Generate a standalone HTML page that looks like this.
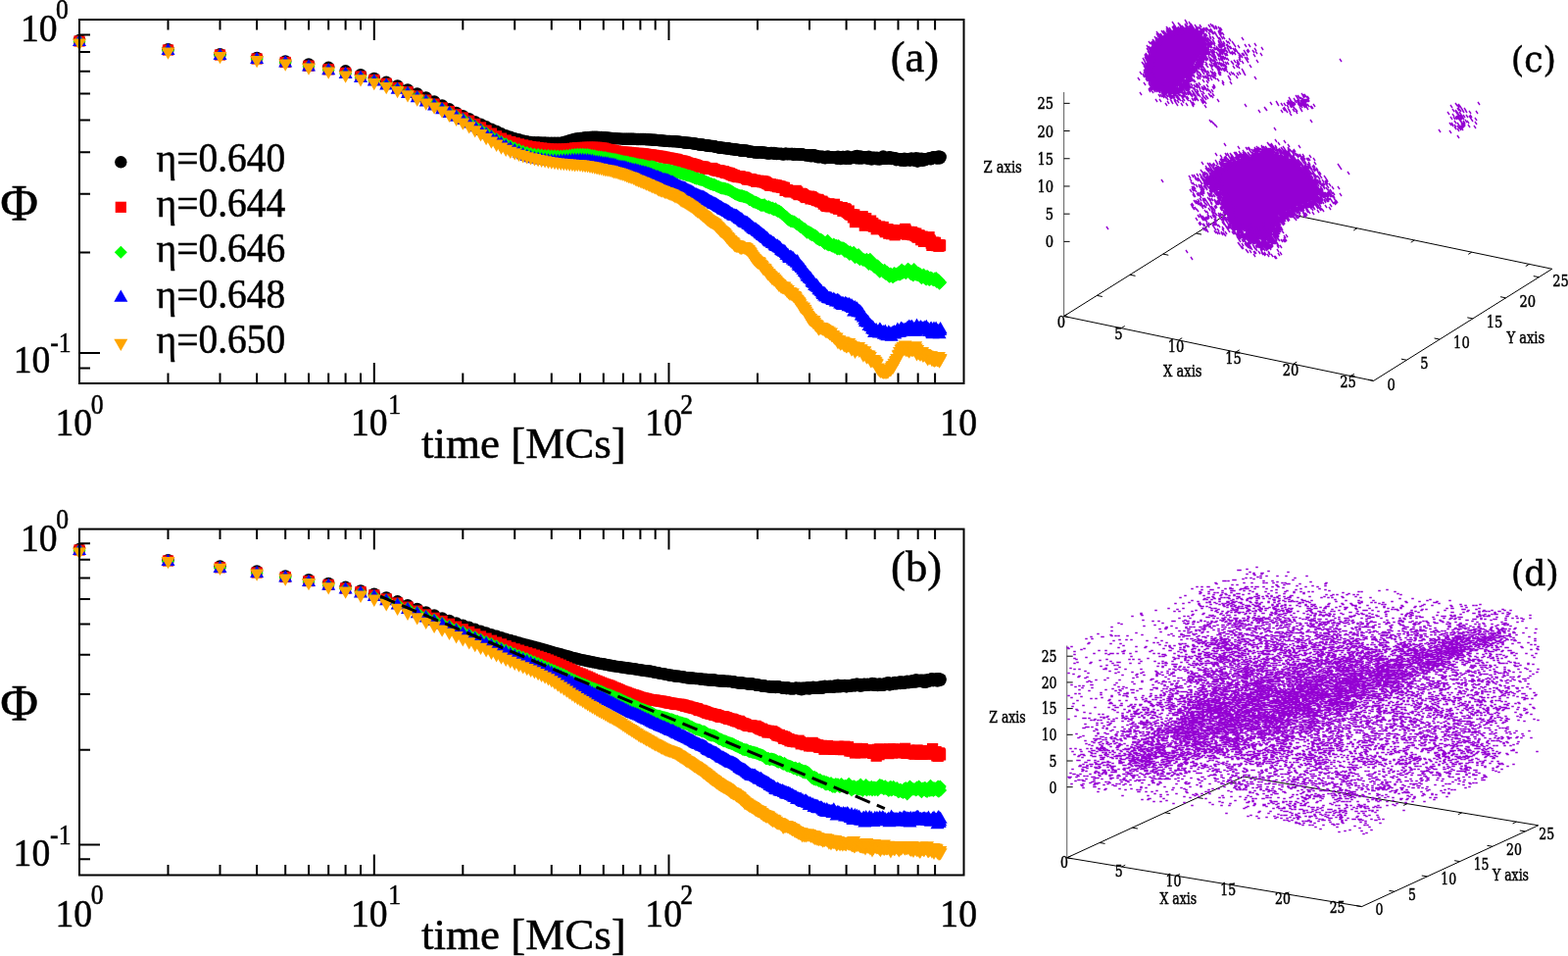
<!DOCTYPE html><html><head><meta charset="utf-8"><style>html,body{margin:0;padding:0;background:#fff;overflow:hidden}svg{display:block}text{stroke:#000;stroke-width:0.5px}</style></head><body>
<svg width="1600" height="975" viewBox="0 0 1600 975">
<rect width="1600" height="975" fill="#fff"/>
<defs><marker id="m0" markerUnits="userSpaceOnUse" markerWidth="16" markerHeight="16" refX="8" refY="8" overflow="visible"><circle cx="8" cy="8" r="6.2" fill="#000"/></marker><marker id="m1" markerUnits="userSpaceOnUse" markerWidth="16" markerHeight="16" refX="8" refY="8" overflow="visible"><rect x="2.4" y="2.4" width="11.2" height="11.2" fill="#ff0000"/></marker><marker id="m2" markerUnits="userSpaceOnUse" markerWidth="16" markerHeight="16" refX="8" refY="8" overflow="visible"><path d="M8 1.5l6.5 6.5l-6.5 6.5l-6.5-6.5z" fill="#00ff00"/></marker><marker id="m3" markerUnits="userSpaceOnUse" markerWidth="16" markerHeight="16" refX="8" refY="8" overflow="visible"><path d="M8 -0.2l7 12.3h-14z" fill="#0000ff"/></marker><marker id="m4" markerUnits="userSpaceOnUse" markerWidth="16" markerHeight="16" refX="8" refY="8" overflow="visible"><path d="M8 16.2l7-12.3h-14z" fill="#ffa500"/></marker></defs>
<polyline points="81,41 171.5,50.2 224.5,55.2 262.1,59 291.2,62.4 315,65.5 335.2,68.8 352.6,72.3 368,76.1 381.8,80 394.2,83.8 405.6,87.5 416,91.5 425.7,95.5 434.7,99.5 443.1,103.5 451.1,107.5 458.5,111.3 465.6,114.9 472.3,118.2 478.7,121.2 484.7,124.1 490.5,126.7 496.1,129.3 501.4,131.6 506.6,134 511.5,136.3 516.2,138.2 520.8,139.7 525.2,141.1 529.5,142.3 533.7,143.4 537.7,144.3 541.6,144.9 545.4,145.1 549.1,145.3 552.6,145.4 556.1,145.5 559.5,145.6 562.8,145.7 566,145.8 569.2,145.8 572.3,145.6 575.3,145 578.2,144.2 581.1,143.2 583.9,142.4 586.6,141.7 589.3,141.3 592,140.9 594.6,140.6 597.1,140.3 599.6,140.1 602,139.9 604.4,139.8 606.8,139.7 609.1,139.8 611.4,139.9 613.6,140 615.8,140.2 617.9,140.2 620.1,140.5 622.2,140.8 624.2,140.9 626.2,141.2 628.2,141.3 630.2,141.4 632.1,141.4 634,141.6 635.9,141.7 637.8,141.8 639.6,141.8 641.4,141.8 643.2,141.7 644.9,141.7 646.7,141.8 648.4,141.9 650,142 651.7,142 653.4,142 655,142 656.6,142 658.2,142 659.7,142.3 661.3,142.3 662.8,142.4 664.3,142.5 665.8,142.7 667.3,142.7 668.7,142.8 670.2,142.9 671.6,143.1 673,143.2 674.4,143.3 675.8,143.4 677.2,143.6 678.5,143.7 679.9,143.9 681.2,143.9 682.5,144 683.8,144 685.1,144.1 686.4,144.2 687.6,144.1 688.9,144.3 690.1,144.4 691.3,144.4 692.6,144.6 693.8,144.7 694.9,144.9 696.1,145.1 697.3,145.2 698.5,145.5 699.6,145.5 700.8,145.6 701.9,145.7 703,145.8 704.1,145.9 705.2,146 706.3,146.2 707.4,146.2 708.5,146.5 709.5,146.7 710.6,146.7 711.6,147 712.7,147.3 713.7,147.5 714.7,147.5 715.8,147.5 716.8,147.7 717.8,147.8 718.5,148 719.2,148.1 719.9,148.2 720.6,148.3 721.3,148.4 722,148.5 722.7,148.7 723.4,148.7 724.1,148.8 724.8,149 725.5,148.9 726.2,148.9 726.9,149.1 727.6,149 728.3,149.3 729,149.4 729.7,149.4 730.4,149.7 731.1,149.9 731.8,150.1 732.5,150.3 733.2,150.2 733.9,150.5 734.6,150.5 735.3,150.6 736,150.7 736.7,150.8 737.4,150.9 738.1,151 738.8,151 739.5,151 740.2,151.2 740.9,151.2 741.6,151.2 742.3,151.3 743,151.5 743.7,151.6 744.4,151.6 745.1,151.7 745.8,152.2 746.5,152.1 747.2,152 747.9,152.2 748.6,152.2 749.3,152.3 750,152.6 750.7,152.5 751.4,152.7 752.1,152.9 752.8,152.9 753.5,152.8 754.2,153.1 754.9,153.4 755.6,153.5 756.3,153.5 757,153.4 757.7,153.5 758.4,153.5 759.1,153.4 759.8,153.7 760.5,153.8 761.2,153.9 761.9,153.8 762.6,153.8 763.3,154.1 764,154.4 764.7,154.8 765.4,154.6 766.1,154.9 766.8,154.8 767.5,154.9 768.2,155 768.9,155.2 769.6,155.3 770.3,155.1 771,155.3 771.7,155.6 772.4,155.4 773.1,155.5 773.8,155.3 774.5,155.4 775.2,155.4 775.9,155.2 776.6,155.4 777.3,155.4 778,155.4 778.7,155.9 779.4,155.8 780.1,155.8 780.8,155.7 781.5,156.3 782.2,155.9 782.9,156.2 783.6,156.3 784.3,156.6 785,156.2 785.7,156.3 786.4,156 787.1,156.1 787.8,156 788.5,156.2 789.2,156.3 789.9,156 790.6,156.9 791.3,156.7 792,156.8 792.7,157 793.4,156.8 794.1,156.9 794.8,156.9 795.5,156.9 796.2,157.1 796.9,156.7 797.6,157 798.3,157.4 799,157.3 799.7,157.2 800.4,157.3 801.1,156.8 801.8,157 802.5,156.7 803.2,157.1 803.9,157.4 804.6,156.9 805.3,157.1 806,157 806.7,157.1 807.4,156.9 808.1,157 808.8,157 809.5,157.8 810.2,157.4 810.9,157 811.6,157.2 812.3,157.3 813,157.2 813.7,157.5 814.4,157.3 815.1,157.1 815.8,157.4 816.5,157.6 817.2,157.8 817.9,157.3 818.6,157.8 819.3,157.8 820,157.6 820.7,158 821.4,158.1 822.1,158.4 822.8,158.4 823.5,158.3 824.2,158.1 824.9,158.3 825.6,158.7 826.3,159 827,158.5 827.7,159.3 828.4,159 829.1,158.3 829.8,158.2 830.5,158.3 831.2,159.3 831.9,159.3 832.6,158.8 833.3,159.2 834,160.1 834.7,160.3 835.4,159.4 836.1,160.2 836.8,159.9 837.5,160 838.2,159.7 838.9,160.2 839.6,159.8 840.3,160.6 841,160.4 841.7,161.4 842.4,161 843.1,160.5 843.8,160.5 844.5,159.4 845.2,160.6 845.9,159.9 846.6,160.8 847.3,160.7 848,160.7 848.7,160.9 849.4,160.2 850.1,160.9 850.8,160.9 851.5,160.5 852.2,160.8 852.9,161.1 853.6,161 854.3,161.9 855,159.8 855.7,160.9 856.4,160.4 857.1,160.9 857.8,162.1 858.5,160.3 859.2,160.6 859.9,160 860.6,160 861.3,161.3 862,160.5 862.7,161.4 863.4,161.8 864.1,160.7 864.8,159.5 865.5,161.5 866.2,161.2 866.9,160.7 867.6,161.7 868.3,161.2 869,160.7 869.7,160.7 870.4,160.8 871.1,160.7 871.8,160.4 872.5,159.5 873.2,161.1 873.9,161.3 874.6,159 875.3,160.3 876,161 876.7,161.5 877.4,159.9 878.1,159.7 878.8,159.8 879.5,161.5 880.2,160.9 880.9,160.4 881.6,160.5 882.3,160.1 883,160.4 883.7,160.6 884.4,160.1 885.1,161.9 885.8,160.7 886.5,159.6 887.2,161.1 887.9,161.6 888.6,161.6 889.3,162.5 890,161.3 890.7,160.8 891.4,161.6 892.1,160.6 892.8,161.8 893.5,162.1 894.2,162.1 894.9,160.7 895.6,162.3 896.3,161.7 897,161.1 897.7,162.5 898.4,161.1 899.1,161.9 899.8,161.1 900.5,161.7 901.2,159.5 901.9,161.9 902.6,160.9 903.3,161.9 904,161.5 904.7,161.4 905.4,161.6 906.1,161.5 906.8,160.8 907.5,160.3 908.2,161.2 908.9,160.4 909.6,162 910.3,161.8 911,161.8 911.7,160.9 912.4,161.8 913.1,161.8 913.8,161.2 914.5,163.2 915.2,162.2 915.9,162.1 916.6,162.1 917.3,162.6 918,162.5 918.7,163.4 919.4,163.5 920.1,162.3 920.8,162.6 921.5,163 922.2,163.9 922.9,161.6 923.6,163.5 924.3,163.5 925,162.3 925.7,162.5 926.4,162.2 927.1,163.1 927.8,162.6 928.5,163.7 929.2,163 929.9,161.5 930.6,161.9 931.3,162.9 932,163.3 932.7,163.2 933.4,163.6 934.1,163.6 934.8,161.2 935.5,162.3 936.2,164.7 936.9,163.8 937.6,161.8 938.3,163.5 939,162.3 939.7,163.5 940.4,161.8 941.1,163.1 941.8,163.8 942.5,162.6 943.2,162.9 943.9,163 944.6,162.2 945.3,162.4 946,162 946.7,162 947.4,161.8 948.1,161.9 948.8,161.2 949.5,162.4 950.2,162 950.9,161 951.6,160.7 952.3,160.3 953,160.8 953.7,160.9 954.4,160.5 955.1,161.2 955.8,161.4 956.5,161.4 957.2,160.7 957.9,159.5 958.6,161.6 959.3,160.9 959.6,159.9" fill="none" stroke="none" marker-start="url(#m0)" marker-mid="url(#m0)" marker-end="url(#m0)"/>
<polyline points="81,42 171.5,51 224.5,56 262.1,60 291.2,63.5 315,67.2 335.2,70.8 352.6,74.4 368,78 381.8,81.5 394.2,85.3 405.6,89.5 416,93.7 425.7,98 434.7,102.1 443.1,106.1 451.1,109.9 458.5,113.5 465.6,116.8 472.3,120 478.7,123.2 484.7,126.5 490.5,129.9 496.1,133.1 501.4,136.1 506.6,138.8 511.5,141.1 516.2,143 520.8,144.5 525.2,145.8 529.5,146.9 533.7,147.9 537.7,148.8 541.6,149.5 545.4,150 549.1,150.5 552.6,151 556.1,151.4 559.5,151.8 562.8,152.1 566,152.1 569.2,152.2 572.3,152.3 575.3,152.1 578.2,151.9 581.1,151.7 583.9,151.4 586.6,151 589.3,150.7 592,150.6 594.6,150.4 597.1,150.4 599.6,150.3 602,150.3 604.4,150.3 606.8,150.3 609.1,150.3 611.4,150.7 613.6,150.9 615.8,151.1 617.9,151.8 620.1,152.4 622.2,152.8 624.2,153.1 626.2,153.5 628.2,154 630.2,154.4 632.1,154.8 634,154.9 635.9,155.1 637.8,155.3 639.6,155.3 641.4,155.4 643.2,155.7 644.9,156 646.7,156.1 648.4,156.5 650,156.4 651.7,156.4 653.4,156.5 655,156.7 656.6,156.9 658.2,157.2 659.7,157.4 661.3,157.9 662.8,157.9 664.3,158 665.8,158.3 667.3,158.4 668.7,158.9 670.2,159 671.6,159.2 673,159.3 674.4,159.5 675.8,159.8 677.2,160.2 678.5,160.3 679.9,160.8 681.2,161.1 682.5,161.2 683.8,161.3 685.1,161.7 686.4,162 687.6,162.3 688.9,162.3 690.1,162.5 691.3,163 692.6,163.5 693.8,164 694.9,164.1 696.1,164.1 697.3,164.5 698.5,164.9 699.6,165.1 700.8,165.9 701.9,166.1 703,166.6 704.1,166.6 705.2,167.1 706.3,167.2 707.4,167.7 708.5,168.2 709.5,168.1 710.6,168.7 711.6,169.1 712.7,169.5 713.7,169.8 714.7,170 715.8,170.2 716.8,170.2 717.8,170.1 718.5,170.5 719.2,171.2 719.9,171.3 720.6,171.8 721.3,172 722,172.1 722.7,172.2 723.4,172.3 724.1,171.9 724.8,171.8 725.5,171.9 726.2,171.5 726.9,172 727.6,172.3 728.3,172.6 729,172.9 729.7,173.2 730.4,173.6 731.1,173.7 731.8,173.6 732.5,173.9 733.2,174.1 733.9,174.1 734.6,174.3 735.3,174.3 736,175 736.7,174.8 737.4,174.7 738.1,174.7 738.8,175 739.5,175.6 740.2,176.2 740.9,175.9 741.6,176.6 742.3,176.4 743,176.3 743.7,176.8 744.4,176.7 745.1,177.2 745.8,177.9 746.5,177.9 747.2,178.1 747.9,178.8 748.6,179 749.3,178.8 750,179.4 750.7,179.7 751.4,179.7 752.1,179.8 752.8,180.3 753.5,180.6 754.2,179.9 754.9,179.9 755.6,180.2 756.3,180.6 757,180.6 757.7,180.5 758.4,180.6 759.1,180.8 759.8,181.4 760.5,181.2 761.2,181.8 761.9,182.4 762.6,183 763.3,182.6 764,182.7 764.7,182.7 765.4,182.5 766.1,182.9 766.8,183.4 767.5,183.2 768.2,183.6 768.9,183.8 769.6,183.7 770.3,184 771,184.3 771.7,185.2 772.4,185.4 773.1,184.8 773.8,184.3 774.5,184.6 775.2,184.8 775.9,184.7 776.6,184.5 777.3,184.9 778,185.8 778.7,184.9 779.4,185.6 780.1,185.2 780.8,186.3 781.5,186 782.2,186.9 782.9,187.1 783.6,187.6 784.3,187.8 785,188 785.7,189.2 786.4,187.8 787.1,188.7 787.8,188.6 788.5,188.2 789.2,188.7 789.9,189.1 790.6,188.7 791.3,189.8 792,189.1 792.7,189.1 793.4,190.5 794.1,190.6 794.8,189.8 795.5,190.5 796.2,190 796.9,190.7 797.6,191 798.3,191.3 799,191.4 799.7,191.4 800.4,191.4 801.1,194.4 801.8,193.9 802.5,193.8 803.2,193.6 803.9,194.3 804.6,195.1 805.3,194.8 806,195.8 806.7,195.5 807.4,195.3 808.1,195 808.8,195.2 809.5,195.3 810.2,195.5 810.9,195.2 811.6,195.7 812.3,194.4 813,197.1 813.7,195.8 814.4,197.7 815.1,198.6 815.8,197.7 816.5,198.4 817.2,197.3 817.9,197.6 818.6,197.9 819.3,198.6 820,199.3 820.7,199.4 821.4,200.7 822.1,200.1 822.8,201.5 823.5,201.2 824.2,200.6 824.9,201 825.6,200.2 826.3,200.5 827,202.9 827.7,200.6 828.4,201.3 829.1,202.3 829.8,202 830.5,203.4 831.2,203.4 831.9,203.2 832.6,203.6 833.3,204.3 834,204.6 834.7,203.4 835.4,204.1 836.1,205.1 836.8,205.5 837.5,205.9 838.2,205.4 838.9,205.3 839.6,206.3 840.3,208.1 841,207.1 841.7,207.7 842.4,209.7 843.1,208.6 843.8,210.5 844.5,208.9 845.2,209.2 845.9,207.8 846.6,210.6 847.3,208.5 848,210.7 848.7,209.3 849.4,210 850.1,209.8 850.8,209.5 851.5,208.3 852.2,211.2 852.9,212.1 853.6,211.3 854.3,210.8 855,212.1 855.7,213.3 856.4,211.7 857.1,212.2 857.8,212.5 858.5,213 859.2,211.6 859.9,215.3 860.6,213.8 861.3,213.6 862,212.8 862.7,213.1 863.4,213.7 864.1,216.2 864.8,216.2 865.5,217.3 866.2,215 866.9,218.6 867.6,218.6 868.3,219.1 869,218.8 869.7,219.1 870.4,221.9 871.1,219.7 871.8,218.9 872.5,226.6 873.2,221.5 873.9,223.8 874.6,224 875.3,222.8 876,223.5 876.7,224.8 877.4,223.6 878.1,223.8 878.8,223.3 879.5,222.3 880.2,220.7 880.9,225.8 881.6,225.8 882.3,230.2 883,228 883.7,222.6 884.4,226.9 885.1,227 885.8,227.7 886.5,229.3 887.2,229.4 887.9,229.4 888.6,225.1 889.3,228.9 890,230.1 890.7,227.5 891.4,231.2 892.1,229.2 892.8,230 893.5,229.7 894.2,233.8 894.9,233.3 895.6,232.8 896.3,233.1 897,233.4 897.7,231 898.4,233.4 899.1,232.7 899.8,232.9 900.5,232.3 901.2,231.5 901.9,234.2 902.6,235.2 903.3,236.7 904,235.7 904.7,236 905.4,233.8 906.1,233.9 906.8,238.2 907.5,236 908.2,235 908.9,235.4 909.6,238.7 910.3,234.5 911,235.4 911.7,236.9 912.4,236 913.1,239.8 913.8,236.8 914.5,238.6 915.2,236.1 915.9,236 916.6,237.1 917.3,235.7 918,237.8 918.7,237.3 919.4,236.8 920.1,234.7 920.8,235.6 921.5,237 922.2,238.3 922.9,235.8 923.6,233.4 924.3,235.1 925,238 925.7,239.2 926.4,237.5 927.1,236.4 927.8,238.2 928.5,238.1 929.2,237.4 929.9,239.2 930.6,236.5 931.3,239.7 932,238.5 932.7,237.9 933.4,239.6 934.1,240.6 934.8,238.1 935.5,241.2 936.2,242.1 936.9,241.8 937.6,239.9 938.3,240.2 939,241.8 939.7,244.7 940.4,242.3 941.1,241.1 941.8,243.9 942.5,246.4 943.2,242.5 943.9,243.6 944.6,243.5 945.3,243.6 946,242.7 946.7,244.4 947.4,243.8 948.1,241.7 948.8,244.6 949.5,245.8 950.2,248.2 950.9,250.4 951.6,248.7 952.3,247.2 953,248.4 953.7,247.4 954.4,247.4 955.1,250.3 955.8,250.6 956.5,249.7 957.2,250.2 957.9,251.3 958.6,249.7 959.3,250.6 959.6,250.1" fill="none" stroke="none" marker-start="url(#m1)" marker-mid="url(#m1)" marker-end="url(#m1)"/>
<polyline points="81,42.5 171.5,51.5 224.5,56.5 262.1,60.5 291.2,64 315,67.8 335.2,71.5 352.6,75.2 368,78.9 381.8,82.5 394.2,86.4 405.6,90.5 416,94.7 425.7,99 434.7,103.1 443.1,107.1 451.1,111 458.5,114.7 465.6,118.2 472.3,121.5 478.7,124.9 484.7,128.4 490.5,132 496.1,135.4 501.4,138.7 506.6,141.7 511.5,144.4 516.2,146.8 520.8,148.8 525.2,150.8 529.5,152.6 533.7,154.2 537.7,155.6 541.6,156.6 545.4,157.2 549.1,157.6 552.6,158 556.1,158.4 559.5,158.6 562.8,158.8 566,158.8 569.2,159.1 572.3,159.1 575.3,158.8 578.2,158.5 581.1,158.2 583.9,157.8 586.6,157.6 589.3,157.3 592,157.2 594.6,157.2 597.1,157.4 599.6,157.6 602,158 604.4,158.6 606.8,158.8 609.1,159.4 611.4,159.7 613.6,160 615.8,160.4 617.9,160.6 620.1,161.2 622.2,161.4 624.2,161.9 626.2,162.2 628.2,162.5 630.2,162.9 632.1,163.6 634,163.9 635.9,164.4 637.8,164.8 639.6,165.1 641.4,165.4 643.2,166.1 644.9,166.3 646.7,166.4 648.4,167.1 650,167.5 651.7,167.8 653.4,168 655,168.3 656.6,168.6 658.2,169.1 659.7,169.3 661.3,169.7 662.8,169.9 664.3,169.8 665.8,169.8 667.3,170.2 668.7,170.7 670.2,171.4 671.6,171.9 673,172.2 674.4,172.3 675.8,172.7 677.2,173.1 678.5,173.3 679.9,173.2 681.2,173.4 682.5,173.4 683.8,173.8 685.1,174.4 686.4,174.6 687.6,174.9 688.9,175.1 690.1,175.6 691.3,175.9 692.6,176.1 693.8,176.4 694.9,177 696.1,177.3 697.3,177.7 698.5,177.7 699.6,178.3 700.8,178.8 701.9,178.9 703,179.3 704.1,179.5 705.2,180.1 706.3,180.4 707.4,180.6 708.5,181.5 709.5,181.8 710.6,182.2 711.6,182.1 712.7,182.4 713.7,182.9 714.7,183.2 715.8,183.5 716.8,183.6 717.8,184 718.5,184.6 719.2,184.9 719.9,185.3 720.6,185.5 721.3,185.9 722,186.1 722.7,186.4 723.4,186.6 724.1,187.3 724.8,187.5 725.5,187.5 726.2,187.8 726.9,188 727.6,188.4 728.3,188.3 729,188.5 729.7,188.8 730.4,189.2 731.1,189.7 731.8,190 732.5,190.3 733.2,190.3 733.9,190.7 734.6,191.3 735.3,191.5 736,191.7 736.7,191.9 737.4,192 738.1,192 738.8,192.2 739.5,192.3 740.2,192.4 740.9,193 741.6,193.1 742.3,192.9 743,193.5 743.7,193.8 744.4,194.1 745.1,194.6 745.8,194.9 746.5,195 747.2,196.1 747.9,196.1 748.6,196.5 749.3,197.2 750,197.4 750.7,198 751.4,198 752.1,198.4 752.8,198.7 753.5,198.9 754.2,199.4 754.9,199.5 755.6,199.7 756.3,200.1 757,199.6 757.7,199.9 758.4,200.5 759.1,200.3 759.8,200.8 760.5,201 761.2,201 761.9,201.2 762.6,201.7 763.3,202.1 764,202.6 764.7,203.7 765.4,203.4 766.1,203.7 766.8,203.9 767.5,204.9 768.2,204.8 768.9,206 769.6,206 770.3,206 771,206.5 771.7,206.3 772.4,207.1 773.1,207.6 773.8,207.5 774.5,208 775.2,208.3 775.9,209.1 776.6,209.4 777.3,208.9 778,209.4 778.7,209.3 779.4,208.9 780.1,208.7 780.8,210.2 781.5,210.2 782.2,211.1 782.9,211.1 783.6,211.2 784.3,210.5 785,212.2 785.7,211.7 786.4,211.8 787.1,212.3 787.8,212.8 788.5,212.1 789.2,213.8 789.9,213.4 790.6,213.5 791.3,212.8 792,214.3 792.7,214.6 793.4,215.5 794.1,215 794.8,215 795.5,215.5 796.2,216.8 796.9,216.3 797.6,217.6 798.3,218.6 799,218.8 799.7,219.3 800.4,220.2 801.1,220.6 801.8,221.5 802.5,221.1 803.2,223.1 803.9,223.4 804.6,224.3 805.3,224.1 806,224.5 806.7,225.4 807.4,225.4 808.1,225.6 808.8,226.1 809.5,226 810.2,226 810.9,226.5 811.6,227.3 812.3,227.8 813,228.5 813.7,228.8 814.4,229.3 815.1,228.7 815.8,230.3 816.5,231.2 817.2,231.5 817.9,231.4 818.6,231.9 819.3,233.2 820,233.4 820.7,233.9 821.4,233.4 822.1,235.1 822.8,235.5 823.5,237.2 824.2,236.8 824.9,236.5 825.6,236.6 826.3,237.6 827,238.9 827.7,237.6 828.4,239.7 829.1,239.7 829.8,238.9 830.5,240.2 831.2,240.5 831.9,239.9 832.6,240.9 833.3,243.2 834,241.7 834.7,243.4 835.4,243.9 836.1,244.8 836.8,244.7 837.5,243.9 838.2,245 838.9,244.9 839.6,245.4 840.3,246.6 841,247.8 841.7,248.5 842.4,247.5 843.1,247.2 843.8,249 844.5,245.3 845.2,250.1 845.9,247.4 846.6,249.7 847.3,249.1 848,250.3 848.7,250.8 849.4,251.2 850.1,250.6 850.8,249.1 851.5,252.3 852.2,251.4 852.9,250.7 853.6,250.3 854.3,254 855,253.2 855.7,250.6 856.4,254.1 857.1,252.2 857.8,253.5 858.5,252.8 859.2,253.3 859.9,252.7 860.6,253.1 861.3,253.4 862,256.6 862.7,253.9 863.4,256.2 864.1,256.5 864.8,256.1 865.5,256.6 866.2,257.9 866.9,259.4 867.6,256.8 868.3,258.6 869,258.3 869.7,259.2 870.4,258.9 871.1,257.3 871.8,261.1 872.5,262.8 873.2,259.7 873.9,261 874.6,261.1 875.3,262.8 876,259.6 876.7,263.3 877.4,264.7 878.1,262.9 878.8,263.4 879.5,264.2 880.2,264.5 880.9,265.6 881.6,264.8 882.3,265.1 883,266.1 883.7,265.8 884.4,264.3 885.1,266.2 885.8,266.6 886.5,269.6 887.2,265.1 887.9,264.2 888.6,269.5 889.3,267.7 890,269 890.7,269.4 891.4,271.2 892.1,272.6 892.8,271 893.5,271.4 894.2,272.4 894.9,270.5 895.6,272 896.3,271.7 897,273.3 897.7,277.2 898.4,276.1 899.1,275.6 899.8,275.3 900.5,275.6 901.2,277.4 901.9,277.8 902.6,275.3 903.3,279.1 904,279.5 904.7,279 905.4,277.5 906.1,279.1 906.8,280.3 907.5,282.3 908.2,281.7 908.9,279.1 909.6,280.4 910.3,281.1 911,282.7 911.7,282.2 912.4,278.6 913.1,281.3 913.8,279.1 914.5,280.5 915.2,280.1 915.9,279.9 916.6,278 917.3,280.1 918,277.4 918.7,280.1 919.4,278.3 920.1,274.9 920.8,278.2 921.5,278.2 922.2,276.7 922.9,277.5 923.6,277.6 924.3,278.8 925,276.8 925.7,276.5 926.4,274.3 927.1,274.8 927.8,276.3 928.5,275.9 929.2,279.5 929.9,279.6 930.6,277.6 931.3,280.4 932,280.9 932.7,274.5 933.4,278.4 934.1,279 934.8,280.3 935.5,279.4 936.2,280.7 936.9,279.7 937.6,278.4 938.3,280.6 939,279.5 939.7,282.4 940.4,283.7 941.1,281.3 941.8,281.1 942.5,280.1 943.2,283.2 943.9,283.6 944.6,284.7 945.3,285.1 946,281.6 946.7,282.1 947.4,283.1 948.1,285.5 948.8,285.2 949.5,282.9 950.2,283.4 950.9,283.4 951.6,284.9 952.3,285.7 953,285.4 953.7,283.9 954.4,285.3 955.1,283.6 955.8,287.4 956.5,286.5 957.2,286.1 957.9,285.7 958.6,289.2 959.3,288.1 959.6,288" fill="none" stroke="none" marker-start="url(#m2)" marker-mid="url(#m2)" marker-end="url(#m2)"/>
<polyline points="81,43 171.5,52 224.5,57 262.1,61 291.2,64.5 315,68.4 335.2,72.2 352.6,76 368,79.8 381.8,83.5 394.2,87.4 405.6,91.6 416,95.8 425.7,100.1 434.7,104.3 443.1,108.3 451.1,112.2 458.5,116 465.6,119.6 472.3,123 478.7,126.5 484.7,130.1 490.5,133.8 496.1,137.4 501.4,140.8 506.6,144 511.5,146.9 516.2,149.6 520.8,151.9 525.2,154.1 529.5,156.3 533.7,158.2 537.7,159.9 541.6,161.2 545.4,162.1 549.1,162.7 552.6,163.4 556.1,163.9 559.5,164.4 562.8,164.7 566,164.8 569.2,164.9 572.3,164.7 575.3,164.5 578.2,164.5 581.1,164.2 583.9,164 586.6,164 589.3,163.9 592,163.8 594.6,163.9 597.1,164.2 599.6,164.3 602,164.7 604.4,165 606.8,165.6 609.1,165.9 611.4,166.3 613.6,166.8 615.8,167.1 617.9,167.3 620.1,167.5 622.2,168.2 624.2,168.4 626.2,168.7 628.2,169.2 630.2,170.1 632.1,170.7 634,170.9 635.9,171.2 637.8,171.5 639.6,172.2 641.4,172.6 643.2,173.1 644.9,173.7 646.7,174.1 648.4,174.3 650,174.8 651.7,175.1 653.4,175.7 655,176.2 656.6,176.5 658.2,176.9 659.7,177.2 661.3,177.9 662.8,178.3 664.3,178.9 665.8,179.5 667.3,180.1 668.7,180.6 670.2,181.2 671.6,181.4 673,182.1 674.4,182.7 675.8,183.5 677.2,183.9 678.5,184.3 679.9,184.3 681.2,184.8 682.5,185.5 683.8,186 685.1,186.4 686.4,186.8 687.6,187.6 688.9,188.1 690.1,189.3 691.3,189.6 692.6,190.4 693.8,191 694.9,191.5 696.1,191.9 697.3,192.4 698.5,192.7 699.6,193.3 700.8,194.1 701.9,194.7 703,195.2 704.1,195.7 705.2,196.2 706.3,197 707.4,197.5 708.5,198.5 709.5,199.3 710.6,199.3 711.6,200 712.7,200.3 713.7,200.8 714.7,201.1 715.8,201.4 716.8,201.6 717.8,202 718.5,202.4 719.2,203.2 719.9,203.4 720.6,203.7 721.3,204.2 722,204.8 722.7,205.2 723.4,205.6 724.1,206.3 724.8,206.6 725.5,206.8 726.2,207.2 726.9,207.5 727.6,208.3 728.3,208.4 729,208.4 729.7,208.9 730.4,209.1 731.1,209.7 731.8,209.9 732.5,210.6 733.2,210.9 733.9,211.7 734.6,211.9 735.3,212.1 736,212.6 736.7,212.9 737.4,213.9 738.1,214.3 738.8,214.4 739.5,214.9 740.2,215.1 740.9,215.3 741.6,215.8 742.3,216.3 743,216.8 743.7,216.8 744.4,218 745.1,218.1 745.8,218.8 746.5,219.1 747.2,219.2 747.9,220.1 748.6,220.4 749.3,220.5 750,221 750.7,220.9 751.4,221 752.1,221.4 752.8,222.2 753.5,222.4 754.2,223.1 754.9,223.8 755.6,224.1 756.3,224.4 757,224.7 757.7,225.6 758.4,226.5 759.1,227.2 759.8,227.4 760.5,227.5 761.2,228.2 761.9,227.9 762.6,228.3 763.3,229.5 764,229.7 764.7,229.9 765.4,230.6 766.1,231.5 766.8,232.1 767.5,232.5 768.2,233.3 768.9,233.9 769.6,234.4 770.3,234.8 771,234.4 771.7,235.1 772.4,235.9 773.1,236.6 773.8,236.7 774.5,237.3 775.2,238.1 775.9,239.1 776.6,239 777.3,240 778,241 778.7,240.4 779.4,241.4 780.1,241.8 780.8,242.9 781.5,243.1 782.2,243.7 782.9,244 783.6,245 784.3,245.9 785,246.6 785.7,247.2 786.4,247.1 787.1,247.4 787.8,248.7 788.5,248.7 789.2,249 789.9,249.3 790.6,250.7 791.3,251.3 792,251.4 792.7,252 793.4,251.4 794.1,252.6 794.8,253.2 795.5,253.2 796.2,254 796.9,255.3 797.6,255.9 798.3,256.7 799,256.4 799.7,257.5 800.4,257.3 801.1,257.8 801.8,259 802.5,260.6 803.2,260.6 803.9,260.8 804.6,262.5 805.3,263.8 806,263 806.7,262.7 807.4,263.2 808.1,263.6 808.8,265.3 809.5,264.3 810.2,266.4 810.9,266.9 811.6,266.8 812.3,267.7 813,268.7 813.7,267.3 814.4,270.4 815.1,271.9 815.8,271.9 816.5,272 817.2,273 817.9,273.8 818.6,274.2 819.3,275.7 820,275.8 820.7,277.7 821.4,278 822.1,278.9 822.8,280.4 823.5,282.5 824.2,281.8 824.9,282.8 825.6,284.2 826.3,284.3 827,284.7 827.7,285.7 828.4,287.6 829.1,288.8 829.8,288.3 830.5,289.6 831.2,292 831.9,291.2 832.6,292.6 833.3,291.8 834,293.3 834.7,293.7 835.4,295.7 836.1,296.5 836.8,296.2 837.5,297.4 838.2,297.9 838.9,299.5 839.6,301 840.3,299.7 841,302.5 841.7,300.3 842.4,303.3 843.1,302.7 843.8,302.8 844.5,304.4 845.2,304.9 845.9,305.2 846.6,304.9 847.3,305.1 848,305.1 848.7,305.7 849.4,306.9 850.1,307 850.8,305.6 851.5,306.8 852.2,307.1 852.9,308.4 853.6,307.6 854.3,306.9 855,306.9 855.7,308.5 856.4,308.1 857.1,310.3 857.8,309.3 858.5,311.1 859.2,310 859.9,311.9 860.6,310.2 861.3,311.8 862,311.1 862.7,309.9 863.4,310.6 864.1,311.4 864.8,311.2 865.5,313.1 866.2,311 866.9,311.7 867.6,312.8 868.3,313.9 869,312.3 869.7,315 870.4,313.7 871.1,318.4 871.8,314.6 872.5,314.2 873.2,316.9 873.9,315.8 874.6,315.5 875.3,319.1 876,318.3 876.7,318 877.4,318.4 878.1,319.3 878.8,322.4 879.5,320.5 880.2,322.6 880.9,324.3 881.6,323.9 882.3,326.8 883,328.8 883.7,327.1 884.4,328.2 885.1,329.3 885.8,329.3 886.5,332.9 887.2,332.9 887.9,332.1 888.6,333.6 889.3,333.8 890,336.1 890.7,334.5 891.4,336.8 892.1,339.9 892.8,337.2 893.5,338.1 894.2,337.3 894.9,339.4 895.6,339.4 896.3,339.6 897,340.4 897.7,336.6 898.4,337.1 899.1,339.1 899.8,339.7 900.5,340.2 901.2,339.2 901.9,341.7 902.6,340.3 903.3,338.6 904,342.5 904.7,342 905.4,343.1 906.1,341.1 906.8,339.5 907.5,340.7 908.2,342.6 908.9,340.9 909.6,343.6 910.3,340.4 911,340.4 911.7,340.3 912.4,339.1 913.1,341.3 913.8,340.1 914.5,339 915.2,339.3 915.9,336.7 916.6,339.9 917.3,339.9 918,338.4 918.7,339.3 919.4,335.6 920.1,337.7 920.8,336.3 921.5,338.4 922.2,338.3 922.9,337.3 923.6,336.9 924.3,337.7 925,336.5 925.7,335.5 926.4,335.2 927.1,334.6 927.8,333.6 928.5,336.5 929.2,334.2 929.9,336.8 930.6,333.9 931.3,337.3 932,335.9 932.7,338.3 933.4,336.4 934.1,336 934.8,338.7 935.5,332.8 936.2,335.3 936.9,335.2 937.6,335.7 938.3,335.2 939,337.5 939.7,334.2 940.4,335.9 941.1,335.8 941.8,336.3 942.5,337.3 943.2,334.7 943.9,336.6 944.6,335.4 945.3,333.9 946,336.2 946.7,337 947.4,336.5 948.1,338.8 948.8,338.4 949.5,336.1 950.2,335.7 950.9,340.2 951.6,341.2 952.3,336.6 953,335.8 953.7,340.6 954.4,337.8 955.1,335.6 955.8,337.5 956.5,338.6 957.2,339.1 957.9,338.2 958.6,341.2 959.3,337.7 959.6,336.1" fill="none" stroke="none" marker-start="url(#m3)" marker-mid="url(#m3)" marker-end="url(#m3)"/>
<polyline points="81,43.5 171.5,52.5 224.5,57 262.1,61 291.2,64.6 315,68.6 335.2,72.6 352.6,76.5 368,80.3 381.8,84 394.2,88 405.6,92.1 416,96.3 425.7,100.5 434.7,104.5 443.1,108.5 451.1,112.6 458.5,116.7 465.6,120.7 472.3,124.5 478.7,128.3 484.7,132.3 490.5,136.2 496.1,140 501.4,143.5 506.6,146.7 511.5,149.5 516.2,151.9 520.8,153.8 525.2,155.4 529.5,156.9 533.7,158.2 537.7,159.3 541.6,160.3 545.4,161.2 549.1,162 552.6,162.7 556.1,163.4 559.5,164.1 562.8,164.6 566,165 569.2,165.5 572.3,165.8 575.3,166.1 578.2,166.3 581.1,166.7 583.9,166.9 586.6,167.2 589.3,167.1 592,167.4 594.6,167.7 597.1,168 599.6,168.4 602,168.9 604.4,169.4 606.8,169.7 609.1,170.3 611.4,170.8 613.6,171.1 615.8,171.8 617.9,172.2 620.1,172.6 622.2,172.9 624.2,173.4 626.2,174.2 628.2,174.5 630.2,175.1 632.1,175.7 634,176.4 635.9,176.9 637.8,177.6 639.6,178.4 641.4,179.1 643.2,179.6 644.9,180.1 646.7,180.9 648.4,181.9 650,182.6 651.7,183.2 653.4,183.9 655,184.5 656.6,185 658.2,185.8 659.7,186.6 661.3,187.1 662.8,187.9 664.3,188.6 665.8,189.2 667.3,189.9 668.7,190.4 670.2,191.1 671.6,192 673,192.7 674.4,193.2 675.8,193.6 677.2,194 678.5,194.8 679.9,195.1 681.2,195.6 682.5,196 683.8,196.6 685.1,197.2 686.4,197.6 687.6,198.3 688.9,199.2 690.1,199.6 691.3,200 692.6,200.9 693.8,201.9 694.9,203 696.1,203.9 697.3,204.2 698.5,204.9 699.6,205.6 700.8,206.2 701.9,207.1 703,207.8 704.1,208.5 705.2,209.4 706.3,209.9 707.4,210.8 708.5,211.6 709.5,212.8 710.6,213.4 711.6,214.5 712.7,214.7 713.7,215.4 714.7,216.5 715.8,217.4 716.8,218.3 717.8,219.1 718.5,219.5 719.2,220 719.9,220.7 720.6,221.4 721.3,222.4 722,222.9 722.7,223.1 723.4,223.9 724.1,224.2 724.8,224.5 725.5,225.3 726.2,225.3 726.9,225.8 727.6,226.3 728.3,226.8 729,227 729.7,227.6 730.4,228.7 731.1,229.6 731.8,230.3 732.5,230.9 733.2,231.6 733.9,232.3 734.6,233.3 735.3,234.2 736,234.5 736.7,235 737.4,235.6 738.1,236.2 738.8,236.8 739.5,237.4 740.2,238.5 740.9,239.3 741.6,240.5 742.3,241.2 743,241.8 743.7,242.6 744.4,243.8 745.1,244.2 745.8,244.8 746.5,245.5 747.2,246.3 747.9,246.4 748.6,247.3 749.3,248.7 750,249.2 750.7,249.3 751.4,249.7 752.1,249.7 752.8,249.8 753.5,249.9 754.2,250.3 754.9,251.2 755.6,251.5 756.3,251.9 757,251.9 757.7,251.1 758.4,251 759.1,251.2 759.8,251.6 760.5,251.8 761.2,252.4 761.9,252.7 762.6,253.6 763.3,254.1 764,254.7 764.7,255.9 765.4,256.7 766.1,257.7 766.8,259.1 767.5,260.4 768.2,261.3 768.9,261.9 769.6,263 770.3,263.7 771,264.4 771.7,265 772.4,265.8 773.1,266.5 773.8,266.9 774.5,266.3 775.2,267.3 775.9,268.9 776.6,269.6 777.3,270.2 778,271.4 778.7,272.9 779.4,272.9 780.1,273.3 780.8,273.5 781.5,274.9 782.2,276.4 782.9,276.7 783.6,278.2 784.3,278.4 785,278.8 785.7,280.1 786.4,280.7 787.1,281.3 787.8,282.8 788.5,282.9 789.2,282.4 789.9,284.2 790.6,283.9 791.3,285.3 792,285.8 792.7,287 793.4,287.5 794.1,288.4 794.8,289.9 795.5,289 796.2,290.4 796.9,291.3 797.6,291.4 798.3,292.1 799,291.8 799.7,292.3 800.4,291.7 801.1,293.6 801.8,293.6 802.5,294.6 803.2,296 803.9,295 804.6,297.4 805.3,297.1 806,298.7 806.7,297.4 807.4,298.6 808.1,299.2 808.8,298.4 809.5,300.5 810.2,301.1 810.9,301.2 811.6,302 812.3,303.6 813,305.1 813.7,304.8 814.4,306.4 815.1,307.3 815.8,307.8 816.5,309.4 817.2,311.7 817.9,311.7 818.6,313.1 819.3,312.8 820,312.8 820.7,314.8 821.4,315.2 822.1,316.9 822.8,318.7 823.5,319.2 824.2,321 824.9,322.2 825.6,323 826.3,324.9 827,324.2 827.7,325.6 828.4,325.9 829.1,326.1 829.8,327.9 830.5,326.1 831.2,328.3 831.9,329.8 832.6,330.7 833.3,330.6 834,331.3 834.7,332.5 835.4,334.5 836.1,333.4 836.8,333.5 837.5,333.1 838.2,333.7 838.9,333.6 839.6,334.6 840.3,334.4 841,335 841.7,335.2 842.4,336.9 843.1,336.3 843.8,337.1 844.5,336.5 845.2,338 845.9,337.6 846.6,339.2 847.3,339.2 848,338.5 848.7,341 849.4,341 850.1,341.3 850.8,342.6 851.5,343.2 852.2,344.2 852.9,344.1 853.6,343.7 854.3,345.8 855,348.2 855.7,346.7 856.4,346.4 857.1,348.7 857.8,349.7 858.5,348.6 859.2,348.8 859.9,347.5 860.6,347.8 861.3,351.4 862,348.6 862.7,351.1 863.4,352.3 864.1,352.4 864.8,350.4 865.5,351.3 866.2,349.2 866.9,351.6 867.6,350.8 868.3,352.2 869,355.5 869.7,354.5 870.4,352.5 871.1,352.8 871.8,354.8 872.5,357.9 873.2,355 873.9,354.4 874.6,355.6 875.3,354.2 876,353 876.7,356.8 877.4,355.5 878.1,355.5 878.8,355.6 879.5,357.2 880.2,357.9 880.9,361.6 881.6,358.1 882.3,357.4 883,359.9 883.7,361 884.4,363.5 885.1,361.6 885.8,362.8 886.5,361.7 887.2,362.8 887.9,363 888.6,367.3 889.3,366 890,367.2 890.7,366.1 891.4,367.1 892.1,366.4 892.8,367.8 893.5,368.3 894.2,369.8 894.9,370.6 895.6,374.5 896.3,375.6 897,376 897.7,376.6 898.4,377.7 899.1,377.3 899.8,377.3 900.5,378.3 901.2,378.3 901.9,378.7 902.6,378.4 903.3,375.8 904,379 904.7,377.5 905.4,378.4 906.1,378.3 906.8,376.2 907.5,376.3 908.2,376.1 908.9,376.3 909.6,374.3 910.3,372.7 911,374 911.7,372.2 912.4,370 913.1,369.9 913.8,367.9 914.5,367 915.2,365.1 915.9,365.2 916.6,361.6 917.3,360.8 918,358 918.7,358.6 919.4,355.9 920.1,354.5 920.8,355.6 921.5,353.2 922.2,355 922.9,354.3 923.6,351.6 924.3,356.1 925,353.2 925.7,355.5 926.4,356.5 927.1,355.2 927.8,357.5 928.5,354.9 929.2,354.9 929.9,355.5 930.6,356.1 931.3,355.7 932,355.2 932.7,355.5 933.4,354.8 934.1,352.4 934.8,354.7 935.5,360.2 936.2,356 936.9,358.7 937.6,358.7 938.3,359.8 939,360.8 939.7,358.7 940.4,358.3 941.1,358.4 941.8,361.8 942.5,361.2 943.2,360 943.9,360.9 944.6,361.2 945.3,363.1 946,361.9 946.7,365.4 947.4,362.9 948.1,362.9 948.8,364.2 949.5,362.3 950.2,362.7 950.9,366.1 951.6,364.2 952.3,366.1 953,366.4 953.7,366.9 954.4,366.1 955.1,365.9 955.8,364.9 956.5,366.4 957.2,366.3 957.9,363 958.6,367.5 959.3,366.1 959.6,365.1" fill="none" stroke="none" marker-start="url(#m4)" marker-mid="url(#m4)" marker-end="url(#m4)"/>
<rect x="81.0" y="20.0" width="902.5" height="371.0" fill="none" stroke="#000" stroke-width="2"/>
<path d="M171.5 391.0v-10.5M171.5 20.0v10.5M224.5 391.0v-10.5M224.5 20.0v10.5M262.1 391.0v-10.5M262.1 20.0v10.5M291.2 391.0v-10.5M291.2 20.0v10.5M315.0 391.0v-10.5M315.0 20.0v10.5M335.2 391.0v-10.5M335.2 20.0v10.5M352.6 391.0v-10.5M352.6 20.0v10.5M368.0 391.0v-10.5M368.0 20.0v10.5M381.8 391.0v-21M381.8 20.0v21M472.3 391.0v-10.5M472.3 20.0v10.5M525.2 391.0v-10.5M525.2 20.0v10.5M562.8 391.0v-10.5M562.8 20.0v10.5M592.0 391.0v-10.5M592.0 20.0v10.5M615.8 391.0v-10.5M615.8 20.0v10.5M635.9 391.0v-10.5M635.9 20.0v10.5M653.4 391.0v-10.5M653.4 20.0v10.5M668.7 391.0v-10.5M668.7 20.0v10.5M682.5 391.0v-21M682.5 20.0v21M773.0 391.0v-10.5M773.0 20.0v10.5M826.0 391.0v-10.5M826.0 20.0v10.5M863.6 391.0v-10.5M863.6 20.0v10.5M892.7 391.0v-10.5M892.7 20.0v10.5M916.5 391.0v-10.5M916.5 20.0v10.5M936.7 391.0v-10.5M936.7 20.0v10.5M954.1 391.0v-10.5M954.1 20.0v10.5M81.0 35.6h11M81.0 52.9h11M81.0 72.7h11M81.0 95.4h11M81.0 122.4h11M81.0 155.3h11M81.0 197.8h11M81.0 257.6h11M81.0 360.0h21M81.0 375.6h11" stroke="#000" stroke-width="2" fill="none"/>
<text font-family="'Liberation Serif', serif" font-size="40.5" transform="translate(20.9 41.8) scale(0.93 1)">10</text>
<text font-family="'Liberation Serif', serif" font-size="28.5" transform="translate(57.0 18.9) scale(0.9 1)">0</text>
<text font-family="'Liberation Serif', serif" font-size="40.5" transform="translate(13.7 380.0) scale(0.93 1)">10</text>
<text font-family="'Liberation Serif', serif" font-size="28.5" transform="translate(51.3 358.7) scale(0.9 1)">-1</text>
<text font-family="'Liberation Serif', serif" font-size="40.5" transform="translate(56.5 444.2) scale(0.93 1)">10</text>
<text font-family="'Liberation Serif', serif" font-size="28.5" transform="translate(92.8 421.9) scale(0.9 1)">0</text>
<text font-family="'Liberation Serif', serif" font-size="40.5" transform="translate(357.9 444.2) scale(0.93 1)">10</text>
<text font-family="'Liberation Serif', serif" font-size="28.5" transform="translate(396.3 421.9) scale(0.9 1)">1</text>
<text font-family="'Liberation Serif', serif" font-size="40.5" transform="translate(658.3 444.2) scale(0.93 1)">10</text>
<text font-family="'Liberation Serif', serif" font-size="28.5" transform="translate(694.2 421.9) scale(0.9 1)">2</text>
<text font-family="'Liberation Serif', serif" font-size="40.5" transform="translate(959.3 444.2) scale(0.93 1)">10</text>
<text font-family="'Liberation Serif', serif" font-size="45" x="430" y="467.0">time [MCs]</text>
<text font-family="'Liberation Serif', serif" font-size="53" x="0.3" y="224.8">Φ</text>
<text font-family="'Liberation Serif', serif" font-size="44.5" x="908.8" y="73.2">(a)</text>
<polyline points="123.3,165.3 123.3,165.3" fill="none" stroke="none" marker-start="url(#m0)"/>
<text font-family="'Liberation Serif', serif" font-size="40.5" transform="translate(159.5 175.2) scale(0.975 1.05)">η=0.640</text>
<polyline points="123.3,211.3 123.3,211.3" fill="none" stroke="none" marker-start="url(#m1)"/>
<text font-family="'Liberation Serif', serif" font-size="40.5" transform="translate(159.5 221.3) scale(0.975 1.05)">η=0.644</text>
<polyline points="123.3,257.3 123.3,257.3" fill="none" stroke="none" marker-start="url(#m2)"/>
<text font-family="'Liberation Serif', serif" font-size="40.5" transform="translate(159.5 267.4) scale(0.975 1.05)">η=0.646</text>
<polyline points="123.3,303.6 123.3,303.6" fill="none" stroke="none" marker-start="url(#m3)"/>
<text font-family="'Liberation Serif', serif" font-size="40.5" transform="translate(159.5 313.5) scale(0.975 1.05)">η=0.648</text>
<polyline points="123.3,349.8 123.3,349.8" fill="none" stroke="none" marker-start="url(#m4)"/>
<text font-family="'Liberation Serif', serif" font-size="40.5" transform="translate(159.5 359.6) scale(0.975 1.05)">η=0.650</text>
<polyline points="81,560 171.5,571.2 224.5,577.5 262.1,582.4 291.2,587.4 315,591.2 335.2,595 352.6,598.8 368,602.5 381.8,605.7 394.2,609.4 405.6,613.3 416,617.2 425.7,620.9 434.7,624.4 443.1,627.5 451.1,630.4 458.5,632.9 465.6,635.4 472.3,637.6 478.7,639.8 484.7,641.8 490.5,643.7 496.1,645.4 501.4,647.1 506.6,648.7 511.5,650.2 516.2,651.7 520.8,653 525.2,654.3 529.5,655.5 533.7,656.7 537.7,657.7 541.6,658.8 545.4,659.8 549.1,660.8 552.6,661.7 556.1,662.7 559.5,663.6 562.8,664.6 566,665.6 569.2,666.4 572.3,667.3 575.3,668.2 578.2,669 581.1,669.8 583.9,670.6 586.6,671.2 589.3,671.9 592,672.6 594.6,673.1 597.1,673.7 599.6,674.3 602,674.7 604.4,675.2 606.8,675.6 609.1,676.1 611.4,676.6 613.6,677 615.8,677.3 617.9,677.8 620.1,678.2 622.2,678.5 624.2,679 626.2,679.3 628.2,679.6 630.2,679.9 632.1,680.1 634,680.5 635.9,680.7 637.8,681 639.6,681.3 641.4,681.5 643.2,681.8 644.9,682 646.7,682.2 648.4,682.4 650,682.8 651.7,683.1 653.4,683.3 655,683.6 656.6,683.8 658.2,684.1 659.7,684.2 661.3,684.4 662.8,684.5 664.3,684.8 665.8,685.2 667.3,685.5 668.7,685.7 670.2,686.1 671.6,686.3 673,686.6 674.4,686.9 675.8,687.1 677.2,687.4 678.5,687.5 679.9,687.9 681.2,688.1 682.5,688.5 683.8,688.7 685.1,688.8 686.4,689 687.6,689.4 688.9,689.5 690.1,689.6 691.3,689.7 692.6,689.8 693.8,690 694.9,690.1 696.1,690.4 697.3,690.5 698.5,690.7 699.6,691 700.8,691.2 701.9,691.3 703,691.4 704.1,691.6 705.2,691.6 706.3,691.5 707.4,691.7 708.5,691.9 709.5,692 710.6,692 711.6,692.1 712.7,692.1 713.7,692.2 714.7,692.5 715.8,692.7 716.8,692.8 717.8,692.9 718.5,693 719.2,693 719.9,693 720.6,693 721.3,693 722,693.3 722.7,693.4 723.4,693.4 724.1,693.4 724.8,693.3 725.5,693.4 726.2,693.5 726.9,693.4 727.6,693.5 728.3,693.5 729,693.8 729.7,693.8 730.4,694.1 731.1,694 731.8,694 732.5,694.1 733.2,694.3 733.9,694.4 734.6,694.3 735.3,694.3 736,694.4 736.7,694.4 737.4,694.4 738.1,694.6 738.8,694.6 739.5,694.8 740.2,694.9 740.9,694.9 741.6,694.9 742.3,694.8 743,695 743.7,694.9 744.4,694.9 745.1,695 745.8,695 746.5,695.1 747.2,695.2 747.9,695.3 748.6,695.5 749.3,695.8 750,695.7 750.7,696 751.4,695.9 752.1,696.2 752.8,696.4 753.5,696.4 754.2,696.3 754.9,696.3 755.6,696.5 756.3,696.4 757,696.7 757.7,696.7 758.4,696.7 759.1,696.9 759.8,696.9 760.5,697 761.2,697.1 761.9,697.1 762.6,697.4 763.3,697.4 764,697.2 764.7,697.5 765.4,697.5 766.1,697.3 766.8,697.6 767.5,697.8 768.2,697.8 768.9,697.8 769.6,698 770.3,698.2 771,698.3 771.7,698.5 772.4,698.7 773.1,698.6 773.8,698.6 774.5,698.7 775.2,699 775.9,698.9 776.6,699.2 777.3,699.5 778,699.5 778.7,699.6 779.4,699.3 780.1,699.8 780.8,699.8 781.5,700 782.2,699.9 782.9,700.1 783.6,700.2 784.3,700.3 785,700 785.7,700.3 786.4,700.6 787.1,700.3 787.8,700.5 788.5,700.5 789.2,700.6 789.9,700.8 790.6,700.5 791.3,701 792,700.7 792.7,700.6 793.4,700.1 794.1,700.4 794.8,700.7 795.5,700.7 796.2,701 796.9,701 797.6,701.1 798.3,701.5 799,701.6 799.7,701.8 800.4,701.9 801.1,701.7 801.8,701.8 802.5,702.2 803.2,701.4 803.9,701.4 804.6,702 805.3,701.7 806,702.2 806.7,702.3 807.4,702.4 808.1,701.9 808.8,702.3 809.5,702.3 810.2,702.1 810.9,702.2 811.6,701.7 812.3,701.8 813,701.8 813.7,702.2 814.4,702.2 815.1,702 815.8,701.8 816.5,702.3 817.2,702.1 817.9,703.3 818.6,701.8 819.3,702.4 820,702 820.7,701.7 821.4,702.4 822.1,702.1 822.8,701.6 823.5,702.1 824.2,701.1 824.9,701.4 825.6,702.5 826.3,701.5 827,702.1 827.7,701.9 828.4,701.8 829.1,701.4 829.8,700.8 830.5,701.3 831.2,701.4 831.9,701.8 832.6,701.3 833.3,701.5 834,701.4 834.7,701.8 835.4,701.7 836.1,701.3 836.8,700.4 837.5,701 838.2,701.1 838.9,701.8 839.6,700.4 840.3,701.3 841,700.6 841.7,699.7 842.4,700.1 843.1,700.3 843.8,700.3 844.5,700.2 845.2,700 845.9,700.5 846.6,700.3 847.3,699.8 848,700.4 848.7,700.1 849.4,700.5 850.1,700.1 850.8,700.3 851.5,700.7 852.2,699.2 852.9,699.8 853.6,699.8 854.3,700.4 855,698.8 855.7,700.3 856.4,699.9 857.1,699.3 857.8,700.4 858.5,699.4 859.2,699.7 859.9,699.9 860.6,699.8 861.3,699.9 862,699 862.7,699.1 863.4,700.3 864.1,700.2 864.8,699.2 865.5,699.3 866.2,699.4 866.9,699.7 867.6,699.1 868.3,699.6 869,699.2 869.7,699.2 870.4,698.2 871.1,699.1 871.8,699.4 872.5,699.1 873.2,699.2 873.9,697.8 874.6,697.6 875.3,698.9 876,698 876.7,698.5 877.4,699.6 878.1,698 878.8,699.5 879.5,698.5 880.2,698.9 880.9,699 881.6,697.8 882.3,697.9 883,698.8 883.7,698.4 884.4,698.4 885.1,697.7 885.8,698.5 886.5,698.4 887.2,698.2 887.9,697.9 888.6,697.9 889.3,698.6 890,697 890.7,698.3 891.4,697.8 892.1,697.3 892.8,698.8 893.5,698.9 894.2,698.9 894.9,698.8 895.6,699.1 896.3,697.7 897,698.9 897.7,697.6 898.4,697.6 899.1,698.7 899.8,698.4 900.5,698.7 901.2,698.5 901.9,698.6 902.6,698.3 903.3,697 904,697.8 904.7,697.6 905.4,696.9 906.1,696.1 906.8,696.5 907.5,698.3 908.2,698.3 908.9,697.9 909.6,697.7 910.3,697.3 911,696.7 911.7,697 912.4,697.3 913.1,696 913.8,697.3 914.5,696.9 915.2,697.3 915.9,696.3 916.6,696.4 917.3,695.9 918,695.5 918.7,697 919.4,696.9 920.1,695.5 920.8,696.4 921.5,696 922.2,696 922.9,696.8 923.6,696 924.3,696.1 925,695.7 925.7,694.8 926.4,695.3 927.1,696.3 927.8,695.1 928.5,695.9 929.2,694.7 929.9,695.5 930.6,695.4 931.3,694.2 932,694.6 932.7,695.5 933.4,694.4 934.1,695.4 934.8,693.1 935.5,695.3 936.2,694.6 936.9,694.6 937.6,694.2 938.3,694.3 939,693.8 939.7,694.5 940.4,695 941.1,693.7 941.8,695.2 942.5,695.5 943.2,695.4 943.9,693.8 944.6,695.9 945.3,695 946,693.5 946.7,695.1 947.4,693.5 948.1,693.6 948.8,692.9 949.5,694.4 950.2,692.8 950.9,692.1 951.6,693 952.3,694.2 953,693.1 953.7,693.6 954.4,692.5 955.1,693 955.8,692.8 956.5,694.5 957.2,692.3 957.9,693.5 958.6,692.5 959.3,693.9 959.6,692.6" fill="none" stroke="none" marker-start="url(#m0)" marker-mid="url(#m0)" marker-end="url(#m0)"/>
<polyline points="81,561 171.5,572 224.5,578.8 262.1,584 291.2,588.5 315,592.6 335.2,596.4 352.6,600 368,603.5 381.8,607 394.2,610.9 405.6,615 416,619.1 425.7,623.1 434.7,626.9 443.1,630.3 451.1,633.4 458.5,636.3 465.6,639.1 472.3,641.7 478.7,644.3 484.7,646.7 490.5,649 496.1,651.1 501.4,653.2 506.6,655.1 511.5,656.9 516.2,658.7 520.8,660.3 525.2,661.8 529.5,663.1 533.7,664.4 537.7,665.7 541.6,666.9 545.4,668.1 549.1,669.3 552.6,670.5 556.1,671.7 559.5,673 562.8,674.3 566,675.7 569.2,677 572.3,678.2 575.3,679.6 578.2,680.9 581.1,682.2 583.9,683.5 586.6,684.7 589.3,686 592,687 594.6,688 597.1,689.2 599.6,690.1 602,691.2 604.4,692.4 606.8,693.5 609.1,694.4 611.4,695.3 613.6,696.2 615.8,697.1 617.9,697.9 620.1,698.5 622.2,699.2 624.2,700.1 626.2,701.1 628.2,701.8 630.2,702.7 632.1,703.4 634,704.4 635.9,705.1 637.8,705.9 639.6,706.3 641.4,707.2 643.2,707.8 644.9,708.4 646.7,708.8 648.4,709.4 650,709.9 651.7,710.6 653.4,711.2 655,711.7 656.6,712 658.2,712.3 659.7,712.6 661.3,713.2 662.8,713.5 664.3,713.6 665.8,714 667.3,714.1 668.7,714.2 670.2,714.5 671.6,714.7 673,715 674.4,715.2 675.8,715.3 677.2,715.7 678.5,715.8 679.9,716.1 681.2,716.6 682.5,716.8 683.8,717.1 685.1,717.2 686.4,717.4 687.6,717.7 688.9,718.1 690.1,718.1 691.3,718.5 692.6,718.3 693.8,718.4 694.9,718.5 696.1,719 697.3,719.1 698.5,719.6 699.6,720.2 700.8,720.2 701.9,720.3 703,721 704.1,721.2 705.2,721.5 706.3,721.7 707.4,722 708.5,722.4 709.5,722.5 710.6,722.8 711.6,722.9 712.7,723.9 713.7,724.5 714.7,724.5 715.8,724.4 716.8,724.9 717.8,725.4 718.5,725.5 719.2,725.8 719.9,726.1 720.6,726.4 721.3,726.9 722,727.3 722.7,727.2 723.4,727.4 724.1,727.8 724.8,727.7 725.5,728 726.2,728.2 726.9,728.4 727.6,728.4 728.3,729 729,728.9 729.7,729 730.4,729.1 731.1,729.1 731.8,729.6 732.5,729.8 733.2,730.1 733.9,730.3 734.6,730.9 735.3,730.7 736,731.3 736.7,731 737.4,731.3 738.1,731 738.8,731 739.5,731.4 740.2,731.8 740.9,731.7 741.6,732.1 742.3,732.4 743,732.8 743.7,733.2 744.4,733.4 745.1,733.4 745.8,733.6 746.5,733.3 747.2,733.5 747.9,734.2 748.6,734.1 749.3,734.6 750,734.6 750.7,735.2 751.4,735.4 752.1,735.6 752.8,735.9 753.5,735.5 754.2,735.4 754.9,736.2 755.6,736.7 756.3,737.4 757,737.5 757.7,738.1 758.4,738.1 759.1,738.1 759.8,738.5 760.5,738.5 761.2,739.1 761.9,739.5 762.6,739.6 763.3,740.4 764,740.4 764.7,740.5 765.4,740 766.1,740.2 766.8,740 767.5,740.4 768.2,740.9 768.9,741 769.6,740.8 770.3,740.7 771,740.3 771.7,741.4 772.4,741.3 773.1,741.6 773.8,742.4 774.5,742.3 775.2,743.3 775.9,743.6 776.6,743.7 777.3,743.2 778,743.9 778.7,744.5 779.4,745 780.1,744.7 780.8,745.1 781.5,745.5 782.2,745.4 782.9,746.8 783.6,746.8 784.3,745.3 785,746.1 785.7,746.7 786.4,745.9 787.1,746.6 787.8,745.6 788.5,747 789.2,747.1 789.9,747.2 790.6,747.4 791.3,748.4 792,748.3 792.7,749.8 793.4,749.4 794.1,750.1 794.8,749.9 795.5,749.4 796.2,750.7 796.9,750.6 797.6,750.5 798.3,750.8 799,751.8 799.7,753.3 800.4,751.3 801.1,752 801.8,752.4 802.5,752.8 803.2,753.9 803.9,754 804.6,753.6 805.3,754.1 806,755.7 806.7,754.5 807.4,755.5 808.1,754.7 808.8,756.2 809.5,755.4 810.2,756.2 810.9,756.2 811.6,755.6 812.3,756.8 813,756.4 813.7,756.2 814.4,756.1 815.1,755.2 815.8,756.5 816.5,756.7 817.2,758.8 817.9,758 818.6,757.9 819.3,757.5 820,757.6 820.7,758.7 821.4,758.5 822.1,759.7 822.8,758.9 823.5,758.7 824.2,757.6 824.9,758.5 825.6,760.9 826.3,757.7 827,758.8 827.7,758.8 828.4,760.9 829.1,757.4 829.8,758.3 830.5,759.8 831.2,759 831.9,759.3 832.6,759.7 833.3,760.3 834,760.6 834.7,759.8 835.4,761.9 836.1,762.2 836.8,761.7 837.5,761.5 838.2,760.4 838.9,762 839.6,762.4 840.3,762.5 841,764.3 841.7,762.5 842.4,761.7 843.1,762.7 843.8,762 844.5,760.5 845.2,762 845.9,763.5 846.6,761.5 847.3,762.8 848,761.7 848.7,763.6 849.4,762.3 850.1,761.9 850.8,764.4 851.5,762.4 852.2,764.3 852.9,763.5 853.6,763.2 854.3,761.4 855,763.1 855.7,761.3 856.4,763 857.1,762.3 857.8,764.5 858.5,764.1 859.2,764.1 859.9,762.8 860.6,764.6 861.3,763.5 862,761.2 862.7,763.4 863.4,762.5 864.1,764 864.8,763.8 865.5,761.7 866.2,763.7 866.9,766 867.6,763.7 868.3,765 869,766 869.7,765.8 870.4,763.6 871.1,764.2 871.8,765.3 872.5,768 873.2,765.9 873.9,766.5 874.6,763.4 875.3,766.8 876,765.8 876.7,763.6 877.4,764.7 878.1,767.7 878.8,766.2 879.5,764.1 880.2,763.6 880.9,767.4 881.6,766 882.3,766.6 883,766.2 883.7,767.7 884.4,766.1 885.1,766.1 885.8,766.5 886.5,765.1 887.2,764.8 887.9,767.4 888.6,765.5 889.3,766.2 890,766.4 890.7,768.4 891.4,768 892.1,766.6 892.8,767.9 893.5,766.3 894.2,771.2 894.9,767.7 895.6,764.3 896.3,769.2 897,769.7 897.7,763.9 898.4,765 899.1,764.5 899.8,764.8 900.5,766 901.2,765.8 901.9,764.8 902.6,764.9 903.3,767.3 904,767.7 904.7,766.8 905.4,765.5 906.1,766.6 906.8,768.6 907.5,764.1 908.2,763.9 908.9,764.7 909.6,766.1 910.3,768.1 911,766.2 911.7,764 912.4,766.8 913.1,764.9 913.8,764.8 914.5,765.6 915.2,766.1 915.9,764 916.6,765.7 917.3,766.8 918,765.1 918.7,766.1 919.4,765.8 920.1,767.9 920.8,767.3 921.5,765.8 922.2,767.4 922.9,766.7 923.6,763.3 924.3,767.7 925,768.4 925.7,767.2 926.4,767.5 927.1,767.2 927.8,765.2 928.5,767 929.2,767.7 929.9,766.5 930.6,766.5 931.3,766.9 932,768.9 932.7,766.9 933.4,769.2 934.1,765.8 934.8,766.6 935.5,765.3 936.2,765.1 936.9,767.2 937.6,767.8 938.3,768.6 939,769.3 939.7,768.2 940.4,766.6 941.1,769.3 941.8,767.9 942.5,765.5 943.2,765.8 943.9,767.1 944.6,769.1 945.3,767 946,766.3 946.7,766.9 947.4,769.1 948.1,767.9 948.8,766 949.5,766.3 950.2,767.3 950.9,767.5 951.6,763.6 952.3,766.7 953,768.8 953.7,767.3 954.4,766.6 955.1,766.6 955.8,770.9 956.5,768.2 957.2,771.3 957.9,769.8 958.6,767.9 959.3,768.8 959.6,769.9" fill="none" stroke="none" marker-start="url(#m1)" marker-mid="url(#m1)" marker-end="url(#m1)"/>
<polyline points="81,561.5 171.5,572.5 224.5,579.3 262.1,584.5 291.2,589 315,593.2 335.2,597 352.6,600.7 368,604.4 381.8,608 394.2,612 405.6,616.2 416,620.5 425.7,624.6 434.7,628.5 443.1,632.1 451.1,635.4 458.5,638.5 465.6,641.4 472.3,644.3 478.7,646.9 484.7,649.5 490.5,652 496.1,654.4 501.4,656.6 506.6,658.8 511.5,660.9 516.2,662.9 520.8,664.8 525.2,666.7 529.5,668.5 533.7,670.2 537.7,671.8 541.6,673.5 545.4,675.1 549.1,676.6 552.6,678.1 556.1,679.7 559.5,681.2 562.8,682.7 566,683.9 569.2,685.4 572.3,686.7 575.3,688.1 578.2,689.6 581.1,691.3 583.9,692.5 586.6,693.8 589.3,695 592,696.2 594.6,697.2 597.1,698.3 599.6,699.3 602,700.4 604.4,701.5 606.8,702.2 609.1,703.3 611.4,704.1 613.6,705.1 615.8,706.1 617.9,707 620.1,707.9 622.2,708.6 624.2,709.3 626.2,710 628.2,710.9 630.2,711.8 632.1,712.6 634,713.4 635.9,714.4 637.8,715.3 639.6,716.2 641.4,717 643.2,717.6 644.9,718.4 646.7,719.2 648.4,720 650,720.7 651.7,721.6 653.4,722.4 655,722.9 656.6,723.6 658.2,724.3 659.7,724.7 661.3,725.4 662.8,725.8 664.3,726.5 665.8,727.2 667.3,728.2 668.7,729 670.2,729.7 671.6,730 673,730.1 674.4,730.7 675.8,731.1 677.2,731.4 678.5,731.8 679.9,732.1 681.2,732.6 682.5,733 683.8,733.5 685.1,733.6 686.4,734.1 687.6,734.5 688.9,735 690.1,735.4 691.3,735.6 692.6,736.2 693.8,736.8 694.9,736.7 696.1,737.3 697.3,737.8 698.5,738.1 699.6,738.3 700.8,738.6 701.9,739.1 703,740 704.1,740.7 705.2,741 706.3,741.6 707.4,742.3 708.5,742.8 709.5,743.4 710.6,743.8 711.6,744.1 712.7,744.3 713.7,744.5 714.7,744.7 715.8,745.7 716.8,745.9 717.8,746 718.5,746.1 719.2,746.6 719.9,747 720.6,747.3 721.3,748 722,748.4 722.7,749 723.4,749.2 724.1,749 724.8,749.5 725.5,749.9 726.2,749.9 726.9,750 727.6,750.1 728.3,750.3 729,750.4 729.7,750.7 730.4,751.4 731.1,751.6 731.8,752 732.5,752.5 733.2,753.3 733.9,753.7 734.6,753.8 735.3,753.9 736,753.9 736.7,754.4 737.4,755.2 738.1,755.4 738.8,755.7 739.5,755.8 740.2,756.1 740.9,756 741.6,756.8 742.3,757.1 743,757.2 743.7,757.4 744.4,757.8 745.1,758 745.8,758.1 746.5,758.5 747.2,758.6 747.9,759.1 748.6,759.1 749.3,759.9 750,760 750.7,760.4 751.4,760.8 752.1,761.3 752.8,761.2 753.5,761.4 754.2,762.2 754.9,762.6 755.6,762.8 756.3,763 757,763.1 757.7,764.2 758.4,764.3 759.1,764.2 759.8,764.7 760.5,764.7 761.2,764.7 761.9,764.8 762.6,765 763.3,765.8 764,766.2 764.7,766.5 765.4,766.2 766.1,766.6 766.8,766.7 767.5,767.3 768.2,767 768.9,767.4 769.6,767.5 770.3,767.8 771,767.8 771.7,768.2 772.4,768.1 773.1,768.8 773.8,769.1 774.5,769.3 775.2,769.5 775.9,769.9 776.6,769.8 777.3,770.2 778,770.6 778.7,770.7 779.4,770.9 780.1,772.2 780.8,771.9 781.5,773.7 782.2,773.6 782.9,773.5 783.6,773.6 784.3,773.5 785,774.4 785.7,774.7 786.4,774.1 787.1,773.9 787.8,774.2 788.5,774.3 789.2,774.5 789.9,774.9 790.6,774.7 791.3,775.7 792,775.5 792.7,776.3 793.4,776.9 794.1,776.9 794.8,777.2 795.5,776.7 796.2,777 796.9,777.2 797.6,778 798.3,778.7 799,779.2 799.7,779.2 800.4,778.2 801.1,779.2 801.8,779.5 802.5,780.7 803.2,781.3 803.9,780.8 804.6,780.9 805.3,781.3 806,781.9 806.7,781.4 807.4,781.9 808.1,782.6 808.8,782.4 809.5,783.7 810.2,783.4 810.9,783.5 811.6,783 812.3,783.4 813,784.9 813.7,785.3 814.4,784.6 815.1,784 815.8,783.8 816.5,786 817.2,785.8 817.9,785.9 818.6,785.6 819.3,787.7 820,786.7 820.7,786.3 821.4,788.2 822.1,786.2 822.8,787.5 823.5,788.3 824.2,787.4 824.9,788.7 825.6,788.4 826.3,790.2 827,791.2 827.7,791.2 828.4,793.4 829.1,792.7 829.8,793 830.5,794.8 831.2,792.2 831.9,794.7 832.6,795.3 833.3,793.4 834,795.1 834.7,795.6 835.4,796.5 836.1,795.9 836.8,795.1 837.5,796.2 838.2,797.8 838.9,796.9 839.6,797 840.3,796.9 841,796.7 841.7,799.1 842.4,800.1 843.1,797.6 843.8,800 844.5,798.2 845.2,798.7 845.9,799.1 846.6,800.8 847.3,800 848,798.6 848.7,800.7 849.4,802.2 850.1,802.2 850.8,800.3 851.5,802.2 852.2,802.5 852.9,799.5 853.6,800.7 854.3,801 855,799.8 855.7,801.1 856.4,802.3 857.1,802.5 857.8,800.4 858.5,799.6 859.2,800.7 859.9,801.7 860.6,801.7 861.3,801.8 862,802.5 862.7,801.2 863.4,803.4 864.1,802.1 864.8,803.4 865.5,801.3 866.2,799.3 866.9,802.5 867.6,802.5 868.3,802.3 869,805.9 869.7,802.2 870.4,802.1 871.1,804.4 871.8,801.8 872.5,803.7 873.2,803.3 873.9,803.4 874.6,802.6 875.3,805.4 876,802.2 876.7,803.9 877.4,805.3 878.1,799.9 878.8,802.5 879.5,804.1 880.2,806.5 880.9,803.8 881.6,804.7 882.3,803.3 883,802.5 883.7,800.4 884.4,806.1 885.1,804.9 885.8,804.5 886.5,803.1 887.2,805.5 887.9,802.9 888.6,804 889.3,802.2 890,805.9 890.7,804.9 891.4,803.1 892.1,803.1 892.8,805.7 893.5,803.4 894.2,803.6 894.9,804.5 895.6,805.9 896.3,802.7 897,804.1 897.7,800.4 898.4,801 899.1,803.5 899.8,801.1 900.5,802 901.2,804.1 901.9,804.8 902.6,802.5 903.3,801.8 904,804.5 904.7,803.4 905.4,804.1 906.1,805.3 906.8,806.4 907.5,802.9 908.2,805.1 908.9,802.3 909.6,806.1 910.3,805.6 911,804.4 911.7,802.2 912.4,805.3 913.1,804.5 913.8,805.8 914.5,804.6 915.2,803.4 915.9,805.1 916.6,807.8 917.3,807.6 918,807 918.7,805.2 919.4,805.4 920.1,807.7 920.8,807.3 921.5,808.4 922.2,807.5 922.9,804.3 923.6,806.4 924.3,803.5 925,807.9 925.7,810 926.4,806 927.1,807.2 927.8,803.1 928.5,801.9 929.2,805.7 929.9,803.8 930.6,804.2 931.3,805.1 932,804.7 932.7,804.9 933.4,805.1 934.1,805.3 934.8,806.1 935.5,803 936.2,804.4 936.9,804.9 937.6,801.9 938.3,803.2 939,805.9 939.7,805.7 940.4,807.8 941.1,804.3 941.8,804.1 942.5,803.9 943.2,804.1 943.9,803.3 944.6,806.7 945.3,805.3 946,807.4 946.7,804.2 947.4,805.2 948.1,803.3 948.8,806.6 949.5,801.3 950.2,806 950.9,803.6 951.6,804.6 952.3,806.4 953,803.6 953.7,805.7 954.4,803.9 955.1,804.9 955.8,804.1 956.5,806.3 957.2,802.1 957.9,807.2 958.6,803.6 959.3,802 959.6,806" fill="none" stroke="none" marker-start="url(#m2)" marker-mid="url(#m2)" marker-end="url(#m2)"/>
<polyline points="81,562 171.5,573 224.5,579.8 262.1,584.9 291.2,589.5 315,593.8 335.2,597.7 352.6,601.5 368,605.3 381.8,609 394.2,613.1 405.6,617.5 416,621.9 425.7,626.2 434.7,630.3 443.1,634 451.1,637.4 458.5,640.6 465.6,643.6 472.3,646.5 478.7,649.3 484.7,652 490.5,654.5 496.1,656.9 501.4,659.3 506.6,661.6 511.5,663.7 516.2,665.8 520.8,667.9 525.2,669.8 529.5,671.7 533.7,673.5 537.7,675.3 541.6,677 545.4,678.7 549.1,680.4 552.6,682 556.1,683.6 559.5,685.2 562.8,686.8 566,688.3 569.2,689.6 572.3,691.3 575.3,692.7 578.2,693.9 581.1,695.3 583.9,696.8 586.6,698.3 589.3,699.6 592,701.1 594.6,702.2 597.1,703.6 599.6,704.8 602,706.2 604.4,707.5 606.8,708.7 609.1,710 611.4,710.8 613.6,711.6 615.8,712.8 617.9,714 620.1,715 622.2,716.4 624.2,717.3 626.2,718.3 628.2,719.4 630.2,720.5 632.1,721.5 634,722.5 635.9,723.3 637.8,724.4 639.6,725.3 641.4,726.2 643.2,727.1 644.9,728 646.7,728.5 648.4,729.1 650,729.7 651.7,730.5 653.4,731.1 655,732.2 656.6,733 658.2,733.7 659.7,734.4 661.3,734.9 662.8,735.7 664.3,736.6 665.8,737.3 667.3,738.2 668.7,739 670.2,739.5 671.6,740 673,740.8 674.4,741.4 675.8,742 677.2,742.4 678.5,743 679.9,743.6 681.2,744.2 682.5,744.8 683.8,745.6 685.1,746 686.4,746.3 687.6,746.7 688.9,747.7 690.1,748.3 691.3,749.1 692.6,749.2 693.8,749.8 694.9,750.8 696.1,751.2 697.3,751.8 698.5,752.3 699.6,752.6 700.8,753.4 701.9,754 703,754.5 704.1,755.1 705.2,755.7 706.3,756.1 707.4,756.9 708.5,757.6 709.5,758.3 710.6,758.9 711.6,759.3 712.7,759.7 713.7,759.9 714.7,760.6 715.8,761.3 716.8,761.3 717.8,761.7 718.5,762.2 719.2,762.7 719.9,762.8 720.6,763.3 721.3,764.4 722,764.8 722.7,765.6 723.4,765.6 724.1,766.1 724.8,766.1 725.5,766.5 726.2,767.2 726.9,767.5 727.6,768.1 728.3,768.3 729,768.6 729.7,768.6 730.4,769 731.1,769.3 731.8,769.9 732.5,770.4 733.2,770.8 733.9,771.2 734.6,771.7 735.3,772.4 736,773.1 736.7,773.4 737.4,773.5 738.1,773.8 738.8,774.2 739.5,774.7 740.2,775.2 740.9,775.3 741.6,775.7 742.3,776.4 743,776.5 743.7,777.2 744.4,777.6 745.1,778.2 745.8,778.4 746.5,778.5 747.2,778.7 747.9,779 748.6,779.2 749.3,779.8 750,780 750.7,780.3 751.4,780.6 752.1,781.3 752.8,781.7 753.5,782.2 754.2,783.2 754.9,783.8 755.6,784.1 756.3,784.7 757,785.1 757.7,785.5 758.4,785.8 759.1,786.2 759.8,786.3 760.5,786.7 761.2,787.4 761.9,788.2 762.6,788.4 763.3,789.1 764,789.9 764.7,790.2 765.4,790.6 766.1,791.5 766.8,791.7 767.5,791.5 768.2,791.8 768.9,792.1 769.6,792 770.3,791.8 771,792.8 771.7,793 772.4,793.9 773.1,794 773.8,794.3 774.5,795.2 775.2,795.4 775.9,795.2 776.6,794.9 777.3,795.9 778,796.6 778.7,797.3 779.4,797.4 780.1,797.9 780.8,798.3 781.5,798.6 782.2,798.9 782.9,799.2 783.6,800 784.3,800 785,800.6 785.7,802 786.4,801.8 787.1,802.1 787.8,802.4 788.5,803.2 789.2,803.1 789.9,803.4 790.6,804.5 791.3,806 792,805.5 792.7,806.2 793.4,805.3 794.1,805.9 794.8,806.1 795.5,807.3 796.2,806.9 796.9,807.4 797.6,808 798.3,807.3 799,807.6 799.7,808.7 800.4,808.5 801.1,808.7 801.8,810.1 802.5,809.1 803.2,810.6 803.9,809.7 804.6,809.8 805.3,811 806,810.2 806.7,811.4 807.4,812 808.1,811.4 808.8,812.4 809.5,812.4 810.2,813.7 810.9,813.2 811.6,814 812.3,813.6 813,815.6 813.7,815.2 814.4,815.3 815.1,815.9 815.8,815.7 816.5,816.1 817.2,815.7 817.9,817 818.6,817.8 819.3,817.2 820,818.5 820.7,819 821.4,817.6 822.1,817.8 822.8,817.6 823.5,819.3 824.2,819.5 824.9,819.6 825.6,821.9 826.3,820.2 827,820.1 827.7,821.8 828.4,821.5 829.1,821.5 829.8,821.5 830.5,824 831.2,822.9 831.9,822.4 832.6,822.9 833.3,822.9 834,824.8 834.7,823.3 835.4,825.1 836.1,825 836.8,824.9 837.5,824.4 838.2,824.6 838.9,825.3 839.6,826.5 840.3,826.4 841,828 841.7,826.2 842.4,828.1 843.1,828.7 843.8,826.2 844.5,828.7 845.2,828.5 845.9,827.8 846.6,828.3 847.3,828.4 848,828.8 848.7,828.2 849.4,829.8 850.1,827.4 850.8,826.5 851.5,828.9 852.2,829.4 852.9,829.7 853.6,832.5 854.3,829.4 855,829 855.7,830.6 856.4,829.7 857.1,830.6 857.8,832 858.5,830.8 859.2,831.8 859.9,831.5 860.6,830.2 861.3,831.2 862,833.5 862.7,830.7 863.4,833.2 864.1,830.7 864.8,830.2 865.5,831.2 866.2,833.5 866.9,832.4 867.6,834.8 868.3,833.8 869,831.3 869.7,835.5 870.4,836.9 871.1,833.8 871.8,833.5 872.5,832.1 873.2,834.4 873.9,834.3 874.6,833 875.3,835.8 876,836.9 876.7,833.8 877.4,837.1 878.1,837.4 878.8,836.1 879.5,837.5 880.2,836.1 880.9,835.2 881.6,834.9 882.3,839.4 883,835.6 883.7,834.3 884.4,837.6 885.1,836.3 885.8,838.6 886.5,838.7 887.2,834.2 887.9,835.2 888.6,836.7 889.3,835.1 890,837.2 890.7,838 891.4,838.9 892.1,836.7 892.8,835 893.5,837.2 894.2,836.4 894.9,834.9 895.6,836.8 896.3,836.2 897,837.5 897.7,834.4 898.4,835.8 899.1,836.2 899.8,836.8 900.5,834.4 901.2,835 901.9,836 902.6,836.6 903.3,836.2 904,837.2 904.7,838.2 905.4,837.2 906.1,836.4 906.8,835.7 907.5,839.2 908.2,836.4 908.9,836.4 909.6,833.7 910.3,835.5 911,836.5 911.7,836 912.4,836.6 913.1,836.2 913.8,837.1 914.5,836.5 915.2,836.3 915.9,838.7 916.6,836.8 917.3,837.9 918,835.2 918.7,835.7 919.4,835.9 920.1,836.4 920.8,836.8 921.5,836.8 922.2,834.3 922.9,836.1 923.6,834.7 924.3,837.2 925,835.2 925.7,838.6 926.4,835.7 927.1,836.2 927.8,835.9 928.5,839.3 929.2,835 929.9,836.9 930.6,837.1 931.3,835.4 932,835.7 932.7,835.7 933.4,835.9 934.1,835 934.8,837.5 935.5,834.3 936.2,834.1 936.9,834.2 937.6,837.2 938.3,836.3 939,836.4 939.7,835.9 940.4,837.3 941.1,836.3 941.8,836.1 942.5,835.8 943.2,835.5 943.9,836.5 944.6,836.3 945.3,836.3 946,837.8 946.7,836.3 947.4,834.8 948.1,838 948.8,836.8 949.5,838.3 950.2,838.3 950.9,837.1 951.6,835.8 952.3,837.6 953,834.8 953.7,837.2 954.4,836.4 955.1,837.2 955.8,836.9 956.5,841.2 957.2,834.7 957.9,834.3 958.6,839.8 959.3,838.2 959.6,835.7" fill="none" stroke="none" marker-start="url(#m3)" marker-mid="url(#m3)" marker-end="url(#m3)"/>
<polyline points="81,562.5 171.5,572 224.5,578.9 262.1,584.5 291.2,589.5 315,594.1 335.2,598.4 352.6,602.6 368,606.7 381.8,610.7 394.2,615.2 405.6,619.9 416,624.7 425.7,629.4 434.7,633.8 443.1,637.8 451.1,641.5 458.5,644.9 465.6,648.2 472.3,651.3 478.7,654.3 484.7,657.1 490.5,659.8 496.1,662.4 501.4,664.9 506.6,667.3 511.5,669.6 516.2,671.8 520.8,673.9 525.2,675.8 529.5,677.6 533.7,679.4 537.7,681.1 541.6,682.7 545.4,684.4 549.1,686.1 552.6,687.8 556.1,689.6 559.5,691.4 562.8,693.4 566,695.4 569.2,697.6 572.3,699.7 575.3,701.5 578.2,703.6 581.1,705.6 583.9,707.5 586.6,709.2 589.3,711 592,712.6 594.6,714.1 597.1,715.7 599.6,717.3 602,718.9 604.4,720.2 606.8,721.5 609.1,723 611.4,724.2 613.6,725.5 615.8,726.6 617.9,727.9 620.1,729 622.2,730.2 624.2,731.1 626.2,732.4 628.2,733.4 630.2,734.6 632.1,735.8 634,737 635.9,738.5 637.8,739.6 639.6,740.8 641.4,742 643.2,743.1 644.9,744.2 646.7,745.3 648.4,746.5 650,747.4 651.7,748.7 653.4,749.7 655,750.3 656.6,751.3 658.2,752.2 659.7,753.3 661.3,753.8 662.8,754.9 664.3,755.7 665.8,756.6 667.3,757.5 668.7,758.2 670.2,758.9 671.6,759.6 673,760.3 674.4,761.3 675.8,761.9 677.2,762.5 678.5,763.1 679.9,763.8 681.2,764.4 682.5,764.6 683.8,765.1 685.1,765.5 686.4,766.1 687.6,766.4 688.9,767 690.1,767.9 691.3,768.8 692.6,769.4 693.8,770.2 694.9,771 696.1,771.8 697.3,772.5 698.5,773.2 699.6,774.3 700.8,775.1 701.9,775.5 703,776 704.1,777 705.2,777.9 706.3,778.6 707.4,779.4 708.5,780.3 709.5,780.6 710.6,781.2 711.6,782.1 712.7,782.8 713.7,783.4 714.7,784 715.8,784.9 716.8,785.8 717.8,786.7 718.5,787.1 719.2,787.5 719.9,788.1 720.6,788.7 721.3,789.5 722,789.9 722.7,790.3 723.4,790.8 724.1,791.5 724.8,792.2 725.5,792.6 726.2,793.3 726.9,793.9 727.6,794.1 728.3,794.5 729,795 729.7,795.5 730.4,796 731.1,797 731.8,797.4 732.5,797.6 733.2,798.3 733.9,798.7 734.6,799 735.3,799.6 736,800.3 736.7,800.4 737.4,800.9 738.1,801.4 738.8,801.7 739.5,801.9 740.2,802.3 740.9,802.9 741.6,803.4 742.3,803.7 743,804.1 743.7,804.9 744.4,805.4 745.1,806.1 745.8,806.9 746.5,807.1 747.2,807.4 747.9,807.7 748.6,808.3 749.3,808.3 750,808.5 750.7,809.2 751.4,810.4 752.1,810.3 752.8,810.8 753.5,811.6 754.2,811.6 754.9,812.2 755.6,813.4 756.3,814 757,814.6 757.7,815.1 758.4,815.8 759.1,816.3 759.8,817.7 760.5,817.7 761.2,818.4 761.9,818.5 762.6,818.9 763.3,819.8 764,819.9 764.7,820.7 765.4,820.9 766.1,821.3 766.8,821.6 767.5,822.2 768.2,822 768.9,823.1 769.6,823.2 770.3,824.3 771,824.7 771.7,825 772.4,825.6 773.1,825.6 773.8,826.3 774.5,826.4 775.2,826.6 775.9,826.5 776.6,828.4 777.3,828.3 778,828.8 778.7,829.7 779.4,830.1 780.1,830.2 780.8,830.5 781.5,831.5 782.2,830.9 782.9,831.8 783.6,831.4 784.3,831.8 785,833.2 785.7,832.8 786.4,834.6 787.1,833.9 787.8,835.1 788.5,836 789.2,834.9 789.9,835.7 790.6,835.5 791.3,837.1 792,836.8 792.7,838.1 793.4,838.3 794.1,838.6 794.8,838.4 795.5,838.6 796.2,839 796.9,839.7 797.6,839.8 798.3,840.4 799,842.6 799.7,842.6 800.4,841.6 801.1,841.3 801.8,841.8 802.5,841.4 803.2,841.6 803.9,842.2 804.6,842 805.3,842.1 806,843.6 806.7,843.3 807.4,843.9 808.1,844.7 808.8,845 809.5,844.3 810.2,845.4 810.9,846.5 811.6,846.3 812.3,847.1 813,847.1 813.7,847 814.4,848.5 815.1,848.4 815.8,848.6 816.5,849.1 817.2,849.3 817.9,848.4 818.6,851.2 819.3,850.3 820,849.7 820.7,851.2 821.4,849.9 822.1,851 822.8,851.2 823.5,849.9 824.2,849.7 824.9,850.7 825.6,850.1 826.3,850.4 827,851.4 827.7,851.9 828.4,851.3 829.1,851.7 829.8,852.6 830.5,851.4 831.2,854 831.9,851.9 832.6,853.7 833.3,853.5 834,854.7 834.7,853.4 835.4,855 836.1,854 836.8,854.6 837.5,854.7 838.2,855.2 838.9,854.7 839.6,856.6 840.3,855.2 841,856.1 841.7,855.8 842.4,854.3 843.1,855.5 843.8,855.8 844.5,854.9 845.2,856.6 845.9,858.6 846.6,855.8 847.3,858.2 848,859.2 848.7,855.9 849.4,857.1 850.1,858 850.8,857.7 851.5,857.7 852.2,856 852.9,857.5 853.6,860.4 854.3,859.8 855,857.1 855.7,858.7 856.4,858.4 857.1,860.2 857.8,858.4 858.5,859.2 859.2,857.9 859.9,860.5 860.6,858.7 861.3,859.4 862,859.6 862.7,859.9 863.4,860.4 864.1,858.2 864.8,858.1 865.5,859.1 866.2,859.8 866.9,858.5 867.6,859 868.3,860.5 869,858.7 869.7,861.2 870.4,861.1 871.1,857.2 871.8,862.2 872.5,861.9 873.2,859.7 873.9,860.8 874.6,860.8 875.3,859.5 876,860.8 876.7,860.6 877.4,862 878.1,862 878.8,862.1 879.5,862.3 880.2,862.8 880.9,862.3 881.6,862.7 882.3,862.4 883,864.3 883.7,861.4 884.4,859.1 885.1,862.7 885.8,861.5 886.5,862.7 887.2,860 887.9,864.2 888.6,862.7 889.3,862 890,866.2 890.7,862.5 891.4,864 892.1,860.1 892.8,861 893.5,862.2 894.2,863.3 894.9,863.1 895.6,863 896.3,863.6 897,863.8 897.7,864.8 898.4,866 899.1,862 899.8,862 900.5,863.3 901.2,864.6 901.9,860.6 902.6,864.9 903.3,863.3 904,864.1 904.7,864.3 905.4,864.3 906.1,861.9 906.8,863.6 907.5,864.3 908.2,863.1 908.9,867.2 909.6,862.1 910.3,862.7 911,864.2 911.7,863.5 912.4,865.1 913.1,864.9 913.8,862.7 914.5,862.7 915.2,863.8 915.9,863.1 916.6,864.9 917.3,866.3 918,865.2 918.7,863 919.4,864.6 920.1,864 920.8,862.7 921.5,862.2 922.2,863.2 922.9,863.9 923.6,864.5 924.3,863.2 925,864.1 925.7,864 926.4,863.1 927.1,863.6 927.8,862.6 928.5,865.4 929.2,863.5 929.9,866.1 930.6,862.2 931.3,863.9 932,866.9 932.7,863.7 933.4,864.2 934.1,864.7 934.8,863.9 935.5,866.1 936.2,865.9 936.9,864.8 937.6,864.9 938.3,867.5 939,867.6 939.7,864.7 940.4,862.5 941.1,865 941.8,864.9 942.5,866 943.2,865.8 943.9,864.4 944.6,864.1 945.3,863.3 946,862.3 946.7,866.9 947.4,867 948.1,866.3 948.8,864.8 949.5,865.3 950.2,864.5 950.9,867.5 951.6,865.6 952.3,864.2 953,868.9 953.7,864.7 954.4,866.4 955.1,864.9 955.8,865.6 956.5,868.6 957.2,867.2 957.9,869.5 958.6,869.6 959.3,867.2 959.6,869.3" fill="none" stroke="none" marker-start="url(#m4)" marker-mid="url(#m4)" marker-end="url(#m4)"/>
<path d="M388 608.2L902.8 824.6" stroke="#000" stroke-width="3" stroke-dasharray="16.3 7.6" fill="none"/>
<rect x="81.0" y="539.6" width="902.5" height="352.9" fill="none" stroke="#000" stroke-width="2"/>
<path d="M171.5 892.5v-10.5M171.5 539.6v10.5M224.5 892.5v-10.5M224.5 539.6v10.5M262.1 892.5v-10.5M262.1 539.6v10.5M291.2 892.5v-10.5M291.2 539.6v10.5M315.0 892.5v-10.5M315.0 539.6v10.5M335.2 892.5v-10.5M335.2 539.6v10.5M352.6 892.5v-10.5M352.6 539.6v10.5M368.0 892.5v-10.5M368.0 539.6v10.5M381.8 892.5v-21M381.8 539.6v21M472.3 892.5v-10.5M472.3 539.6v10.5M525.2 892.5v-10.5M525.2 539.6v10.5M562.8 892.5v-10.5M562.8 539.6v10.5M592.0 892.5v-10.5M592.0 539.6v10.5M615.8 892.5v-10.5M615.8 539.6v10.5M635.9 892.5v-10.5M635.9 539.6v10.5M653.4 892.5v-10.5M653.4 539.6v10.5M668.7 892.5v-10.5M668.7 539.6v10.5M682.5 892.5v-21M682.5 539.6v21M773.0 892.5v-10.5M773.0 539.6v10.5M826.0 892.5v-10.5M826.0 539.6v10.5M863.6 892.5v-10.5M863.6 539.6v10.5M892.7 892.5v-10.5M892.7 539.6v10.5M916.5 892.5v-10.5M916.5 539.6v10.5M936.7 892.5v-10.5M936.7 539.6v10.5M954.1 892.5v-10.5M954.1 539.6v10.5M81.0 554.3h11M81.0 570.8h11M81.0 589.5h11M81.0 611.0h11M81.0 636.5h11M81.0 667.7h11M81.0 708.0h11M81.0 764.7h11M81.0 861.6h21M81.0 876.3h11" stroke="#000" stroke-width="2" fill="none"/>
<text font-family="'Liberation Serif', serif" font-size="40.5" transform="translate(20.9 561.6) scale(0.93 1)">10</text>
<text font-family="'Liberation Serif', serif" font-size="28.5" transform="translate(57.2 539.1) scale(0.9 1)">0</text>
<text font-family="'Liberation Serif', serif" font-size="40.5" transform="translate(13.6 883.0) scale(0.93 1)">10</text>
<text font-family="'Liberation Serif', serif" font-size="28.5" transform="translate(51.1 860.7) scale(0.9 1)">-1</text>
<text font-family="'Liberation Serif', serif" font-size="40.5" transform="translate(56.5 944.7) scale(0.93 1)">10</text>
<text font-family="'Liberation Serif', serif" font-size="28.5" transform="translate(92.8 922.4) scale(0.9 1)">0</text>
<text font-family="'Liberation Serif', serif" font-size="40.5" transform="translate(357.9 944.7) scale(0.93 1)">10</text>
<text font-family="'Liberation Serif', serif" font-size="28.5" transform="translate(396.3 922.4) scale(0.9 1)">1</text>
<text font-family="'Liberation Serif', serif" font-size="40.5" transform="translate(658.3 944.7) scale(0.93 1)">10</text>
<text font-family="'Liberation Serif', serif" font-size="28.5" transform="translate(694.2 922.4) scale(0.9 1)">2</text>
<text font-family="'Liberation Serif', serif" font-size="40.5" transform="translate(959.3 944.7) scale(0.93 1)">10</text>
<text font-family="'Liberation Serif', serif" font-size="45" x="430" y="967.5">time [MCs]</text>
<text font-family="'Liberation Serif', serif" font-size="53" x="0.3" y="735.3">Φ</text>
<text font-family="'Liberation Serif', serif" font-size="44.5" x="909.1" y="593.1">(b)</text>
<path d="M1085.60 322.50L1085.60 94.08" stroke="#6a6a6a" stroke-width="1.1" fill="none"/>
<path d="M1085.60 322.50L1401.60 388.40L1583.75 274.25L1267.75 208.35ZM1085.60 322.50l3.56 -2.23M1267.75 208.35l-3.56 2.23M1401.60 388.40l-5.48 -1.14M1085.60 322.50l5.48 1.14M1085.60 246.36h6M1144.12 334.70l3.56 -2.23M1326.27 220.55l-3.56 2.23M1435.33 367.26l-5.48 -1.14M1119.33 301.36l5.48 1.14M1085.60 218.16h6M1202.64 346.91l3.56 -2.23M1384.79 232.76l-3.56 2.23M1469.06 346.12l-5.48 -1.14M1153.06 280.22l5.48 1.14M1085.60 189.96h6M1261.16 359.11l3.56 -2.23M1443.31 244.96l-3.56 2.23M1502.79 324.98l-5.48 -1.14M1186.79 259.08l5.48 1.14M1085.60 161.76h6M1319.67 371.31l3.56 -2.23M1501.82 257.16l-3.56 2.23M1536.53 303.84l-5.48 -1.14M1220.53 237.94l5.48 1.14M1085.60 133.56h6M1378.19 383.52l3.56 -2.23M1560.34 269.37l-3.56 2.23M1570.26 282.71l-5.48 -1.14M1254.26 216.81l5.48 1.14M1085.60 105.36h6" stroke="#000" stroke-width="1" fill="none" stroke-linejoin="miter"/>
<text font-family="'DejaVu Serif', serif" font-size="17.0" text-anchor="middle" transform="translate(1083.00 334.12) scale(0.77 1)">0</text>
<text font-family="'DejaVu Serif', serif" font-size="17.0" text-anchor="start" transform="translate(1415.60 397.52) scale(0.77 1)">0</text>
<text font-family="'DejaVu Serif', serif" font-size="17.0" text-anchor="end" transform="translate(1075.10 252.48) scale(0.77 1)">0</text>
<text font-family="'DejaVu Serif', serif" font-size="17.0" text-anchor="middle" transform="translate(1141.52 346.32) scale(0.77 1)">5</text>
<text font-family="'DejaVu Serif', serif" font-size="17.0" text-anchor="start" transform="translate(1449.33 376.38) scale(0.77 1)">5</text>
<text font-family="'DejaVu Serif', serif" font-size="17.0" text-anchor="end" transform="translate(1075.10 224.28) scale(0.77 1)">5</text>
<text font-family="'DejaVu Serif', serif" font-size="17.0" text-anchor="middle" transform="translate(1200.04 358.53) scale(0.77 1)">10</text>
<text font-family="'DejaVu Serif', serif" font-size="17.0" text-anchor="start" transform="translate(1483.06 355.24) scale(0.77 1)">10</text>
<text font-family="'DejaVu Serif', serif" font-size="17.0" text-anchor="end" transform="translate(1075.10 196.08) scale(0.77 1)">10</text>
<text font-family="'DejaVu Serif', serif" font-size="17.0" text-anchor="middle" transform="translate(1258.56 370.73) scale(0.77 1)">15</text>
<text font-family="'DejaVu Serif', serif" font-size="17.0" text-anchor="start" transform="translate(1516.79 334.10) scale(0.77 1)">15</text>
<text font-family="'DejaVu Serif', serif" font-size="17.0" text-anchor="end" transform="translate(1075.10 167.88) scale(0.77 1)">15</text>
<text font-family="'DejaVu Serif', serif" font-size="17.0" text-anchor="middle" transform="translate(1317.07 382.93) scale(0.77 1)">20</text>
<text font-family="'DejaVu Serif', serif" font-size="17.0" text-anchor="start" transform="translate(1550.53 312.96) scale(0.77 1)">20</text>
<text font-family="'DejaVu Serif', serif" font-size="17.0" text-anchor="end" transform="translate(1075.10 139.68) scale(0.77 1)">20</text>
<text font-family="'DejaVu Serif', serif" font-size="17.0" text-anchor="middle" transform="translate(1375.59 395.14) scale(0.77 1)">25</text>
<text font-family="'DejaVu Serif', serif" font-size="17.0" text-anchor="start" transform="translate(1584.26 291.83) scale(0.77 1)">25</text>
<text font-family="'DejaVu Serif', serif" font-size="17.0" text-anchor="end" transform="translate(1075.10 111.48) scale(0.77 1)">25</text>
<text font-family="'DejaVu Serif', serif" font-size="17.0" transform="translate(1003.50 175.80) scale(0.77 1)">Z axis</text>
<text font-family="'DejaVu Serif', serif" font-size="17.0" transform="translate(1187.00 384.40) scale(0.77 1)">X axis</text>
<text font-family="'DejaVu Serif', serif" font-size="17.0" transform="translate(1537.40 349.90) scale(0.77 1)">Y axis</text>
<text font-family="'DejaVu Serif', serif" font-size="34.5" x="1541.7" y="73.4">(c)</text>
<path d="M1088.70 874.80L1088.70 658.53" stroke="#6a6a6a" stroke-width="1.1" fill="none"/>
<path d="M1088.70 874.80L1389.60 924.60L1569.70 841.80L1268.80 792.00ZM1088.70 874.80l3.82 -1.75M1268.80 792.00l-3.82 1.75M1389.60 924.60l-5.52 -0.91M1088.70 874.80l5.52 0.91M1088.70 802.71h6M1144.42 884.02l3.82 -1.75M1324.52 801.22l-3.82 1.75M1422.95 909.27l-5.52 -0.91M1122.05 859.47l5.52 0.91M1088.70 776.01h6M1200.14 893.24l3.82 -1.75M1380.24 810.44l-3.82 1.75M1456.30 893.93l-5.52 -0.91M1155.40 844.13l5.52 0.91M1088.70 749.31h6M1255.87 902.47l3.82 -1.75M1435.97 819.67l-3.82 1.75M1489.66 878.60l-5.52 -0.91M1188.76 828.80l5.52 0.91M1088.70 722.61h6M1311.59 911.69l3.82 -1.75M1491.69 828.89l-3.82 1.75M1523.01 863.27l-5.52 -0.91M1222.11 813.47l5.52 0.91M1088.70 695.91h6M1367.31 920.91l3.82 -1.75M1547.41 838.11l-3.82 1.75M1556.36 847.93l-5.52 -0.91M1255.46 798.13l5.52 0.91M1088.70 669.21h6" stroke="#000" stroke-width="1" fill="none" stroke-linejoin="miter"/>
<text font-family="'DejaVu Serif', serif" font-size="16.2" text-anchor="middle" transform="translate(1086.00 885.13) scale(0.77 1)">0</text>
<text font-family="'DejaVu Serif', serif" font-size="16.2" text-anchor="start" transform="translate(1403.60 933.13) scale(0.77 1)">0</text>
<text font-family="'DejaVu Serif', serif" font-size="16.2" text-anchor="end" transform="translate(1078.50 808.54) scale(0.77 1)">0</text>
<text font-family="'DejaVu Serif', serif" font-size="16.2" text-anchor="middle" transform="translate(1141.72 894.35) scale(0.77 1)">5</text>
<text font-family="'DejaVu Serif', serif" font-size="16.2" text-anchor="start" transform="translate(1436.95 917.80) scale(0.77 1)">5</text>
<text font-family="'DejaVu Serif', serif" font-size="16.2" text-anchor="end" transform="translate(1078.50 781.84) scale(0.77 1)">5</text>
<text font-family="'DejaVu Serif', serif" font-size="16.2" text-anchor="middle" transform="translate(1197.44 903.58) scale(0.77 1)">10</text>
<text font-family="'DejaVu Serif', serif" font-size="16.2" text-anchor="start" transform="translate(1470.30 902.47) scale(0.77 1)">10</text>
<text font-family="'DejaVu Serif', serif" font-size="16.2" text-anchor="end" transform="translate(1078.50 755.14) scale(0.77 1)">10</text>
<text font-family="'DejaVu Serif', serif" font-size="16.2" text-anchor="middle" transform="translate(1253.17 912.80) scale(0.77 1)">15</text>
<text font-family="'DejaVu Serif', serif" font-size="16.2" text-anchor="start" transform="translate(1503.66 887.13) scale(0.77 1)">15</text>
<text font-family="'DejaVu Serif', serif" font-size="16.2" text-anchor="end" transform="translate(1078.50 728.44) scale(0.77 1)">15</text>
<text font-family="'DejaVu Serif', serif" font-size="16.2" text-anchor="middle" transform="translate(1308.89 922.02) scale(0.77 1)">20</text>
<text font-family="'DejaVu Serif', serif" font-size="16.2" text-anchor="start" transform="translate(1537.01 871.80) scale(0.77 1)">20</text>
<text font-family="'DejaVu Serif', serif" font-size="16.2" text-anchor="end" transform="translate(1078.50 701.74) scale(0.77 1)">20</text>
<text font-family="'DejaVu Serif', serif" font-size="16.2" text-anchor="middle" transform="translate(1364.61 931.24) scale(0.77 1)">25</text>
<text font-family="'DejaVu Serif', serif" font-size="16.2" text-anchor="start" transform="translate(1570.36 856.47) scale(0.77 1)">25</text>
<text font-family="'DejaVu Serif', serif" font-size="16.2" text-anchor="end" transform="translate(1078.50 675.04) scale(0.77 1)">25</text>
<text font-family="'DejaVu Serif', serif" font-size="16.2" transform="translate(1009.30 736.50) scale(0.77 1)">Z axis</text>
<text font-family="'DejaVu Serif', serif" font-size="16.2" transform="translate(1183.50 922.10) scale(0.77 1)">X axis</text>
<text font-family="'DejaVu Serif', serif" font-size="16.2" transform="translate(1523.00 898.40) scale(0.77 1)">Y axis</text>
<text font-family="'DejaVu Serif', serif" font-size="34.5" x="1541.8" y="597.1">(d)</text>
<path d="M1233.3 180.0L1253.3 166.7L1273.3 160.0L1293.3 154.7L1313.3 160.0L1326.7 169.3L1340.0 184.0L1349.3 196.0L1340.0 204.0L1320.0 212.0L1304.0 220.0L1301.3 233.3L1293.3 245.3L1280.0 244.0L1266.7 233.3L1257.3 222.7L1253.3 206.7L1246.7 196.0L1237.3 190.7Z" fill="#9400d3"/>
<path d="M1178.6 45.8L1187.8 36.5L1198.1 31.4L1209.4 29.4L1218.6 32.4L1224.7 41.7L1228.8 50.9L1221.7 61.2L1212.4 72.4L1208.3 81.7L1201.2 88.8L1188.8 89.9L1178.6 84.7L1171.4 74.5L1173.5 61.2Z" fill="#9400d3"/>
<path d="M1209 20l2 3m-15-1l2 3m12-3l2 3m1-3l2 3m-13-2l2 3m-1-2l2 3m4-3l2 3m3-3l2 3m-1-3l2 3m18-3l2 3m-39-2l2 3m4-3l2 3m3-3l2 3m-2-3l2 3m-2-3l2 3m-1-3l2 3m7-3l2 3m3-3l2 3m7-3l2 3m2-3l2 3m-42-2l2 3m5-3l2 3m0-3l2 3m2-3l2 3m-1-3l2 3m0-3l2 3m-1-3l2 3m-2-3l2 3m-1-3l2 3m20-3l2 3m1-3l2 3m-52-2l2 3m4-3l2 3m-2-3l2 3m1-3l2 3m1-3l2 3m0-3l2 3m-2-3l2 3m-1-3l2 3m-2-3l2 3m-2-3l2 3m-1-3l2 3m-2-3l2 3m-1-3l2 3m1-3l2 3m-1-3l2 3m1-3l2 3m-2-3l2 3m1-3l2 3m1-3l2 3m-1-3l2 3m0-3l2 3m13-3l2 3m0-3l2 3m1-3l2 3m-54-2l2 3m0-3l2 3m2-3l2 3m-1-3l2 3m1-3l2 3m-2-3l2 3m-1-3l2 3m-2-3l2 3m0-3l2 3m-1-3l2 3m-2-3l2 3m-1-3l2 3m-1-3l2 3m-1-3l2 3m-2-3l2 3m-1-3l2 3m-2-3l2 3m0-3l2 3m-2-3l2 3m-2-3l2 3m0-3l2 3m-1-3l2 3m-2-3l2 3m-1-3l2 3m-1-3l2 3m-1-3l2 3m-2-3l2 3m1-3l2 3m-2-3l2 3m2-3l2 3m2-3l2 3m0-3l2 3m-1-3l2 3m-2-3l2 3m12-3l2 3m-57-2l2 3m-1-3l2 3m4-3l2 3m-1-3l2 3m-1-3l2 3m-1-3l2 3m-1-3l2 3m-2-3l2 3m-1-3l2 3m-1-3l2 3m0-3l2 3m1-3l2 3m-2-3l2 3m-1-3l2 3m-2-3l2 3m-1-3l2 3m-1-3l2 3m-2-3l2 3m-2-3l2 3m0-3l2 3m0-3l2 3m-2-3l2 3m0-3l2 3m-1-3l2 3m-2-3l2 3m0-3l2 3m-1-3l2 3m3-3l2 3m-2-3l2 3m-1-3l2 3m6-3l2 3m7-3l2 3m-55-2l2 3m-1-3l2 3m-2-3l2 3m-1-3l2 3m2-3l2 3m1-3l2 3m-2-3l2 3m1-3l2 3m-1-3l2 3m-1-3l2 3m-2-3l2 3m3-3l2 3m-1-3l2 3m-1-3l2 3m0-3l2 3m0-3l2 3m-2-3l2 3m-2-3l2 3m-2-3l2 3m0-3l2 3m-1-3l2 3m-1-3l2 3m-2-3l2 3m-1-3l2 3m-2-3l2 3m-2-3l2 3m-1-3l2 3m3-3l2 3m1-3l2 3m1-3l2 3m-1-3l2 3m8-3l2 3m-61-2l2 3m0-3l2 3m1-3l2 3m-1-3l2 3m1-3l2 3m-1-3l2 3m-2-3l2 3m-1-3l2 3m0-3l2 3m-1-3l2 3m-2-3l2 3m-1-3l2 3m-1-3l2 3m3-3l2 3m0-3l2 3m0-3l2 3m0-3l2 3m-1-3l2 3m-2-3l2 3m0-3l2 3m-2-3l2 3m2-3l2 3m-1-3l2 3m-1-3l2 3m1-3l2 3m-2-3l2 3m-1-3l2 3m-1-3l2 3m15-3l2 3m-65-2l2 3m4-3l2 3m-1-3l2 3m3-3l2 3m-1-3l2 3m-1-3l2 3m-2-3l2 3m-2-3l2 3m-1-3l2 3m-2-3l2 3m-1-3l2 3m-2-3l2 3m-2-3l2 3m-2-3l2 3m0-3l2 3m-1-3l2 3m-2-3l2 3m-1-3l2 3m-1-3l2 3m-1-3l2 3m-2-3l2 3m0-3l2 3m-1-3l2 3m8-3l2 3m-1-3l2 3m-2-3l2 3m-1-3l2 3m-1-3l2 3m1-3l2 3m0-3l2 3m0-3l2 3m9-3l2 3m-1-3l2 3m0-3l2 3m2-3l2 3m0-3l2 3m-60-2l2 3m-2-3l2 3m-2-3l2 3m-1-3l2 3m-2-3l2 3m-1-3l2 3m0-3l2 3m-2-3l2 3m-1-3l2 3m-2-3l2 3m-2-3l2 3m-2-3l2 3m-2-3l2 3m-1-3l2 3m-2-3l2 3m0-3l2 3m-1-3l2 3m-2-3l2 3m-1-3l2 3m-2-3l2 3m-1-3l2 3m-1-3l2 3m16-3l2 3m-1-3l2 3m-1-3l2 3m2-3l2 3m-2-3l2 3m-1-3l2 3m-2-3l2 3m-1-3l2 3m1-3l2 3m3-3l2 3m9-3l2 3m1-3l2 3m-69-2l2 3m0-3l2 3m0-3l2 3m4-3l2 3m-2-3l2 3m-1-3l2 3m0-3l2 3m0-3l2 3m-1-3l2 3m5-3l2 3m2-3l2 3m5-3l2 3m1-3l2 3m0-3l2 3m-1-3l2 3m-2-3l2 3m-1-3l2 3m-1-3l2 3m-2-3l2 3m-1-3l2 3m3-3l2 3m-1-3l2 3m-1-3l2 3m8-3l2 3m2-3l2 3m-64-2l2 3m-1-3l2 3m-2-3l2 3m-1-3l2 3m3-3l2 3m1-3l2 3m24-3l2 3m0-3l2 3m-2-3l2 3m-1-3l2 3m-2-3l2 3m-1-3l2 3m5-3l2 3m-50-2l2 3m0-3l2 3m-2-3l2 3m-2-3l2 3m-1-3l2 3m-1-3l2 3m0-3l2 3m-1-3l2 3m-1-3l2 3m-1-3l2 3m-2-3l2 3m-1-3l2 3m-1-3l2 3m-2-3l2 3m-1-3l2 3m25-3l2 3m0-3l2 3m-2-3l2 3m-2-3l2 3m1-3l2 3m-2-3l2 3m-1-3l2 3m0-3l2 3m-1-3l2 3m3-3l2 3m-58-2l2 3m4-3l2 3m-1-3l2 3m-2-3l2 3m-1-3l2 3m-1-3l2 3m-2-3l2 3m-1-3l2 3m-1-3l2 3m-2-3l2 3m-1-3l2 3m29-3l2 3m1-3l2 3m-2-3l2 3m-2-3l2 3m3-3l2 3m3-3l2 3m1-3l2 3m3-3l2 3m2-3l2 3m0-3l2 3m-70-2l2 3m-2-3l2 3m1-3l2 3m0-3l2 3m0-3l2 3m-1-3l2 3m-2-3l2 3m4-3l2 3m27-3l2 3m-2-3l2 3m-1-3l2 3m0-3l2 3m-2-3l2 3m0-3l2 3m2-3l2 3m10-3l2 3m21-3l2 3m-90-2l2 3m-1-3l2 3m0-3l2 3m1-3l2 3m-2-3l2 3m-1-3l2 3m-1-3l2 3m-2-3l2 3m34-3l2 3m-2-3l2 3m-1-3l2 3m-2-3l2 3m-2-3l2 3m-1-3l2 3m-2-3l2 3m-1-3l2 3m-2-3l2 3m-1-3l2 3m-1-3l2 3m-2-3l2 3m-1-3l2 3m-2-3l2 3m-2-3l2 3m0-3l2 3m0-3l2 3m9-3l2 3m8-3l2 3m-80-2l2 3m1-3l2 3m-2-3l2 3m-1-3l2 3m-1-3l2 3m-2-3l2 3m-1-3l2 3m-1-3l2 3m-2-3l2 3m-2-3l2 3m-2-3l2 3m-1-3l2 3m-2-3l2 3m0-3l2 3m34-3l2 3m-1-3l2 3m-1-3l2 3m-2-3l2 3m-2-3l2 3m-1-3l2 3m-2-3l2 3m-1-3l2 3m0-3l2 3m0-3l2 3m-1-3l2 3m1-3l2 3m-2-3l2 3m1-3l2 3m-63-2l2 3m-1-3l2 3m0-3l2 3m-1-3l2 3m-1-3l2 3m-2-3l2 3m-1-3l2 3m-2-3l2 3m-1-3l2 3m-2-3l2 3m3-3l2 3m34-3l2 3m0-3l2 3m-2-3l2 3m0-3l2 3m2-3l2 3m9-3l2 3m0-3l2 3m4-3l2 3m-81-2l2 3m1-3l2 3m0-3l2 3m1-3l2 3m-1-3l2 3m-2-3l2 3m-2-3l2 3m-1-3l2 3m-1-3l2 3m-2-3l2 3m-1-3l2 3m-2-3l2 3m37-3l2 3m1-3l2 3m0-3l2 3m-1-3l2 3m-2-3l2 3m1-3l2 3m-1-3l2 3m-2-3l2 3m1-3l2 3m0-3l2 3m3-3l2 3m3-3l2 3m3-3l2 3m2-3l2 3m-85-2l2 3m0-3l2 3m-2-3l2 3m-1-3l2 3m-1-3l2 3m-2-3l2 3m-2-3l2 3m-1-3l2 3m-2-3l2 3m-1-3l2 3m-2-3l2 3m-2-3l2 3m-2-3l2 3m-2-3l2 3m-2-3l2 3m-1-3l2 3m-1-3l2 3m-2-3l2 3m-1-3l2 3m40-3l2 3m-2-3l2 3m-2-3l2 3m0-3l2 3m-1-3l2 3m-1-3l2 3m-2-3l2 3m-2-3l2 3m-1-3l2 3m0-3l2 3m-2-3l2 3m1-3l2 3m-62-2l2 3m-2-3l2 3m0-3l2 3m-1-3l2 3m-1-3l2 3m0-3l2 3m-1-3l2 3m40-3l2 3m-1-3l2 3m0-3l2 3m-2-3l2 3m-2-3l2 3m2-3l2 3m0-3l2 3m-2-3l2 3m-1-3l2 3m2-3l2 3m4-3l2 3m-1-3l2 3m-2-3l2 3m-2-3l2 3m0-3l2 3m-1-3l2 3m30-3l2 3m-107-2l2 3m-1-3l2 3m-2-3l2 3m0-3l2 3m-2-3l2 3m-2-3l2 3m-2-3l2 3m-1-3l2 3m-2-3l2 3m-2-3l2 3m-1-3l2 3m-2-3l2 3m-1-3l2 3m-1-3l2 3m39-3l2 3m1-3l2 3m-1-3l2 3m-2-3l2 3m-1-3l2 3m-1-3l2 3m0-3l2 3m0-3l2 3m8-3l2 3m0-3l2 3m-1-3l2 3m3-3l2 3m-1-3l2 3m5-3l2 3m9-3l2 3m2-3l2 3m-106-2l2 3m4-3l2 3m-2-3l2 3m-1-3l2 3m-2-3l2 3m-2-3l2 3m-1-3l2 3m-1-3l2 3m43-3l2 3m1-3l2 3m-2-3l2 3m-1-3l2 3m-2-3l2 3m2-3l2 3m0-3l2 3m-1-3l2 3m6-3l2 3m-1-3l2 3m-1-3l2 3m16-3l2 3m-93-2l2 3m1-3l2 3m1-3l2 3m-1-3l2 3m-2-3l2 3m45-3l2 3m-2-3l2 3m-1-3l2 3m-1-3l2 3m0-3l2 3m-2-3l2 3m-2-3l2 3m9-3l2 3m6-3l2 3m-2-3l2 3m3-3l2 3m-1-3l2 3m-84-2l2 3m-1-3l2 3m-2-3l2 3m0-3l2 3m-2-3l2 3m-1-3l2 3m-1-3l2 3m48-3l2 3m-1-3l2 3m-2-3l2 3m-1-3l2 3m-2-3l2 3m-2-3l2 3m-1-3l2 3m-1-3l2 3m4-3l2 3m-2-3l2 3m-1-3l2 3m0-3l2 3m9-3l2 3m-2-3l2 3m33-3l2 3m-119-2l2 3m0-3l2 3m0-3l2 3m0-3l2 3m-2-3l2 3m-1-3l2 3m-2-3l2 3m-2-3l2 3m-2-3l2 3m-1-3l2 3m48-3l2 3m-2-3l2 3m-1-3l2 3m0-3l2 3m-2-3l2 3m8-3l2 3m-1-3l2 3m-1-3l2 3m1-3l2 3m1-3l2 3m7-3l2 3m0-3l2 3m18-3l2 3m-106-2l2 3m-1-3l2 3m-1-3l2 3m-2-3l2 3m47-3l2 3m-1-3l2 3m-2-3l2 3m-2-3l2 3m2-3l2 3m1-3l2 3m-2-3l2 3m0-3l2 3m6-3l2 3m-1-3l2 3m-1-3l2 3m-1-3l2 3m0-3l2 3m1-3l2 3m-2-3l2 3m4-3l2 3m12-3l2 3m-101-2l2 3m-2-3l2 3m-1-3l2 3m-2-3l2 3m-1-3l2 3m-2-3l2 3m-1-3l2 3m-1-3l2 3m48-3l2 3m-2-3l2 3m0-3l2 3m-2-3l2 3m-2-3l2 3m-1-3l2 3m-1-3l2 3m-1-3l2 3m-2-3l2 3m0-3l2 3m-2-3l2 3m0-3l2 3m-1-3l2 3m3-3l2 3m2-3l2 3m2-3l2 3m16-3l2 3m1-3l2 3m4-3l2 3m-109-2l2 3m-1-3l2 3m-1-3l2 3m-1-3l2 3m-2-3l2 3m-1-3l2 3m-1-3l2 3m-2-3l2 3m0-3l2 3m-2-3l2 3m45-3l2 3m0-3l2 3m-1-3l2 3m-2-3l2 3m0-3l2 3m-1-3l2 3m4-3l2 3m6-3l2 3m-1-3l2 3m6-3l2 3m1-3l2 3m3-3l2 3m-2-3l2 3m17-3l2 3m-111-2l2 3m-2-3l2 3m-1-3l2 3m-1-3l2 3m-1-3l2 3m-2-3l2 3m-2-3l2 3m-1-3l2 3m1-3l2 3m46-3l2 3m-1-3l2 3m-1-3l2 3m-1-3l2 3m1-3l2 3m1-3l2 3m-2-3l2 3m-1-3l2 3m2-3l2 3m1-3l2 3m0-3l2 3m-2-3l2 3m-2-3l2 3m8-3l2 3m1-3l2 3m-2-3l2 3m9-3l2 3m-2-3l2 3m-103-2l2 3m2-3l2 3m-1-3l2 3m-2-3l2 3m-2-3l2 3m-2-3l2 3m-1-3l2 3m-1-3l2 3m-2-3l2 3m-1-3l2 3m-1-3l2 3m45-3l2 3m-1-3l2 3m-1-3l2 3m-2-3l2 3m-2-3l2 3m-1-3l2 3m2-3l2 3m4-3l2 3m4-3l2 3m-2-3l2 3m3-3l2 3m-2-3l2 3m-1-3l2 3m-1-3l2 3m11-3l2 3m1-3l2 3m-1-3l2 3m1-3l2 3m13-3l2 3m-120-2l2 3m2-3l2 3m-1-3l2 3m-2-3l2 3m-2-3l2 3m-2-3l2 3m-1-3l2 3m-2-3l2 3m-1-3l2 3m-2-3l2 3m1-3l2 3m38-3l2 3m5-3l2 3m1-3l2 3m-2-3l2 3m-1-3l2 3m4-3l2 3m0-3l2 3m3-3l2 3m-1-3l2 3m34-3l2 3m-113-2l2 3m-2-3l2 3m2-3l2 3m-2-3l2 3m0-3l2 3m-1-3l2 3m-2-3l2 3m46-3l2 3m0-3l2 3m-1-3l2 3m-1-3l2 3m0-3l2 3m8-3l2 3m-2-3l2 3m-2-3l2 3m3-3l2 3m-1-3l2 3m17-3l2 3m0-3l2 3m-97-2l2 3m-1-3l2 3m-2-3l2 3m-1-3l2 3m-2-3l2 3m-2-3l2 3m-2-3l2 3m-2-3l2 3m0-3l2 3m-2-3l2 3m0-3l2 3m43-3l2 3m0-3l2 3m-1-3l2 3m-2-3l2 3m0-3l2 3m-1-3l2 3m-2-3l2 3m-2-3l2 3m-1-3l2 3m-1-3l2 3m-2-3l2 3m1-3l2 3m2-3l2 3m-1-3l2 3m5-3l2 3m0-3l2 3m-2-3l2 3m-1-3l2 3m-82-2l2 3m0-3l2 3m0-3l2 3m-1-3l2 3m-2-3l2 3m-1-3l2 3m-2-3l2 3m-1-3l2 3m46-3l2 3m0-3l2 3m-2-3l2 3m-1-3l2 3m0-3l2 3m1-3l2 3m-2-3l2 3m6-3l2 3m5-3l2 3m0-3l2 3m0-3l2 3m12-3l2 3m4-3l2 3m0-3l2 3m-2-3l2 3m-108-2l2 3m2-3l2 3m-1-3l2 3m-2-3l2 3m-1-3l2 3m-2-3l2 3m0-3l2 3m-1-3l2 3m0-3l2 3m42-3l2 3m0-3l2 3m-2-3l2 3m-2-3l2 3m-1-3l2 3m-1-3l2 3m-1-3l2 3m-1-3l2 3m-2-3l2 3m0-3l2 3m-1-3l2 3m2-3l2 3m-1-3l2 3m-2-3l2 3m3-3l2 3m1-3l2 3m0-3l2 3m-1-3l2 3m4-3l2 3m-85-2l2 3m-2-3l2 3m-1-3l2 3m0-3l2 3m-1-3l2 3m-2-3l2 3m-1-3l2 3m0-3l2 3m44-3l2 3m-1-3l2 3m-1-3l2 3m-2-3l2 3m-1-3l2 3m-2-3l2 3m-1-3l2 3m8-3l2 3m0-3l2 3m24-3l2 3m101-3l2 3m-202-2l2 3m1-3l2 3m-2-3l2 3m-1-3l2 3m-1-3l2 3m-1-3l2 3m-2-3l2 3m-2-3l2 3m0-3l2 3m44-3l2 3m-2-3l2 3m-1-3l2 3m-1-3l2 3m-1-3l2 3m0-3l2 3m-1-3l2 3m5-3l2 3m2-3l2 3m-1-3l2 3m6-3l2 3m10-3l2 3m1-3l2 3m8-3l2 3m8-3l2 3m-114-2l2 3m-1-3l2 3m-2-3l2 3m-2-3l2 3m-1-3l2 3m0-3l2 3m-2-3l2 3m45-3l2 3m-1-3l2 3m-2-3l2 3m-2-3l2 3m-1-3l2 3m0-3l2 3m-2-3l2 3m8-3l2 3m19-3l2 3m9-3l2 3m-104-2l2 3m1-3l2 3m2-3l2 3m-2-3l2 3m-2-3l2 3m-2-3l2 3m-2-3l2 3m-1-3l2 3m45-3l2 3m-2-3l2 3m-1-3l2 3m0-3l2 3m1-3l2 3m2-3l2 3m8-3l2 3m0-3l2 3m-2-3l2 3m0-3l2 3m4-3l2 3m0-3l2 3m3-3l2 3m3-3l2 3m-1-3l2 3m-99-2l2 3m0-3l2 3m0-3l2 3m-1-3l2 3m-2-3l2 3m-1-3l2 3m-1-3l2 3m1-3l2 3m40-3l2 3m0-3l2 3m-2-3l2 3m-1-3l2 3m-2-3l2 3m-2-3l2 3m-2-3l2 3m-2-3l2 3m1-3l2 3m-1-3l2 3m11-3l2 3m-1-3l2 3m-1-3l2 3m2-3l2 3m-1-3l2 3m-1-3l2 3m0-3l2 3m-2-3l2 3m12-3l2 3m-2-3l2 3m-93-2l2 3m46-3l2 3m-1-3l2 3m-2-3l2 3m-2-3l2 3m-2-3l2 3m-2-3l2 3m-1-3l2 3m0-3l2 3m-1-3l2 3m4-3l2 3m2-3l2 3m0-3l2 3m0-3l2 3m-1-3l2 3m4-3l2 3m0-3l2 3m-80-2l2 3m-1-3l2 3m1-3l2 3m-1-3l2 3m-1-3l2 3m-2-3l2 3m40-3l2 3m0-3l2 3m-2-3l2 3m-1-3l2 3m-2-3l2 3m-1-3l2 3m-1-3l2 3m-2-3l2 3m-2-3l2 3m-1-3l2 3m-1-3l2 3m-1-3l2 3m4-3l2 3m-2-3l2 3m2-3l2 3m2-3l2 3m8-3l2 3m-1-3l2 3m9-3l2 3m12-3l2 3m-110-2l2 3m-1-3l2 3m1-3l2 3m-2-3l2 3m-1-3l2 3m-2-3l2 3m-1-3l2 3m39-3l2 3m0-3l2 3m-2-3l2 3m-2-3l2 3m-1-3l2 3m-1-3l2 3m-2-3l2 3m-1-3l2 3m-2-3l2 3m-2-3l2 3m-1-3l2 3m-2-3l2 3m-2-3l2 3m-2-3l2 3m-2-3l2 3m-1-3l2 3m-1-3l2 3m3-3l2 3m12-3l2 3m-1-3l2 3m-1-3l2 3m13-3l2 3m3-3l2 3m-95-2l2 3m-1-3l2 3m0-3l2 3m-2-3l2 3m-2-3l2 3m-1-3l2 3m-2-3l2 3m37-3l2 3m-1-3l2 3m0-3l2 3m-2-3l2 3m-1-3l2 3m-2-3l2 3m-2-3l2 3m-2-3l2 3m-1-3l2 3m-2-3l2 3m-2-3l2 3m-1-3l2 3m-2-3l2 3m-1-3l2 3m-2-3l2 3m0-3l2 3m17-3l2 3m1-3l2 3m4-3l2 3m-83-2l2 3m-1-3l2 3m-2-3l2 3m-1-3l2 3m-1-3l2 3m-1-3l2 3m-2-3l2 3m40-3l2 3m0-3l2 3m-2-3l2 3m-2-3l2 3m-2-3l2 3m-1-3l2 3m-2-3l2 3m-2-3l2 3m0-3l2 3m-2-3l2 3m4-3l2 3m0-3l2 3m-2-3l2 3m6-3l2 3m5-3l2 3m0-3l2 3m0-3l2 3m-2-3l2 3m0-3l2 3m-83-2l2 3m-2-3l2 3m-2-3l2 3m-1-3l2 3m-1-3l2 3m-2-3l2 3m-2-3l2 3m-1-3l2 3m-2-3l2 3m-1-3l2 3m0-3l2 3m37-3l2 3m-2-3l2 3m-2-3l2 3m0-3l2 3m-2-3l2 3m-2-3l2 3m-1-3l2 3m-2-3l2 3m-2-3l2 3m-1-3l2 3m-1-3l2 3m5-3l2 3m2-3l2 3m11-3l2 3m4-3l2 3m17-3l2 3m-102-2l2 3m0-3l2 3m-1-3l2 3m-2-3l2 3m-1-3l2 3m-2-3l2 3m-1-3l2 3m-1-3l2 3m-2-3l2 3m37-3l2 3m-2-3l2 3m0-3l2 3m-2-3l2 3m-1-3l2 3m-2-3l2 3m-1-3l2 3m-1-3l2 3m-1-3l2 3m-2-3l2 3m-2-3l2 3m0-3l2 3m-1-3l2 3m5-3l2 3m21-3l2 3m-85-2l2 3m0-3l2 3m-1-3l2 3m-2-3l2 3m-1-3l2 3m-2-3l2 3m33-3l2 3m2-3l2 3m-1-3l2 3m-2-3l2 3m-1-3l2 3m-2-3l2 3m-2-3l2 3m-1-3l2 3m-2-3l2 3m-2-3l2 3m-1-3l2 3m-2-3l2 3m-2-3l2 3m-2-3l2 3m-1-3l2 3m-2-3l2 3m-1-3l2 3m-2-3l2 3m11-3l2 3m0-3l2 3m1-3l2 3m-2-3l2 3m6-3l2 3m-1-3l2 3m22-3l2 3m-107-2l2 3m2-3l2 3m-1-3l2 3m-2-3l2 3m0-3l2 3m-1-3l2 3m-1-3l2 3m-1-3l2 3m-2-3l2 3m37-3l2 3m-2-3l2 3m-1-3l2 3m-2-3l2 3m-2-3l2 3m-2-3l2 3m-1-3l2 3m-2-3l2 3m-2-3l2 3m-2-3l2 3m-1-3l2 3m-2-3l2 3m6-3l2 3m2-3l2 3m7-3l2 3m-1-3l2 3m0-3l2 3m-2-3l2 3m2-3l2 3m11-3l2 3m6-3l2 3m-97-2l2 3m-1-3l2 3m-2-3l2 3m-1-3l2 3m-2-3l2 3m37-3l2 3m-2-3l2 3m-1-3l2 3m-1-3l2 3m-1-3l2 3m0-3l2 3m-2-3l2 3m-1-3l2 3m3-3l2 3m1-3l2 3m17-3l2 3m-1-3l2 3m8-3l2 3m2-3l2 3m2-3l2 3m5-3l2 3m-105-2l2 3m0-3l2 3m1-3l2 3m-2-3l2 3m-1-3l2 3m-2-3l2 3m0-3l2 3m0-3l2 3m31-3l2 3m-2-3l2 3m-1-3l2 3m-2-3l2 3m1-3l2 3m-2-3l2 3m-1-3l2 3m-1-3l2 3m-2-3l2 3m-2-3l2 3m0-3l2 3m12-3l2 3m-1-3l2 3m4-3l2 3m-1-3l2 3m-75-2l2 3m-2-3l2 3m0-3l2 3m0-3l2 3m-1-3l2 3m-1-3l2 3m-1-3l2 3m-1-3l2 3m-2-3l2 3m-2-3l2 3m33-3l2 3m0-3l2 3m-2-3l2 3m-2-3l2 3m-2-3l2 3m-2-3l2 3m-1-3l2 3m-2-3l2 3m-1-3l2 3m-2-3l2 3m-1-3l2 3m1-3l2 3m3-3l2 3m0-3l2 3m8-3l2 3m0-3l2 3m-70-2l2 3m0-3l2 3m-2-3l2 3m0-3l2 3m-1-3l2 3m-2-3l2 3m1-3l2 3m33-3l2 3m-1-3l2 3m-2-3l2 3m-1-3l2 3m-2-3l2 3m12-3l2 3m0-3l2 3m-1-3l2 3m-2-3l2 3m5-3l2 3m-1-3l2 3m13-3l2 3m6-3l2 3m-93-2l2 3m-2-3l2 3m-2-3l2 3m-1-3l2 3m0-3l2 3m-2-3l2 3m-2-3l2 3m0-3l2 3m32-3l2 3m0-3l2 3m0-3l2 3m-2-3l2 3m-2-3l2 3m0-3l2 3m4-3l2 3m0-3l2 3m6-3l2 3m-1-3l2 3m5-3l2 3m-2-3l2 3m39-3l2 3m-121-2l2 3m7-3l2 3m-2-3l2 3m-1-3l2 3m-2-3l2 3m0-3l2 3m-2-3l2 3m-1-3l2 3m2-3l2 3m30-3l2 3m-2-3l2 3m-2-3l2 3m-1-3l2 3m-2-3l2 3m-2-3l2 3m-1-3l2 3m-2-3l2 3m0-3l2 3m19-3l2 3m17-3l2 3m-87-2l2 3m1-3l2 3m-1-3l2 3m-2-3l2 3m-1-3l2 3m-1-3l2 3m-2-3l2 3m1-3l2 3m30-3l2 3m-2-3l2 3m-1-3l2 3m0-3l2 3m-2-3l2 3m-1-3l2 3m-1-3l2 3m15-3l2 3m8-3l2 3m-73-2l2 3m-1-3l2 3m-1-3l2 3m-1-3l2 3m-1-3l2 3m-2-3l2 3m-2-3l2 3m-1-3l2 3m-1-3l2 3m-2-3l2 3m19-3l2 3m6-3l2 3m0-3l2 3m-1-3l2 3m-1-3l2 3m-2-3l2 3m-2-3l2 3m-1-3l2 3m-2-3l2 3m-1-3l2 3m-1-3l2 3m2-3l2 3m-1-3l2 3m7-3l2 3m-56-2l2 3m-2-3l2 3m0-3l2 3m-2-3l2 3m2-3l2 3m-2-3l2 3m19-3l2 3m2-3l2 3m0-3l2 3m-1-3l2 3m0-3l2 3m-1-3l2 3m19-3l2 3m14-3l2 3m-76-2l2 3m-1-3l2 3m-2-3l2 3m-1-3l2 3m-1-3l2 3m-2-3l2 3m-2-3l2 3m-1-3l2 3m-1-3l2 3m-2-3l2 3m1-3l2 3m11-3l2 3m0-3l2 3m9-3l2 3m-2-3l2 3m-2-3l2 3m-1-3l2 3m-1-3l2 3m-2-3l2 3m-1-3l2 3m-2-3l2 3m-2-3l2 3m-1-3l2 3m-2-3l2 3m-1-3l2 3m41-3l2 3m-90-2l2 3m3-3l2 3m2-3l2 3m-1-3l2 3m-1-3l2 3m-2-3l2 3m-2-3l2 3m0-3l2 3m4-3l2 3m3-3l2 3m10-3l2 3m0-3l2 3m0-3l2 3m-1-3l2 3m-2-3l2 3m0-3l2 3m-1-3l2 3m-1-3l2 3m9-3l2 3m22-3l2 3m-77-2l2 3m-1-3l2 3m-2-3l2 3m-1-3l2 3m-1-3l2 3m-1-3l2 3m-1-3l2 3m-2-3l2 3m-1-3l2 3m-1-3l2 3m-2-3l2 3m-2-3l2 3m-1-3l2 3m0-3l2 3m-1-3l2 3m17-3l2 3m0-3l2 3m-2-3l2 3m-1-3l2 3m-1-3l2 3m-2-3l2 3m-2-3l2 3m-2-3l2 3m-1-3l2 3m-2-3l2 3m-2-3l2 3m-2-3l2 3m-2-3l2 3m-1-3l2 3m-1-3l2 3m-1-3l2 3m0-3l2 3m1-3l2 3m3-3l2 3m-1-3l2 3m-50-2l2 3m-1-3l2 3m-1-3l2 3m-2-3l2 3m-1-3l2 3m0-3l2 3m-1-3l2 3m-2-3l2 3m-2-3l2 3m-1-3l2 3m-1-3l2 3m-1-3l2 3m-2-3l2 3m-1-3l2 3m-1-3l2 3m-2-3l2 3m11-3l2 3m3-3l2 3m-2-3l2 3m0-3l2 3m-2-3l2 3m-1-3l2 3m-2-3l2 3m3-3l2 3m1-3l2 3m3-3l2 3m2-3l2 3m7-3l2 3m5-3l2 3m-65-2l2 3m-1-3l2 3m-2-3l2 3m-2-3l2 3m-1-3l2 3m-1-3l2 3m-2-3l2 3m-1-3l2 3m0-3l2 3m-2-3l2 3m-1-3l2 3m-2-3l2 3m0-3l2 3m-2-3l2 3m-2-3l2 3m-2-3l2 3m-1-3l2 3m-2-3l2 3m-1-3l2 3m-1-3l2 3m14-3l2 3m-2-3l2 3m-2-3l2 3m-1-3l2 3m1-3l2 3m-1-3l2 3m-1-3l2 3m-2-3l2 3m-2-3l2 3m-1-3l2 3m-2-3l2 3m1-3l2 3m-1-3l2 3m4-3l2 3m0-3l2 3m4-3l2 3m8-3l2 3m-65-2l2 3m0-3l2 3m-2-3l2 3m-2-3l2 3m-1-3l2 3m0-3l2 3m-2-3l2 3m-2-3l2 3m-1-3l2 3m-2-3l2 3m-2-3l2 3m1-3l2 3m-2-3l2 3m-1-3l2 3m-1-3l2 3m-2-3l2 3m-1-3l2 3m0-3l2 3m-1-3l2 3m-1-3l2 3m-2-3l2 3m1-3l2 3m-2-3l2 3m-1-3l2 3m-2-3l2 3m-1-3l2 3m-1-3l2 3m-2-3l2 3m0-3l2 3m0-3l2 3m0-3l2 3m-2-3l2 3m-2-3l2 3m-1-3l2 3m-1-3l2 3m-1-3l2 3m-2-3l2 3m-2-3l2 3m0-3l2 3m0-3l2 3m0-3l2 3m2-3l2 3m5-3l2 3m1-3l2 3m0-3l2 3m-1-3l2 3m6-3l2 3m-66-2l2 3m-1-3l2 3m1-3l2 3m0-3l2 3m-2-3l2 3m-1-3l2 3m0-3l2 3m-1-3l2 3m-2-3l2 3m-1-3l2 3m-2-3l2 3m-1-3l2 3m0-3l2 3m-2-3l2 3m-1-3l2 3m-1-3l2 3m-2-3l2 3m-1-3l2 3m-2-3l2 3m-1-3l2 3m0-3l2 3m-1-3l2 3m-2-3l2 3m-2-3l2 3m-1-3l2 3m-2-3l2 3m-2-3l2 3m-1-3l2 3m-1-3l2 3m-1-3l2 3m0-3l2 3m-1-3l2 3m-2-3l2 3m-2-3l2 3m0-3l2 3m0-3l2 3m-1-3l2 3m-2-3l2 3m2-3l2 3m0-3l2 3m4-3l2 3m6-3l2 3m-1-3l2 3m-57-2l2 3m6-3l2 3m1-3l2 3m-1-3l2 3m-1-3l2 3m-1-3l2 3m-2-3l2 3m0-3l2 3m-1-3l2 3m-2-3l2 3m-2-3l2 3m-1-3l2 3m-2-3l2 3m-1-3l2 3m0-3l2 3m1-3l2 3m-2-3l2 3m-2-3l2 3m-2-3l2 3m0-3l2 3m-1-3l2 3m0-3l2 3m-2-3l2 3m0-3l2 3m-2-3l2 3m-2-3l2 3m-1-3l2 3m-1-3l2 3m-2-3l2 3m0-3l2 3m0-3l2 3m-1-3l2 3m-1-3l2 3m5-3l2 3m10-3l2 3m0-3l2 3m-62-2l2 3m3-3l2 3m0-3l2 3m0-3l2 3m-1-3l2 3m1-3l2 3m-1-3l2 3m0-3l2 3m-1-3l2 3m-2-3l2 3m-2-3l2 3m-1-3l2 3m-2-3l2 3m-2-3l2 3m-1-3l2 3m-2-3l2 3m-2-3l2 3m-1-3l2 3m-1-3l2 3m0-3l2 3m0-3l2 3m-2-3l2 3m-2-3l2 3m-1-3l2 3m3-3l2 3m0-3l2 3m14-3l2 3m1-3l2 3m10-3l2 3m-63-2l2 3m5-3l2 3m1-3l2 3m-1-3l2 3m-1-3l2 3m0-3l2 3m-1-3l2 3m-1-3l2 3m-1-3l2 3m-2-3l2 3m0-3l2 3m-2-3l2 3m-2-3l2 3m-2-3l2 3m0-3l2 3m-1-3l2 3m-2-3l2 3m-2-3l2 3m0-3l2 3m0-3l2 3m-1-3l2 3m-1-3l2 3m-1-3l2 3m-1-3l2 3m1-3l2 3m2-3l2 3m-1-3l2 3m1-3l2 3m1-3l2 3m13-3l2 3m-51-2l2 3m0-3l2 3m0-3l2 3m0-3l2 3m-2-3l2 3m-1-3l2 3m-2-3l2 3m0-3l2 3m1-3l2 3m-1-3l2 3m-1-3l2 3m-1-3l2 3m-2-3l2 3m6-3l2 3m2-3l2 3m-1-3l2 3m2-3l2 3m2-3l2 3m4-3l2 3m-66-2l2 3m20-3l2 3m1-3l2 3m3-3l2 3m-2-3l2 3m-2-3l2 3m-2-3l2 3m1-3l2 3m-1-3l2 3m2-3l2 3m-1-3l2 3m-2-3l2 3m2-3l2 3m-2-3l2 3m-1-3l2 3m-2-3l2 3m0-3l2 3m0-3l2 3m0-3l2 3m-28-2l2 3m0-3l2 3m6-3l2 3m-1-3l2 3m-1-3l2 3m1-3l2 3m-2-3l2 3m-1-3l2 3m9-3l2 3m-1-3l2 3m0-3l2 3m2-3l2 3m-2-3l2 3m3-3l2 3m5-3l2 3m-2-3l2 3m2-3l2 3m89-3l2 3m-148-2l2 3m0-3l2 3m0-3l2 3m2-3l2 3m0-3l2 3m-1-3l2 3m-1-3l2 3m11-3l2 3m-1-3l2 3m5-3l2 3m2-3l2 3m2-3l2 3m9-3l2 3m94-3l2 3m-1-3l2 3m-147-2l2 3m0-3l2 3m5-3l2 3m-1-3l2 3m-1-3l2 3m-2-3l2 3m1-3l2 3m-1-3l2 3m2-3l2 3m-2-3l2 3m-1-3l2 3m-2-3l2 3m11-3l2 3m6-3l2 3m1-3l2 3m4-3l2 3m84-3l2 3m0-3l2 3m3-3l2 3m-138-2l2 3m-1-3l2 3m4-3l2 3m9-3l2 3m18-3l2 3m92-3l2 3m6-3l2 3m-1-3l2 3m-146-2l2 3m5-3l2 3m2-3l2 3m-1-3l2 3m-2-3l2 3m2-3l2 3m-2-3l2 3m2-3l2 3m7-3l2 3m-1-3l2 3m4-3l2 3m1-3l2 3m84-3l2 3m10-3l2 3m-131-2l2 3m3-3l2 3m-2-3l2 3m2-3l2 3m2-3l2 3m3-3l2 3m0-3l2 3m1-3l2 3m97-3l2 3m-2-3l2 3m2-3l2 3m-2-3l2 3m2-3l2 3m-1-3l2 3m3-3l2 3m-157-2l2 3m2-3l2 3m9-3l2 3m2-3l2 3m25-3l2 3m0-3l2 3m13-3l2 3m72-3l2 3m6-3l2 3m3-3l2 3m0-3l2 3m-1-3l2 3m-1-3l2 3m-1-3l2 3m-138-2l2 3m1-3l2 3m3-3l2 3m6-3l2 3m11-3l2 3m85-3l2 3m0-3l2 3m3-3l2 3m0-3l2 3m-1-3l2 3m1-3l2 3m-1-3l2 3m0-3l2 3m-2-3l2 3m-1-3l2 3m-142-2l2 3m2-3l2 3m29-3l2 3m1-3l2 3m71-3l2 3m10-3l2 3m1-3l2 3m-1-3l2 3m4-3l2 3m-1-3l2 3m0-3l2 3m-1-3l2 3m0-3l2 3m-2-3l2 3m-1-3l2 3m-2-3l2 3m-117-2l2 3m-1-3l2 3m77-3l2 3m15-3l2 3m1-3l2 3m2-3l2 3m2-3l2 3m3-3l2 3m-1-3l2 3m176-3l2 3m-321-2l2 3m9-3l2 3m3-3l2 3m3-3l2 3m-2-3l2 3m4-3l2 3m85-3l2 3m2-3l2 3m1-3l2 3m6-3l2 3m-1-3l2 3m3-3l2 3m0-3l2 3m-2-3l2 3m-2-3l2 3m-1-3l2 3m-2-3l2 3m-1-3l2 3m-1-3l2 3m-1-3l2 3m-2-3l2 3m0-3l2 3m151-3l2 3m-271-2l2 3m52-3l2 3m44-3l2 3m-1-3l2 3m6-3l2 3m2-3l2 3m0-3l2 3m1-3l2 3m4-3l2 3m146-3l2 3m-261-2l2 3m82-3l2 3m-2-3l2 3m1-3l2 3m9-3l2 3m1-3l2 3m-2-3l2 3m0-3l2 3m146-3l2 3m5-3l2 3m0-3l2 3m-172-2l2 3m16-3l2 3m-1-3l2 3m-50-2l2 3m18-3l2 3m8-3l2 3m4-3l2 3m5-3l2 3m-44-2l2 3m16-3l2 3m-1-3l2 3m2-3l2 3m171-3l2 3m-1-3l2 3m1-3l2 3m1-3l2 3m-177-2l2 3m1-3l2 3m3-3l2 3m153-3l2 3m5-3l2 3m-207-2l2 3m21-3l2 3m3-3l2 3m1-3l2 3m168-3l2 3m5-3l2 3m1-3l2 3m-175-2l2 3m161-3l2 3m-1-3l2 3m11-3l2 3m5-3l2 3m-31-2l2 3m10-3l2 3m-2-3l2 3m-175-2l2 3m164-2l2 3m3-3l2 3m-1-3l2 3m0-2l2 3m-1-3l2 3m0-3l2 3m1-3l2 3m2-3l2 3m-16-2l2 3m-1-3l2 3m0-3l2 3m0-3l2 3m6-3l2 3m-21-2l2 3m1-3l2 3m0-3l2 3m0-3l2 3m1-3l2 3m0-3l2 3m-6-2l2 3m-2-3l2 3m-1-3l2 3m14-3l2 3m-18-2l2 3m10-3l2 3m-269-2l2 3m101-3l2 3m156-3l2 3m-261-2l2 3m246-3l2 3m4-3l2 3m1-3l2 3m2-3l2 3m-8-2l2 3m0-3l2 3m10-3l2 3m-269-2l2 3m239-3l2 3m0-3l2 3m4-3l2 3m3-3l2 3m-1-3l2 3m-14-2l2 3m8-3l2 3m0-3l2 3m-255-2l2 3m242-3l2 3m6-3l2 3m4-3l2 3m-13-2l2 3m0-3l2 3m-2-3l2 3m-1-3l2 3m-1-3l2 3m11-3l2 3m-22-2l2 3m3-3l2 3m-191-2l2 3m187-3l2 3m0-3l2 3m-6-2l2 3m-21-2l2 3m9-2l2 3m6 2l2 3m-188 1l2 3m7-2l2 3m-19-1l2 3m9-3l2 3m-57-2l2 3m43-3l2 3m1-3l2 3m-4-2l2 3m-1-3l2 3m16-3l2 3m-29-2l2 3m7-3l2 3m3-3l2 3m-2-3l2 3m22-3l2 3m-64-2l2 3m17-3l2 3m3-3l2 3m0-3l2 3m0-3l2 3m5-3l2 3m-1-3l2 3m0-3l2 3m6-3l2 3m-40-2l2 3m0-3l2 3m-1-3l2 3m4-3l2 3m1-3l2 3m-1-3l2 3m6-3l2 3m4-3l2 3m-2-3l2 3m7-3l2 3m5-3l2 3m-42-2l2 3m4-3l2 3m0-3l2 3m2-3l2 3m-2-3l2 3m0-3l2 3m0-3l2 3m-1-3l2 3m-2-3l2 3m-1-3l2 3m-2-3l2 3m0-3l2 3m-2-3l2 3m-1-3l2 3m-1-3l2 3m0-3l2 3m0-3l2 3m0-3l2 3m1-3l2 3m1-3l2 3m4-3l2 3m-39-2l2 3m0-3l2 3m2-3l2 3m-1-3l2 3m1-3l2 3m-2-3l2 3m-2-3l2 3m-2-3l2 3m-1-3l2 3m-1-3l2 3m0-3l2 3m-2-3l2 3m1-3l2 3m-1-3l2 3m0-3l2 3m3-3l2 3m-2-3l2 3m0-3l2 3m-2-3l2 3m0-3l2 3m3-3l2 3m1-3l2 3m0-3l2 3m2-3l2 3m-54-2l2 3m5-3l2 3m2-3l2 3m1-3l2 3m1-3l2 3m0-3l2 3m-2-3l2 3m-2-3l2 3m0-3l2 3m-2-3l2 3m5-3l2 3m0-3l2 3m-2-3l2 3m2-3l2 3m-2-3l2 3m3-3l2 3m0-3l2 3m-1-3l2 3m2-3l2 3m3-3l2 3m-57-2l2 3m14-3l2 3m-1-3l2 3m-1-3l2 3m-2-3l2 3m-2-3l2 3m1-3l2 3m-1-3l2 3m0-3l2 3m-1-3l2 3m-1-3l2 3m-1-3l2 3m-2-3l2 3m-1-3l2 3m0-3l2 3m0-3l2 3m-1-3l2 3m-1-3l2 3m0-3l2 3m1-3l2 3m0-3l2 3m0-3l2 3m0-3l2 3m-1-3l2 3m1-3l2 3m3-3l2 3m-61-2l2 3m-1-3l2 3m-1-3l2 3m5-3l2 3m-1-3l2 3m-2-3l2 3m-1-3l2 3m1-3l2 3m2-3l2 3m-1-3l2 3m1-3l2 3m-1-3l2 3m-2-3l2 3m-2-3l2 3m2-3l2 3m-2-3l2 3m-2-3l2 3m0-3l2 3m-1-3l2 3m2-3l2 3m-1-3l2 3m0-3l2 3m-2-3l2 3m-1-3l2 3m-2-3l2 3m-1-3l2 3m1-3l2 3m-1-3l2 3m-2-3l2 3m2-3l2 3m5-3l2 3m0-3l2 3m-77-2l2 3m8-3l2 3m0-3l2 3m-2-3l2 3m1-3l2 3m3-3l2 3m-1-3l2 3m3-3l2 3m-2-3l2 3m1-3l2 3m-1-3l2 3m-2-3l2 3m-2-3l2 3m-1-3l2 3m1-3l2 3m2-3l2 3m-1-3l2 3m-2-3l2 3m-1-3l2 3m-1-3l2 3m1-3l2 3m-2-3l2 3m-2-3l2 3m-1-3l2 3m-1-3l2 3m-2-3l2 3m1-3l2 3m0-3l2 3m-1-3l2 3m-2-3l2 3m-1-3l2 3m2-3l2 3m0-3l2 3m0-3l2 3m0-3l2 3m1-3l2 3m1-3l2 3m-2-3l2 3m-2-3l2 3m1-3l2 3m-2-3l2 3m-1-3l2 3m-1-3l2 3m3-3l2 3m0-3l2 3m-1-3l2 3m-2-3l2 3m-68-2l2 3m6-3l2 3m-2-3l2 3m-1-3l2 3m0-3l2 3m-1-3l2 3m-1-3l2 3m-2-3l2 3m-1-3l2 3m0-3l2 3m3-3l2 3m-2-3l2 3m-1-3l2 3m0-3l2 3m-2-3l2 3m-1-3l2 3m-2-3l2 3m-1-3l2 3m0-3l2 3m-1-3l2 3m-1-3l2 3m0-3l2 3m0-3l2 3m-1-3l2 3m3-3l2 3m0-3l2 3m-2-3l2 3m-1-3l2 3m-2-3l2 3m1-3l2 3m-1-3l2 3m-2-3l2 3m1-3l2 3m2-3l2 3m-1-3l2 3m-2-3l2 3m-1-3l2 3m1-3l2 3m-1-3l2 3m-2-3l2 3m5-3l2 3m-1-3l2 3m0-3l2 3m1-3l2 3m-86-2l2 3m6-3l2 3m1-3l2 3m-1-3l2 3m2-3l2 3m-1-3l2 3m-1-3l2 3m2-3l2 3m0-3l2 3m-2-3l2 3m0-3l2 3m-1-3l2 3m-2-3l2 3m-1-3l2 3m1-3l2 3m0-3l2 3m-1-3l2 3m0-3l2 3m-1-3l2 3m1-3l2 3m-2-3l2 3m0-3l2 3m0-3l2 3m4-3l2 3m2-3l2 3m-1-3l2 3m1-3l2 3m0-3l2 3m0-3l2 3m-1-3l2 3m0-3l2 3m-1-3l2 3m-1-3l2 3m-1-3l2 3m0-3l2 3m-1-3l2 3m-2-3l2 3m-1-3l2 3m0-3l2 3m2-3l2 3m1-3l2 3m8-3l2 3m-88-2l2 3m4-3l2 3m3-3l2 3m2-3l2 3m-2-3l2 3m1-3l2 3m-1-3l2 3m-2-3l2 3m-1-3l2 3m0-3l2 3m-2-3l2 3m0-3l2 3m1-3l2 3m-1-3l2 3m-1-3l2 3m0-3l2 3m2-3l2 3m0-3l2 3m7-3l2 3m4-3l2 3m2-3l2 3m0-3l2 3m-2-3l2 3m-1-3l2 3m-2-3l2 3m1-3l2 3m4-3l2 3m9-3l2 3m-82-2l2 3m0-3l2 3m3-3l2 3m-1-3l2 3m-2-3l2 3m-1-3l2 3m0-3l2 3m-1-3l2 3m-1-3l2 3m-1-3l2 3m1-3l2 3m-1-3l2 3m-2-3l2 3m1-3l2 3m-1-3l2 3m-2-3l2 3m-2-3l2 3m0-3l2 3m-2-3l2 3m-1-3l2 3m-1-3l2 3m1-3l2 3m2-3l2 3m21-3l2 3m-1-3l2 3m3-3l2 3m4-3l2 3m-1-3l2 3m-2-3l2 3m-2-3l2 3m-1-3l2 3m-2-3l2 3m-2-3l2 3m7-3l2 3m0-3l2 3m-86-2l2 3m1-3l2 3m4-3l2 3m-2-3l2 3m-1-3l2 3m-2-3l2 3m5-3l2 3m-1-3l2 3m0-3l2 3m-1-3l2 3m-2-3l2 3m-2-3l2 3m-1-3l2 3m-1-3l2 3m-1-3l2 3m-1-3l2 3m2-3l2 3m-2-3l2 3m-2-3l2 3m-2-3l2 3m1-3l2 3m29-3l2 3m1-3l2 3m-1-3l2 3m-1-3l2 3m1-3l2 3m0-3l2 3m-1-3l2 3m-2-3l2 3m-1-3l2 3m-2-3l2 3m-2-3l2 3m4-3l2 3m-1-3l2 3m-1-3l2 3m2-3l2 3m-1-3l2 3m-1-3l2 3m3-3l2 3m-97-2l2 3m0-3l2 3m-1-3l2 3m-1-3l2 3m-1-3l2 3m1-3l2 3m4-3l2 3m1-3l2 3m-1-3l2 3m0-3l2 3m-1-3l2 3m-1-3l2 3m-1-3l2 3m1-3l2 3m-1-3l2 3m40-3l2 3m0-3l2 3m-1-3l2 3m0-3l2 3m-2-3l2 3m0-3l2 3m1-3l2 3m-86-2l2 3m4-3l2 3m3-3l2 3m0-3l2 3m0-3l2 3m2-3l2 3m-2-3l2 3m-1-3l2 3m3-3l2 3m0-3l2 3m0-3l2 3m-2-3l2 3m1-3l2 3m0-3l2 3m37-3l2 3m0-3l2 3m-1-3l2 3m-2-3l2 3m0-3l2 3m0-3l2 3m0-3l2 3m-1-3l2 3m-2-3l2 3m0-3l2 3m-83-2l2 3m5-3l2 3m-1-3l2 3m-1-3l2 3m-1-3l2 3m0-3l2 3m-2-3l2 3m0-3l2 3m-1-3l2 3m-1-3l2 3m-1-3l2 3m4-3l2 3m0-3l2 3m42-3l2 3m0-3l2 3m2-3l2 3m-1-3l2 3m-1-3l2 3m-1-3l2 3m-2-3l2 3m-1-3l2 3m-1-3l2 3m3-3l2 3m0-3l2 3m-107-2l2 3m13-3l2 3m-2-3l2 3m1-3l2 3m-2-3l2 3m0-3l2 3m0-3l2 3m3-3l2 3m-1-3l2 3m-2-3l2 3m-2-3l2 3m-2-3l2 3m-1-3l2 3m-2-3l2 3m-1-3l2 3m-1-3l2 3m-1-3l2 3m-1-3l2 3m-1-3l2 3m-1-3l2 3m1-3l2 3m0-3l2 3m-1-3l2 3m-2-3l2 3m49-3l2 3m0-3l2 3m0-3l2 3m0-3l2 3m-1-3l2 3m0-3l2 3m2-3l2 3m2-3l2 3m4-3l2 3m-111-2l2 3m0-3l2 3m2-3l2 3m4-3l2 3m-2-3l2 3m2-3l2 3m0-3l2 3m-2-3l2 3m-2-3l2 3m-1-3l2 3m-2-3l2 3m-2-3l2 3m-1-3l2 3m-2-3l2 3m1-3l2 3m-2-3l2 3m1-3l2 3m-1-3l2 3m61-3l2 3m-1-3l2 3m-1-3l2 3m-2-3l2 3m-2-3l2 3m-1-3l2 3m0-3l2 3m2-3l2 3m2-3l2 3m-102-2l2 3m0-3l2 3m6-3l2 3m-1-3l2 3m-1-3l2 3m0-3l2 3m-1-3l2 3m2-3l2 3m-2-3l2 3m-2-3l2 3m2-3l2 3m58-3l2 3m1-3l2 3m-1-3l2 3m0-3l2 3m1-3l2 3m5-3l2 3m-1-3l2 3m28-3l2 3m-126-2l2 3m5-3l2 3m2-3l2 3m-2-3l2 3m70-3l2 3m-1-3l2 3m2-3l2 3m0-3l2 3m7-3l2 3m-112-2l2 3m2-3l2 3m7-3l2 3m1-3l2 3m2-3l2 3m1-3l2 3m67-3l2 3m1-3l2 3m-1-3l2 3m0-3l2 3m1-3l2 3m0-3l2 3m-1-3l2 3m-1-3l2 3m-2-3l2 3m2-3l2 3m-104-2l2 3m-2-3l2 3m-1-3l2 3m0-3l2 3m-2-3l2 3m-1-3l2 3m0-3l2 3m0-3l2 3m2-3l2 3m0-3l2 3m71-3l2 3m0-3l2 3m-2-3l2 3m1-3l2 3m-1-3l2 3m-1-3l2 3m-1-3l2 3m-2-3l2 3m2-3l2 3m-1-3l2 3m28-3l2 3m-139-2l2 3m1-3l2 3m-2-3l2 3m3-3l2 3m-1-3l2 3m1-3l2 3m-1-3l2 3m-1-3l2 3m-1-3l2 3m-2-3l2 3m-1-3l2 3m2-3l2 3m73-3l2 3m-1-3l2 3m-1-3l2 3m0-3l2 3m-1-3l2 3m0-3l2 3m-1-3l2 3m-1-3l2 3m1-3l2 3m2-3l2 3m0-3l2 3m-114-2l2 3m-1-3l2 3m0-3l2 3m-1-3l2 3m-2-3l2 3m-1-3l2 3m-2-3l2 3m2-3l2 3m-1-3l2 3m-1-3l2 3m-1-3l2 3m-2-3l2 3m-1-3l2 3m-1-3l2 3m-1-3l2 3m1-3l2 3m-2-3l2 3m-1-3l2 3m-2-3l2 3m75-3l2 3m-2-3l2 3m1-3l2 3m0-3l2 3m6-3l2 3m1-3l2 3m-120-2l2 3m5-3l2 3m1-3l2 3m-1-3l2 3m2-3l2 3m-1-3l2 3m-2-3l2 3m-1-3l2 3m3-3l2 3m-2-3l2 3m80-3l2 3m0-3l2 3m-1-3l2 3m-1-3l2 3m-1-3l2 3m-1-3l2 3m-102-2l2 3m-2-3l2 3m1-3l2 3m-1-3l2 3m0-3l2 3m-1-3l2 3m-2-3l2 3m0-3l2 3m-1-3l2 3m-1-3l2 3m-1-3l2 3m81-3l2 3m4-3l2 3m1-3l2 3m3-3l2 3m-119-2l2 3m0-3l2 3m-2-3l2 3m6-3l2 3m-2-3l2 3m-2-3l2 3m0-3l2 3m3-3l2 3m83-3l2 3m2-3l2 3m0-3l2 3m-2-3l2 3m-1-3l2 3m-1-3l2 3m0-3l2 3m-2-3l2 3m5-3l2 3m27-3l2 3m-149-2l2 3m1-3l2 3m1-3l2 3m-1-3l2 3m-2-3l2 3m-2-3l2 3m0-3l2 3m-1-3l2 3m-2-3l2 3m-1-3l2 3m91-3l2 3m-1-3l2 3m-1-3l2 3m3-3l2 3m-1-3l2 3m-2-3l2 3m3-3l2 3m-126-2l2 3m1-3l2 3m1-3l2 3m2-3l2 3m1-3l2 3m2-3l2 3m0-3l2 3m-2-3l2 3m-2-3l2 3m-1-3l2 3m91-3l2 3m-1-3l2 3m-2-3l2 3m-2-3l2 3m-121-2l2 3m0-3l2 3m7-3l2 3m10-3l2 3m-2-3l2 3m-1-3l2 3m94-3l2 3m-1-3l2 3m1-3l2 3m0-3l2 3m-131-2l2 3m16-3l2 3m-1-3l2 3m0-3l2 3m-2-3l2 3m-1-3l2 3m1-3l2 3m2-3l2 3m90-3l2 3m0-3l2 3m-1-3l2 3m-2-3l2 3m-1-3l2 3m-2-3l2 3m-2-3l2 3m1-3l2 3m1-3l2 3m-2-3l2 3m1-3l2 3m2-3l2 3m-128-2l2 3m-1-3l2 3m1-3l2 3m-1-3l2 3m4-3l2 3m-2-3l2 3m4-3l2 3m-1-3l2 3m90-3l2 3m-2-3l2 3m-1-3l2 3m3-3l2 3m2-3l2 3m-128-2l2 3m-1-3l2 3m0-3l2 3m6-3l2 3m0-3l2 3m-2-3l2 3m-1-3l2 3m0-3l2 3m96-3l2 3m1-3l2 3m0-3l2 3m-126-2l2 3m-2-3l2 3m5-3l2 3m0-3l2 3m3-3l2 3m0-3l2 3m-2-3l2 3m0-3l2 3m-1-3l2 3m-2-3l2 3m-1-3l2 3m-1-3l2 3m-2-3l2 3m7-3l2 3m92-3l2 3m-1-3l2 3m-2-3l2 3m0-3l2 3m10-3l2 3m-170-2l2 3m40-3l2 3m-1-3l2 3m-2-3l2 3m-2-3l2 3m-1-3l2 3m0-3l2 3m0-3l2 3m1-3l2 3m2-3l2 3m95-3l2 3m1-3l2 3m-2-3l2 3m-1-3l2 3m0-3l2 3m-1-3l2 3m-2-3l2 3m0-3l2 3m1-3l2 3m2-3l2 3m-127-2l2 3m1-3l2 3m-1-3l2 3m-1-3l2 3m-2-3l2 3m-1-3l2 3m1-3l2 3m-2-3l2 3m3-3l2 3m1-3l2 3m92-3l2 3m-1-3l2 3m0-3l2 3m-1-3l2 3m-2-3l2 3m-2-3l2 3m1-3l2 3m4-3l2 3m-139-2l2 3m8-3l2 3m2-3l2 3m0-3l2 3m-2-3l2 3m-1-3l2 3m-2-3l2 3m-2-3l2 3m0-3l2 3m-1-3l2 3m-1-3l2 3m-1-3l2 3m-2-3l2 3m-1-3l2 3m99-3l2 3m-2-3l2 3m-2-3l2 3m-2-3l2 3m1-3l2 3m-2-3l2 3m-1-3l2 3m0-3l2 3m5-3l2 3m-1-3l2 3m-138-2l2 3m9-3l2 3m1-3l2 3m0-3l2 3m-1-3l2 3m1-3l2 3m7-3l2 3m-1-3l2 3m89-3l2 3m-1-3l2 3m6-3l2 3m1-3l2 3m0-3l2 3m-120-2l2 3m-2-3l2 3m1-3l2 3m-2-3l2 3m-1-3l2 3m1-3l2 3m93-3l2 3m0-3l2 3m0-3l2 3m-1-3l2 3m-2-3l2 3m-1-3l2 3m-2-3l2 3m-2-3l2 3m0-3l2 3m1-3l2 3m0-3l2 3m5-3l2 3m-138-2l2 3m-2-3l2 3m1-3l2 3m0-3l2 3m2-3l2 3m0-3l2 3m1-3l2 3m-2-3l2 3m0-3l2 3m-1-3l2 3m-2-3l2 3m-2-3l2 3m-2-3l2 3m4-3l2 3m1-3l2 3m94-3l2 3m5-3l2 3m-2-3l2 3m-128-2l2 3m0-3l2 3m1-3l2 3m-1-3l2 3m1-3l2 3m1-3l2 3m-1-3l2 3m0-3l2 3m-2-3l2 3m-2-3l2 3m6-3l2 3m95-3l2 3m5-3l2 3m2-3l2 3m-140-2l2 3m-1-3l2 3m-1-3l2 3m10-3l2 3m1-3l2 3m-1-3l2 3m-1-3l2 3m-2-3l2 3m-1-3l2 3m-2-3l2 3m-1-3l2 3m-2-3l2 3m-1-3l2 3m100-3l2 3m-1-3l2 3m-1-3l2 3m0-3l2 3m-2-3l2 3m1-3l2 3m1-3l2 3m-2-3l2 3m-2-3l2 3m7-3l2 3m-2-3l2 3m4-3l2 3m-150-2l2 3m6-3l2 3m0-3l2 3m1-3l2 3m3-3l2 3m1-3l2 3m-1-3l2 3m0-3l2 3m102-3l2 3m-2-3l2 3m1-3l2 3m3-3l2 3m-139-2l2 3m-1-3l2 3m7-3l2 3m6-3l2 3m-2-3l2 3m0-3l2 3m-1-3l2 3m-1-3l2 3m-2-3l2 3m0-3l2 3m99-3l2 3m4-3l2 3m-1-3l2 3m-136-2l2 3m3-3l2 3m4-3l2 3m-1-3l2 3m-1-3l2 3m7-3l2 3m-1-3l2 3m2-3l2 3m1-3l2 3m99-3l2 3m-2-3l2 3m0-3l2 3m-1-3l2 3m5-3l2 3m0-3l2 3m-132-2l2 3m5-3l2 3m-1-3l2 3m1-3l2 3m-2-3l2 3m-2-3l2 3m0-3l2 3m-1-3l2 3m9-3l2 3m89-3l2 3m1-3l2 3m-2-3l2 3m-123-2l2 3m-1-3l2 3m-1-3l2 3m6-3l2 3m5-3l2 3m-1-3l2 3m-2-3l2 3m-1-3l2 3m1-3l2 3m92-3l2 3m-1-3l2 3m2-3l2 3m1-3l2 3m4-3l2 3m-1-3l2 3m0-3l2 3m-143-2l2 3m3-3l2 3m0-3l2 3m6-3l2 3m5-3l2 3m-2-3l2 3m-2-3l2 3m-2-3l2 3m0-3l2 3m0-3l2 3m-1-3l2 3m-1-3l2 3m-2-3l2 3m-1-3l2 3m-1-3l2 3m-1-3l2 3m-1-3l2 3m2-3l2 3m87-3l2 3m-2-3l2 3m-2-3l2 3m3-3l2 3m-1-3l2 3m-1-3l2 3m-1-3l2 3m-1-3l2 3m-1-3l2 3m0-3l2 3m4-3l2 3m-141-2l2 3m3-3l2 3m-2-3l2 3m5-3l2 3m-1-3l2 3m-1-3l2 3m3-3l2 3m-2-3l2 3m2-3l2 3m0-3l2 3m0-3l2 3m-2-3l2 3m-2-3l2 3m0-3l2 3m-2-3l2 3m-1-3l2 3m93-3l2 3m-2-3l2 3m-1-3l2 3m-1-3l2 3m-1-3l2 3m-2-3l2 3m-2-3l2 3m2-3l2 3m12-3l2 3m-152-2l2 3m-1-3l2 3m13-3l2 3m0-3l2 3m-1-3l2 3m-2-3l2 3m0-3l2 3m3-3l2 3m2-3l2 3m-1-3l2 3m-2-3l2 3m-1-3l2 3m91-3l2 3m-1-3l2 3m1-3l2 3m-1-3l2 3m-1-3l2 3m1-3l2 3m-1-3l2 3m0-3l2 3m0-3l2 3m-2-3l2 3m-1-3l2 3m-2-3l2 3m-1-3l2 3m-136-2l2 3m16-3l2 3m0-3l2 3m4-3l2 3m92-3l2 3m-2-3l2 3m1-3l2 3m0-3l2 3m-1-3l2 3m1-3l2 3m-2-3l2 3m5-3l2 3m-119-2l2 3m1-3l2 3m-2-3l2 3m0-3l2 3m-1-3l2 3m0-3l2 3m-1-3l2 3m-1-3l2 3m86-3l2 3m0-3l2 3m0-3l2 3m0-3l2 3m-2-3l2 3m-2-3l2 3m2-3l2 3m7-3l2 3m-130-2l2 3m8-3l2 3m0-3l2 3m0-3l2 3m-2-3l2 3m-2-3l2 3m-1-3l2 3m0-3l2 3m-2-3l2 3m-1-3l2 3m1-3l2 3m86-3l2 3m-1-3l2 3m0-3l2 3m-1-3l2 3m-1-3l2 3m0-3l2 3m5-3l2 3m-133-2l2 3m1-3l2 3m-1-3l2 3m-1-3l2 3m2-3l2 3m-1-3l2 3m0-3l2 3m5-3l2 3m-1-3l2 3m-2-3l2 3m2-3l2 3m1-3l2 3m88-3l2 3m2-3l2 3m-1-3l2 3m0-3l2 3m-2-3l2 3m-2-3l2 3m-2-3l2 3m4-3l2 3m1-3l2 3m2-3l2 3m-141-2l2 3m-2-3l2 3m3-3l2 3m10-3l2 3m2-3l2 3m0-3l2 3m-2-3l2 3m0-3l2 3m-1-3l2 3m-1-3l2 3m-2-3l2 3m-1-3l2 3m-1-3l2 3m-2-3l2 3m85-3l2 3m-1-3l2 3m-1-3l2 3m-2-3l2 3m-1-3l2 3m-1-3l2 3m0-3l2 3m-2-3l2 3m1-3l2 3m2-3l2 3m0-3l2 3m-2-3l2 3m-1-3l2 3m-138-2l2 3m0-3l2 3m17-3l2 3m1-3l2 3m-1-3l2 3m-2-3l2 3m1-3l2 3m-1-3l2 3m-1-3l2 3m-2-3l2 3m-1-3l2 3m-1-3l2 3m-2-3l2 3m-1-3l2 3m-2-3l2 3m-1-3l2 3m-2-3l2 3m-1-3l2 3m77-3l2 3m1-3l2 3m2-3l2 3m0-3l2 3m0-3l2 3m-1-3l2 3m5-3l2 3m10-3l2 3m-146-2l2 3m1-3l2 3m4-3l2 3m1-3l2 3m2-3l2 3m-2-3l2 3m4-3l2 3m0-3l2 3m3-3l2 3m-2-3l2 3m-1-3l2 3m-1-3l2 3m-1-3l2 3m-2-3l2 3m-1-3l2 3m-2-3l2 3m-2-3l2 3m0-3l2 3m-1-3l2 3m72-3l2 3m5-3l2 3m-2-3l2 3m-1-3l2 3m-1-3l2 3m0-3l2 3m-1-3l2 3m-2-3l2 3m3-3l2 3m-1-3l2 3m0-3l2 3m8-3l2 3m1-3l2 3m-143-2l2 3m2-3l2 3m8-3l2 3m-2-3l2 3m3-3l2 3m-1-3l2 3m-1-3l2 3m0-3l2 3m0-3l2 3m1-3l2 3m-1-3l2 3m-1-3l2 3m0-3l2 3m-2-3l2 3m-1-3l2 3m69-3l2 3m4-3l2 3m-1-3l2 3m-1-3l2 3m-2-3l2 3m0-3l2 3m-2-3l2 3m0-3l2 3m1-3l2 3m-2-3l2 3m-2-3l2 3m3-3l2 3m14-3l2 3m-147-2l2 3m5-3l2 3m-1-3l2 3m4-3l2 3m14-3l2 3m-1-3l2 3m-1-3l2 3m-1-3l2 3m1-3l2 3m-2-3l2 3m-2-3l2 3m-1-3l2 3m-2-3l2 3m72-3l2 3m0-3l2 3m-1-3l2 3m-1-3l2 3m1-3l2 3m-1-3l2 3m-1-3l2 3m1-3l2 3m0-3l2 3m0-3l2 3m-130-2l2 3m9-3l2 3m5-3l2 3m11-3l2 3m1-3l2 3m-2-3l2 3m-1-3l2 3m-1-3l2 3m-2-3l2 3m-1-3l2 3m-2-3l2 3m-2-3l2 3m-1-3l2 3m-1-3l2 3m-2-3l2 3m-2-3l2 3m-2-3l2 3m-2-3l2 3m0-3l2 3m68-3l2 3m-1-3l2 3m1-3l2 3m-2-3l2 3m-2-3l2 3m-2-3l2 3m-1-3l2 3m-1-3l2 3m-2-3l2 3m-1-3l2 3m0-3l2 3m-2-3l2 3m5-3l2 3m-1-3l2 3m-1-3l2 3m0-3l2 3m9-3l2 3m-143-2l2 3m-2-3l2 3m10-3l2 3m-1-3l2 3m9-3l2 3m6-3l2 3m-1-3l2 3m-1-3l2 3m-1-3l2 3m-2-3l2 3m-1-3l2 3m-2-3l2 3m0-3l2 3m-1-3l2 3m-2-3l2 3m-2-3l2 3m67-3l2 3m-2-3l2 3m-1-3l2 3m-1-3l2 3m-1-3l2 3m-2-3l2 3m-1-3l2 3m-2-3l2 3m-2-3l2 3m-1-3l2 3m-2-3l2 3m2-3l2 3m-2-3l2 3m-1-3l2 3m0-3l2 3m-2-3l2 3m-1-3l2 3m-1-3l2 3m-1-3l2 3m-2-3l2 3m3-3l2 3m-2-3l2 3m6-3l2 3m-138-2l2 3m8-3l2 3m8-3l2 3m1-3l2 3m5-3l2 3m0-3l2 3m-1-3l2 3m-1-3l2 3m-1-3l2 3m-1-3l2 3m0-3l2 3m-1-3l2 3m-1-3l2 3m-2-3l2 3m2-3l2 3m56-3l2 3m-1-3l2 3m-2-3l2 3m3-3l2 3m2-3l2 3m-1-3l2 3m0-3l2 3m-1-3l2 3m2-3l2 3m-2-3l2 3m1-3l2 3m2-3l2 3m0-3l2 3m-130-2l2 3m0-3l2 3m14-3l2 3m8-3l2 3m1-3l2 3m0-3l2 3m0-3l2 3m-2-3l2 3m-1-3l2 3m0-3l2 3m-1-3l2 3m61-3l2 3m-1-3l2 3m-1-3l2 3m-2-3l2 3m-1-3l2 3m-1-3l2 3m-1-3l2 3m-2-3l2 3m-2-3l2 3m-1-3l2 3m-2-3l2 3m-2-3l2 3m-2-3l2 3m-1-3l2 3m-1-3l2 3m11-3l2 3m5-3l2 3m7-3l2 3m-125-2l2 3m3-3l2 3m5-3l2 3m2-3l2 3m1-3l2 3m-2-3l2 3m-1-3l2 3m-2-3l2 3m-1-3l2 3m-2-3l2 3m-1-3l2 3m-1-3l2 3m-1-3l2 3m-2-3l2 3m-1-3l2 3m53-3l2 3m0-3l2 3m-2-3l2 3m0-3l2 3m-2-3l2 3m-1-3l2 3m-1-3l2 3m-1-3l2 3m-1-3l2 3m-2-3l2 3m-2-3l2 3m-1-3l2 3m-1-3l2 3m-1-3l2 3m1-3l2 3m-1-3l2 3m-1-3l2 3m1-3l2 3m-2-3l2 3m-1-3l2 3m-2-3l2 3m3-3l2 3m-2-3l2 3m6-3l2 3m-127-2l2 3m13-3l2 3m0-3l2 3m-2-3l2 3m7-3l2 3m0-3l2 3m0-3l2 3m-2-3l2 3m0-3l2 3m0-3l2 3m-2-3l2 3m-1-3l2 3m54-3l2 3m1-3l2 3m0-3l2 3m-2-3l2 3m0-3l2 3m-1-3l2 3m0-3l2 3m-1-3l2 3m-1-3l2 3m0-3l2 3m0-3l2 3m19-3l2 3m-122-2l2 3m21-3l2 3m-1-3l2 3m-2-3l2 3m-1-3l2 3m-1-3l2 3m-1-3l2 3m-2-3l2 3m-2-3l2 3m-1-3l2 3m50-3l2 3m5-3l2 3m-1-3l2 3m-1-3l2 3m-1-3l2 3m1-3l2 3m0-3l2 3m7-3l2 3m9-3l2 3m-115-2l2 3m3-3l2 3m-1-3l2 3m10-3l2 3m-1-3l2 3m-2-3l2 3m-2-3l2 3m-1-3l2 3m-1-3l2 3m-1-3l2 3m-2-3l2 3m-1-3l2 3m-2-3l2 3m0-3l2 3m50-3l2 3m1-3l2 3m-2-3l2 3m0-3l2 3m0-3l2 3m-1-3l2 3m0-3l2 3m-2-3l2 3m-2-3l2 3m2-3l2 3m0-3l2 3m-2-3l2 3m-1-3l2 3m-2-3l2 3m2-3l2 3m4-3l2 3m-98-2l2 3m7-3l2 3m-1-3l2 3m2-3l2 3m0-3l2 3m-2-3l2 3m-1-3l2 3m-1-3l2 3m-2-3l2 3m48-3l2 3m-1-3l2 3m-2-3l2 3m0-3l2 3m-1-3l2 3m-1-3l2 3m-1-3l2 3m-1-3l2 3m-2-3l2 3m-2-3l2 3m-1-3l2 3m-2-3l2 3m-1-3l2 3m-2-3l2 3m-2-3l2 3m0-3l2 3m-2-3l2 3m-2-3l2 3m-2-3l2 3m-1-3l2 3m-2-3l2 3m8-3l2 3m-1-3l2 3m7-3l2 3m-104-2l2 3m1-3l2 3m1-3l2 3m0-3l2 3m4-3l2 3m-1-3l2 3m-2-3l2 3m-1-3l2 3m-2-3l2 3m-2-3l2 3m-2-3l2 3m0-3l2 3m-1-3l2 3m-2-3l2 3m-2-3l2 3m-1-3l2 3m-1-3l2 3m46-3l2 3m-2-3l2 3m-1-3l2 3m-1-3l2 3m-2-3l2 3m-2-3l2 3m-1-3l2 3m-2-3l2 3m-2-3l2 3m-2-3l2 3m-2-3l2 3m-2-3l2 3m0-3l2 3m-1-3l2 3m-1-3l2 3m-2-3l2 3m-1-3l2 3m-2-3l2 3m-1-3l2 3m-2-3l2 3m-2-3l2 3m-2-3l2 3m0-3l2 3m-2-3l2 3m0-3l2 3m-2-3l2 3m-2-3l2 3m-2-3l2 3m-1-3l2 3m-1-3l2 3m-2-3l2 3m2-3l2 3m3-3l2 3m0-3l2 3m-110-2l2 3m6-3l2 3m4-3l2 3m4-3l2 3m1-3l2 3m-2-3l2 3m4-3l2 3m-2-3l2 3m-2-3l2 3m-1-3l2 3m-1-3l2 3m-2-3l2 3m-1-3l2 3m-1-3l2 3m47-3l2 3m-2-3l2 3m-2-3l2 3m-1-3l2 3m-1-3l2 3m-2-3l2 3m-2-3l2 3m-1-3l2 3m-2-3l2 3m-1-3l2 3m-2-3l2 3m-2-3l2 3m0-3l2 3m-2-3l2 3m-2-3l2 3m-2-3l2 3m-1-3l2 3m-1-3l2 3m-2-3l2 3m-1-3l2 3m-1-3l2 3m-2-3l2 3m-1-3l2 3m-2-3l2 3m2-3l2 3m8-3l2 3m-111-2l2 3m0-3l2 3m6-3l2 3m3-3l2 3m-1-3l2 3m-1-3l2 3m2-3l2 3m3-3l2 3m3-3l2 3m-1-3l2 3m-1-3l2 3m0-3l2 3m-1-3l2 3m-2-3l2 3m43-3l2 3m0-3l2 3m-1-3l2 3m-2-3l2 3m-2-3l2 3m-2-3l2 3m-2-3l2 3m-1-3l2 3m-2-3l2 3m-1-3l2 3m-2-3l2 3m-2-3l2 3m-1-3l2 3m-2-3l2 3m-2-3l2 3m-1-3l2 3m-2-3l2 3m-2-3l2 3m-1-3l2 3m-2-3l2 3m-1-3l2 3m-2-3l2 3m-2-3l2 3m-2-3l2 3m-1-3l2 3m0-3l2 3m-1-3l2 3m-1-3l2 3m0-3l2 3m2-3l2 3m-1-3l2 3m4-3l2 3m-106-2l2 3m-1-3l2 3m3-3l2 3m1-3l2 3m-2-3l2 3m-2-3l2 3m2-3l2 3m12-3l2 3m-2-3l2 3m2-3l2 3m43-3l2 3m-1-3l2 3m1-3l2 3m-2-3l2 3m-2-3l2 3m-2-3l2 3m-2-3l2 3m-2-3l2 3m-1-3l2 3m-2-3l2 3m-2-3l2 3m-1-3l2 3m-2-3l2 3m-1-3l2 3m-2-3l2 3m-1-3l2 3m-2-3l2 3m-1-3l2 3m-2-3l2 3m-1-3l2 3m-1-3l2 3m4-3l2 3m1-3l2 3m-1-3l2 3m-95-2l2 3m-1-3l2 3m15-3l2 3m0-3l2 3m0-3l2 3m-1-3l2 3m-1-3l2 3m-2-3l2 3m1-3l2 3m-1-3l2 3m1-3l2 3m40-3l2 3m-2-3l2 3m-1-3l2 3m-1-3l2 3m-2-3l2 3m-1-3l2 3m-2-3l2 3m-2-3l2 3m-1-3l2 3m-1-3l2 3m-1-3l2 3m-2-3l2 3m-2-3l2 3m-1-3l2 3m-2-3l2 3m0-3l2 3m-94-2l2 3m4-3l2 3m-1-3l2 3m-1-3l2 3m-1-3l2 3m14-3l2 3m0-3l2 3m-2-3l2 3m0-3l2 3m-2-3l2 3m2-3l2 3m1-3l2 3m-2-3l2 3m-2-3l2 3m-2-3l2 3m-1-3l2 3m-2-3l2 3m0-3l2 3m41-3l2 3m-1-3l2 3m-1-3l2 3m-2-3l2 3m-2-3l2 3m-2-3l2 3m-1-3l2 3m-1-3l2 3m-2-3l2 3m-1-3l2 3m-1-3l2 3m4-3l2 3m5-3l2 3m-84-2l2 3m-1-3l2 3m5-3l2 3m1-3l2 3m0-3l2 3m0-3l2 3m0-3l2 3m-2-3l2 3m2-3l2 3m39-3l2 3m-1-3l2 3m-1-3l2 3m-1-3l2 3m-1-3l2 3m-2-3l2 3m-2-3l2 3m0-3l2 3m-1-3l2 3m-1-3l2 3m-2-3l2 3m-1-3l2 3m1-3l2 3m-85-2l2 3m7-3l2 3m6-3l2 3m4-3l2 3m-1-3l2 3m-1-3l2 3m-2-3l2 3m-1-3l2 3m-2-3l2 3m-1-3l2 3m-2-3l2 3m-2-3l2 3m-1-3l2 3m-1-3l2 3m41-3l2 3m-1-3l2 3m-1-3l2 3m-1-3l2 3m-2-3l2 3m-2-3l2 3m-2-3l2 3m-1-3l2 3m-2-3l2 3m0-3l2 3m-71-2l2 3m10-3l2 3m-2-3l2 3m2-3l2 3m1-3l2 3m-2-3l2 3m-2-3l2 3m2-3l2 3m-1-3l2 3m37-3l2 3m-1-3l2 3m-1-3l2 3m-2-3l2 3m0-3l2 3m-2-3l2 3m1-3l2 3m-87-2l2 3m21-3l2 3m-1-3l2 3m4-3l2 3m-2-3l2 3m-1-3l2 3m-1-3l2 3m-1-3l2 3m-1-3l2 3m-2-3l2 3m-2-3l2 3m-1-3l2 3m-2-3l2 3m-1-3l2 3m-2-3l2 3m-1-3l2 3m0-3l2 3m-2-3l2 3m-2-3l2 3m37-3l2 3m0-3l2 3m-2-3l2 3m-2-3l2 3m1-3l2 3m-1-3l2 3m-1-3l2 3m-88-2l2 3m6-3l2 3m0-3l2 3m2-3l2 3m-2-3l2 3m-1-3l2 3m-1-3l2 3m15-3l2 3m-1-3l2 3m0-3l2 3m-2-3l2 3m-1-3l2 3m1-3l2 3m24-3l2 3m5-3l2 3m3-3l2 3m-2-3l2 3m1-3l2 3m-1-3l2 3m1-3l2 3m-83-2l2 3m-1-3l2 3m1-3l2 3m8-3l2 3m6-3l2 3m2-3l2 3m-2-3l2 3m-2-3l2 3m-1-3l2 3m-2-3l2 3m0-3l2 3m0-3l2 3m-1-3l2 3m-1-3l2 3m-1-3l2 3m-2-3l2 3m-1-3l2 3m-2-3l2 3m-1-3l2 3m-2-3l2 3m-2-3l2 3m-2-3l2 3m-1-3l2 3m-2-3l2 3m1-3l2 3m6-3l2 3m22-3l2 3m0-3l2 3m0-3l2 3m-2-3l2 3m-2-3l2 3m-2-3l2 3m-73-2l2 3m3-3l2 3m4-3l2 3m5-3l2 3m1-3l2 3m3-3l2 3m-2-3l2 3m-1-3l2 3m0-3l2 3m-2-3l2 3m-2-3l2 3m-1-3l2 3m-2-3l2 3m-1-3l2 3m-1-3l2 3m-2-3l2 3m-2-3l2 3m-2-3l2 3m23-3l2 3m6-3l2 3m2-3l2 3m-2-3l2 3m-1-3l2 3m-1-3l2 3m-1-3l2 3m-1-3l2 3m-2-3l2 3m-54-2l2 3m-1-3l2 3m0-3l2 3m-1-3l2 3m0-3l2 3m-2-3l2 3m-1-3l2 3m0-3l2 3m-2-3l2 3m-1-3l2 3m-2-3l2 3m-1-3l2 3m-1-3l2 3m-2-3l2 3m-1-3l2 3m5-3l2 3m27-3l2 3m-2-3l2 3m-1-3l2 3m1-3l2 3m-179-2l2 3m116-3l2 3m2-3l2 3m-1-3l2 3m4-3l2 3m-2-3l2 3m-1-3l2 3m-1-3l2 3m1-3l2 3m1-3l2 3m-1-3l2 3m12-3l2 3m1-3l2 3m12-3l2 3m0-3l2 3m0-3l2 3m-1-3l2 3m-2-3l2 3m-2-3l2 3m1-3l2 3m-81-2l2 3m1-3l2 3m7-3l2 3m15-3l2 3m1-3l2 3m0-3l2 3m0-3l2 3m-2-3l2 3m-1-3l2 3m-1-3l2 3m-2-3l2 3m-2-3l2 3m1-3l2 3m6-3l2 3m11-3l2 3m6-3l2 3m2-3l2 3m0-3l2 3m0-3l2 3m-1-3l2 3m-1-3l2 3m-2-3l2 3m-80-2l2 3m11-3l2 3m3-3l2 3m8-3l2 3m-1-3l2 3m-2-3l2 3m2-3l2 3m-2-3l2 3m-2-3l2 3m0-3l2 3m0-3l2 3m-2-3l2 3m0-3l2 3m12-3l2 3m8-3l2 3m-1-3l2 3m6-3l2 3m-2-3l2 3m-1-3l2 3m-1-3l2 3m-2-3l2 3m-1-3l2 3m-75-2l2 3m20-3l2 3m7-3l2 3m0-3l2 3m0-3l2 3m3-3l2 3m-1-3l2 3m0-3l2 3m-2-3l2 3m14-3l2 3m7-3l2 3m-1-3l2 3m0-3l2 3m-2-3l2 3m-2-3l2 3m-2-3l2 3m-1-3l2 3m-1-3l2 3m-1-3l2 3m-68-2l2 3m-2-3l2 3m18-3l2 3m2-3l2 3m-2-3l2 3m-1-3l2 3m-1-3l2 3m-2-3l2 3m-1-3l2 3m-1-3l2 3m2-3l2 3m-2-3l2 3m-1-3l2 3m-2-3l2 3m-1-3l2 3m3-3l2 3m5-3l2 3m13-3l2 3m-2-3l2 3m0-3l2 3m-1-3l2 3m3-3l2 3m-69-2l2 3m0-3l2 3m1-3l2 3m2-3l2 3m5-3l2 3m-1-3l2 3m2-3l2 3m9-3l2 3m-1-3l2 3m-2-3l2 3m3-3l2 3m-1-3l2 3m17-3l2 3m-2-3l2 3m-1-3l2 3m-2-3l2 3m1-3l2 3m-2-3l2 3m-1-3l2 3m-60-2l2 3m-2-3l2 3m0-3l2 3m10-3l2 3m5-3l2 3m-1-3l2 3m-2-3l2 3m1-3l2 3m0-3l2 3m-2-3l2 3m13-3l2 3m0-3l2 3m0-3l2 3m2-3l2 3m1-3l2 3m-2-3l2 3m-2-3l2 3m-1-3l2 3m-1-3l2 3m-2-3l2 3m-1-3l2 3m-2-3l2 3m-55-2l2 3m10-3l2 3m-1-3l2 3m0-3l2 3m0-3l2 3m-2-3l2 3m-1-3l2 3m1-3l2 3m-2-3l2 3m-1-3l2 3m-2-3l2 3m-1-3l2 3m1-3l2 3m-2-3l2 3m0-3l2 3m4-3l2 3m10-3l2 3m1-3l2 3m-2-3l2 3m-1-3l2 3m-2-3l2 3m-1-3l2 3m-2-3l2 3m-1-3l2 3m-1-3l2 3m-1-3l2 3m-2-3l2 3m-42-2l2 3m0-3l2 3m2-3l2 3m0-3l2 3m-2-3l2 3m-1-3l2 3m-1-3l2 3m-2-3l2 3m-2-3l2 3m-1-3l2 3m-2-3l2 3m-2-3l2 3m-1-3l2 3m18-3l2 3m4-3l2 3m-2-3l2 3m0-3l2 3m7-3l2 3m-52-2l2 3m-2-3l2 3m0-3l2 3m-1-3l2 3m1-3l2 3m-2-3l2 3m-1-3l2 3m0-3l2 3m-1-3l2 3m-1-3l2 3m-1-3l2 3m-1-3l2 3m-2-3l2 3m-2-3l2 3m-1-3l2 3m0-3l2 3m0-3l2 3m0-3l2 3m2-3l2 3m7-3l2 3m0-3l2 3m-2-3l2 3m0-3l2 3m-1-3l2 3m0-3l2 3m6-3l2 3m-50-2l2 3m0-3l2 3m1-3l2 3m1-3l2 3m-2-3l2 3m-1-3l2 3m-1-3l2 3m-2-3l2 3m-2-3l2 3m-2-3l2 3m-1-3l2 3m0-3l2 3m-2-3l2 3m-2-3l2 3m-1-3l2 3m-1-3l2 3m-1-3l2 3m-2-3l2 3m-2-3l2 3m-1-3l2 3m2-3l2 3m10-3l2 3m-2-3l2 3m0-3l2 3m-36-2l2 3m4-3l2 3m0-3l2 3m-1-3l2 3m-2-3l2 3m-1-3l2 3m-1-3l2 3m-2-3l2 3m-2-3l2 3m-1-3l2 3m-1-3l2 3m-2-3l2 3m-1-3l2 3m-2-3l2 3m1-3l2 3m4-3l2 3m-1-3l2 3m0-3l2 3m2-3l2 3m0-3l2 3m0-3l2 3m-1-3l2 3m1-3l2 3m0-3l2 3m5-3l2 3m-44-2l2 3m2-3l2 3m2-3l2 3m-2-3l2 3m-2-3l2 3m-2-3l2 3m-1-3l2 3m-2-3l2 3m3-3l2 3m8-3l2 3m-1-3l2 3m-1-3l2 3m-2-3l2 3m-1-3l2 3m0-3l2 3m0-3l2 3m0-3l2 3m1-3l2 3m5-3l2 3m-49-2l2 3m1-3l2 3m4-3l2 3m0-3l2 3m-1-3l2 3m1-3l2 3m-1-3l2 3m-1-3l2 3m1-3l2 3m2-3l2 3m0-3l2 3m2-3l2 3m-2-3l2 3m0-3l2 3m-1-3l2 3m-1-3l2 3m-1-3l2 3m6-3l2 3m0-3l2 3m-1-3l2 3m-42-2l2 3m3-3l2 3m0-3l2 3m-1-3l2 3m-1-3l2 3m0-3l2 3m-1-3l2 3m-1-3l2 3m-2-3l2 3m-1-3l2 3m-2-3l2 3m-2-3l2 3m-2-3l2 3m1-3l2 3m-1-3l2 3m-1-3l2 3m0-3l2 3m0-3l2 3m-1-3l2 3m0-3l2 3m0-3l2 3m0-3l2 3m-1-3l2 3m-33-2l2 3m2-3l2 3m-1-3l2 3m0-3l2 3m-1-3l2 3m-1-3l2 3m-2-3l2 3m-2-3l2 3m0-3l2 3m-2-3l2 3m2-3l2 3m0-3l2 3m-2-3l2 3m-1-3l2 3m0-3l2 3m-1-3l2 3m3-3l2 3m-2-3l2 3m-1-3l2 3m-2-3l2 3m-1-3l2 3m-2-3l2 3m-1-3l2 3m-1-3l2 3m0-3l2 3m-41-2l2 3m6-3l2 3m0-3l2 3m7-3l2 3m-2-3l2 3m0-3l2 3m0-3l2 3m-2-3l2 3m-1-3l2 3m0-3l2 3m-2-3l2 3m-1-3l2 3m1-3l2 3m-31-2l2 3m1-3l2 3m1-3l2 3m0-3l2 3m-1-3l2 3m7-3l2 3m-1-3l2 3m0-3l2 3m1-3l2 3m-1-3l2 3m0-3l2 3m-2-3l2 3m0-3l2 3m-1-3l2 3m-2-3l2 3m-1-3l2 3m-2-3l2 3m0-3l2 3m4-3l2 3m-31-2l2 3m2-3l2 3m2-3l2 3m-1-3l2 3m3-3l2 3m0-3l2 3m-2-3l2 3m-1-3l2 3m-2-3l2 3m-1-3l2 3m-2-3l2 3m-1-3l2 3m-2-3l2 3m-1-3l2 3m-1-3l2 3m-1-3l2 3m-1-3l2 3m4-3l2 3m-33-2l2 3m-1-3l2 3m0-3l2 3m4-3l2 3m-2-3l2 3m-2-3l2 3m0-3l2 3m1-3l2 3m-1-3l2 3m0-3l2 3m-2-3l2 3m3-3l2 3m0-3l2 3m5-3l2 3m1-3l2 3m-42-2l2 3m-1-3l2 3m5-3l2 3m3-3l2 3m4-3l2 3m4-3l2 3m0-3l2 3m0-3l2 3m-21-2l2 3m2-3l2 3m5-3l2 3m3-3l2 3m1-3l2 3m-2-3l2 3m-16-2l2 3m3-3l2 3m-2-3l2 3m1-3l2 3m0-3l2 3m-2-3l2 3m-22-2l2 3m13-3l2 3m15-3l2 3m-95-2l2 3m60-3l2 3m1-3l2 3m2-2l2 3m-1-3l2 3m2-3l2 3m1-3l2 3m5-3l2 3m-9-2l2 3m1-3l2 3m2-3l2 3m10-3l2 3m-19-2l2 3m13-3l2 3m-27-2l2 3m12-3l2 3m2-3l2 3m1-1l2 3m-1-3l2 3m-88-2l2 3" stroke="#9400d3" stroke-width="1.4" fill="none"/>
<path d="M1282 578.5h1m-11 2h1m-10 1h1m1 0h1m28 1h1m-20 1h1m38 0h1m-36 1h1m7 0h1m0 0h1m-17 1h1m6 0h1m-1 0h1m7 0h1m-8 1h1m5 1h1m-1 0h1m5 0h1m-1 0h1m10 0h1m8 0h1m20 0h1m-51 1h1m-13 1h1m4 0h1m9 0h1m34 0h1m-54 1h1m10 0h1m-22 1h1m1 0h1m58 0h1m-1 0h1m-72 1h1m1 0h1m2 0h1m35 0h1m8 0h1m4 1h1m33 0h1m-98 1h1m28 0h1m7 0h1m11 0h1m2 0h1m6 0h1m8 0h1m2 0h1m41 0h1m-113 1h1m71 0h1m1 0h1m10 0h1m25 0h1m-96 1h1m4 0h1m39 0h1m7 0h1m-8 1h1m19 0h1m15 0h1m12 0h1m-132 1h1m4 0h1m5 0h1m0 0h1m37 0h1m0 0h1m4 0h1m3 0h1m1 0h1m5 0h1m8 0h1m5 0h1m27 0h1m11 0h1m-102 1h1m11 0h1m14 0h1m38 0h1m-94 1h1m33 0h1m4 0h1m1 0h1m8 0h1m1 0h1m2 0h1m1 0h1m6 0h1m11 0h1m34 0h1m18 0h1m-121 1h1m8 0h1m1 0h1m27 0h1m36 0h1m19 0h1m29 0h1m-1 0h1m62 0h1m-169 1h1m8 0h1m0 0h1m1 0h1m9 0h1m5 0h1m21 0h1m15 0h1m42 0h1m50 0h1m-184 1h1m8 0h1m44 0h1m12 0h1m-1 0h1m19 0h1m8 0h1m6 0h1m7 0h1m3 0h1m46 0h1m2 0h1m33 0h1m-199 1h1m13 0h1m2 0h1m-1 0h1m4 0h1m8 0h1m45 0h1m17 0h1m9 0h1m39 0h1m-147 1h1m8 0h1m16 0h1m11 0h1m1 0h1m9 0h1m7 0h1m11 0h1m15 0h1m19 0h1m45 0h1m49 0h1m-189 1h1m7 0h1m4 0h1m7 0h1m8 0h1m13 0h1m70 0h1m6 0h1m3 0h1m9 0h1m6 0h1m3 0h1m43 0h1m-221 1h1m18 0h1m16 0h1m8 0h1m4 0h1m-1 0h1m24 0h1m7 0h1m4 0h1m7 0h1m11 0h1m0 0h1m39 0h1m-122 1h1m24 0h1m0 0h1m0 0h1m15 0h1m1 0h1m5 0h1m4 0h1m3 0h1m5 0h1m6 0h1m5 0h1m19 0h1m14 0h1m17 0h1m13 0h1m-180 1h1m27 0h1m0 0h1m4 0h1m7 0h1m2 0h1m2 0h1m0 0h1m10 0h1m10 0h1m1 0h1m6 0h1m15 0h1m2 0h1m10 0h1m1 0h1m7 0h1m23 0h1m6 0h1m3 0h1m10 0h1m17 0h1m9 0h1m-170 1h1m9 0h1m4 0h1m9 0h1m7 0h1m3 0h1m6 0h1m2 0h1m5 0h1m1 0h1m-1 0h1m-1 0h1m4 0h1m5 0h1m9 0h1m5 0h1m0 0h1m115 0h1m12 0h1m-214 1h1m2 0h1m4 0h1m7 0h1m13 0h1m8 0h1m4 0h1m26 0h1m0 0h1m14 0h1m12 0h1m33 0h1m96 0h1m-244 1h1m39 0h1m15 0h1m9 0h1m17 0h1m4 0h1m3 0h1m8 0h1m10 0h1m1 0h1m6 0h1m34 0h1m12 0h1m14 0h1m54 0h1m22 0h1m-258 1h1m11 0h1m9 0h1m7 0h1m0 0h1m4 0h1m2 0h1m13 0h1m18 0h1m9 0h1m6 0h1m3 0h1m1 0h1m2 0h1m2 0h1m9 0h1m0 0h1m28 0h1m25 0h1m30 0h1m13 0h1m13 0h1m17 0h1m-254 1h1m17 0h1m2 0h1m4 0h1m-1 0h1m12 0h1m0 0h1m-1 0h1m3 0h1m1 0h1m-1 0h1m4 0h1m1 0h1m9 0h1m4 0h1m0 0h1m4 0h1m6 0h1m5 0h1m25 0h1m2 0h1m6 0h1m49 0h1m2 0h1m9 0h1m-1 0h1m3 0h1m7 0h1m23 0h1m27 0h1m1 0h1m-267 1h1m7 0h1m15 0h1m17 0h1m5 0h1m2 0h1m4 0h1m0 0h1m9 0h1m-1 0h1m15 0h1m2 0h1m19 0h1m19 0h1m0 0h1m29 0h1m12 0h1m8 0h1m8 0h1m19 0h1m60 0h1m-246 1h1m11 0h1m8 0h1m3 0h1m4 0h1m4 0h1m9 0h1m9 0h1m6 0h1m12 0h1m4 0h1m7 0h1m20 0h1m-1 0h1m5 0h1m2 0h1m-1 0h1m13 0h1m14 0h1m8 0h1m30 0h1m2 0h1m39 0h1m36 0h1m19 0h1m-287 1h1m23 0h1m3 0h1m3 0h1m-1 0h1m3 0h1m10 0h1m0 0h1m1 0h1m5 0h1m2 0h1m14 0h1m4 0h1m4 0h1m2 0h1m4 0h1m6 0h1m8 0h1m7 0h1m39 0h1m0 0h1m1 0h1m11 0h1m34 0h1m20 0h1m9 0h1m18 0h1m-1 0h1m14 0h1m7 0h1m-1 0h1m2 0h1m-282 1h1m1 0h1m3 0h1m17 0h1m6 0h1m-1 0h1m2 0h1m4 0h1m2 0h1m5 0h1m0 0h1m0 0h1m5 0h1m-1 0h1m1 0h1m0 0h1m4 0h1m11 0h1m-1 0h1m1 0h1m3 0h1m18 0h1m7 0h1m3 0h1m3 0h1m10 0h1m1 0h1m11 0h1m15 0h1m28 0h1m18 0h1m12 0h1m4 0h1m31 0h1m9 0h1m-258 1h1m17 0h1m8 0h1m1 0h1m-1 0h1m7 0h1m13 0h1m9 0h1m3 0h1m11 0h1m35 0h1m4 0h1m10 0h1m8 0h1m0 0h1m0 0h1m12 0h1m16 0h1m7 0h1m8 0h1m7 0h1m13 0h1m52 0h1m-305 1h1m14 0h1m18 0h1m9 0h1m2 0h1m0 0h1m16 0h1m5 0h1m-1 0h1m2 0h1m1 0h1m3 0h1m6 0h1m6 0h1m0 0h1m-1 0h1m3 0h1m1 0h1m5 0h1m1 0h1m6 0h1m6 0h1m2 0h1m15 0h1m0 0h1m0 0h1m4 0h1m1 0h1m7 0h1m0 0h1m20 0h1m9 0h1m13 0h1m18 0h1m12 0h1m46 0h1m4 0h1m0 0h1m-1 0h1m26 0h1m-309 1h1m41 0h1m14 0h1m2 0h1m0 0h1m11 0h1m9 0h1m2 0h1m12 0h1m0 0h1m2 0h1m7 0h1m0 0h1m3 0h1m20 0h1m20 0h1m12 0h1m11 0h1m35 0h1m2 0h1m1 0h1m25 0h1m3 0h1m36 0h1m1 0h1m11 0h1m26 0h1m-355 1h1m40 0h1m15 0h1m4 0h1m14 0h1m2 0h1m2 0h1m10 0h1m1 0h1m5 0h1m3 0h1m5 0h1m10 0h1m4 0h1m1 0h1m3 0h1m0 0h1m20 0h1m1 0h1m12 0h1m15 0h1m24 0h1m0 0h1m-1 0h1m1 0h1m5 0h1m25 0h1m13 0h1m9 0h1m23 0h1m23 0h1m-1 0h1m15 0h1m7 0h1m12 0h1m5 0h1m-344 1h1m4 0h1m12 0h1m23 0h1m-1 0h1m6 0h1m5 0h1m7 0h1m10 0h1m0 0h1m4 0h1m2 0h1m4 0h1m15 0h1m2 0h1m3 0h1m3 0h1m0 0h1m1 0h1m0 0h1m6 0h1m8 0h1m3 0h1m7 0h1m0 0h1m11 0h1m-1 0h1m2 0h1m23 0h1m20 0h1m7 0h1m1 0h1m27 0h1m52 0h1m11 0h1m3 0h1m2 0h1m2 0h1m9 0h1m0 0h1m-289 1h1m9 0h1m3 0h1m3 0h1m2 0h1m1 0h1m2 0h1m28 0h1m-1 0h1m3 0h1m12 0h1m1 0h1m21 0h1m8 0h1m0 0h1m2 0h1m25 0h1m0 0h1m34 0h1m25 0h1m0 0h1m6 0h1m19 0h1m13 0h1m0 0h1m10 0h1m15 0h1m15 0h1m12 0h1m-375 1h1m63 0h1m17 0h1m4 0h1m-1 0h1m12 0h1m6 0h1m3 0h1m4 0h1m7 0h1m0 0h1m8 0h1m2 0h1m-1 0h1m0 0h1m7 0h1m1 0h1m7 0h1m9 0h1m8 0h1m2 0h1m-1 0h1m13 0h1m-1 0h1m11 0h1m15 0h1m4 0h1m7 0h1m38 0h1m0 0h1m3 0h1m61 0h1m0 0h1m20 0h1m7 0h1m-1 0h1m6 0h1m-377 1h1m52 0h1m9 0h1m17 0h1m24 0h1m25 0h1m4 0h1m-1 0h1m3 0h1m-1 0h1m0 0h1m0 0h1m0 0h1m-1 0h1m25 0h1m7 0h1m4 0h1m5 0h1m3 0h1m3 0h1m-1 0h1m8 0h1m15 0h1m3 0h1m0 0h1m8 0h1m13 0h1m15 0h1m4 0h1m3 0h1m-1 0h1m50 0h1m18 0h1m5 0h1m6 0h1m2 0h1m-1 0h1m1 0h1m10 0h1m0 0h1m-1 0h1m-375 1h1m50 0h1m17 0h1m2 0h1m10 0h1m3 0h1m1 0h1m5 0h1m19 0h1m15 0h1m0 0h1m6 0h1m6 0h1m5 0h1m-1 0h1m-1 0h1m19 0h1m3 0h1m4 0h1m2 0h1m1 0h1m2 0h1m1 0h1m25 0h1m11 0h1m9 0h1m29 0h1m5 0h1m0 0h1m24 0h1m13 0h1m3 0h1m25 0h1m2 0h1m5 0h1m41 0h1m-407 1h1m52 0h1m3 0h1m23 0h1m2 0h1m33 0h1m10 0h1m21 0h1m-1 0h1m34 0h1m8 0h1m5 0h1m3 0h1m16 0h1m1 0h1m1 0h1m12 0h1m2 0h1m7 0h1m0 0h1m7 0h1m19 0h1m3 0h1m-1 0h1m0 0h1m5 0h1m2 0h1m-1 0h1m22 0h1m0 0h1m1 0h1m6 0h1m0 0h1m1 0h1m22 0h1m2 0h1m3 0h1m2 0h1m1 0h1m17 0h1m0 0h1m8 0h1m-317 1h1m1 0h1m16 0h1m4 0h1m-1 0h1m-1 0h1m18 0h1m4 0h1m-1 0h1m9 0h1m5 0h1m7 0h1m5 0h1m9 0h1m2 0h1m10 0h1m1 0h1m30 0h1m11 0h1m20 0h1m0 0h1m0 0h1m47 0h1m1 0h1m10 0h1m25 0h1m1 0h1m0 0h1m15 0h1m19 0h1m-325 1h1m10 0h1m23 0h1m-1 0h1m3 0h1m4 0h1m0 0h1m10 0h1m1 0h1m0 0h1m5 0h1m0 0h1m3 0h1m4 0h1m2 0h1m1 0h1m2 0h1m1 0h1m2 0h1m1 0h1m6 0h1m3 0h1m6 0h1m2 0h1m11 0h1m7 0h1m6 0h1m20 0h1m9 0h1m1 0h1m0 0h1m13 0h1m6 0h1m0 0h1m11 0h1m11 0h1m6 0h1m3 0h1m6 0h1m5 0h1m27 0h1m6 0h1m0 0h1m3 0h1m25 0h1m24 0h1m6 0h1m4 0h1m3 0h1m8 0h1m-314 1h1m0 0h1m3 0h1m6 0h1m0 0h1m11 0h1m7 0h1m2 0h1m1 0h1m0 0h1m3 0h1m2 0h1m0 0h1m6 0h1m-1 0h1m3 0h1m8 0h1m4 0h1m8 0h1m2 0h1m5 0h1m0 0h1m5 0h1m1 0h1m-1 0h1m5 0h1m12 0h1m27 0h1m38 0h1m29 0h1m15 0h1m4 0h1m4 0h1m13 0h1m1 0h1m5 0h1m3 0h1m8 0h1m1 0h1m27 0h1m-389 1h1m42 0h1m15 0h1m19 0h1m2 0h1m5 0h1m2 0h1m3 0h1m3 0h1m3 0h1m0 0h1m0 0h1m7 0h1m2 0h1m2 0h1m2 0h1m9 0h1m6 0h1m5 0h1m0 0h1m3 0h1m3 0h1m14 0h1m1 0h1m2 0h1m0 0h1m16 0h1m1 0h1m12 0h1m2 0h1m3 0h1m34 0h1m12 0h1m0 0h1m39 0h1m-1 0h1m26 0h1m0 0h1m23 0h1m14 0h1m-361 1h1m5 0h1m13 0h1m1 0h1m8 0h1m3 0h1m0 0h1m5 0h1m6 0h1m3 0h1m6 0h1m4 0h1m5 0h1m3 0h1m3 0h1m0 0h1m-1 0h1m4 0h1m-1 0h1m-1 0h1m2 0h1m1 0h1m2 0h1m-1 0h1m3 0h1m8 0h1m2 0h1m-1 0h1m1 0h1m8 0h1m5 0h1m4 0h1m2 0h1m4 0h1m0 0h1m4 0h1m15 0h1m0 0h1m2 0h1m4 0h1m8 0h1m1 0h1m9 0h1m4 0h1m6 0h1m14 0h1m4 0h1m27 0h1m0 0h1m1 0h1m0 0h1m9 0h1m-1 0h1m10 0h1m2 0h1m14 0h1m0 0h1m30 0h1m50 0h1m-337 1h1m0 0h1m3 0h1m9 0h1m3 0h1m2 0h1m0 0h1m9 0h1m10 0h1m2 0h1m12 0h1m6 0h1m4 0h1m1 0h1m-1 0h1m-1 0h1m1 0h1m4 0h1m1 0h1m-1 0h1m6 0h1m0 0h1m2 0h1m0 0h1m5 0h1m24 0h1m5 0h1m0 0h1m1 0h1m0 0h1m1 0h1m5 0h1m6 0h1m-1 0h1m0 0h1m5 0h1m5 0h1m6 0h1m9 0h1m2 0h1m1 0h1m8 0h1m3 0h1m5 0h1m8 0h1m6 0h1m0 0h1m5 0h1m3 0h1m6 0h1m6 0h1m8 0h1m4 0h1m7 0h1m21 0h1m24 0h1m15 0h1m-408 1h1m44 0h1m21 0h1m3 0h1m22 0h1m17 0h1m1 0h1m3 0h1m4 0h1m0 0h1m1 0h1m9 0h1m5 0h1m0 0h1m3 0h1m10 0h1m3 0h1m4 0h1m0 0h1m-1 0h1m13 0h1m2 0h1m5 0h1m0 0h1m3 0h1m5 0h1m3 0h1m3 0h1m3 0h1m3 0h1m1 0h1m2 0h1m1 0h1m4 0h1m1 0h1m6 0h1m4 0h1m4 0h1m4 0h1m0 0h1m18 0h1m1 0h1m9 0h1m15 0h1m4 0h1m8 0h1m6 0h1m1 0h1m12 0h1m10 0h1m22 0h1m21 0h1m0 0h1m-393 1h1m65 0h1m0 0h1m-1 0h1m5 0h1m14 0h1m1 0h1m19 0h1m5 0h1m1 0h1m4 0h1m0 0h1m1 0h1m-1 0h1m-1 0h1m3 0h1m17 0h1m2 0h1m17 0h1m0 0h1m-1 0h1m1 0h1m10 0h1m9 0h1m2 0h1m5 0h1m0 0h1m2 0h1m2 0h1m12 0h1m-1 0h1m9 0h1m-1 0h1m8 0h1m2 0h1m-1 0h1m1 0h1m4 0h1m11 0h1m6 0h1m13 0h1m13 0h1m1 0h1m2 0h1m28 0h1m2 0h1m9 0h1m0 0h1m5 0h1m8 0h1m3 0h1m4 0h1m7 0h1m10 0h1m1 0h1m2 0h1m-361 1h1m50 0h1m2 0h1m9 0h1m4 0h1m0 0h1m3 0h1m4 0h1m1 0h1m5 0h1m-1 0h1m6 0h1m0 0h1m2 0h1m11 0h1m0 0h1m13 0h1m3 0h1m3 0h1m0 0h1m13 0h1m7 0h1m3 0h1m0 0h1m6 0h1m1 0h1m3 0h1m-1 0h1m7 0h1m-1 0h1m3 0h1m30 0h1m7 0h1m16 0h1m8 0h1m1 0h1m11 0h1m13 0h1m29 0h1m0 0h1m4 0h1m34 0h1m6 0h1m2 0h1m-372 1h1m27 0h1m32 0h1m2 0h1m2 0h1m3 0h1m0 0h1m21 0h1m0 0h1m2 0h1m0 0h1m0 0h1m2 0h1m10 0h1m0 0h1m-1 0h1m0 0h1m2 0h1m8 0h1m6 0h1m3 0h1m8 0h1m-1 0h1m7 0h1m5 0h1m5 0h1m2 0h1m1 0h1m4 0h1m-1 0h1m18 0h1m7 0h1m14 0h1m5 0h1m7 0h1m16 0h1m13 0h1m20 0h1m5 0h1m18 0h1m0 0h1m9 0h1m-1 0h1m1 0h1m2 0h1m5 0h1m8 0h1m5 0h1m10 0h1m14 0h1m-408 1h1m55 0h1m19 0h1m-1 0h1m3 0h1m0 0h1m2 0h1m5 0h1m0 0h1m3 0h1m4 0h1m12 0h1m2 0h1m6 0h1m2 0h1m3 0h1m16 0h1m28 0h1m1 0h1m7 0h1m-1 0h1m16 0h1m-1 0h1m2 0h1m1 0h1m-1 0h1m7 0h1m6 0h1m1 0h1m23 0h1m0 0h1m5 0h1m0 0h1m0 0h1m1 0h1m1 0h1m2 0h1m1 0h1m5 0h1m11 0h1m14 0h1m0 0h1m0 0h1m5 0h1m6 0h1m3 0h1m24 0h1m0 0h1m9 0h1m0 0h1m0 0h1m11 0h1m4 0h1m13 0h1m-334 1h1m0 0h1m9 0h1m9 0h1m17 0h1m-1 0h1m7 0h1m-1 0h1m17 0h1m7 0h1m-1 0h1m5 0h1m-1 0h1m0 0h1m4 0h1m0 0h1m-1 0h1m2 0h1m2 0h1m2 0h1m3 0h1m4 0h1m1 0h1m3 0h1m5 0h1m0 0h1m0 0h1m0 0h1m5 0h1m4 0h1m8 0h1m15 0h1m1 0h1m-1 0h1m16 0h1m15 0h1m3 0h1m3 0h1m13 0h1m17 0h1m12 0h1m22 0h1m8 0h1m20 0h1m7 0h1m1 0h1m2 0h1m10 0h1m0 0h1m10 0h1m-1 0h1m5 0h1m5 0h1m12 0h1m10 0h1m-375 1h1m5 0h1m22 0h1m0 0h1m12 0h1m-1 0h1m2 0h1m13 0h1m5 0h1m12 0h1m1 0h1m7 0h1m1 0h1m5 0h1m0 0h1m3 0h1m4 0h1m0 0h1m11 0h1m16 0h1m2 0h1m4 0h1m13 0h1m2 0h1m1 0h1m3 0h1m1 0h1m1 0h1m0 0h1m0 0h1m3 0h1m2 0h1m2 0h1m12 0h1m6 0h1m43 0h1m2 0h1m5 0h1m1 0h1m6 0h1m9 0h1m17 0h1m-1 0h1m6 0h1m2 0h1m0 0h1m1 0h1m4 0h1m8 0h1m1 0h1m4 0h1m1 0h1m7 0h1m6 0h1m3 0h1m0 0h1m-1 0h1m1 0h1m0 0h1m-1 0h1m3 0h1m4 0h1m21 0h1m-348 1h1m2 0h1m4 0h1m9 0h1m8 0h1m11 0h1m5 0h1m6 0h1m2 0h1m5 0h1m8 0h1m3 0h1m19 0h1m4 0h1m-1 0h1m5 0h1m-1 0h1m-1 0h1m0 0h1m8 0h1m6 0h1m6 0h1m4 0h1m11 0h1m17 0h1m2 0h1m8 0h1m0 0h1m18 0h1m0 0h1m0 0h1m20 0h1m5 0h1m3 0h1m2 0h1m12 0h1m16 0h1m5 0h1m-1 0h1m9 0h1m2 0h1m1 0h1m0 0h1m4 0h1m5 0h1m4 0h1m0 0h1m-1 0h1m-1 0h1m7 0h1m0 0h1m1 0h1m-399 1h1m68 0h1m4 0h1m3 0h1m7 0h1m3 0h1m18 0h1m9 0h1m-1 0h1m1 0h1m1 0h1m20 0h1m14 0h1m1 0h1m20 0h1m2 0h1m14 0h1m20 0h1m3 0h1m2 0h1m7 0h1m1 0h1m0 0h1m28 0h1m0 0h1m16 0h1m6 0h1m3 0h1m-1 0h1m12 0h1m1 0h1m2 0h1m1 0h1m2 0h1m8 0h1m2 0h1m4 0h1m2 0h1m25 0h1m4 0h1m2 0h1m1 0h1m6 0h1m4 0h1m0 0h1m5 0h1m3 0h1m1 0h1m3 0h1m-356 1h1m30 0h1m11 0h1m4 0h1m16 0h1m5 0h1m1 0h1m3 0h1m-1 0h1m18 0h1m10 0h1m4 0h1m0 0h1m4 0h1m0 0h1m0 0h1m0 0h1m2 0h1m-1 0h1m4 0h1m3 0h1m9 0h1m5 0h1m0 0h1m2 0h1m2 0h1m2 0h1m12 0h1m0 0h1m2 0h1m2 0h1m3 0h1m10 0h1m6 0h1m3 0h1m4 0h1m3 0h1m2 0h1m3 0h1m5 0h1m1 0h1m3 0h1m15 0h1m2 0h1m3 0h1m1 0h1m1 0h1m15 0h1m0 0h1m0 0h1m4 0h1m0 0h1m13 0h1m0 0h1m3 0h1m5 0h1m2 0h1m0 0h1m6 0h1m0 0h1m4 0h1m3 0h1m0 0h1m-1 0h1m2 0h1m9 0h1m0 0h1m0 0h1m3 0h1m-1 0h1m9 0h1m-386 1h1m52 0h1m0 0h1m12 0h1m17 0h1m1 0h1m1 0h1m9 0h1m5 0h1m1 0h1m10 0h1m4 0h1m4 0h1m13 0h1m2 0h1m4 0h1m2 0h1m-1 0h1m2 0h1m2 0h1m0 0h1m2 0h1m1 0h1m1 0h1m1 0h1m0 0h1m11 0h1m5 0h1m3 0h1m0 0h1m1 0h1m0 0h1m21 0h1m0 0h1m2 0h1m7 0h1m1 0h1m5 0h1m12 0h1m0 0h1m1 0h1m1 0h1m1 0h1m18 0h1m9 0h1m17 0h1m10 0h1m0 0h1m3 0h1m3 0h1m4 0h1m1 0h1m1 0h1m4 0h1m-1 0h1m2 0h1m1 0h1m-1 0h1m0 0h1m4 0h1m11 0h1m2 0h1m0 0h1m2 0h1m1 0h1m4 0h1m-1 0h1m8 0h1m-1 0h1m0 0h1m8 0h1m11 0h1m-447 1h1m74 0h1m9 0h1m11 0h1m2 0h1m-1 0h1m23 0h1m6 0h1m1 0h1m5 0h1m5 0h1m-1 0h1m4 0h1m-1 0h1m1 0h1m13 0h1m19 0h1m0 0h1m-1 0h1m3 0h1m17 0h1m13 0h1m7 0h1m0 0h1m2 0h1m-1 0h1m5 0h1m3 0h1m7 0h1m7 0h1m0 0h1m-1 0h1m2 0h1m21 0h1m18 0h1m1 0h1m3 0h1m3 0h1m-1 0h1m6 0h1m2 0h1m6 0h1m0 0h1m16 0h1m1 0h1m9 0h1m4 0h1m2 0h1m15 0h1m-1 0h1m0 0h1m3 0h1m2 0h1m3 0h1m2 0h1m0 0h1m0 0h1m0 0h1m3 0h1m0 0h1m9 0h1m-408 1h1m31 0h1m26 0h1m12 0h1m1 0h1m10 0h1m23 0h1m-1 0h1m2 0h1m-1 0h1m-1 0h1m10 0h1m3 0h1m-1 0h1m0 0h1m2 0h1m2 0h1m4 0h1m0 0h1m1 0h1m2 0h1m13 0h1m-1 0h1m4 0h1m-1 0h1m15 0h1m2 0h1m0 0h1m25 0h1m1 0h1m2 0h1m-1 0h1m7 0h1m4 0h1m1 0h1m3 0h1m4 0h1m2 0h1m4 0h1m0 0h1m2 0h1m4 0h1m10 0h1m9 0h1m1 0h1m2 0h1m3 0h1m1 0h1m15 0h1m2 0h1m4 0h1m3 0h1m0 0h1m9 0h1m3 0h1m4 0h1m-1 0h1m0 0h1m5 0h1m3 0h1m-1 0h1m1 0h1m10 0h1m2 0h1m2 0h1m-1 0h1m0 0h1m2 0h1m1 0h1m3 0h1m0 0h1m-1 0h1m2 0h1m8 0h1m0 0h1m3 0h1m12 0h1m6 0h1m-414 1h1m3 0h1m2 0h1m8 0h1m46 0h1m11 0h1m1 0h1m1 0h1m9 0h1m8 0h1m16 0h1m10 0h1m-1 0h1m7 0h1m8 0h1m1 0h1m-1 0h1m0 0h1m2 0h1m7 0h1m2 0h1m4 0h1m0 0h1m0 0h1m1 0h1m2 0h1m-1 0h1m0 0h1m1 0h1m-1 0h1m6 0h1m10 0h1m5 0h1m0 0h1m7 0h1m4 0h1m1 0h1m0 0h1m2 0h1m-1 0h1m5 0h1m4 0h1m2 0h1m17 0h1m3 0h1m1 0h1m17 0h1m1 0h1m2 0h1m4 0h1m3 0h1m3 0h1m8 0h1m7 0h1m1 0h1m3 0h1m-1 0h1m3 0h1m18 0h1m3 0h1m7 0h1m1 0h1m1 0h1m3 0h1m0 0h1m0 0h1m-1 0h1m6 0h1m12 0h1m4 0h1m2 0h1m2 0h1m2 0h1m1 0h1m2 0h1m-1 0h1m2 0h1m1 0h1m0 0h1m-428 1h1m10 0h1m0 0h1m77 0h1m3 0h1m13 0h1m5 0h1m1 0h1m6 0h1m8 0h1m7 0h1m9 0h1m3 0h1m14 0h1m1 0h1m2 0h1m0 0h1m0 0h1m7 0h1m9 0h1m1 0h1m0 0h1m1 0h1m2 0h1m4 0h1m8 0h1m6 0h1m7 0h1m1 0h1m5 0h1m0 0h1m1 0h1m2 0h1m-1 0h1m-1 0h1m0 0h1m4 0h1m12 0h1m16 0h1m4 0h1m2 0h1m-1 0h1m15 0h1m5 0h1m24 0h1m0 0h1m5 0h1m10 0h1m7 0h1m1 0h1m7 0h1m-1 0h1m1 0h1m1 0h1m-1 0h1m0 0h1m1 0h1m6 0h1m0 0h1m1 0h1m3 0h1m0 0h1m3 0h1m0 0h1m1 0h1m0 0h1m2 0h1m2 0h1m-1 0h1m2 0h1m5 0h1m1 0h1m0 0h1m7 0h1m18 0h1m-382 1h1m50 0h1m9 0h1m5 0h1m10 0h1m5 0h1m0 0h1m16 0h1m5 0h1m2 0h1m9 0h1m5 0h1m2 0h1m35 0h1m4 0h1m9 0h1m3 0h1m3 0h1m11 0h1m10 0h1m1 0h1m8 0h1m6 0h1m5 0h1m1 0h1m1 0h1m8 0h1m5 0h1m4 0h1m3 0h1m0 0h1m4 0h1m18 0h1m6 0h1m1 0h1m4 0h1m1 0h1m0 0h1m1 0h1m0 0h1m0 0h1m0 0h1m-1 0h1m-1 0h1m2 0h1m0 0h1m-1 0h1m2 0h1m-1 0h1m1 0h1m3 0h1m0 0h1m-1 0h1m-1 0h1m-1 0h1m3 0h1m-1 0h1m4 0h1m1 0h1m-1 0h1m0 0h1m0 0h1m0 0h1m-1 0h1m0 0h1m1 0h1m-1 0h1m1 0h1m2 0h1m-1 0h1m1 0h1m0 0h1m5 0h1m-1 0h1m8 0h1m-437 1h1m5 0h1m96 0h1m3 0h1m0 0h1m5 0h1m13 0h1m1 0h1m0 0h1m5 0h1m0 0h1m-1 0h1m2 0h1m0 0h1m1 0h1m14 0h1m1 0h1m-1 0h1m2 0h1m0 0h1m-1 0h1m8 0h1m0 0h1m0 0h1m0 0h1m5 0h1m-1 0h1m5 0h1m4 0h1m12 0h1m5 0h1m-1 0h1m1 0h1m1 0h1m3 0h1m5 0h1m6 0h1m0 0h1m4 0h1m5 0h1m1 0h1m0 0h1m3 0h1m0 0h1m-1 0h1m8 0h1m-1 0h1m0 0h1m5 0h1m-1 0h1m1 0h1m3 0h1m-1 0h1m1 0h1m6 0h1m0 0h1m5 0h1m2 0h1m7 0h1m8 0h1m2 0h1m20 0h1m7 0h1m6 0h1m2 0h1m0 0h1m4 0h1m6 0h1m2 0h1m-1 0h1m4 0h1m2 0h1m-1 0h1m0 0h1m1 0h1m0 0h1m2 0h1m-1 0h1m2 0h1m0 0h1m1 0h1m3 0h1m-1 0h1m1 0h1m1 0h1m-1 0h1m0 0h1m0 0h1m1 0h1m2 0h1m0 0h1m0 0h1m2 0h1m0 0h1m0 0h1m2 0h1m7 0h1m4 0h1m28 0h1m-425 1h1m6 0h1m4 0h1m50 0h1m13 0h1m3 0h1m1 0h1m12 0h1m3 0h1m3 0h1m1 0h1m0 0h1m0 0h1m3 0h1m5 0h1m3 0h1m2 0h1m1 0h1m5 0h1m3 0h1m5 0h1m0 0h1m11 0h1m4 0h1m2 0h1m-1 0h1m3 0h1m4 0h1m8 0h1m1 0h1m0 0h1m5 0h1m5 0h1m10 0h1m0 0h1m1 0h1m0 0h1m4 0h1m5 0h1m1 0h1m7 0h1m7 0h1m4 0h1m2 0h1m8 0h1m1 0h1m0 0h1m0 0h1m3 0h1m3 0h1m-1 0h1m10 0h1m5 0h1m6 0h1m0 0h1m1 0h1m-1 0h1m0 0h1m3 0h1m6 0h1m1 0h1m-1 0h1m6 0h1m3 0h1m1 0h1m0 0h1m-1 0h1m0 0h1m2 0h1m1 0h1m3 0h1m0 0h1m0 0h1m2 0h1m0 0h1m2 0h1m0 0h1m2 0h1m0 0h1m-1 0h1m0 0h1m3 0h1m-1 0h1m1 0h1m9 0h1m1 0h1m0 0h1m-1 0h1m0 0h1m1 0h1m-1 0h1m0 0h1m-1 0h1m2 0h1m1 0h1m2 0h1m0 0h1m0 0h1m5 0h1m5 0h1m0 0h1m3 0h1m2 0h1m-410 1h1m33 0h1m14 0h1m31 0h1m4 0h1m0 0h1m1 0h1m4 0h1m5 0h1m2 0h1m1 0h1m3 0h1m3 0h1m-1 0h1m4 0h1m8 0h1m0 0h1m5 0h1m-1 0h1m5 0h1m0 0h1m0 0h1m-1 0h1m6 0h1m4 0h1m0 0h1m1 0h1m1 0h1m9 0h1m6 0h1m1 0h1m2 0h1m0 0h1m0 0h1m4 0h1m0 0h1m2 0h1m2 0h1m4 0h1m21 0h1m1 0h1m11 0h1m0 0h1m2 0h1m4 0h1m1 0h1m1 0h1m18 0h1m7 0h1m0 0h1m-1 0h1m29 0h1m4 0h1m0 0h1m0 0h1m8 0h1m-1 0h1m2 0h1m2 0h1m6 0h1m0 0h1m0 0h1m6 0h1m1 0h1m1 0h1m0 0h1m4 0h1m-1 0h1m3 0h1m1 0h1m-1 0h1m1 0h1m-1 0h1m1 0h1m1 0h1m3 0h1m0 0h1m2 0h1m0 0h1m0 0h1m-1 0h1m1 0h1m2 0h1m2 0h1m4 0h1m2 0h1m0 0h1m4 0h1m9 0h1m0 0h1m19 0h1m-347 1h1m6 0h1m1 0h1m11 0h1m5 0h1m1 0h1m1 0h1m1 0h1m6 0h1m5 0h1m-1 0h1m0 0h1m2 0h1m0 0h1m1 0h1m13 0h1m4 0h1m4 0h1m1 0h1m1 0h1m6 0h1m13 0h1m2 0h1m10 0h1m10 0h1m0 0h1m0 0h1m3 0h1m-1 0h1m4 0h1m-1 0h1m1 0h1m1 0h1m1 0h1m6 0h1m0 0h1m4 0h1m2 0h1m3 0h1m21 0h1m8 0h1m8 0h1m8 0h1m4 0h1m-1 0h1m0 0h1m24 0h1m3 0h1m3 0h1m-1 0h1m2 0h1m-1 0h1m0 0h1m1 0h1m-1 0h1m0 0h1m-1 0h1m0 0h1m1 0h1m2 0h1m0 0h1m3 0h1m0 0h1m0 0h1m0 0h1m-1 0h1m0 0h1m0 0h1m-1 0h1m4 0h1m-1 0h1m5 0h1m3 0h1m2 0h1m0 0h1m1 0h1m10 0h1m1 0h1m0 0h1m-1 0h1m2 0h1m-423 1h1m65 0h1m3 0h1m8 0h1m31 0h1m1 0h1m0 0h1m2 0h1m3 0h1m2 0h1m1 0h1m2 0h1m3 0h1m2 0h1m0 0h1m1 0h1m0 0h1m4 0h1m6 0h1m0 0h1m0 0h1m7 0h1m5 0h1m6 0h1m5 0h1m6 0h1m-1 0h1m3 0h1m20 0h1m3 0h1m0 0h1m0 0h1m5 0h1m1 0h1m4 0h1m2 0h1m2 0h1m3 0h1m-1 0h1m-1 0h1m3 0h1m3 0h1m4 0h1m0 0h1m2 0h1m1 0h1m5 0h1m7 0h1m3 0h1m9 0h1m7 0h1m0 0h1m-1 0h1m1 0h1m2 0h1m1 0h1m12 0h1m1 0h1m0 0h1m23 0h1m3 0h1m0 0h1m2 0h1m3 0h1m0 0h1m1 0h1m0 0h1m-1 0h1m0 0h1m2 0h1m2 0h1m1 0h1m3 0h1m0 0h1m1 0h1m3 0h1m0 0h1m-1 0h1m-1 0h1m4 0h1m-1 0h1m1 0h1m0 0h1m1 0h1m0 0h1m-1 0h1m-1 0h1m1 0h1m6 0h1m-1 0h1m0 0h1m1 0h1m-1 0h1m1 0h1m4 0h1m0 0h1m0 0h1m5 0h1m1 0h1m-1 0h1m15 0h1m0 0h1m8 0h1m-450 1h1m22 0h1m9 0h1m59 0h1m2 0h1m2 0h1m13 0h1m3 0h1m2 0h1m5 0h1m2 0h1m-1 0h1m3 0h1m-1 0h1m2 0h1m1 0h1m2 0h1m0 0h1m4 0h1m7 0h1m5 0h1m3 0h1m8 0h1m2 0h1m3 0h1m2 0h1m-1 0h1m8 0h1m2 0h1m1 0h1m1 0h1m8 0h1m12 0h1m-1 0h1m3 0h1m0 0h1m3 0h1m8 0h1m0 0h1m0 0h1m10 0h1m7 0h1m3 0h1m0 0h1m1 0h1m-1 0h1m-1 0h1m1 0h1m2 0h1m0 0h1m1 0h1m2 0h1m18 0h1m17 0h1m2 0h1m3 0h1m3 0h1m0 0h1m3 0h1m-1 0h1m6 0h1m0 0h1m3 0h1m3 0h1m2 0h1m0 0h1m0 0h1m8 0h1m0 0h1m1 0h1m2 0h1m-1 0h1m-1 0h1m0 0h1m0 0h1m1 0h1m0 0h1m2 0h1m1 0h1m-1 0h1m0 0h1m5 0h1m0 0h1m0 0h1m-1 0h1m0 0h1m0 0h1m4 0h1m3 0h1m-1 0h1m0 0h1m0 0h1m0 0h1m3 0h1m-1 0h1m-1 0h1m4 0h1m1 0h1m-1 0h1m0 0h1m4 0h1m4 0h1m9 0h1m-361 1h1m20 0h1m12 0h1m12 0h1m3 0h1m1 0h1m-1 0h1m1 0h1m0 0h1m1 0h1m0 0h1m0 0h1m6 0h1m0 0h1m0 0h1m0 0h1m3 0h1m1 0h1m-1 0h1m2 0h1m6 0h1m0 0h1m3 0h1m0 0h1m1 0h1m1 0h1m1 0h1m0 0h1m9 0h1m4 0h1m0 0h1m-1 0h1m1 0h1m0 0h1m2 0h1m0 0h1m4 0h1m1 0h1m3 0h1m11 0h1m10 0h1m2 0h1m3 0h1m5 0h1m0 0h1m-1 0h1m2 0h1m2 0h1m0 0h1m13 0h1m3 0h1m11 0h1m4 0h1m3 0h1m2 0h1m-1 0h1m4 0h1m2 0h1m2 0h1m13 0h1m1 0h1m2 0h1m-1 0h1m0 0h1m1 0h1m3 0h1m2 0h1m0 0h1m1 0h1m-1 0h1m2 0h1m8 0h1m9 0h1m0 0h1m3 0h1m-1 0h1m0 0h1m-1 0h1m5 0h1m1 0h1m0 0h1m-1 0h1m1 0h1m0 0h1m-1 0h1m0 0h1m0 0h1m2 0h1m1 0h1m1 0h1m1 0h1m-1 0h1m6 0h1m0 0h1m-1 0h1m0 0h1m0 0h1m-1 0h1m2 0h1m1 0h1m0 0h1m0 0h1m1 0h1m1 0h1m3 0h1m11 0h1m28 0h1m3 0h1m-421 1h1m42 0h1m3 0h1m4 0h1m11 0h1m0 0h1m5 0h1m0 0h1m11 0h1m1 0h1m9 0h1m4 0h1m0 0h1m1 0h1m4 0h1m0 0h1m3 0h1m2 0h1m0 0h1m12 0h1m14 0h1m0 0h1m6 0h1m-1 0h1m6 0h1m0 0h1m11 0h1m3 0h1m4 0h1m1 0h1m0 0h1m0 0h1m7 0h1m2 0h1m0 0h1m-1 0h1m1 0h1m19 0h1m2 0h1m9 0h1m1 0h1m0 0h1m3 0h1m1 0h1m18 0h1m1 0h1m3 0h1m9 0h1m6 0h1m0 0h1m0 0h1m1 0h1m3 0h1m-1 0h1m7 0h1m3 0h1m8 0h1m3 0h1m0 0h1m4 0h1m1 0h1m-1 0h1m0 0h1m1 0h1m2 0h1m2 0h1m4 0h1m-1 0h1m2 0h1m-1 0h1m-1 0h1m-1 0h1m0 0h1m1 0h1m7 0h1m5 0h1m1 0h1m5 0h1m3 0h1m-1 0h1m0 0h1m0 0h1m1 0h1m3 0h1m-434 1h1m65 0h1m9 0h1m23 0h1m14 0h1m3 0h1m5 0h1m2 0h1m4 0h1m5 0h1m1 0h1m8 0h1m1 0h1m2 0h1m-1 0h1m0 0h1m-1 0h1m10 0h1m1 0h1m7 0h1m8 0h1m2 0h1m3 0h1m4 0h1m1 0h1m2 0h1m4 0h1m1 0h1m4 0h1m5 0h1m8 0h1m0 0h1m-1 0h1m1 0h1m0 0h1m1 0h1m1 0h1m6 0h1m1 0h1m0 0h1m8 0h1m-1 0h1m6 0h1m1 0h1m0 0h1m4 0h1m3 0h1m5 0h1m3 0h1m-1 0h1m2 0h1m1 0h1m2 0h1m3 0h1m0 0h1m10 0h1m0 0h1m7 0h1m1 0h1m1 0h1m5 0h1m2 0h1m0 0h1m4 0h1m0 0h1m1 0h1m2 0h1m-1 0h1m6 0h1m0 0h1m-1 0h1m3 0h1m8 0h1m4 0h1m2 0h1m0 0h1m2 0h1m-1 0h1m2 0h1m0 0h1m0 0h1m0 0h1m0 0h1m-1 0h1m-1 0h1m3 0h1m-1 0h1m-1 0h1m1 0h1m0 0h1m0 0h1m0 0h1m-1 0h1m-1 0h1m3 0h1m2 0h1m1 0h1m0 0h1m-1 0h1m-1 0h1m-1 0h1m-1 0h1m1 0h1m1 0h1m0 0h1m3 0h1m3 0h1m3 0h1m3 0h1m0 0h1m8 0h1m3 0h1m20 0h1m16 0h1m-481 1h1m51 0h1m26 0h1m25 0h1m9 0h1m3 0h1m30 0h1m2 0h1m3 0h1m2 0h1m0 0h1m0 0h1m2 0h1m0 0h1m3 0h1m3 0h1m3 0h1m10 0h1m4 0h1m8 0h1m6 0h1m2 0h1m4 0h1m3 0h1m0 0h1m5 0h1m9 0h1m1 0h1m1 0h1m-1 0h1m6 0h1m1 0h1m2 0h1m5 0h1m1 0h1m2 0h1m0 0h1m2 0h1m0 0h1m2 0h1m2 0h1m-1 0h1m1 0h1m4 0h1m4 0h1m2 0h1m-1 0h1m4 0h1m2 0h1m3 0h1m-1 0h1m0 0h1m1 0h1m7 0h1m6 0h1m13 0h1m1 0h1m4 0h1m2 0h1m0 0h1m5 0h1m-1 0h1m5 0h1m3 0h1m6 0h1m1 0h1m2 0h1m0 0h1m5 0h1m-1 0h1m3 0h1m0 0h1m0 0h1m0 0h1m-1 0h1m0 0h1m1 0h1m1 0h1m0 0h1m-1 0h1m0 0h1m0 0h1m-1 0h1m1 0h1m1 0h1m-1 0h1m-1 0h1m0 0h1m2 0h1m3 0h1m9 0h1m7 0h1m5 0h1m4 0h1m0 0h1m7 0h1m1 0h1m14 0h1m-464 1h1m15 0h1m80 0h1m8 0h1m20 0h1m0 0h1m0 0h1m11 0h1m0 0h1m5 0h1m2 0h1m1 0h1m1 0h1m4 0h1m1 0h1m-1 0h1m1 0h1m-1 0h1m0 0h1m1 0h1m2 0h1m1 0h1m2 0h1m0 0h1m5 0h1m10 0h1m7 0h1m0 0h1m1 0h1m6 0h1m4 0h1m0 0h1m11 0h1m3 0h1m1 0h1m0 0h1m2 0h1m6 0h1m13 0h1m1 0h1m5 0h1m-1 0h1m6 0h1m-1 0h1m5 0h1m1 0h1m0 0h1m2 0h1m-1 0h1m6 0h1m6 0h1m-1 0h1m2 0h1m0 0h1m3 0h1m-1 0h1m-1 0h1m15 0h1m2 0h1m-1 0h1m9 0h1m1 0h1m-1 0h1m7 0h1m0 0h1m-1 0h1m2 0h1m0 0h1m6 0h1m2 0h1m5 0h1m6 0h1m1 0h1m2 0h1m-1 0h1m2 0h1m-1 0h1m-1 0h1m0 0h1m0 0h1m0 0h1m0 0h1m0 0h1m1 0h1m1 0h1m-1 0h1m0 0h1m-1 0h1m-1 0h1m0 0h1m0 0h1m-1 0h1m3 0h1m3 0h1m-1 0h1m0 0h1m2 0h1m1 0h1m2 0h1m6 0h1m0 0h1m0 0h1m55 0h1m-466 1h1m100 0h1m2 0h1m8 0h1m6 0h1m-1 0h1m5 0h1m21 0h1m1 0h1m1 0h1m0 0h1m6 0h1m0 0h1m5 0h1m1 0h1m26 0h1m0 0h1m-1 0h1m1 0h1m0 0h1m0 0h1m-1 0h1m1 0h1m0 0h1m3 0h1m3 0h1m4 0h1m13 0h1m5 0h1m1 0h1m2 0h1m0 0h1m0 0h1m0 0h1m0 0h1m-1 0h1m0 0h1m0 0h1m7 0h1m0 0h1m15 0h1m7 0h1m8 0h1m0 0h1m1 0h1m1 0h1m1 0h1m1 0h1m-1 0h1m1 0h1m2 0h1m3 0h1m2 0h1m2 0h1m5 0h1m1 0h1m1 0h1m-1 0h1m0 0h1m2 0h1m5 0h1m1 0h1m1 0h1m1 0h1m-1 0h1m1 0h1m3 0h1m1 0h1m0 0h1m0 0h1m0 0h1m2 0h1m6 0h1m0 0h1m1 0h1m-1 0h1m-1 0h1m0 0h1m1 0h1m-1 0h1m5 0h1m0 0h1m1 0h1m2 0h1m-1 0h1m1 0h1m2 0h1m2 0h1m1 0h1m1 0h1m1 0h1m0 0h1m-1 0h1m-1 0h1m2 0h1m1 0h1m2 0h1m1 0h1m-1 0h1m7 0h1m0 0h1m7 0h1m2 0h1m0 0h1m0 0h1m32 0h1m6 0h1m-449 1h1m6 0h1m18 0h1m27 0h1m17 0h1m0 0h1m13 0h1m0 0h1m13 0h1m13 0h1m-1 0h1m0 0h1m3 0h1m3 0h1m-1 0h1m0 0h1m0 0h1m3 0h1m0 0h1m-1 0h1m10 0h1m0 0h1m-1 0h1m-1 0h1m2 0h1m0 0h1m4 0h1m0 0h1m3 0h1m9 0h1m1 0h1m0 0h1m-1 0h1m0 0h1m2 0h1m-1 0h1m0 0h1m0 0h1m2 0h1m5 0h1m-1 0h1m1 0h1m3 0h1m1 0h1m0 0h1m3 0h1m5 0h1m2 0h1m0 0h1m0 0h1m0 0h1m14 0h1m8 0h1m1 0h1m4 0h1m1 0h1m1 0h1m0 0h1m1 0h1m4 0h1m0 0h1m8 0h1m4 0h1m13 0h1m2 0h1m5 0h1m7 0h1m2 0h1m4 0h1m-1 0h1m1 0h1m4 0h1m0 0h1m1 0h1m0 0h1m0 0h1m0 0h1m-1 0h1m1 0h1m-1 0h1m-1 0h1m-1 0h1m1 0h1m-1 0h1m2 0h1m-1 0h1m2 0h1m0 0h1m3 0h1m1 0h1m0 0h1m1 0h1m0 0h1m0 0h1m2 0h1m0 0h1m-1 0h1m1 0h1m2 0h1m0 0h1m2 0h1m-1 0h1m0 0h1m-1 0h1m2 0h1m1 0h1m1 0h1m-1 0h1m1 0h1m0 0h1m0 0h1m-1 0h1m0 0h1m1 0h1m0 0h1m6 0h1m-1 0h1m-1 0h1m1 0h1m2 0h1m0 0h1m8 0h1m2 0h1m7 0h1m6 0h1m5 0h1m1 0h1m-446 1h1m48 0h1m0 0h1m12 0h1m13 0h1m28 0h1m6 0h1m6 0h1m1 0h1m8 0h1m11 0h1m-1 0h1m1 0h1m15 0h1m1 0h1m1 0h1m8 0h1m3 0h1m0 0h1m0 0h1m6 0h1m2 0h1m1 0h1m4 0h1m-1 0h1m1 0h1m4 0h1m10 0h1m0 0h1m3 0h1m3 0h1m4 0h1m15 0h1m2 0h1m3 0h1m-1 0h1m0 0h1m11 0h1m0 0h1m0 0h1m15 0h1m2 0h1m6 0h1m0 0h1m5 0h1m3 0h1m1 0h1m1 0h1m2 0h1m1 0h1m4 0h1m5 0h1m6 0h1m2 0h1m0 0h1m-1 0h1m0 0h1m0 0h1m-1 0h1m2 0h1m6 0h1m-1 0h1m0 0h1m0 0h1m-1 0h1m0 0h1m4 0h1m4 0h1m2 0h1m-1 0h1m0 0h1m4 0h1m-1 0h1m3 0h1m-1 0h1m1 0h1m2 0h1m-1 0h1m1 0h1m0 0h1m-1 0h1m0 0h1m-1 0h1m1 0h1m0 0h1m-1 0h1m0 0h1m0 0h1m1 0h1m-1 0h1m0 0h1m2 0h1m-1 0h1m0 0h1m0 0h1m-1 0h1m-1 0h1m0 0h1m-1 0h1m1 0h1m-1 0h1m5 0h1m14 0h1m3 0h1m1 0h1m1 0h1m8 0h1m-328 1h1m11 0h1m0 0h1m10 0h1m0 0h1m0 0h1m1 0h1m15 0h1m0 0h1m0 0h1m2 0h1m1 0h1m3 0h1m-1 0h1m-1 0h1m2 0h1m3 0h1m11 0h1m0 0h1m7 0h1m17 0h1m0 0h1m0 0h1m-1 0h1m2 0h1m3 0h1m3 0h1m1 0h1m0 0h1m0 0h1m7 0h1m5 0h1m-1 0h1m6 0h1m0 0h1m3 0h1m3 0h1m0 0h1m1 0h1m1 0h1m10 0h1m5 0h1m1 0h1m2 0h1m0 0h1m3 0h1m-1 0h1m1 0h1m0 0h1m1 0h1m3 0h1m1 0h1m-1 0h1m1 0h1m2 0h1m0 0h1m10 0h1m9 0h1m9 0h1m6 0h1m2 0h1m-1 0h1m1 0h1m3 0h1m1 0h1m0 0h1m1 0h1m0 0h1m6 0h1m-1 0h1m0 0h1m1 0h1m0 0h1m0 0h1m0 0h1m1 0h1m-1 0h1m2 0h1m0 0h1m0 0h1m0 0h1m-1 0h1m1 0h1m2 0h1m-1 0h1m1 0h1m-1 0h1m0 0h1m0 0h1m0 0h1m-1 0h1m-1 0h1m0 0h1m3 0h1m5 0h1m0 0h1m43 0h1m1 0h1m-429 1h1m11 0h1m4 0h1m-1 0h1m1 0h1m4 0h1m5 0h1m6 0h1m23 0h1m4 0h1m15 0h1m24 0h1m0 0h1m0 0h1m5 0h1m4 0h1m-1 0h1m2 0h1m0 0h1m-1 0h1m-1 0h1m0 0h1m5 0h1m1 0h1m8 0h1m5 0h1m0 0h1m2 0h1m1 0h1m2 0h1m4 0h1m5 0h1m2 0h1m0 0h1m0 0h1m1 0h1m2 0h1m9 0h1m5 0h1m0 0h1m4 0h1m-1 0h1m5 0h1m8 0h1m1 0h1m2 0h1m6 0h1m4 0h1m1 0h1m-1 0h1m-1 0h1m5 0h1m-1 0h1m3 0h1m15 0h1m3 0h1m3 0h1m0 0h1m-1 0h1m2 0h1m3 0h1m2 0h1m-1 0h1m-1 0h1m0 0h1m-1 0h1m2 0h1m6 0h1m2 0h1m0 0h1m10 0h1m0 0h1m6 0h1m-1 0h1m2 0h1m1 0h1m-1 0h1m1 0h1m0 0h1m-1 0h1m0 0h1m0 0h1m-1 0h1m3 0h1m-1 0h1m1 0h1m0 0h1m-1 0h1m0 0h1m0 0h1m-1 0h1m2 0h1m-1 0h1m3 0h1m-1 0h1m1 0h1m2 0h1m5 0h1m0 0h1m1 0h1m0 0h1m0 0h1m-1 0h1m0 0h1m-1 0h1m2 0h1m-1 0h1m-1 0h1m1 0h1m0 0h1m1 0h1m0 0h1m0 0h1m-1 0h1m-1 0h1m1 0h1m2 0h1m0 0h1m-1 0h1m1 0h1m0 0h1m6 0h1m1 0h1m6 0h1m8 0h1m3 0h1m21 0h1m4 0h1m9 0h1m9 0h1m-472 1h1m34 0h1m54 0h1m1 0h1m21 0h1m12 0h1m0 0h1m4 0h1m3 0h1m1 0h1m8 0h1m4 0h1m-1 0h1m5 0h1m1 0h1m9 0h1m-1 0h1m5 0h1m15 0h1m1 0h1m1 0h1m1 0h1m2 0h1m7 0h1m10 0h1m-1 0h1m8 0h1m-1 0h1m0 0h1m4 0h1m7 0h1m0 0h1m3 0h1m0 0h1m-1 0h1m2 0h1m0 0h1m0 0h1m3 0h1m5 0h1m0 0h1m4 0h1m4 0h1m-1 0h1m4 0h1m1 0h1m-1 0h1m4 0h1m8 0h1m-1 0h1m2 0h1m7 0h1m1 0h1m12 0h1m-1 0h1m10 0h1m4 0h1m0 0h1m7 0h1m0 0h1m2 0h1m-1 0h1m2 0h1m2 0h1m1 0h1m0 0h1m0 0h1m-1 0h1m-1 0h1m-1 0h1m0 0h1m-1 0h1m0 0h1m-1 0h1m-1 0h1m0 0h1m0 0h1m0 0h1m0 0h1m2 0h1m2 0h1m2 0h1m1 0h1m-1 0h1m3 0h1m0 0h1m-1 0h1m0 0h1m1 0h1m0 0h1m0 0h1m2 0h1m0 0h1m2 0h1m4 0h1m15 0h1m7 0h1m-1 0h1m5 0h1m2 0h1m0 0h1m-343 1h1m12 0h1m16 0h1m9 0h1m1 0h1m1 0h1m4 0h1m6 0h1m2 0h1m4 0h1m5 0h1m2 0h1m-1 0h1m0 0h1m-1 0h1m0 0h1m2 0h1m0 0h1m1 0h1m14 0h1m17 0h1m6 0h1m0 0h1m-1 0h1m1 0h1m-1 0h1m2 0h1m0 0h1m2 0h1m0 0h1m0 0h1m1 0h1m-1 0h1m-1 0h1m4 0h1m1 0h1m13 0h1m1 0h1m1 0h1m5 0h1m0 0h1m2 0h1m0 0h1m-1 0h1m-1 0h1m1 0h1m14 0h1m-1 0h1m2 0h1m3 0h1m2 0h1m4 0h1m-1 0h1m5 0h1m0 0h1m2 0h1m2 0h1m4 0h1m10 0h1m2 0h1m-1 0h1m0 0h1m2 0h1m4 0h1m1 0h1m1 0h1m0 0h1m-1 0h1m0 0h1m-1 0h1m1 0h1m-1 0h1m0 0h1m0 0h1m2 0h1m0 0h1m0 0h1m2 0h1m-1 0h1m-1 0h1m0 0h1m1 0h1m1 0h1m1 0h1m-1 0h1m0 0h1m1 0h1m4 0h1m3 0h1m4 0h1m0 0h1m1 0h1m-1 0h1m-1 0h1m2 0h1m-1 0h1m-1 0h1m0 0h1m-1 0h1m3 0h1m0 0h1m0 0h1m1 0h1m0 0h1m0 0h1m0 0h1m5 0h1m20 0h1m-1 0h1m13 0h1m10 0h1m17 0h1m-410 1h1m28 0h1m2 0h1m0 0h1m15 0h1m2 0h1m2 0h1m3 0h1m2 0h1m4 0h1m1 0h1m-1 0h1m0 0h1m8 0h1m4 0h1m1 0h1m3 0h1m1 0h1m2 0h1m0 0h1m1 0h1m2 0h1m5 0h1m1 0h1m1 0h1m-1 0h1m9 0h1m4 0h1m3 0h1m-1 0h1m8 0h1m7 0h1m2 0h1m7 0h1m0 0h1m1 0h1m4 0h1m16 0h1m7 0h1m-1 0h1m1 0h1m6 0h1m0 0h1m-1 0h1m3 0h1m2 0h1m6 0h1m0 0h1m-1 0h1m0 0h1m5 0h1m0 0h1m-1 0h1m2 0h1m5 0h1m2 0h1m1 0h1m0 0h1m1 0h1m0 0h1m3 0h1m-1 0h1m1 0h1m0 0h1m0 0h1m3 0h1m-1 0h1m0 0h1m0 0h1m2 0h1m3 0h1m8 0h1m0 0h1m1 0h1m0 0h1m11 0h1m-1 0h1m-1 0h1m0 0h1m-1 0h1m0 0h1m3 0h1m2 0h1m-1 0h1m3 0h1m0 0h1m1 0h1m0 0h1m1 0h1m0 0h1m-1 0h1m0 0h1m0 0h1m0 0h1m0 0h1m0 0h1m1 0h1m-1 0h1m0 0h1m-1 0h1m0 0h1m0 0h1m6 0h1m0 0h1m2 0h1m-1 0h1m-1 0h1m-1 0h1m3 0h1m6 0h1m5 0h1m4 0h1m-1 0h1m8 0h1m5 0h1m6 0h1m9 0h1m-430 1h1m88 0h1m12 0h1m-1 0h1m2 0h1m9 0h1m6 0h1m0 0h1m1 0h1m0 0h1m0 0h1m6 0h1m1 0h1m0 0h1m1 0h1m0 0h1m2 0h1m3 0h1m0 0h1m7 0h1m2 0h1m3 0h1m12 0h1m7 0h1m6 0h1m5 0h1m3 0h1m5 0h1m-1 0h1m0 0h1m0 0h1m3 0h1m0 0h1m1 0h1m10 0h1m-1 0h1m4 0h1m0 0h1m6 0h1m4 0h1m4 0h1m-1 0h1m0 0h1m-1 0h1m1 0h1m4 0h1m4 0h1m0 0h1m2 0h1m0 0h1m4 0h1m7 0h1m0 0h1m3 0h1m0 0h1m3 0h1m7 0h1m0 0h1m17 0h1m-1 0h1m1 0h1m1 0h1m8 0h1m1 0h1m-1 0h1m1 0h1m0 0h1m1 0h1m-1 0h1m0 0h1m0 0h1m0 0h1m0 0h1m0 0h1m0 0h1m0 0h1m1 0h1m0 0h1m3 0h1m1 0h1m0 0h1m3 0h1m3 0h1m1 0h1m1 0h1m2 0h1m1 0h1m0 0h1m5 0h1m0 0h1m1 0h1m1 0h1m-1 0h1m14 0h1m4 0h1m5 0h1m4 0h1m12 0h1m28 0h1m-470 1h1m74 0h1m27 0h1m2 0h1m6 0h1m5 0h1m5 0h1m3 0h1m1 0h1m9 0h1m3 0h1m3 0h1m-1 0h1m2 0h1m0 0h1m-1 0h1m0 0h1m7 0h1m16 0h1m0 0h1m3 0h1m-1 0h1m1 0h1m6 0h1m3 0h1m2 0h1m1 0h1m1 0h1m5 0h1m11 0h1m14 0h1m9 0h1m0 0h1m9 0h1m7 0h1m1 0h1m4 0h1m0 0h1m2 0h1m-1 0h1m-1 0h1m1 0h1m2 0h1m1 0h1m5 0h1m-1 0h1m2 0h1m0 0h1m0 0h1m0 0h1m1 0h1m-1 0h1m2 0h1m1 0h1m4 0h1m1 0h1m0 0h1m-1 0h1m-1 0h1m0 0h1m0 0h1m1 0h1m2 0h1m0 0h1m9 0h1m4 0h1m1 0h1m3 0h1m4 0h1m3 0h1m0 0h1m0 0h1m0 0h1m3 0h1m-1 0h1m-1 0h1m0 0h1m-1 0h1m9 0h1m0 0h1m0 0h1m0 0h1m0 0h1m1 0h1m0 0h1m6 0h1m-1 0h1m0 0h1m0 0h1m-1 0h1m0 0h1m4 0h1m1 0h1m-1 0h1m10 0h1m22 0h1m-1 0h1m1 0h1m-1 0h1m4 0h1m3 0h1m14 0h1m-450 1h1m30 0h1m22 0h1m3 0h1m5 0h1m35 0h1m10 0h1m11 0h1m3 0h1m13 0h1m2 0h1m2 0h1m0 0h1m1 0h1m2 0h1m-1 0h1m1 0h1m4 0h1m0 0h1m2 0h1m-1 0h1m4 0h1m3 0h1m0 0h1m6 0h1m7 0h1m1 0h1m1 0h1m2 0h1m3 0h1m0 0h1m2 0h1m11 0h1m3 0h1m0 0h1m4 0h1m1 0h1m3 0h1m3 0h1m1 0h1m0 0h1m-1 0h1m6 0h1m-1 0h1m3 0h1m4 0h1m-1 0h1m1 0h1m5 0h1m-1 0h1m0 0h1m-1 0h1m2 0h1m1 0h1m1 0h1m4 0h1m0 0h1m1 0h1m1 0h1m2 0h1m5 0h1m0 0h1m5 0h1m3 0h1m1 0h1m0 0h1m0 0h1m0 0h1m2 0h1m1 0h1m1 0h1m1 0h1m1 0h1m3 0h1m-1 0h1m-1 0h1m1 0h1m0 0h1m0 0h1m2 0h1m-1 0h1m0 0h1m-1 0h1m0 0h1m-1 0h1m-1 0h1m0 0h1m-1 0h1m2 0h1m0 0h1m-1 0h1m3 0h1m2 0h1m-1 0h1m0 0h1m2 0h1m2 0h1m0 0h1m1 0h1m4 0h1m0 0h1m0 0h1m1 0h1m1 0h1m0 0h1m0 0h1m-1 0h1m2 0h1m1 0h1m0 0h1m0 0h1m-1 0h1m2 0h1m-1 0h1m-1 0h1m0 0h1m-1 0h1m2 0h1m0 0h1m6 0h1m-1 0h1m0 0h1m0 0h1m4 0h1m6 0h1m3 0h1m1 0h1m2 0h1m-387 1h1m86 0h1m2 0h1m-1 0h1m10 0h1m8 0h1m9 0h1m2 0h1m3 0h1m2 0h1m1 0h1m3 0h1m1 0h1m1 0h1m1 0h1m4 0h1m5 0h1m8 0h1m7 0h1m0 0h1m-1 0h1m6 0h1m2 0h1m1 0h1m1 0h1m4 0h1m3 0h1m12 0h1m0 0h1m0 0h1m0 0h1m2 0h1m1 0h1m2 0h1m0 0h1m0 0h1m1 0h1m0 0h1m0 0h1m2 0h1m-1 0h1m0 0h1m1 0h1m0 0h1m5 0h1m7 0h1m3 0h1m0 0h1m1 0h1m-1 0h1m2 0h1m5 0h1m0 0h1m0 0h1m2 0h1m7 0h1m2 0h1m4 0h1m-1 0h1m-1 0h1m0 0h1m0 0h1m0 0h1m0 0h1m1 0h1m-1 0h1m-1 0h1m0 0h1m5 0h1m0 0h1m0 0h1m0 0h1m0 0h1m2 0h1m1 0h1m-1 0h1m0 0h1m2 0h1m5 0h1m1 0h1m-1 0h1m3 0h1m1 0h1m2 0h1m1 0h1m1 0h1m5 0h1m8 0h1m0 0h1m0 0h1m0 0h1m1 0h1m18 0h1m2 0h1m5 0h1m1 0h1m1 0h1m-1 0h1m4 0h1m1 0h1m0 0h1m12 0h1m3 0h1m-396 1h1m30 0h1m13 0h1m7 0h1m9 0h1m21 0h1m5 0h1m0 0h1m4 0h1m2 0h1m-1 0h1m10 0h1m0 0h1m1 0h1m6 0h1m2 0h1m-1 0h1m1 0h1m3 0h1m5 0h1m2 0h1m0 0h1m2 0h1m4 0h1m-1 0h1m0 0h1m-1 0h1m3 0h1m-1 0h1m3 0h1m9 0h1m11 0h1m7 0h1m2 0h1m0 0h1m8 0h1m0 0h1m-1 0h1m1 0h1m0 0h1m4 0h1m0 0h1m0 0h1m-1 0h1m-1 0h1m0 0h1m2 0h1m3 0h1m2 0h1m0 0h1m1 0h1m-1 0h1m-1 0h1m3 0h1m2 0h1m1 0h1m-1 0h1m1 0h1m0 0h1m2 0h1m1 0h1m1 0h1m1 0h1m1 0h1m1 0h1m-1 0h1m0 0h1m2 0h1m2 0h1m7 0h1m3 0h1m-1 0h1m2 0h1m-1 0h1m0 0h1m8 0h1m0 0h1m2 0h1m-1 0h1m-1 0h1m2 0h1m1 0h1m0 0h1m4 0h1m0 0h1m0 0h1m-1 0h1m-1 0h1m0 0h1m0 0h1m1 0h1m0 0h1m3 0h1m3 0h1m0 0h1m3 0h1m4 0h1m0 0h1m0 0h1m-1 0h1m-1 0h1m0 0h1m1 0h1m-1 0h1m0 0h1m0 0h1m0 0h1m0 0h1m1 0h1m-1 0h1m0 0h1m3 0h1m1 0h1m-1 0h1m0 0h1m-1 0h1m2 0h1m0 0h1m4 0h1m11 0h1m-1 0h1m1 0h1m5 0h1m5 0h1m29 0h1m-441 1h1m13 0h1m26 0h1m1 0h1m46 0h1m15 0h1m5 0h1m24 0h1m2 0h1m1 0h1m3 0h1m0 0h1m-1 0h1m3 0h1m0 0h1m0 0h1m4 0h1m9 0h1m2 0h1m0 0h1m4 0h1m2 0h1m2 0h1m7 0h1m1 0h1m1 0h1m10 0h1m8 0h1m4 0h1m17 0h1m1 0h1m-1 0h1m2 0h1m-1 0h1m-1 0h1m0 0h1m4 0h1m4 0h1m0 0h1m2 0h1m3 0h1m1 0h1m-1 0h1m-1 0h1m1 0h1m1 0h1m-1 0h1m-1 0h1m4 0h1m0 0h1m4 0h1m0 0h1m1 0h1m2 0h1m0 0h1m0 0h1m0 0h1m-1 0h1m0 0h1m0 0h1m4 0h1m1 0h1m2 0h1m6 0h1m-1 0h1m4 0h1m0 0h1m2 0h1m1 0h1m7 0h1m0 0h1m1 0h1m-1 0h1m0 0h1m0 0h1m6 0h1m-1 0h1m-1 0h1m0 0h1m3 0h1m0 0h1m1 0h1m-1 0h1m2 0h1m0 0h1m2 0h1m2 0h1m1 0h1m1 0h1m0 0h1m-1 0h1m1 0h1m1 0h1m6 0h1m3 0h1m0 0h1m2 0h1m6 0h1m5 0h1m5 0h1m0 0h1m12 0h1m4 0h1m11 0h1m11 0h1m3 0h1m-450 1h1m15 0h1m22 0h1m17 0h1m8 0h1m19 0h1m3 0h1m-1 0h1m2 0h1m0 0h1m26 0h1m0 0h1m-1 0h1m2 0h1m3 0h1m1 0h1m2 0h1m1 0h1m1 0h1m0 0h1m0 0h1m2 0h1m0 0h1m1 0h1m5 0h1m6 0h1m3 0h1m4 0h1m8 0h1m5 0h1m1 0h1m-1 0h1m5 0h1m1 0h1m-1 0h1m2 0h1m4 0h1m1 0h1m0 0h1m1 0h1m6 0h1m3 0h1m0 0h1m6 0h1m4 0h1m2 0h1m0 0h1m0 0h1m3 0h1m1 0h1m2 0h1m4 0h1m2 0h1m1 0h1m1 0h1m-1 0h1m2 0h1m0 0h1m2 0h1m1 0h1m1 0h1m0 0h1m1 0h1m-1 0h1m3 0h1m-1 0h1m4 0h1m0 0h1m7 0h1m-1 0h1m5 0h1m6 0h1m6 0h1m1 0h1m-1 0h1m-1 0h1m1 0h1m-1 0h1m4 0h1m-1 0h1m1 0h1m7 0h1m-1 0h1m-1 0h1m0 0h1m-1 0h1m3 0h1m0 0h1m9 0h1m1 0h1m-1 0h1m-1 0h1m1 0h1m-1 0h1m1 0h1m-1 0h1m0 0h1m0 0h1m-1 0h1m0 0h1m2 0h1m0 0h1m0 0h1m0 0h1m0 0h1m-1 0h1m-1 0h1m0 0h1m-1 0h1m0 0h1m-1 0h1m0 0h1m-1 0h1m1 0h1m-1 0h1m2 0h1m1 0h1m-1 0h1m-1 0h1m0 0h1m1 0h1m-1 0h1m1 0h1m0 0h1m0 0h1m0 0h1m-1 0h1m-1 0h1m4 0h1m17 0h1m9 0h1m0 0h1m0 0h1m4 0h1m16 0h1m1 0h1m1 0h1m2 0h1m8 0h1m2 0h1m9 0h1m-364 1h1m1 0h1m1 0h1m12 0h1m6 0h1m1 0h1m3 0h1m10 0h1m-1 0h1m1 0h1m0 0h1m1 0h1m-1 0h1m6 0h1m5 0h1m4 0h1m-1 0h1m2 0h1m-1 0h1m3 0h1m1 0h1m1 0h1m2 0h1m10 0h1m3 0h1m0 0h1m-1 0h1m18 0h1m0 0h1m3 0h1m0 0h1m0 0h1m0 0h1m2 0h1m0 0h1m3 0h1m0 0h1m1 0h1m1 0h1m1 0h1m0 0h1m1 0h1m8 0h1m0 0h1m2 0h1m2 0h1m-1 0h1m0 0h1m3 0h1m2 0h1m-1 0h1m3 0h1m0 0h1m3 0h1m0 0h1m-1 0h1m-1 0h1m-1 0h1m2 0h1m5 0h1m0 0h1m3 0h1m2 0h1m2 0h1m4 0h1m-1 0h1m0 0h1m5 0h1m0 0h1m2 0h1m0 0h1m4 0h1m2 0h1m0 0h1m-1 0h1m-1 0h1m0 0h1m1 0h1m2 0h1m1 0h1m1 0h1m0 0h1m1 0h1m-1 0h1m0 0h1m1 0h1m0 0h1m-1 0h1m0 0h1m0 0h1m-1 0h1m-1 0h1m1 0h1m1 0h1m0 0h1m0 0h1m6 0h1m0 0h1m2 0h1m2 0h1m0 0h1m0 0h1m0 0h1m-1 0h1m1 0h1m-1 0h1m2 0h1m0 0h1m-1 0h1m-1 0h1m0 0h1m-1 0h1m-1 0h1m2 0h1m2 0h1m-1 0h1m2 0h1m1 0h1m4 0h1m1 0h1m1 0h1m7 0h1m1 0h1m64 0h1m4 0h1m-436 1h1m7 0h1m2 0h1m48 0h1m-1 0h1m25 0h1m1 0h1m2 0h1m3 0h1m-1 0h1m5 0h1m7 0h1m3 0h1m12 0h1m1 0h1m5 0h1m9 0h1m3 0h1m2 0h1m1 0h1m2 0h1m4 0h1m2 0h1m1 0h1m3 0h1m2 0h1m2 0h1m0 0h1m-1 0h1m9 0h1m0 0h1m0 0h1m0 0h1m1 0h1m2 0h1m2 0h1m-1 0h1m3 0h1m1 0h1m4 0h1m-1 0h1m-1 0h1m5 0h1m2 0h1m-1 0h1m16 0h1m2 0h1m4 0h1m3 0h1m0 0h1m1 0h1m0 0h1m-1 0h1m1 0h1m-1 0h1m1 0h1m-1 0h1m-1 0h1m3 0h1m3 0h1m4 0h1m6 0h1m0 0h1m3 0h1m0 0h1m0 0h1m-1 0h1m-1 0h1m1 0h1m-1 0h1m1 0h1m-1 0h1m2 0h1m2 0h1m-1 0h1m-1 0h1m0 0h1m-1 0h1m1 0h1m0 0h1m1 0h1m-1 0h1m1 0h1m-1 0h1m1 0h1m2 0h1m0 0h1m3 0h1m7 0h1m1 0h1m-1 0h1m3 0h1m2 0h1m0 0h1m-1 0h1m1 0h1m1 0h1m1 0h1m1 0h1m0 0h1m0 0h1m0 0h1m0 0h1m-1 0h1m0 0h1m-1 0h1m1 0h1m-1 0h1m5 0h1m1 0h1m1 0h1m11 0h1m6 0h1m2 0h1m5 0h1m2 0h1m0 0h1m0 0h1m0 0h1m-1 0h1m3 0h1m-1 0h1m4 0h1m19 0h1m5 0h1m-429 1h1m57 0h1m4 0h1m-1 0h1m11 0h1m0 0h1m4 0h1m33 0h1m4 0h1m5 0h1m1 0h1m-1 0h1m9 0h1m3 0h1m-1 0h1m5 0h1m0 0h1m7 0h1m1 0h1m1 0h1m-1 0h1m1 0h1m1 0h1m0 0h1m-1 0h1m0 0h1m3 0h1m0 0h1m-1 0h1m-1 0h1m0 0h1m15 0h1m11 0h1m-1 0h1m3 0h1m-1 0h1m0 0h1m0 0h1m2 0h1m5 0h1m1 0h1m0 0h1m2 0h1m0 0h1m6 0h1m-1 0h1m1 0h1m2 0h1m0 0h1m0 0h1m-1 0h1m4 0h1m1 0h1m0 0h1m-1 0h1m0 0h1m0 0h1m0 0h1m5 0h1m1 0h1m2 0h1m5 0h1m1 0h1m3 0h1m0 0h1m7 0h1m-1 0h1m2 0h1m-1 0h1m0 0h1m1 0h1m0 0h1m0 0h1m-1 0h1m0 0h1m1 0h1m0 0h1m1 0h1m-1 0h1m-1 0h1m2 0h1m2 0h1m2 0h1m0 0h1m0 0h1m0 0h1m-1 0h1m2 0h1m4 0h1m0 0h1m0 0h1m0 0h1m0 0h1m0 0h1m6 0h1m0 0h1m-1 0h1m0 0h1m0 0h1m0 0h1m3 0h1m-1 0h1m4 0h1m1 0h1m-1 0h1m0 0h1m0 0h1m0 0h1m4 0h1m0 0h1m8 0h1m18 0h1m0 0h1m2 0h1m15 0h1m24 0h1m1 0h1m-407 1h1m43 0h1m12 0h1m3 0h1m4 0h1m3 0h1m5 0h1m8 0h1m18 0h1m6 0h1m2 0h1m0 0h1m5 0h1m-1 0h1m6 0h1m2 0h1m2 0h1m5 0h1m5 0h1m-1 0h1m10 0h1m1 0h1m8 0h1m5 0h1m2 0h1m0 0h1m0 0h1m-1 0h1m-1 0h1m0 0h1m4 0h1m3 0h1m1 0h1m2 0h1m9 0h1m1 0h1m8 0h1m0 0h1m2 0h1m1 0h1m2 0h1m0 0h1m3 0h1m-1 0h1m-1 0h1m1 0h1m0 0h1m0 0h1m2 0h1m0 0h1m-1 0h1m2 0h1m1 0h1m0 0h1m-1 0h1m3 0h1m1 0h1m0 0h1m-1 0h1m2 0h1m0 0h1m2 0h1m4 0h1m1 0h1m0 0h1m1 0h1m1 0h1m4 0h1m-1 0h1m0 0h1m0 0h1m-1 0h1m0 0h1m0 0h1m0 0h1m-1 0h1m-1 0h1m-1 0h1m0 0h1m-1 0h1m3 0h1m-1 0h1m0 0h1m0 0h1m-1 0h1m0 0h1m-1 0h1m-1 0h1m1 0h1m3 0h1m2 0h1m5 0h1m1 0h1m2 0h1m-1 0h1m0 0h1m1 0h1m-1 0h1m0 0h1m1 0h1m0 0h1m-1 0h1m0 0h1m3 0h1m0 0h1m-1 0h1m3 0h1m6 0h1m0 0h1m-1 0h1m1 0h1m0 0h1m6 0h1m1 0h1m13 0h1m-1 0h1m2 0h1m7 0h1m0 0h1m2 0h1m4 0h1m6 0h1m7 0h1m-444 1h1m35 0h1m93 0h1m7 0h1m4 0h1m8 0h1m4 0h1m9 0h1m6 0h1m1 0h1m1 0h1m0 0h1m1 0h1m2 0h1m-1 0h1m0 0h1m8 0h1m-1 0h1m2 0h1m2 0h1m7 0h1m12 0h1m-1 0h1m1 0h1m3 0h1m-1 0h1m2 0h1m1 0h1m0 0h1m0 0h1m0 0h1m1 0h1m5 0h1m0 0h1m0 0h1m1 0h1m-1 0h1m3 0h1m0 0h1m6 0h1m2 0h1m1 0h1m-1 0h1m0 0h1m3 0h1m-1 0h1m-1 0h1m2 0h1m0 0h1m-1 0h1m0 0h1m-1 0h1m2 0h1m1 0h1m1 0h1m-1 0h1m1 0h1m0 0h1m0 0h1m1 0h1m8 0h1m-1 0h1m0 0h1m0 0h1m1 0h1m0 0h1m1 0h1m3 0h1m0 0h1m-1 0h1m4 0h1m1 0h1m0 0h1m-1 0h1m1 0h1m-1 0h1m0 0h1m3 0h1m0 0h1m2 0h1m-1 0h1m1 0h1m-1 0h1m0 0h1m0 0h1m0 0h1m2 0h1m0 0h1m0 0h1m0 0h1m0 0h1m4 0h1m4 0h1m-1 0h1m3 0h1m3 0h1m5 0h1m0 0h1m1 0h1m0 0h1m0 0h1m1 0h1m-1 0h1m15 0h1m1 0h1m21 0h1m14 0h1m38 0h1m-461 1h1m4 0h1m24 0h1m1 0h1m9 0h1m0 0h1m8 0h1m15 0h1m28 0h1m3 0h1m4 0h1m4 0h1m1 0h1m14 0h1m4 0h1m2 0h1m-1 0h1m8 0h1m4 0h1m0 0h1m1 0h1m-1 0h1m6 0h1m5 0h1m1 0h1m4 0h1m1 0h1m-1 0h1m2 0h1m-1 0h1m4 0h1m3 0h1m0 0h1m0 0h1m-1 0h1m2 0h1m10 0h1m-1 0h1m3 0h1m4 0h1m2 0h1m2 0h1m4 0h1m2 0h1m-1 0h1m0 0h1m10 0h1m0 0h1m3 0h1m0 0h1m2 0h1m5 0h1m5 0h1m-1 0h1m7 0h1m-1 0h1m0 0h1m1 0h1m3 0h1m3 0h1m0 0h1m4 0h1m-1 0h1m0 0h1m3 0h1m0 0h1m3 0h1m-1 0h1m5 0h1m-1 0h1m5 0h1m0 0h1m1 0h1m0 0h1m3 0h1m-1 0h1m-1 0h1m0 0h1m0 0h1m0 0h1m0 0h1m-1 0h1m1 0h1m10 0h1m6 0h1m4 0h1m0 0h1m1 0h1m3 0h1m2 0h1m0 0h1m0 0h1m-1 0h1m6 0h1m-1 0h1m2 0h1m4 0h1m0 0h1m1 0h1m1 0h1m-1 0h1m0 0h1m3 0h1m0 0h1m4 0h1m29 0h1m11 0h1m10 0h1m13 0h1m8 0h1m10 0h1m-371 1h1m4 0h1m6 0h1m11 0h1m1 0h1m0 0h1m0 0h1m1 0h1m6 0h1m4 0h1m3 0h1m0 0h1m12 0h1m0 0h1m6 0h1m0 0h1m2 0h1m0 0h1m0 0h1m2 0h1m0 0h1m0 0h1m0 0h1m2 0h1m-1 0h1m0 0h1m3 0h1m3 0h1m0 0h1m0 0h1m0 0h1m1 0h1m-1 0h1m2 0h1m0 0h1m8 0h1m4 0h1m-1 0h1m1 0h1m4 0h1m5 0h1m4 0h1m2 0h1m2 0h1m0 0h1m1 0h1m5 0h1m3 0h1m3 0h1m-1 0h1m1 0h1m0 0h1m5 0h1m0 0h1m0 0h1m-1 0h1m-1 0h1m1 0h1m0 0h1m0 0h1m0 0h1m0 0h1m-1 0h1m1 0h1m0 0h1m0 0h1m-1 0h1m0 0h1m2 0h1m0 0h1m-1 0h1m6 0h1m2 0h1m0 0h1m0 0h1m0 0h1m2 0h1m3 0h1m3 0h1m0 0h1m2 0h1m0 0h1m-1 0h1m0 0h1m1 0h1m0 0h1m0 0h1m0 0h1m-1 0h1m1 0h1m0 0h1m0 0h1m-1 0h1m0 0h1m0 0h1m1 0h1m0 0h1m1 0h1m1 0h1m-1 0h1m0 0h1m3 0h1m7 0h1m0 0h1m5 0h1m2 0h1m0 0h1m0 0h1m-1 0h1m0 0h1m2 0h1m1 0h1m2 0h1m4 0h1m0 0h1m-1 0h1m0 0h1m10 0h1m2 0h1m2 0h1m10 0h1m9 0h1m11 0h1m18 0h1m-433 1h1m24 0h1m46 0h1m11 0h1m17 0h1m5 0h1m13 0h1m1 0h1m1 0h1m3 0h1m2 0h1m-1 0h1m-1 0h1m-1 0h1m1 0h1m1 0h1m-1 0h1m1 0h1m8 0h1m4 0h1m2 0h1m-1 0h1m1 0h1m0 0h1m3 0h1m1 0h1m3 0h1m0 0h1m0 0h1m0 0h1m-1 0h1m3 0h1m1 0h1m1 0h1m-1 0h1m0 0h1m1 0h1m1 0h1m11 0h1m2 0h1m-1 0h1m0 0h1m9 0h1m1 0h1m0 0h1m2 0h1m0 0h1m0 0h1m2 0h1m0 0h1m1 0h1m3 0h1m4 0h1m4 0h1m0 0h1m1 0h1m3 0h1m2 0h1m-1 0h1m0 0h1m1 0h1m3 0h1m-1 0h1m2 0h1m-1 0h1m1 0h1m1 0h1m2 0h1m-1 0h1m1 0h1m0 0h1m2 0h1m1 0h1m0 0h1m1 0h1m-1 0h1m0 0h1m0 0h1m1 0h1m1 0h1m-1 0h1m0 0h1m-1 0h1m2 0h1m1 0h1m-1 0h1m1 0h1m-1 0h1m2 0h1m0 0h1m0 0h1m1 0h1m0 0h1m-1 0h1m-1 0h1m-1 0h1m0 0h1m-1 0h1m0 0h1m1 0h1m-1 0h1m-1 0h1m1 0h1m-1 0h1m0 0h1m0 0h1m-1 0h1m0 0h1m0 0h1m2 0h1m0 0h1m1 0h1m3 0h1m0 0h1m0 0h1m2 0h1m0 0h1m1 0h1m0 0h1m5 0h1m-1 0h1m2 0h1m0 0h1m5 0h1m1 0h1m2 0h1m0 0h1m5 0h1m5 0h1m-1 0h1m0 0h1m4 0h1m20 0h1m1 0h1m1 0h1m4 0h1m8 0h1m10 0h1m9 0h1m4 0h1m20 0h1m-421 1h1m13 0h1m10 0h1m13 0h1m4 0h1m11 0h1m14 0h1m3 0h1m11 0h1m0 0h1m6 0h1m-1 0h1m0 0h1m1 0h1m4 0h1m0 0h1m1 0h1m2 0h1m12 0h1m-1 0h1m0 0h1m1 0h1m0 0h1m-1 0h1m-1 0h1m1 0h1m0 0h1m0 0h1m1 0h1m-1 0h1m1 0h1m1 0h1m10 0h1m4 0h1m2 0h1m-1 0h1m1 0h1m3 0h1m-1 0h1m2 0h1m2 0h1m2 0h1m-1 0h1m2 0h1m0 0h1m4 0h1m1 0h1m0 0h1m1 0h1m0 0h1m2 0h1m5 0h1m0 0h1m0 0h1m0 0h1m4 0h1m0 0h1m1 0h1m4 0h1m-1 0h1m0 0h1m1 0h1m1 0h1m0 0h1m0 0h1m-1 0h1m9 0h1m2 0h1m0 0h1m2 0h1m-1 0h1m6 0h1m6 0h1m4 0h1m2 0h1m-1 0h1m2 0h1m1 0h1m-1 0h1m3 0h1m0 0h1m0 0h1m0 0h1m1 0h1m0 0h1m0 0h1m0 0h1m0 0h1m0 0h1m-1 0h1m0 0h1m0 0h1m-1 0h1m0 0h1m-1 0h1m-1 0h1m2 0h1m0 0h1m-1 0h1m1 0h1m4 0h1m2 0h1m0 0h1m3 0h1m2 0h1m-1 0h1m0 0h1m1 0h1m1 0h1m-1 0h1m5 0h1m3 0h1m1 0h1m-1 0h1m6 0h1m0 0h1m-1 0h1m6 0h1m8 0h1m0 0h1m-1 0h1m1 0h1m12 0h1m3 0h1m0 0h1m5 0h1m15 0h1m1 0h1m7 0h1m0 0h1m7 0h1m6 0h1m16 0h1m-479 1h1m19 0h1m27 0h1m25 0h1m16 0h1m9 0h1m-1 0h1m3 0h1m1 0h1m14 0h1m-1 0h1m3 0h1m-1 0h1m2 0h1m0 0h1m0 0h1m8 0h1m2 0h1m4 0h1m8 0h1m-1 0h1m2 0h1m0 0h1m3 0h1m4 0h1m1 0h1m8 0h1m-1 0h1m1 0h1m-1 0h1m3 0h1m0 0h1m2 0h1m2 0h1m-1 0h1m7 0h1m4 0h1m3 0h1m0 0h1m0 0h1m0 0h1m2 0h1m4 0h1m2 0h1m3 0h1m0 0h1m3 0h1m5 0h1m0 0h1m1 0h1m-1 0h1m2 0h1m-1 0h1m1 0h1m-1 0h1m10 0h1m2 0h1m-1 0h1m1 0h1m3 0h1m6 0h1m4 0h1m6 0h1m0 0h1m0 0h1m1 0h1m-1 0h1m1 0h1m0 0h1m2 0h1m1 0h1m1 0h1m0 0h1m-1 0h1m2 0h1m2 0h1m1 0h1m-1 0h1m-1 0h1m1 0h1m-1 0h1m2 0h1m1 0h1m1 0h1m5 0h1m-1 0h1m-1 0h1m0 0h1m-1 0h1m-1 0h1m4 0h1m0 0h1m-1 0h1m2 0h1m2 0h1m1 0h1m0 0h1m0 0h1m3 0h1m1 0h1m0 0h1m6 0h1m1 0h1m1 0h1m1 0h1m2 0h1m-1 0h1m18 0h1m11 0h1m3 0h1m4 0h1m9 0h1m3 0h1m19 0h1m0 0h1m0 0h1m2 0h1m3 0h1m-444 1h1m64 0h1m19 0h1m2 0h1m11 0h1m19 0h1m1 0h1m0 0h1m10 0h1m2 0h1m1 0h1m3 0h1m1 0h1m-1 0h1m4 0h1m-1 0h1m1 0h1m0 0h1m1 0h1m-1 0h1m-1 0h1m2 0h1m5 0h1m1 0h1m1 0h1m-1 0h1m4 0h1m1 0h1m1 0h1m2 0h1m0 0h1m-1 0h1m0 0h1m0 0h1m4 0h1m2 0h1m-1 0h1m5 0h1m2 0h1m1 0h1m0 0h1m3 0h1m3 0h1m0 0h1m0 0h1m0 0h1m0 0h1m2 0h1m-1 0h1m0 0h1m2 0h1m0 0h1m1 0h1m2 0h1m0 0h1m0 0h1m0 0h1m0 0h1m-1 0h1m0 0h1m-1 0h1m0 0h1m-1 0h1m0 0h1m1 0h1m3 0h1m2 0h1m2 0h1m3 0h1m-1 0h1m7 0h1m2 0h1m0 0h1m-1 0h1m0 0h1m1 0h1m0 0h1m0 0h1m1 0h1m1 0h1m-1 0h1m2 0h1m0 0h1m1 0h1m1 0h1m0 0h1m1 0h1m-1 0h1m0 0h1m-1 0h1m0 0h1m1 0h1m0 0h1m2 0h1m-1 0h1m0 0h1m0 0h1m0 0h1m4 0h1m1 0h1m-1 0h1m0 0h1m-1 0h1m0 0h1m4 0h1m-1 0h1m1 0h1m1 0h1m-1 0h1m0 0h1m-1 0h1m-1 0h1m0 0h1m0 0h1m2 0h1m-1 0h1m0 0h1m-1 0h1m0 0h1m0 0h1m0 0h1m-1 0h1m-1 0h1m0 0h1m1 0h1m0 0h1m0 0h1m0 0h1m0 0h1m1 0h1m2 0h1m0 0h1m0 0h1m1 0h1m0 0h1m0 0h1m0 0h1m-1 0h1m1 0h1m1 0h1m-1 0h1m-1 0h1m3 0h1m8 0h1m0 0h1m0 0h1m9 0h1m21 0h1m5 0h1m17 0h1m2 0h1m1 0h1m0 0h1m7 0h1m38 0h1m-420 1h1m13 0h1m7 0h1m12 0h1m5 0h1m6 0h1m24 0h1m4 0h1m4 0h1m0 0h1m0 0h1m1 0h1m3 0h1m0 0h1m4 0h1m3 0h1m-1 0h1m5 0h1m-1 0h1m4 0h1m6 0h1m4 0h1m0 0h1m0 0h1m-1 0h1m0 0h1m0 0h1m2 0h1m0 0h1m5 0h1m3 0h1m-1 0h1m4 0h1m0 0h1m1 0h1m1 0h1m3 0h1m1 0h1m0 0h1m5 0h1m-1 0h1m-1 0h1m0 0h1m3 0h1m8 0h1m0 0h1m0 0h1m-1 0h1m0 0h1m0 0h1m1 0h1m3 0h1m9 0h1m0 0h1m3 0h1m0 0h1m-1 0h1m0 0h1m-1 0h1m3 0h1m0 0h1m2 0h1m-1 0h1m-1 0h1m0 0h1m-1 0h1m2 0h1m4 0h1m0 0h1m1 0h1m1 0h1m-1 0h1m4 0h1m0 0h1m-1 0h1m-1 0h1m2 0h1m2 0h1m-1 0h1m0 0h1m0 0h1m1 0h1m3 0h1m3 0h1m0 0h1m0 0h1m0 0h1m-1 0h1m0 0h1m1 0h1m0 0h1m0 0h1m0 0h1m-1 0h1m0 0h1m0 0h1m-1 0h1m0 0h1m3 0h1m1 0h1m0 0h1m1 0h1m0 0h1m0 0h1m0 0h1m-1 0h1m1 0h1m3 0h1m1 0h1m0 0h1m2 0h1m1 0h1m0 0h1m-1 0h1m2 0h1m1 0h1m1 0h1m3 0h1m-1 0h1m0 0h1m19 0h1m1 0h1m0 0h1m10 0h1m1 0h1m1 0h1m4 0h1m-1 0h1m7 0h1m-1 0h1m2 0h1m7 0h1m9 0h1m0 0h1m12 0h1m3 0h1m-438 1h1m78 0h1m16 0h1m0 0h1m14 0h1m0 0h1m0 0h1m4 0h1m2 0h1m1 0h1m6 0h1m1 0h1m-1 0h1m0 0h1m8 0h1m3 0h1m-1 0h1m1 0h1m-1 0h1m1 0h1m5 0h1m0 0h1m1 0h1m1 0h1m1 0h1m1 0h1m0 0h1m2 0h1m0 0h1m0 0h1m0 0h1m-1 0h1m0 0h1m3 0h1m0 0h1m0 0h1m-1 0h1m9 0h1m8 0h1m0 0h1m8 0h1m2 0h1m-1 0h1m1 0h1m1 0h1m1 0h1m0 0h1m-1 0h1m4 0h1m-1 0h1m0 0h1m-1 0h1m2 0h1m0 0h1m8 0h1m1 0h1m1 0h1m2 0h1m-1 0h1m-1 0h1m0 0h1m2 0h1m2 0h1m-1 0h1m1 0h1m-1 0h1m5 0h1m-1 0h1m3 0h1m-1 0h1m0 0h1m-1 0h1m0 0h1m4 0h1m0 0h1m0 0h1m0 0h1m2 0h1m0 0h1m0 0h1m0 0h1m0 0h1m-1 0h1m0 0h1m-1 0h1m2 0h1m-1 0h1m0 0h1m1 0h1m0 0h1m-1 0h1m6 0h1m1 0h1m0 0h1m0 0h1m-1 0h1m-1 0h1m0 0h1m0 0h1m0 0h1m0 0h1m-1 0h1m0 0h1m0 0h1m0 0h1m0 0h1m-1 0h1m0 0h1m0 0h1m0 0h1m1 0h1m0 0h1m-1 0h1m1 0h1m-1 0h1m-1 0h1m0 0h1m-1 0h1m0 0h1m-1 0h1m0 0h1m2 0h1m0 0h1m1 0h1m4 0h1m1 0h1m0 0h1m-1 0h1m0 0h1m2 0h1m2 0h1m3 0h1m0 0h1m5 0h1m19 0h1m2 0h1m3 0h1m5 0h1m15 0h1m1 0h1m31 0h1m14 0h1m10 0h1m-462 1h1m8 0h1m50 0h1m28 0h1m23 0h1m2 0h1m1 0h1m2 0h1m1 0h1m2 0h1m0 0h1m4 0h1m0 0h1m2 0h1m-1 0h1m0 0h1m-1 0h1m2 0h1m0 0h1m3 0h1m-1 0h1m7 0h1m-1 0h1m0 0h1m3 0h1m-1 0h1m8 0h1m1 0h1m0 0h1m1 0h1m2 0h1m-1 0h1m6 0h1m-1 0h1m3 0h1m-1 0h1m2 0h1m0 0h1m2 0h1m1 0h1m0 0h1m2 0h1m0 0h1m0 0h1m0 0h1m2 0h1m1 0h1m1 0h1m9 0h1m0 0h1m-1 0h1m0 0h1m0 0h1m0 0h1m1 0h1m1 0h1m0 0h1m0 0h1m3 0h1m0 0h1m1 0h1m-1 0h1m2 0h1m-1 0h1m2 0h1m-1 0h1m0 0h1m0 0h1m1 0h1m1 0h1m0 0h1m-1 0h1m2 0h1m4 0h1m1 0h1m2 0h1m-1 0h1m0 0h1m0 0h1m10 0h1m0 0h1m0 0h1m-1 0h1m0 0h1m2 0h1m1 0h1m4 0h1m-1 0h1m-1 0h1m-1 0h1m1 0h1m1 0h1m5 0h1m0 0h1m4 0h1m-1 0h1m0 0h1m0 0h1m3 0h1m1 0h1m-1 0h1m0 0h1m2 0h1m1 0h1m5 0h1m2 0h1m1 0h1m-1 0h1m0 0h1m0 0h1m1 0h1m5 0h1m0 0h1m-1 0h1m11 0h1m2 0h1m2 0h1m12 0h1m1 0h1m0 0h1m14 0h1m17 0h1m14 0h1m3 0h1m0 0h1m5 0h1m7 0h1m2 0h1m4 0h1m-443 1h1m22 0h1m25 0h1m45 0h1m2 0h1m6 0h1m4 0h1m11 0h1m6 0h1m8 0h1m-1 0h1m0 0h1m0 0h1m1 0h1m-1 0h1m2 0h1m-1 0h1m0 0h1m8 0h1m0 0h1m0 0h1m0 0h1m2 0h1m1 0h1m1 0h1m6 0h1m3 0h1m3 0h1m1 0h1m1 0h1m-1 0h1m-1 0h1m1 0h1m-1 0h1m7 0h1m1 0h1m0 0h1m0 0h1m2 0h1m3 0h1m1 0h1m-1 0h1m0 0h1m0 0h1m1 0h1m-1 0h1m0 0h1m0 0h1m-1 0h1m1 0h1m-1 0h1m-1 0h1m4 0h1m-1 0h1m3 0h1m-1 0h1m2 0h1m0 0h1m-1 0h1m2 0h1m-1 0h1m1 0h1m0 0h1m-1 0h1m0 0h1m3 0h1m2 0h1m0 0h1m0 0h1m0 0h1m0 0h1m-1 0h1m-1 0h1m0 0h1m0 0h1m3 0h1m3 0h1m-1 0h1m2 0h1m-1 0h1m0 0h1m0 0h1m1 0h1m0 0h1m0 0h1m-1 0h1m0 0h1m-1 0h1m2 0h1m1 0h1m2 0h1m0 0h1m-1 0h1m0 0h1m-1 0h1m0 0h1m-1 0h1m3 0h1m-1 0h1m1 0h1m2 0h1m0 0h1m0 0h1m1 0h1m-1 0h1m0 0h1m3 0h1m-1 0h1m0 0h1m0 0h1m0 0h1m0 0h1m0 0h1m-1 0h1m0 0h1m0 0h1m1 0h1m0 0h1m2 0h1m1 0h1m0 0h1m0 0h1m0 0h1m-1 0h1m0 0h1m1 0h1m2 0h1m2 0h1m0 0h1m5 0h1m0 0h1m5 0h1m8 0h1m2 0h1m6 0h1m8 0h1m2 0h1m19 0h1m23 0h1m8 0h1m31 0h1m-385 1h1m0 0h1m15 0h1m21 0h1m2 0h1m5 0h1m0 0h1m0 0h1m12 0h1m2 0h1m-1 0h1m1 0h1m1 0h1m1 0h1m0 0h1m1 0h1m3 0h1m-1 0h1m-1 0h1m0 0h1m14 0h1m1 0h1m-1 0h1m3 0h1m8 0h1m1 0h1m7 0h1m0 0h1m-1 0h1m0 0h1m2 0h1m-1 0h1m2 0h1m1 0h1m7 0h1m1 0h1m5 0h1m0 0h1m0 0h1m1 0h1m0 0h1m-1 0h1m4 0h1m0 0h1m-1 0h1m-1 0h1m7 0h1m3 0h1m2 0h1m0 0h1m0 0h1m2 0h1m4 0h1m0 0h1m4 0h1m2 0h1m-1 0h1m-1 0h1m3 0h1m0 0h1m0 0h1m-1 0h1m0 0h1m0 0h1m-1 0h1m0 0h1m2 0h1m0 0h1m-1 0h1m-1 0h1m1 0h1m-1 0h1m0 0h1m1 0h1m0 0h1m0 0h1m0 0h1m1 0h1m0 0h1m1 0h1m1 0h1m-1 0h1m-1 0h1m5 0h1m-1 0h1m0 0h1m-1 0h1m2 0h1m4 0h1m0 0h1m3 0h1m-1 0h1m-1 0h1m0 0h1m1 0h1m1 0h1m-1 0h1m0 0h1m0 0h1m0 0h1m-1 0h1m2 0h1m-1 0h1m1 0h1m-1 0h1m1 0h1m1 0h1m0 0h1m0 0h1m2 0h1m1 0h1m3 0h1m6 0h1m4 0h1m2 0h1m14 0h1m7 0h1m2 0h1m2 0h1m0 0h1m14 0h1m-1 0h1m6 0h1m6 0h1m3 0h1m3 0h1m18 0h1m10 0h1m1 0h1m-439 1h1m8 0h1m14 0h1m31 0h1m32 0h1m0 0h1m3 0h1m0 0h1m2 0h1m3 0h1m2 0h1m2 0h1m0 0h1m2 0h1m8 0h1m1 0h1m0 0h1m-1 0h1m3 0h1m0 0h1m-1 0h1m9 0h1m-1 0h1m2 0h1m1 0h1m4 0h1m9 0h1m0 0h1m0 0h1m-1 0h1m3 0h1m3 0h1m0 0h1m0 0h1m2 0h1m1 0h1m1 0h1m1 0h1m5 0h1m0 0h1m7 0h1m2 0h1m0 0h1m5 0h1m-1 0h1m2 0h1m-1 0h1m0 0h1m0 0h1m-1 0h1m0 0h1m2 0h1m-1 0h1m0 0h1m-1 0h1m0 0h1m0 0h1m0 0h1m-1 0h1m-1 0h1m0 0h1m2 0h1m-1 0h1m1 0h1m0 0h1m0 0h1m-1 0h1m-1 0h1m0 0h1m0 0h1m0 0h1m1 0h1m0 0h1m0 0h1m0 0h1m4 0h1m0 0h1m0 0h1m-1 0h1m0 0h1m0 0h1m-1 0h1m1 0h1m2 0h1m3 0h1m0 0h1m-1 0h1m-1 0h1m0 0h1m0 0h1m0 0h1m-1 0h1m0 0h1m-1 0h1m0 0h1m0 0h1m-1 0h1m2 0h1m-1 0h1m0 0h1m-1 0h1m-1 0h1m1 0h1m0 0h1m-1 0h1m2 0h1m0 0h1m-1 0h1m-1 0h1m6 0h1m0 0h1m1 0h1m-1 0h1m2 0h1m-1 0h1m2 0h1m0 0h1m-1 0h1m1 0h1m0 0h1m-1 0h1m0 0h1m0 0h1m3 0h1m0 0h1m8 0h1m6 0h1m2 0h1m8 0h1m12 0h1m0 0h1m17 0h1m6 0h1m0 0h1m2 0h1m4 0h1m-1 0h1m3 0h1m6 0h1m0 0h1m4 0h1m4 0h1m17 0h1m6 0h1m6 0h1m-435 1h1m53 0h1m14 0h1m6 0h1m10 0h1m3 0h1m10 0h1m1 0h1m0 0h1m3 0h1m3 0h1m0 0h1m3 0h1m8 0h1m-1 0h1m2 0h1m0 0h1m4 0h1m0 0h1m9 0h1m0 0h1m7 0h1m1 0h1m1 0h1m-1 0h1m4 0h1m4 0h1m1 0h1m0 0h1m-1 0h1m-1 0h1m-1 0h1m0 0h1m0 0h1m-1 0h1m2 0h1m0 0h1m2 0h1m-1 0h1m1 0h1m1 0h1m-1 0h1m1 0h1m2 0h1m-1 0h1m0 0h1m-1 0h1m1 0h1m0 0h1m1 0h1m-1 0h1m0 0h1m5 0h1m3 0h1m1 0h1m1 0h1m3 0h1m5 0h1m0 0h1m-1 0h1m-1 0h1m-1 0h1m0 0h1m2 0h1m3 0h1m2 0h1m0 0h1m-1 0h1m-1 0h1m0 0h1m1 0h1m-1 0h1m4 0h1m1 0h1m2 0h1m0 0h1m2 0h1m3 0h1m0 0h1m0 0h1m1 0h1m1 0h1m0 0h1m-1 0h1m-1 0h1m0 0h1m1 0h1m-1 0h1m-1 0h1m0 0h1m0 0h1m0 0h1m0 0h1m1 0h1m-1 0h1m0 0h1m1 0h1m-1 0h1m0 0h1m2 0h1m2 0h1m0 0h1m2 0h1m-1 0h1m3 0h1m-1 0h1m0 0h1m-1 0h1m2 0h1m0 0h1m-1 0h1m2 0h1m0 0h1m-1 0h1m1 0h1m0 0h1m2 0h1m0 0h1m0 0h1m-1 0h1m0 0h1m2 0h1m-1 0h1m2 0h1m0 0h1m4 0h1m0 0h1m8 0h1m2 0h1m2 0h1m0 0h1m10 0h1m0 0h1m1 0h1m-1 0h1m4 0h1m1 0h1m29 0h1m1 0h1m0 0h1m1 0h1m3 0h1m1 0h1m1 0h1m5 0h1m3 0h1m9 0h1m3 0h1m4 0h1m8 0h1m5 0h1m-448 1h1m3 0h1m41 0h1m9 0h1m13 0h1m6 0h1m2 0h1m3 0h1m17 0h1m-1 0h1m2 0h1m3 0h1m0 0h1m0 0h1m1 0h1m9 0h1m4 0h1m-1 0h1m0 0h1m1 0h1m0 0h1m-1 0h1m0 0h1m5 0h1m3 0h1m4 0h1m5 0h1m0 0h1m3 0h1m1 0h1m1 0h1m7 0h1m0 0h1m1 0h1m2 0h1m0 0h1m1 0h1m0 0h1m2 0h1m0 0h1m1 0h1m1 0h1m2 0h1m0 0h1m1 0h1m3 0h1m-1 0h1m4 0h1m1 0h1m0 0h1m2 0h1m3 0h1m0 0h1m0 0h1m1 0h1m-1 0h1m1 0h1m-1 0h1m0 0h1m0 0h1m-1 0h1m-1 0h1m0 0h1m3 0h1m0 0h1m-1 0h1m1 0h1m0 0h1m0 0h1m1 0h1m0 0h1m0 0h1m0 0h1m1 0h1m3 0h1m1 0h1m1 0h1m-1 0h1m-1 0h1m4 0h1m0 0h1m-1 0h1m-1 0h1m-1 0h1m0 0h1m0 0h1m-1 0h1m0 0h1m0 0h1m1 0h1m1 0h1m2 0h1m-1 0h1m0 0h1m1 0h1m1 0h1m0 0h1m-1 0h1m0 0h1m-1 0h1m0 0h1m0 0h1m0 0h1m0 0h1m0 0h1m0 0h1m-1 0h1m0 0h1m-1 0h1m1 0h1m-1 0h1m0 0h1m-1 0h1m-1 0h1m1 0h1m-1 0h1m7 0h1m0 0h1m0 0h1m-1 0h1m0 0h1m2 0h1m0 0h1m0 0h1m3 0h1m-1 0h1m0 0h1m1 0h1m0 0h1m2 0h1m0 0h1m-1 0h1m0 0h1m0 0h1m1 0h1m2 0h1m0 0h1m2 0h1m0 0h1m2 0h1m3 0h1m1 0h1m20 0h1m4 0h1m27 0h1m6 0h1m9 0h1m4 0h1m1 0h1m3 0h1m3 0h1m23 0h1m-413 1h1m42 0h1m18 0h1m13 0h1m6 0h1m4 0h1m0 0h1m3 0h1m12 0h1m-1 0h1m1 0h1m5 0h1m0 0h1m-1 0h1m1 0h1m4 0h1m0 0h1m6 0h1m2 0h1m2 0h1m0 0h1m-1 0h1m-1 0h1m0 0h1m1 0h1m1 0h1m0 0h1m0 0h1m1 0h1m0 0h1m1 0h1m4 0h1m-1 0h1m-1 0h1m1 0h1m-1 0h1m13 0h1m6 0h1m5 0h1m0 0h1m3 0h1m3 0h1m0 0h1m-1 0h1m-1 0h1m1 0h1m0 0h1m1 0h1m-1 0h1m5 0h1m5 0h1m0 0h1m0 0h1m-1 0h1m0 0h1m0 0h1m0 0h1m0 0h1m0 0h1m-1 0h1m1 0h1m-1 0h1m5 0h1m-1 0h1m0 0h1m-1 0h1m1 0h1m-1 0h1m-1 0h1m0 0h1m-1 0h1m-1 0h1m1 0h1m-1 0h1m1 0h1m1 0h1m-1 0h1m1 0h1m0 0h1m0 0h1m-1 0h1m0 0h1m-1 0h1m0 0h1m1 0h1m-1 0h1m2 0h1m-1 0h1m-1 0h1m5 0h1m-1 0h1m1 0h1m0 0h1m-1 0h1m-1 0h1m-1 0h1m-1 0h1m0 0h1m2 0h1m0 0h1m0 0h1m0 0h1m3 0h1m1 0h1m0 0h1m-1 0h1m3 0h1m0 0h1m1 0h1m1 0h1m0 0h1m0 0h1m0 0h1m0 0h1m0 0h1m0 0h1m0 0h1m0 0h1m0 0h1m7 0h1m0 0h1m0 0h1m0 0h1m1 0h1m0 0h1m15 0h1m1 0h1m5 0h1m0 0h1m0 0h1m-1 0h1m0 0h1m3 0h1m1 0h1m2 0h1m9 0h1m1 0h1m3 0h1m1 0h1m24 0h1m4 0h1m12 0h1m-1 0h1m0 0h1m-382 1h1m27 0h1m9 0h1m0 0h1m3 0h1m8 0h1m11 0h1m9 0h1m2 0h1m1 0h1m-1 0h1m1 0h1m2 0h1m-1 0h1m-1 0h1m4 0h1m2 0h1m-1 0h1m2 0h1m1 0h1m-1 0h1m1 0h1m4 0h1m0 0h1m0 0h1m7 0h1m2 0h1m0 0h1m0 0h1m0 0h1m-1 0h1m0 0h1m1 0h1m-1 0h1m0 0h1m0 0h1m1 0h1m1 0h1m9 0h1m0 0h1m0 0h1m0 0h1m-1 0h1m0 0h1m0 0h1m2 0h1m0 0h1m5 0h1m0 0h1m2 0h1m2 0h1m2 0h1m-1 0h1m-1 0h1m3 0h1m0 0h1m-1 0h1m4 0h1m-1 0h1m-1 0h1m0 0h1m1 0h1m1 0h1m0 0h1m2 0h1m1 0h1m1 0h1m2 0h1m-1 0h1m0 0h1m-1 0h1m0 0h1m7 0h1m1 0h1m-1 0h1m-1 0h1m3 0h1m1 0h1m2 0h1m-1 0h1m-1 0h1m0 0h1m0 0h1m1 0h1m0 0h1m1 0h1m-1 0h1m1 0h1m1 0h1m0 0h1m-1 0h1m2 0h1m0 0h1m-1 0h1m1 0h1m-1 0h1m-1 0h1m0 0h1m-1 0h1m1 0h1m0 0h1m0 0h1m-1 0h1m4 0h1m0 0h1m6 0h1m1 0h1m-1 0h1m0 0h1m0 0h1m3 0h1m0 0h1m0 0h1m0 0h1m6 0h1m0 0h1m-1 0h1m3 0h1m0 0h1m0 0h1m7 0h1m1 0h1m1 0h1m-1 0h1m-1 0h1m2 0h1m6 0h1m-1 0h1m7 0h1m1 0h1m0 0h1m5 0h1m0 0h1m3 0h1m1 0h1m7 0h1m4 0h1m2 0h1m4 0h1m7 0h1m4 0h1m7 0h1m8 0h1m32 0h1m-467 1h1m19 0h1m0 0h1m22 0h1m38 0h1m11 0h1m6 0h1m29 0h1m1 0h1m11 0h1m-1 0h1m4 0h1m9 0h1m0 0h1m1 0h1m1 0h1m-1 0h1m2 0h1m1 0h1m3 0h1m2 0h1m1 0h1m3 0h1m-1 0h1m0 0h1m2 0h1m-1 0h1m0 0h1m-1 0h1m2 0h1m-1 0h1m2 0h1m2 0h1m-1 0h1m1 0h1m4 0h1m-1 0h1m-1 0h1m6 0h1m0 0h1m0 0h1m1 0h1m-1 0h1m4 0h1m0 0h1m2 0h1m2 0h1m0 0h1m-1 0h1m2 0h1m0 0h1m1 0h1m-1 0h1m0 0h1m0 0h1m-1 0h1m-1 0h1m-1 0h1m0 0h1m0 0h1m0 0h1m1 0h1m0 0h1m-1 0h1m0 0h1m-1 0h1m1 0h1m-1 0h1m2 0h1m0 0h1m0 0h1m-1 0h1m1 0h1m-1 0h1m-1 0h1m-1 0h1m-1 0h1m0 0h1m-1 0h1m0 0h1m-1 0h1m0 0h1m-1 0h1m1 0h1m0 0h1m-1 0h1m0 0h1m0 0h1m6 0h1m1 0h1m0 0h1m2 0h1m-1 0h1m6 0h1m2 0h1m-1 0h1m0 0h1m1 0h1m-1 0h1m-1 0h1m0 0h1m1 0h1m-1 0h1m-1 0h1m0 0h1m-1 0h1m1 0h1m-1 0h1m-1 0h1m3 0h1m0 0h1m0 0h1m2 0h1m-1 0h1m0 0h1m1 0h1m-1 0h1m1 0h1m0 0h1m2 0h1m1 0h1m1 0h1m2 0h1m1 0h1m1 0h1m1 0h1m-1 0h1m1 0h1m-1 0h1m1 0h1m4 0h1m3 0h1m-1 0h1m0 0h1m4 0h1m0 0h1m12 0h1m2 0h1m4 0h1m2 0h1m4 0h1m-1 0h1m6 0h1m3 0h1m13 0h1m3 0h1m6 0h1m3 0h1m1 0h1m8 0h1m0 0h1m11 0h1m-430 1h1m3 0h1m82 0h1m10 0h1m0 0h1m3 0h1m0 0h1m8 0h1m12 0h1m1 0h1m-1 0h1m-1 0h1m3 0h1m-1 0h1m0 0h1m0 0h1m6 0h1m1 0h1m3 0h1m3 0h1m0 0h1m1 0h1m5 0h1m8 0h1m1 0h1m0 0h1m1 0h1m3 0h1m0 0h1m0 0h1m-1 0h1m-1 0h1m0 0h1m0 0h1m2 0h1m0 0h1m0 0h1m0 0h1m-1 0h1m-1 0h1m0 0h1m-1 0h1m3 0h1m0 0h1m1 0h1m0 0h1m-1 0h1m0 0h1m-1 0h1m0 0h1m3 0h1m5 0h1m-1 0h1m3 0h1m0 0h1m2 0h1m0 0h1m4 0h1m1 0h1m-1 0h1m0 0h1m0 0h1m0 0h1m0 0h1m2 0h1m3 0h1m-1 0h1m2 0h1m1 0h1m0 0h1m-1 0h1m0 0h1m0 0h1m-1 0h1m0 0h1m0 0h1m3 0h1m-1 0h1m0 0h1m-1 0h1m0 0h1m-1 0h1m2 0h1m0 0h1m-1 0h1m0 0h1m-1 0h1m0 0h1m2 0h1m1 0h1m-1 0h1m-1 0h1m2 0h1m1 0h1m2 0h1m0 0h1m0 0h1m2 0h1m-1 0h1m0 0h1m2 0h1m0 0h1m1 0h1m-1 0h1m-1 0h1m0 0h1m0 0h1m-1 0h1m-1 0h1m0 0h1m0 0h1m0 0h1m-1 0h1m-1 0h1m-1 0h1m1 0h1m1 0h1m1 0h1m1 0h1m1 0h1m4 0h1m2 0h1m1 0h1m-1 0h1m2 0h1m1 0h1m4 0h1m-1 0h1m0 0h1m4 0h1m0 0h1m0 0h1m3 0h1m5 0h1m0 0h1m-1 0h1m0 0h1m6 0h1m12 0h1m-1 0h1m4 0h1m-1 0h1m3 0h1m-1 0h1m4 0h1m21 0h1m35 0h1m3 0h1m7 0h1m0 0h1m-448 1h1m43 0h1m4 0h1m44 0h1m8 0h1m1 0h1m9 0h1m6 0h1m7 0h1m5 0h1m3 0h1m2 0h1m9 0h1m-1 0h1m2 0h1m-1 0h1m5 0h1m0 0h1m1 0h1m3 0h1m0 0h1m1 0h1m2 0h1m8 0h1m0 0h1m-1 0h1m-1 0h1m-1 0h1m0 0h1m-1 0h1m1 0h1m1 0h1m-1 0h1m0 0h1m-1 0h1m0 0h1m-1 0h1m1 0h1m0 0h1m-1 0h1m0 0h1m2 0h1m0 0h1m0 0h1m2 0h1m8 0h1m-1 0h1m4 0h1m0 0h1m2 0h1m3 0h1m2 0h1m1 0h1m1 0h1m-1 0h1m0 0h1m1 0h1m-1 0h1m-1 0h1m0 0h1m-1 0h1m1 0h1m1 0h1m1 0h1m0 0h1m-1 0h1m0 0h1m-1 0h1m-1 0h1m0 0h1m3 0h1m5 0h1m-1 0h1m0 0h1m3 0h1m1 0h1m-1 0h1m0 0h1m0 0h1m-1 0h1m-1 0h1m0 0h1m0 0h1m0 0h1m-1 0h1m1 0h1m-1 0h1m2 0h1m5 0h1m-1 0h1m1 0h1m0 0h1m0 0h1m0 0h1m-1 0h1m0 0h1m-1 0h1m2 0h1m-1 0h1m0 0h1m3 0h1m0 0h1m1 0h1m-1 0h1m7 0h1m-1 0h1m1 0h1m2 0h1m4 0h1m0 0h1m-1 0h1m2 0h1m1 0h1m2 0h1m0 0h1m2 0h1m-1 0h1m0 0h1m0 0h1m2 0h1m1 0h1m4 0h1m-1 0h1m2 0h1m0 0h1m0 0h1m5 0h1m6 0h1m1 0h1m-1 0h1m-1 0h1m3 0h1m4 0h1m1 0h1m5 0h1m5 0h1m8 0h1m14 0h1m7 0h1m-1 0h1m-1 0h1m3 0h1m23 0h1m18 0h1m-455 1h1m9 0h1m34 0h1m27 0h1m1 0h1m0 0h1m19 0h1m0 0h1m2 0h1m0 0h1m0 0h1m17 0h1m1 0h1m1 0h1m10 0h1m0 0h1m1 0h1m0 0h1m0 0h1m0 0h1m1 0h1m-1 0h1m-1 0h1m-1 0h1m0 0h1m2 0h1m-1 0h1m2 0h1m0 0h1m1 0h1m3 0h1m0 0h1m4 0h1m1 0h1m0 0h1m-1 0h1m0 0h1m2 0h1m4 0h1m3 0h1m-1 0h1m0 0h1m1 0h1m2 0h1m2 0h1m-1 0h1m0 0h1m0 0h1m0 0h1m-1 0h1m0 0h1m4 0h1m3 0h1m13 0h1m3 0h1m-1 0h1m0 0h1m2 0h1m0 0h1m-1 0h1m2 0h1m2 0h1m-1 0h1m2 0h1m0 0h1m-1 0h1m2 0h1m0 0h1m1 0h1m3 0h1m5 0h1m0 0h1m6 0h1m1 0h1m1 0h1m2 0h1m2 0h1m0 0h1m3 0h1m0 0h1m-1 0h1m0 0h1m-1 0h1m0 0h1m0 0h1m-1 0h1m-1 0h1m1 0h1m-1 0h1m3 0h1m-1 0h1m2 0h1m0 0h1m0 0h1m3 0h1m1 0h1m1 0h1m0 0h1m8 0h1m8 0h1m2 0h1m0 0h1m1 0h1m-1 0h1m0 0h1m0 0h1m-1 0h1m6 0h1m4 0h1m4 0h1m5 0h1m1 0h1m10 0h1m0 0h1m0 0h1m0 0h1m11 0h1m-1 0h1m11 0h1m0 0h1m12 0h1m0 0h1m7 0h1m-1 0h1m10 0h1m2 0h1m8 0h1m1 0h1m8 0h1m0 0h1m4 0h1m-419 1h1m9 0h1m17 0h1m0 0h1m15 0h1m6 0h1m2 0h1m3 0h1m2 0h1m1 0h1m22 0h1m4 0h1m2 0h1m6 0h1m1 0h1m0 0h1m3 0h1m4 0h1m-1 0h1m0 0h1m0 0h1m-1 0h1m2 0h1m-1 0h1m9 0h1m2 0h1m3 0h1m3 0h1m-1 0h1m1 0h1m-1 0h1m0 0h1m4 0h1m-1 0h1m0 0h1m-1 0h1m1 0h1m-1 0h1m-1 0h1m1 0h1m0 0h1m-1 0h1m0 0h1m-1 0h1m2 0h1m0 0h1m1 0h1m-1 0h1m-1 0h1m-1 0h1m1 0h1m0 0h1m-1 0h1m0 0h1m1 0h1m3 0h1m3 0h1m3 0h1m0 0h1m2 0h1m1 0h1m-1 0h1m0 0h1m0 0h1m0 0h1m0 0h1m-1 0h1m-1 0h1m-1 0h1m1 0h1m-1 0h1m0 0h1m0 0h1m0 0h1m-1 0h1m-1 0h1m1 0h1m3 0h1m1 0h1m0 0h1m0 0h1m1 0h1m1 0h1m0 0h1m0 0h1m2 0h1m2 0h1m1 0h1m-1 0h1m2 0h1m0 0h1m2 0h1m1 0h1m-1 0h1m1 0h1m0 0h1m0 0h1m0 0h1m1 0h1m-1 0h1m-1 0h1m1 0h1m-1 0h1m0 0h1m-1 0h1m4 0h1m0 0h1m1 0h1m-1 0h1m0 0h1m1 0h1m4 0h1m-1 0h1m0 0h1m0 0h1m2 0h1m1 0h1m0 0h1m-1 0h1m0 0h1m2 0h1m1 0h1m1 0h1m3 0h1m2 0h1m1 0h1m5 0h1m7 0h1m1 0h1m3 0h1m0 0h1m4 0h1m7 0h1m5 0h1m0 0h1m5 0h1m8 0h1m1 0h1m3 0h1m1 0h1m7 0h1m10 0h1m12 0h1m10 0h1m6 0h1m11 0h1m8 0h1m12 0h1m-461 1h1m26 0h1m13 0h1m11 0h1m1 0h1m17 0h1m0 0h1m19 0h1m17 0h1m1 0h1m9 0h1m-1 0h1m0 0h1m2 0h1m8 0h1m1 0h1m2 0h1m2 0h1m0 0h1m1 0h1m1 0h1m9 0h1m1 0h1m3 0h1m3 0h1m2 0h1m0 0h1m-1 0h1m1 0h1m1 0h1m1 0h1m-1 0h1m2 0h1m-1 0h1m-1 0h1m2 0h1m0 0h1m2 0h1m0 0h1m2 0h1m0 0h1m0 0h1m3 0h1m0 0h1m4 0h1m0 0h1m3 0h1m2 0h1m2 0h1m0 0h1m0 0h1m3 0h1m0 0h1m-1 0h1m1 0h1m1 0h1m-1 0h1m4 0h1m-1 0h1m0 0h1m0 0h1m0 0h1m-1 0h1m0 0h1m0 0h1m-1 0h1m0 0h1m0 0h1m0 0h1m0 0h1m2 0h1m2 0h1m1 0h1m4 0h1m-1 0h1m0 0h1m1 0h1m-1 0h1m0 0h1m-1 0h1m2 0h1m-1 0h1m2 0h1m0 0h1m0 0h1m0 0h1m2 0h1m0 0h1m0 0h1m-1 0h1m2 0h1m0 0h1m2 0h1m-1 0h1m0 0h1m0 0h1m0 0h1m0 0h1m-1 0h1m-1 0h1m5 0h1m-1 0h1m-1 0h1m1 0h1m-1 0h1m0 0h1m-1 0h1m13 0h1m1 0h1m3 0h1m-1 0h1m6 0h1m1 0h1m-1 0h1m1 0h1m0 0h1m9 0h1m11 0h1m1 0h1m1 0h1m4 0h1m12 0h1m0 0h1m1 0h1m0 0h1m22 0h1m4 0h1m12 0h1m13 0h1m-419 1h1m26 0h1m4 0h1m16 0h1m24 0h1m7 0h1m3 0h1m3 0h1m13 0h1m7 0h1m-1 0h1m1 0h1m5 0h1m2 0h1m3 0h1m0 0h1m0 0h1m0 0h1m-1 0h1m0 0h1m5 0h1m0 0h1m0 0h1m2 0h1m-1 0h1m1 0h1m0 0h1m0 0h1m-1 0h1m0 0h1m1 0h1m3 0h1m1 0h1m3 0h1m1 0h1m8 0h1m0 0h1m0 0h1m0 0h1m1 0h1m0 0h1m0 0h1m0 0h1m-1 0h1m1 0h1m0 0h1m1 0h1m-1 0h1m0 0h1m0 0h1m0 0h1m-1 0h1m0 0h1m1 0h1m0 0h1m0 0h1m1 0h1m-1 0h1m0 0h1m0 0h1m-1 0h1m-1 0h1m2 0h1m0 0h1m1 0h1m4 0h1m0 0h1m-1 0h1m-1 0h1m1 0h1m-1 0h1m5 0h1m1 0h1m0 0h1m0 0h1m0 0h1m-1 0h1m0 0h1m0 0h1m0 0h1m3 0h1m0 0h1m0 0h1m4 0h1m2 0h1m0 0h1m0 0h1m3 0h1m3 0h1m3 0h1m0 0h1m0 0h1m1 0h1m0 0h1m0 0h1m0 0h1m1 0h1m-1 0h1m0 0h1m1 0h1m0 0h1m-1 0h1m-1 0h1m-1 0h1m-1 0h1m1 0h1m-1 0h1m0 0h1m0 0h1m2 0h1m0 0h1m2 0h1m2 0h1m0 0h1m0 0h1m3 0h1m3 0h1m-1 0h1m0 0h1m0 0h1m8 0h1m0 0h1m3 0h1m4 0h1m-1 0h1m-1 0h1m0 0h1m-1 0h1m1 0h1m-1 0h1m-1 0h1m0 0h1m0 0h1m4 0h1m5 0h1m32 0h1m0 0h1m18 0h1m3 0h1m7 0h1m10 0h1m11 0h1m5 0h1m2 0h1m3 0h1m12 0h1m-361 1h1m11 0h1m2 0h1m1 0h1m1 0h1m-1 0h1m0 0h1m4 0h1m4 0h1m4 0h1m-1 0h1m-1 0h1m-1 0h1m1 0h1m1 0h1m1 0h1m5 0h1m-1 0h1m0 0h1m0 0h1m0 0h1m4 0h1m-1 0h1m2 0h1m1 0h1m1 0h1m-1 0h1m0 0h1m3 0h1m-1 0h1m-1 0h1m-1 0h1m1 0h1m0 0h1m0 0h1m0 0h1m13 0h1m2 0h1m1 0h1m0 0h1m-1 0h1m-1 0h1m0 0h1m-1 0h1m0 0h1m0 0h1m1 0h1m-1 0h1m0 0h1m-1 0h1m-1 0h1m1 0h1m-1 0h1m3 0h1m-1 0h1m3 0h1m3 0h1m0 0h1m0 0h1m1 0h1m0 0h1m1 0h1m1 0h1m-1 0h1m-1 0h1m2 0h1m0 0h1m1 0h1m0 0h1m-1 0h1m-1 0h1m0 0h1m-1 0h1m-1 0h1m0 0h1m0 0h1m0 0h1m-1 0h1m1 0h1m0 0h1m1 0h1m0 0h1m-1 0h1m0 0h1m-1 0h1m1 0h1m0 0h1m-1 0h1m1 0h1m0 0h1m0 0h1m-1 0h1m1 0h1m0 0h1m0 0h1m-1 0h1m-1 0h1m0 0h1m-1 0h1m-1 0h1m-1 0h1m1 0h1m0 0h1m0 0h1m3 0h1m0 0h1m1 0h1m0 0h1m0 0h1m4 0h1m-1 0h1m2 0h1m-1 0h1m0 0h1m0 0h1m0 0h1m0 0h1m0 0h1m1 0h1m-1 0h1m0 0h1m0 0h1m0 0h1m1 0h1m-1 0h1m-1 0h1m2 0h1m-1 0h1m1 0h1m0 0h1m-1 0h1m-1 0h1m1 0h1m-1 0h1m6 0h1m0 0h1m0 0h1m-1 0h1m1 0h1m-1 0h1m3 0h1m2 0h1m0 0h1m1 0h1m0 0h1m5 0h1m0 0h1m0 0h1m0 0h1m-1 0h1m2 0h1m3 0h1m0 0h1m1 0h1m3 0h1m0 0h1m0 0h1m-1 0h1m1 0h1m-1 0h1m4 0h1m0 0h1m1 0h1m0 0h1m5 0h1m5 0h1m10 0h1m25 0h1m0 0h1m4 0h1m10 0h1m5 0h1m2 0h1m1 0h1m2 0h1m10 0h1m4 0h1m4 0h1m6 0h1m-426 1h1m17 0h1m8 0h1m4 0h1m0 0h1m30 0h1m6 0h1m5 0h1m11 0h1m2 0h1m6 0h1m0 0h1m3 0h1m8 0h1m-1 0h1m0 0h1m1 0h1m1 0h1m4 0h1m0 0h1m11 0h1m1 0h1m1 0h1m-1 0h1m3 0h1m0 0h1m1 0h1m5 0h1m-1 0h1m-1 0h1m1 0h1m-1 0h1m1 0h1m1 0h1m3 0h1m2 0h1m-1 0h1m0 0h1m-1 0h1m0 0h1m0 0h1m-1 0h1m1 0h1m3 0h1m-1 0h1m-1 0h1m0 0h1m1 0h1m0 0h1m0 0h1m0 0h1m0 0h1m0 0h1m-1 0h1m0 0h1m-1 0h1m1 0h1m-1 0h1m0 0h1m0 0h1m0 0h1m-1 0h1m1 0h1m-1 0h1m1 0h1m0 0h1m2 0h1m0 0h1m-1 0h1m0 0h1m-1 0h1m1 0h1m0 0h1m0 0h1m5 0h1m0 0h1m0 0h1m0 0h1m1 0h1m-1 0h1m1 0h1m-1 0h1m0 0h1m-1 0h1m0 0h1m1 0h1m0 0h1m0 0h1m1 0h1m0 0h1m0 0h1m2 0h1m-1 0h1m-1 0h1m0 0h1m6 0h1m4 0h1m-1 0h1m0 0h1m1 0h1m4 0h1m-1 0h1m1 0h1m0 0h1m1 0h1m0 0h1m0 0h1m-1 0h1m0 0h1m0 0h1m2 0h1m-1 0h1m1 0h1m0 0h1m-1 0h1m-1 0h1m2 0h1m2 0h1m0 0h1m1 0h1m-1 0h1m-1 0h1m-1 0h1m15 0h1m4 0h1m1 0h1m-1 0h1m5 0h1m0 0h1m2 0h1m-1 0h1m0 0h1m2 0h1m6 0h1m0 0h1m7 0h1m7 0h1m0 0h1m10 0h1m6 0h1m3 0h1m6 0h1m1 0h1m14 0h1m2 0h1m3 0h1m11 0h1m-1 0h1m7 0h1m4 0h1m1 0h1m3 0h1m21 0h1m-469 1h1m3 0h1m45 0h1m1 0h1m0 0h1m23 0h1m13 0h1m7 0h1m2 0h1m1 0h1m17 0h1m2 0h1m5 0h1m3 0h1m2 0h1m-1 0h1m2 0h1m1 0h1m-1 0h1m0 0h1m0 0h1m0 0h1m-1 0h1m2 0h1m0 0h1m2 0h1m0 0h1m5 0h1m-1 0h1m0 0h1m0 0h1m3 0h1m4 0h1m0 0h1m1 0h1m-1 0h1m0 0h1m1 0h1m1 0h1m1 0h1m4 0h1m1 0h1m1 0h1m0 0h1m2 0h1m-1 0h1m2 0h1m2 0h1m-1 0h1m4 0h1m0 0h1m1 0h1m4 0h1m-1 0h1m0 0h1m-1 0h1m0 0h1m0 0h1m1 0h1m0 0h1m1 0h1m0 0h1m0 0h1m-1 0h1m-1 0h1m0 0h1m0 0h1m0 0h1m0 0h1m-1 0h1m2 0h1m-1 0h1m1 0h1m3 0h1m0 0h1m1 0h1m0 0h1m-1 0h1m1 0h1m-1 0h1m2 0h1m-1 0h1m0 0h1m-1 0h1m0 0h1m2 0h1m0 0h1m1 0h1m-1 0h1m0 0h1m0 0h1m1 0h1m1 0h1m1 0h1m1 0h1m0 0h1m1 0h1m0 0h1m0 0h1m0 0h1m0 0h1m0 0h1m-1 0h1m1 0h1m0 0h1m0 0h1m2 0h1m6 0h1m1 0h1m-1 0h1m-1 0h1m5 0h1m0 0h1m-1 0h1m0 0h1m8 0h1m0 0h1m1 0h1m0 0h1m1 0h1m-1 0h1m1 0h1m0 0h1m0 0h1m-1 0h1m7 0h1m4 0h1m0 0h1m8 0h1m7 0h1m4 0h1m3 0h1m6 0h1m10 0h1m21 0h1m-1 0h1m2 0h1m12 0h1m4 0h1m22 0h1m-1 0h1m9 0h1m7 0h1m1 0h1m-433 1h1m18 0h1m41 0h1m3 0h1m4 0h1m2 0h1m14 0h1m1 0h1m1 0h1m3 0h1m2 0h1m2 0h1m1 0h1m0 0h1m0 0h1m1 0h1m3 0h1m1 0h1m-1 0h1m6 0h1m-1 0h1m0 0h1m0 0h1m1 0h1m-1 0h1m0 0h1m0 0h1m0 0h1m0 0h1m-1 0h1m3 0h1m-1 0h1m3 0h1m1 0h1m-1 0h1m0 0h1m2 0h1m2 0h1m1 0h1m1 0h1m-1 0h1m0 0h1m1 0h1m2 0h1m-1 0h1m2 0h1m1 0h1m0 0h1m-1 0h1m-1 0h1m0 0h1m0 0h1m-1 0h1m1 0h1m2 0h1m-1 0h1m0 0h1m1 0h1m0 0h1m3 0h1m-1 0h1m3 0h1m-1 0h1m1 0h1m2 0h1m-1 0h1m1 0h1m3 0h1m0 0h1m-1 0h1m0 0h1m2 0h1m0 0h1m0 0h1m1 0h1m2 0h1m0 0h1m1 0h1m1 0h1m-1 0h1m0 0h1m-1 0h1m0 0h1m-1 0h1m-1 0h1m0 0h1m2 0h1m0 0h1m0 0h1m-1 0h1m0 0h1m2 0h1m0 0h1m0 0h1m0 0h1m0 0h1m0 0h1m0 0h1m1 0h1m1 0h1m1 0h1m5 0h1m2 0h1m-1 0h1m1 0h1m0 0h1m4 0h1m-1 0h1m-1 0h1m5 0h1m1 0h1m0 0h1m0 0h1m2 0h1m0 0h1m-1 0h1m0 0h1m1 0h1m0 0h1m-1 0h1m1 0h1m1 0h1m-1 0h1m0 0h1m2 0h1m2 0h1m4 0h1m5 0h1m1 0h1m-1 0h1m-1 0h1m3 0h1m8 0h1m1 0h1m0 0h1m5 0h1m2 0h1m4 0h1m0 0h1m14 0h1m9 0h1m7 0h1m-1 0h1m7 0h1m10 0h1m2 0h1m3 0h1m1 0h1m10 0h1m14 0h1m5 0h1m27 0h1m-478 1h1m43 0h1m11 0h1m2 0h1m16 0h1m7 0h1m4 0h1m4 0h1m2 0h1m8 0h1m7 0h1m1 0h1m4 0h1m12 0h1m-1 0h1m4 0h1m-1 0h1m1 0h1m3 0h1m2 0h1m2 0h1m4 0h1m2 0h1m-1 0h1m5 0h1m0 0h1m3 0h1m-1 0h1m0 0h1m2 0h1m2 0h1m4 0h1m0 0h1m0 0h1m-1 0h1m1 0h1m-1 0h1m5 0h1m2 0h1m1 0h1m4 0h1m1 0h1m-1 0h1m2 0h1m0 0h1m-1 0h1m0 0h1m0 0h1m0 0h1m0 0h1m-1 0h1m4 0h1m-1 0h1m3 0h1m0 0h1m1 0h1m1 0h1m0 0h1m1 0h1m2 0h1m0 0h1m0 0h1m-1 0h1m-1 0h1m-1 0h1m2 0h1m0 0h1m-1 0h1m-1 0h1m1 0h1m1 0h1m0 0h1m-1 0h1m2 0h1m0 0h1m2 0h1m1 0h1m-1 0h1m1 0h1m-1 0h1m0 0h1m0 0h1m0 0h1m0 0h1m0 0h1m0 0h1m0 0h1m0 0h1m-1 0h1m0 0h1m0 0h1m-1 0h1m-1 0h1m1 0h1m0 0h1m0 0h1m2 0h1m1 0h1m-1 0h1m0 0h1m1 0h1m-1 0h1m0 0h1m0 0h1m1 0h1m0 0h1m0 0h1m1 0h1m1 0h1m-1 0h1m1 0h1m1 0h1m1 0h1m-1 0h1m1 0h1m1 0h1m1 0h1m-1 0h1m0 0h1m0 0h1m1 0h1m-1 0h1m4 0h1m-1 0h1m1 0h1m0 0h1m0 0h1m-1 0h1m1 0h1m2 0h1m-1 0h1m5 0h1m1 0h1m-1 0h1m2 0h1m1 0h1m10 0h1m4 0h1m4 0h1m1 0h1m2 0h1m3 0h1m15 0h1m0 0h1m0 0h1m4 0h1m1 0h1m-1 0h1m22 0h1m5 0h1m28 0h1m2 0h1m-1 0h1m8 0h1m12 0h1m8 0h1m-464 1h1m30 0h1m15 0h1m22 0h1m18 0h1m0 0h1m-1 0h1m0 0h1m1 0h1m8 0h1m5 0h1m3 0h1m1 0h1m0 0h1m1 0h1m1 0h1m5 0h1m1 0h1m5 0h1m3 0h1m-1 0h1m2 0h1m6 0h1m4 0h1m3 0h1m0 0h1m-1 0h1m-1 0h1m0 0h1m3 0h1m0 0h1m2 0h1m2 0h1m-1 0h1m1 0h1m0 0h1m0 0h1m0 0h1m-1 0h1m-1 0h1m1 0h1m-1 0h1m0 0h1m1 0h1m0 0h1m-1 0h1m2 0h1m0 0h1m-1 0h1m-1 0h1m-1 0h1m0 0h1m1 0h1m1 0h1m-1 0h1m0 0h1m0 0h1m1 0h1m-1 0h1m1 0h1m0 0h1m0 0h1m-1 0h1m0 0h1m0 0h1m1 0h1m0 0h1m0 0h1m0 0h1m1 0h1m2 0h1m0 0h1m0 0h1m-1 0h1m1 0h1m0 0h1m0 0h1m-1 0h1m0 0h1m0 0h1m-1 0h1m0 0h1m-1 0h1m1 0h1m1 0h1m1 0h1m1 0h1m-1 0h1m0 0h1m-1 0h1m-1 0h1m0 0h1m-1 0h1m0 0h1m2 0h1m-1 0h1m0 0h1m-1 0h1m0 0h1m2 0h1m-1 0h1m3 0h1m-1 0h1m2 0h1m0 0h1m0 0h1m-1 0h1m2 0h1m0 0h1m0 0h1m-1 0h1m-1 0h1m0 0h1m2 0h1m0 0h1m-1 0h1m1 0h1m1 0h1m-1 0h1m-1 0h1m2 0h1m-1 0h1m-1 0h1m-1 0h1m0 0h1m0 0h1m0 0h1m4 0h1m0 0h1m0 0h1m-1 0h1m2 0h1m0 0h1m0 0h1m0 0h1m0 0h1m1 0h1m2 0h1m6 0h1m5 0h1m0 0h1m-1 0h1m1 0h1m-1 0h1m0 0h1m-1 0h1m0 0h1m1 0h1m5 0h1m11 0h1m17 0h1m0 0h1m12 0h1m1 0h1m1 0h1m20 0h1m9 0h1m16 0h1m0 0h1m12 0h1m0 0h1m4 0h1m17 0h1m-456 1h1m30 0h1m33 0h1m6 0h1m13 0h1m1 0h1m2 0h1m8 0h1m-1 0h1m12 0h1m0 0h1m1 0h1m5 0h1m5 0h1m0 0h1m0 0h1m5 0h1m0 0h1m9 0h1m2 0h1m-1 0h1m0 0h1m2 0h1m0 0h1m0 0h1m1 0h1m0 0h1m1 0h1m-1 0h1m-1 0h1m2 0h1m1 0h1m1 0h1m-1 0h1m1 0h1m3 0h1m4 0h1m0 0h1m0 0h1m0 0h1m3 0h1m1 0h1m2 0h1m0 0h1m0 0h1m0 0h1m-1 0h1m-1 0h1m-1 0h1m1 0h1m-1 0h1m-1 0h1m0 0h1m1 0h1m0 0h1m0 0h1m-1 0h1m8 0h1m-1 0h1m1 0h1m0 0h1m0 0h1m0 0h1m-1 0h1m2 0h1m2 0h1m0 0h1m3 0h1m-1 0h1m0 0h1m-1 0h1m1 0h1m0 0h1m-1 0h1m3 0h1m-1 0h1m0 0h1m2 0h1m-1 0h1m-1 0h1m0 0h1m-1 0h1m3 0h1m1 0h1m-1 0h1m0 0h1m2 0h1m0 0h1m0 0h1m1 0h1m0 0h1m0 0h1m1 0h1m1 0h1m2 0h1m0 0h1m-1 0h1m-1 0h1m7 0h1m0 0h1m-1 0h1m0 0h1m-1 0h1m0 0h1m0 0h1m-1 0h1m0 0h1m0 0h1m-1 0h1m0 0h1m0 0h1m0 0h1m-1 0h1m1 0h1m1 0h1m6 0h1m2 0h1m-1 0h1m1 0h1m-1 0h1m-1 0h1m-1 0h1m1 0h1m3 0h1m1 0h1m-1 0h1m1 0h1m5 0h1m6 0h1m1 0h1m0 0h1m2 0h1m3 0h1m1 0h1m0 0h1m6 0h1m4 0h1m0 0h1m10 0h1m15 0h1m7 0h1m0 0h1m3 0h1m6 0h1m1 0h1m1 0h1m0 0h1m9 0h1m1 0h1m9 0h1m1 0h1m3 0h1m3 0h1m15 0h1m14 0h1m1 0h1m-443 1h1m4 0h1m50 0h1m21 0h1m1 0h1m1 0h1m-1 0h1m3 0h1m4 0h1m-1 0h1m2 0h1m0 0h1m3 0h1m7 0h1m4 0h1m-1 0h1m0 0h1m1 0h1m4 0h1m1 0h1m2 0h1m0 0h1m4 0h1m0 0h1m-1 0h1m3 0h1m0 0h1m0 0h1m0 0h1m5 0h1m1 0h1m-1 0h1m3 0h1m-1 0h1m2 0h1m0 0h1m0 0h1m0 0h1m1 0h1m0 0h1m2 0h1m1 0h1m0 0h1m1 0h1m2 0h1m-1 0h1m0 0h1m0 0h1m0 0h1m0 0h1m1 0h1m2 0h1m-1 0h1m5 0h1m3 0h1m4 0h1m1 0h1m-1 0h1m-1 0h1m0 0h1m0 0h1m-1 0h1m0 0h1m-1 0h1m0 0h1m-1 0h1m1 0h1m-1 0h1m0 0h1m-1 0h1m-1 0h1m0 0h1m0 0h1m-1 0h1m0 0h1m0 0h1m0 0h1m-1 0h1m0 0h1m0 0h1m-1 0h1m0 0h1m3 0h1m-1 0h1m-1 0h1m0 0h1m1 0h1m-1 0h1m0 0h1m1 0h1m0 0h1m2 0h1m0 0h1m1 0h1m0 0h1m0 0h1m2 0h1m-1 0h1m0 0h1m-1 0h1m0 0h1m0 0h1m7 0h1m2 0h1m0 0h1m0 0h1m0 0h1m1 0h1m0 0h1m5 0h1m-1 0h1m1 0h1m-1 0h1m0 0h1m8 0h1m1 0h1m1 0h1m4 0h1m-1 0h1m-1 0h1m1 0h1m-1 0h1m3 0h1m-1 0h1m2 0h1m2 0h1m1 0h1m1 0h1m-1 0h1m6 0h1m8 0h1m0 0h1m-1 0h1m2 0h1m6 0h1m3 0h1m5 0h1m0 0h1m0 0h1m5 0h1m2 0h1m0 0h1m1 0h1m-1 0h1m5 0h1m3 0h1m1 0h1m10 0h1m3 0h1m0 0h1m12 0h1m0 0h1m26 0h1m25 0h1m1 0h1m4 0h1m-432 1h1m26 0h1m6 0h1m9 0h1m2 0h1m7 0h1m5 0h1m0 0h1m-1 0h1m0 0h1m5 0h1m0 0h1m-1 0h1m0 0h1m-1 0h1m8 0h1m1 0h1m0 0h1m4 0h1m-1 0h1m3 0h1m0 0h1m-1 0h1m1 0h1m4 0h1m-1 0h1m-1 0h1m-1 0h1m-1 0h1m4 0h1m0 0h1m0 0h1m0 0h1m-1 0h1m0 0h1m1 0h1m0 0h1m3 0h1m-1 0h1m3 0h1m-1 0h1m1 0h1m0 0h1m0 0h1m0 0h1m0 0h1m0 0h1m-1 0h1m0 0h1m-1 0h1m2 0h1m0 0h1m0 0h1m1 0h1m-1 0h1m0 0h1m0 0h1m-1 0h1m4 0h1m-1 0h1m0 0h1m-1 0h1m-1 0h1m-1 0h1m1 0h1m-1 0h1m-1 0h1m0 0h1m0 0h1m-1 0h1m0 0h1m1 0h1m1 0h1m-1 0h1m-1 0h1m5 0h1m0 0h1m0 0h1m0 0h1m0 0h1m5 0h1m-1 0h1m0 0h1m1 0h1m0 0h1m3 0h1m-1 0h1m-1 0h1m-1 0h1m1 0h1m0 0h1m-1 0h1m-1 0h1m3 0h1m-1 0h1m1 0h1m0 0h1m0 0h1m-1 0h1m0 0h1m0 0h1m0 0h1m1 0h1m4 0h1m-1 0h1m0 0h1m0 0h1m-1 0h1m-1 0h1m-1 0h1m0 0h1m0 0h1m-1 0h1m0 0h1m4 0h1m-1 0h1m-1 0h1m3 0h1m1 0h1m2 0h1m2 0h1m4 0h1m1 0h1m1 0h1m-1 0h1m2 0h1m0 0h1m-1 0h1m-1 0h1m0 0h1m0 0h1m4 0h1m0 0h1m2 0h1m0 0h1m0 0h1m3 0h1m6 0h1m18 0h1m1 0h1m1 0h1m17 0h1m21 0h1m9 0h1m1 0h1m0 0h1m1 0h1m-1 0h1m6 0h1m1 0h1m0 0h1m2 0h1m10 0h1m14 0h1m2 0h1m-1 0h1m4 0h1m41 0h1m-457 1h1m31 0h1m10 0h1m6 0h1m19 0h1m14 0h1m6 0h1m1 0h1m14 0h1m-1 0h1m5 0h1m3 0h1m3 0h1m1 0h1m4 0h1m0 0h1m1 0h1m0 0h1m1 0h1m0 0h1m1 0h1m1 0h1m0 0h1m1 0h1m0 0h1m4 0h1m7 0h1m0 0h1m1 0h1m-1 0h1m0 0h1m-1 0h1m0 0h1m0 0h1m-1 0h1m-1 0h1m0 0h1m0 0h1m0 0h1m2 0h1m2 0h1m0 0h1m3 0h1m-1 0h1m0 0h1m-1 0h1m-1 0h1m0 0h1m-1 0h1m0 0h1m1 0h1m1 0h1m-1 0h1m0 0h1m-1 0h1m0 0h1m1 0h1m0 0h1m4 0h1m2 0h1m1 0h1m1 0h1m1 0h1m0 0h1m0 0h1m0 0h1m2 0h1m0 0h1m1 0h1m-1 0h1m0 0h1m-1 0h1m-1 0h1m-1 0h1m0 0h1m1 0h1m0 0h1m0 0h1m3 0h1m-1 0h1m-1 0h1m-1 0h1m1 0h1m0 0h1m-1 0h1m3 0h1m0 0h1m-1 0h1m1 0h1m0 0h1m-1 0h1m2 0h1m2 0h1m0 0h1m0 0h1m-1 0h1m1 0h1m-1 0h1m0 0h1m4 0h1m5 0h1m0 0h1m-1 0h1m0 0h1m0 0h1m0 0h1m0 0h1m0 0h1m1 0h1m4 0h1m3 0h1m0 0h1m0 0h1m0 0h1m6 0h1m9 0h1m-1 0h1m1 0h1m-1 0h1m2 0h1m0 0h1m8 0h1m1 0h1m0 0h1m0 0h1m2 0h1m17 0h1m3 0h1m4 0h1m3 0h1m5 0h1m2 0h1m7 0h1m6 0h1m8 0h1m2 0h1m2 0h1m3 0h1m19 0h1m0 0h1m2 0h1m1 0h1m7 0h1m3 0h1m2 0h1m0 0h1m-363 1h1m2 0h1m1 0h1m19 0h1m-1 0h1m8 0h1m1 0h1m0 0h1m-1 0h1m1 0h1m1 0h1m2 0h1m0 0h1m0 0h1m0 0h1m0 0h1m3 0h1m0 0h1m-1 0h1m1 0h1m-1 0h1m2 0h1m0 0h1m0 0h1m1 0h1m0 0h1m0 0h1m-1 0h1m0 0h1m2 0h1m-1 0h1m0 0h1m0 0h1m2 0h1m1 0h1m4 0h1m5 0h1m3 0h1m3 0h1m-1 0h1m2 0h1m6 0h1m0 0h1m0 0h1m-1 0h1m1 0h1m0 0h1m-1 0h1m0 0h1m0 0h1m0 0h1m-1 0h1m2 0h1m1 0h1m0 0h1m9 0h1m1 0h1m0 0h1m-1 0h1m0 0h1m0 0h1m-1 0h1m1 0h1m-1 0h1m-1 0h1m0 0h1m1 0h1m-1 0h1m3 0h1m-1 0h1m1 0h1m0 0h1m-1 0h1m0 0h1m2 0h1m-1 0h1m1 0h1m0 0h1m0 0h1m-1 0h1m0 0h1m0 0h1m-1 0h1m1 0h1m3 0h1m-1 0h1m-1 0h1m3 0h1m0 0h1m1 0h1m-1 0h1m0 0h1m0 0h1m-1 0h1m0 0h1m-1 0h1m0 0h1m2 0h1m3 0h1m2 0h1m0 0h1m-1 0h1m1 0h1m0 0h1m1 0h1m1 0h1m3 0h1m1 0h1m-1 0h1m1 0h1m1 0h1m-1 0h1m0 0h1m0 0h1m9 0h1m2 0h1m1 0h1m3 0h1m-1 0h1m-1 0h1m11 0h1m3 0h1m13 0h1m6 0h1m5 0h1m3 0h1m-1 0h1m-1 0h1m5 0h1m-1 0h1m16 0h1m7 0h1m7 0h1m6 0h1m0 0h1m-1 0h1m11 0h1m3 0h1m5 0h1m2 0h1m-1 0h1m0 0h1m0 0h1m0 0h1m3 0h1m-1 0h1m5 0h1m10 0h1m3 0h1m-404 1h1m38 0h1m8 0h1m-1 0h1m0 0h1m1 0h1m4 0h1m2 0h1m2 0h1m13 0h1m3 0h1m1 0h1m1 0h1m1 0h1m2 0h1m-1 0h1m-1 0h1m2 0h1m-1 0h1m3 0h1m-1 0h1m3 0h1m2 0h1m1 0h1m-1 0h1m1 0h1m-1 0h1m0 0h1m2 0h1m0 0h1m0 0h1m1 0h1m1 0h1m1 0h1m0 0h1m1 0h1m0 0h1m0 0h1m2 0h1m-1 0h1m-1 0h1m2 0h1m0 0h1m1 0h1m1 0h1m0 0h1m0 0h1m-1 0h1m-1 0h1m0 0h1m2 0h1m-1 0h1m1 0h1m0 0h1m-1 0h1m5 0h1m3 0h1m1 0h1m0 0h1m2 0h1m1 0h1m2 0h1m0 0h1m0 0h1m1 0h1m2 0h1m1 0h1m1 0h1m-1 0h1m-1 0h1m0 0h1m0 0h1m0 0h1m1 0h1m-1 0h1m0 0h1m1 0h1m0 0h1m-1 0h1m0 0h1m0 0h1m-1 0h1m1 0h1m-1 0h1m1 0h1m-1 0h1m0 0h1m0 0h1m0 0h1m3 0h1m4 0h1m2 0h1m0 0h1m-1 0h1m0 0h1m5 0h1m4 0h1m0 0h1m3 0h1m0 0h1m1 0h1m0 0h1m1 0h1m1 0h1m0 0h1m1 0h1m1 0h1m0 0h1m1 0h1m1 0h1m2 0h1m0 0h1m0 0h1m0 0h1m1 0h1m3 0h1m4 0h1m2 0h1m5 0h1m6 0h1m-1 0h1m8 0h1m-1 0h1m3 0h1m3 0h1m20 0h1m3 0h1m13 0h1m18 0h1m6 0h1m8 0h1m10 0h1m0 0h1m10 0h1m26 0h1m-1 0h1m-455 1h1m36 0h1m1 0h1m9 0h1m29 0h1m8 0h1m13 0h1m-1 0h1m6 0h1m7 0h1m-1 0h1m9 0h1m0 0h1m0 0h1m-1 0h1m0 0h1m-1 0h1m0 0h1m-1 0h1m-1 0h1m1 0h1m0 0h1m1 0h1m-1 0h1m0 0h1m0 0h1m6 0h1m0 0h1m-1 0h1m1 0h1m1 0h1m1 0h1m-1 0h1m1 0h1m0 0h1m-1 0h1m1 0h1m1 0h1m1 0h1m4 0h1m0 0h1m0 0h1m0 0h1m-1 0h1m6 0h1m2 0h1m1 0h1m0 0h1m0 0h1m-1 0h1m-1 0h1m0 0h1m-1 0h1m1 0h1m2 0h1m-1 0h1m2 0h1m0 0h1m1 0h1m5 0h1m0 0h1m0 0h1m2 0h1m1 0h1m0 0h1m2 0h1m0 0h1m0 0h1m-1 0h1m0 0h1m-1 0h1m-1 0h1m1 0h1m2 0h1m3 0h1m1 0h1m0 0h1m3 0h1m0 0h1m0 0h1m-1 0h1m-1 0h1m0 0h1m3 0h1m1 0h1m0 0h1m1 0h1m-1 0h1m0 0h1m1 0h1m1 0h1m0 0h1m-1 0h1m3 0h1m0 0h1m2 0h1m-1 0h1m0 0h1m2 0h1m0 0h1m0 0h1m0 0h1m1 0h1m0 0h1m-1 0h1m-1 0h1m-1 0h1m1 0h1m0 0h1m2 0h1m1 0h1m1 0h1m1 0h1m1 0h1m-1 0h1m1 0h1m1 0h1m2 0h1m11 0h1m7 0h1m2 0h1m10 0h1m12 0h1m11 0h1m4 0h1m1 0h1m0 0h1m10 0h1m5 0h1m8 0h1m11 0h1m3 0h1m0 0h1m0 0h1m44 0h1m6 0h1m-1 0h1m3 0h1m-397 1h1m3 0h1m4 0h1m0 0h1m10 0h1m4 0h1m-1 0h1m2 0h1m1 0h1m6 0h1m-1 0h1m2 0h1m6 0h1m4 0h1m0 0h1m3 0h1m0 0h1m-1 0h1m3 0h1m1 0h1m-1 0h1m2 0h1m-1 0h1m0 0h1m1 0h1m1 0h1m0 0h1m2 0h1m0 0h1m0 0h1m-1 0h1m1 0h1m0 0h1m-1 0h1m-1 0h1m2 0h1m5 0h1m1 0h1m0 0h1m1 0h1m-1 0h1m4 0h1m2 0h1m2 0h1m0 0h1m4 0h1m0 0h1m0 0h1m0 0h1m1 0h1m1 0h1m-1 0h1m3 0h1m-1 0h1m0 0h1m0 0h1m-1 0h1m0 0h1m1 0h1m0 0h1m-1 0h1m0 0h1m-1 0h1m3 0h1m1 0h1m0 0h1m-1 0h1m1 0h1m10 0h1m1 0h1m1 0h1m4 0h1m0 0h1m-1 0h1m1 0h1m-1 0h1m1 0h1m-1 0h1m1 0h1m-1 0h1m0 0h1m-1 0h1m0 0h1m-1 0h1m0 0h1m0 0h1m0 0h1m1 0h1m0 0h1m-1 0h1m-1 0h1m0 0h1m-1 0h1m0 0h1m0 0h1m1 0h1m0 0h1m1 0h1m5 0h1m0 0h1m-1 0h1m0 0h1m2 0h1m7 0h1m0 0h1m1 0h1m-1 0h1m1 0h1m0 0h1m0 0h1m-1 0h1m-1 0h1m1 0h1m2 0h1m-1 0h1m-1 0h1m0 0h1m-1 0h1m0 0h1m0 0h1m1 0h1m1 0h1m2 0h1m-1 0h1m0 0h1m-1 0h1m0 0h1m2 0h1m6 0h1m2 0h1m17 0h1m12 0h1m0 0h1m0 0h1m1 0h1m0 0h1m4 0h1m2 0h1m6 0h1m3 0h1m0 0h1m4 0h1m7 0h1m1 0h1m8 0h1m2 0h1m6 0h1m8 0h1m4 0h1m9 0h1m-1 0h1m3 0h1m0 0h1m12 0h1m9 0h1m1 0h1m23 0h1m-457 1h1m30 0h1m0 0h1m5 0h1m0 0h1m8 0h1m9 0h1m10 0h1m0 0h1m1 0h1m3 0h1m-1 0h1m8 0h1m4 0h1m1 0h1m0 0h1m13 0h1m0 0h1m0 0h1m-1 0h1m2 0h1m2 0h1m-1 0h1m0 0h1m0 0h1m1 0h1m-1 0h1m2 0h1m-1 0h1m-1 0h1m0 0h1m0 0h1m0 0h1m1 0h1m-1 0h1m0 0h1m-1 0h1m0 0h1m-1 0h1m-1 0h1m0 0h1m0 0h1m2 0h1m0 0h1m2 0h1m-1 0h1m0 0h1m0 0h1m0 0h1m3 0h1m1 0h1m-1 0h1m-1 0h1m0 0h1m6 0h1m0 0h1m-1 0h1m1 0h1m-1 0h1m0 0h1m-1 0h1m-1 0h1m2 0h1m0 0h1m0 0h1m-1 0h1m1 0h1m0 0h1m0 0h1m0 0h1m0 0h1m1 0h1m3 0h1m-1 0h1m0 0h1m0 0h1m2 0h1m0 0h1m-1 0h1m0 0h1m-1 0h1m1 0h1m-1 0h1m-1 0h1m0 0h1m0 0h1m1 0h1m-1 0h1m0 0h1m1 0h1m2 0h1m1 0h1m-1 0h1m0 0h1m-1 0h1m0 0h1m0 0h1m0 0h1m2 0h1m-1 0h1m0 0h1m0 0h1m0 0h1m-1 0h1m3 0h1m0 0h1m4 0h1m-1 0h1m0 0h1m0 0h1m0 0h1m-1 0h1m0 0h1m2 0h1m-1 0h1m0 0h1m0 0h1m0 0h1m0 0h1m1 0h1m4 0h1m0 0h1m2 0h1m0 0h1m0 0h1m-1 0h1m4 0h1m-1 0h1m0 0h1m0 0h1m-1 0h1m0 0h1m1 0h1m-1 0h1m0 0h1m-1 0h1m1 0h1m0 0h1m3 0h1m-1 0h1m1 0h1m7 0h1m2 0h1m0 0h1m0 0h1m1 0h1m-1 0h1m0 0h1m4 0h1m3 0h1m9 0h1m1 0h1m1 0h1m1 0h1m2 0h1m3 0h1m1 0h1m-1 0h1m4 0h1m0 0h1m17 0h1m4 0h1m10 0h1m9 0h1m23 0h1m0 0h1m2 0h1m2 0h1m4 0h1m-1 0h1m4 0h1m2 0h1m-1 0h1m4 0h1m5 0h1m-1 0h1m16 0h1m-445 1h1m56 0h1m4 0h1m0 0h1m18 0h1m7 0h1m2 0h1m5 0h1m2 0h1m0 0h1m2 0h1m5 0h1m1 0h1m8 0h1m2 0h1m3 0h1m2 0h1m-1 0h1m-1 0h1m4 0h1m1 0h1m4 0h1m-1 0h1m1 0h1m-1 0h1m1 0h1m1 0h1m3 0h1m-1 0h1m-1 0h1m0 0h1m1 0h1m1 0h1m2 0h1m1 0h1m3 0h1m-1 0h1m0 0h1m3 0h1m0 0h1m0 0h1m-1 0h1m0 0h1m7 0h1m-1 0h1m0 0h1m1 0h1m1 0h1m-1 0h1m1 0h1m2 0h1m5 0h1m0 0h1m0 0h1m0 0h1m1 0h1m1 0h1m3 0h1m0 0h1m0 0h1m1 0h1m0 0h1m2 0h1m0 0h1m-1 0h1m2 0h1m2 0h1m2 0h1m-1 0h1m1 0h1m3 0h1m-1 0h1m0 0h1m2 0h1m0 0h1m0 0h1m0 0h1m-1 0h1m-1 0h1m6 0h1m-1 0h1m1 0h1m-1 0h1m0 0h1m-1 0h1m3 0h1m7 0h1m3 0h1m0 0h1m2 0h1m0 0h1m1 0h1m0 0h1m0 0h1m0 0h1m-1 0h1m1 0h1m2 0h1m0 0h1m0 0h1m3 0h1m-1 0h1m0 0h1m0 0h1m-1 0h1m5 0h1m2 0h1m1 0h1m2 0h1m2 0h1m-1 0h1m0 0h1m2 0h1m17 0h1m0 0h1m16 0h1m4 0h1m0 0h1m6 0h1m3 0h1m6 0h1m20 0h1m7 0h1m25 0h1m7 0h1m12 0h1m-427 1h1m13 0h1m6 0h1m1 0h1m14 0h1m10 0h1m2 0h1m15 0h1m7 0h1m3 0h1m10 0h1m0 0h1m1 0h1m-1 0h1m3 0h1m0 0h1m1 0h1m1 0h1m0 0h1m1 0h1m0 0h1m-1 0h1m-1 0h1m2 0h1m1 0h1m2 0h1m1 0h1m1 0h1m1 0h1m-1 0h1m1 0h1m2 0h1m0 0h1m1 0h1m0 0h1m-1 0h1m2 0h1m-1 0h1m0 0h1m3 0h1m1 0h1m2 0h1m-1 0h1m3 0h1m0 0h1m0 0h1m0 0h1m1 0h1m-1 0h1m-1 0h1m1 0h1m-1 0h1m0 0h1m0 0h1m-1 0h1m-1 0h1m4 0h1m0 0h1m5 0h1m1 0h1m2 0h1m0 0h1m-1 0h1m0 0h1m-1 0h1m4 0h1m0 0h1m3 0h1m0 0h1m0 0h1m1 0h1m-1 0h1m4 0h1m0 0h1m1 0h1m-1 0h1m-1 0h1m-1 0h1m0 0h1m0 0h1m0 0h1m-1 0h1m0 0h1m-1 0h1m-1 0h1m0 0h1m-1 0h1m0 0h1m-1 0h1m-1 0h1m-1 0h1m0 0h1m0 0h1m1 0h1m2 0h1m-1 0h1m0 0h1m1 0h1m0 0h1m0 0h1m-1 0h1m1 0h1m-1 0h1m0 0h1m-1 0h1m0 0h1m8 0h1m0 0h1m2 0h1m2 0h1m-1 0h1m0 0h1m0 0h1m1 0h1m-1 0h1m4 0h1m5 0h1m3 0h1m-1 0h1m2 0h1m3 0h1m0 0h1m2 0h1m6 0h1m4 0h1m5 0h1m6 0h1m2 0h1m8 0h1m-1 0h1m5 0h1m2 0h1m1 0h1m2 0h1m9 0h1m2 0h1m1 0h1m6 0h1m2 0h1m3 0h1m5 0h1m16 0h1m10 0h1m3 0h1m0 0h1m0 0h1m-1 0h1m7 0h1m-1 0h1m7 0h1m7 0h1m5 0h1m1 0h1m1 0h1m12 0h1m14 0h1m-409 1h1m14 0h1m18 0h1m0 0h1m1 0h1m0 0h1m9 0h1m4 0h1m-1 0h1m1 0h1m-1 0h1m2 0h1m1 0h1m0 0h1m0 0h1m-1 0h1m1 0h1m1 0h1m1 0h1m-1 0h1m-1 0h1m1 0h1m-1 0h1m5 0h1m-1 0h1m-1 0h1m0 0h1m0 0h1m-1 0h1m-1 0h1m1 0h1m-1 0h1m0 0h1m2 0h1m-1 0h1m0 0h1m0 0h1m-1 0h1m-1 0h1m0 0h1m-1 0h1m1 0h1m-1 0h1m-1 0h1m0 0h1m0 0h1m1 0h1m2 0h1m3 0h1m-1 0h1m3 0h1m-1 0h1m0 0h1m5 0h1m0 0h1m0 0h1m0 0h1m5 0h1m0 0h1m2 0h1m-1 0h1m0 0h1m0 0h1m-1 0h1m0 0h1m-1 0h1m-1 0h1m1 0h1m0 0h1m0 0h1m12 0h1m-1 0h1m3 0h1m1 0h1m0 0h1m0 0h1m0 0h1m-1 0h1m0 0h1m1 0h1m-1 0h1m1 0h1m0 0h1m2 0h1m1 0h1m0 0h1m1 0h1m0 0h1m0 0h1m0 0h1m0 0h1m-1 0h1m2 0h1m-1 0h1m1 0h1m1 0h1m0 0h1m1 0h1m0 0h1m2 0h1m4 0h1m7 0h1m1 0h1m-1 0h1m0 0h1m-1 0h1m2 0h1m3 0h1m1 0h1m1 0h1m2 0h1m2 0h1m-1 0h1m0 0h1m-1 0h1m0 0h1m2 0h1m1 0h1m6 0h1m4 0h1m12 0h1m1 0h1m5 0h1m9 0h1m22 0h1m5 0h1m0 0h1m-1 0h1m2 0h1m1 0h1m2 0h1m0 0h1m0 0h1m6 0h1m8 0h1m13 0h1m4 0h1m0 0h1m-1 0h1m-1 0h1m12 0h1m3 0h1m0 0h1m5 0h1m2 0h1m2 0h1m5 0h1m0 0h1m1 0h1m15 0h1m9 0h1m-468 1h1m36 0h1m11 0h1m13 0h1m-1 0h1m4 0h1m1 0h1m2 0h1m5 0h1m8 0h1m8 0h1m1 0h1m0 0h1m3 0h1m0 0h1m0 0h1m4 0h1m3 0h1m0 0h1m6 0h1m1 0h1m-1 0h1m-1 0h1m0 0h1m2 0h1m1 0h1m-1 0h1m0 0h1m0 0h1m-1 0h1m0 0h1m-1 0h1m-1 0h1m0 0h1m-1 0h1m0 0h1m-1 0h1m0 0h1m-1 0h1m2 0h1m-1 0h1m0 0h1m0 0h1m0 0h1m1 0h1m1 0h1m0 0h1m0 0h1m-1 0h1m3 0h1m-1 0h1m2 0h1m0 0h1m-1 0h1m0 0h1m0 0h1m0 0h1m-1 0h1m-1 0h1m4 0h1m0 0h1m0 0h1m1 0h1m4 0h1m-1 0h1m0 0h1m2 0h1m0 0h1m0 0h1m1 0h1m-1 0h1m0 0h1m0 0h1m-1 0h1m2 0h1m-1 0h1m-1 0h1m0 0h1m0 0h1m-1 0h1m-1 0h1m-1 0h1m0 0h1m1 0h1m-1 0h1m0 0h1m1 0h1m0 0h1m-1 0h1m0 0h1m1 0h1m0 0h1m-1 0h1m2 0h1m1 0h1m4 0h1m1 0h1m0 0h1m2 0h1m3 0h1m-1 0h1m3 0h1m2 0h1m-1 0h1m0 0h1m-1 0h1m0 0h1m0 0h1m-1 0h1m2 0h1m2 0h1m0 0h1m0 0h1m0 0h1m0 0h1m0 0h1m0 0h1m4 0h1m-1 0h1m0 0h1m5 0h1m2 0h1m-1 0h1m0 0h1m0 0h1m2 0h1m0 0h1m0 0h1m0 0h1m0 0h1m1 0h1m0 0h1m-1 0h1m0 0h1m0 0h1m1 0h1m2 0h1m-1 0h1m5 0h1m3 0h1m15 0h1m-1 0h1m4 0h1m1 0h1m12 0h1m1 0h1m1 0h1m5 0h1m2 0h1m10 0h1m0 0h1m5 0h1m7 0h1m0 0h1m4 0h1m10 0h1m2 0h1m7 0h1m8 0h1m0 0h1m5 0h1m10 0h1m-1 0h1m3 0h1m8 0h1m1 0h1m4 0h1m13 0h1m8 0h1m-459 1h1m37 0h1m14 0h1m7 0h1m6 0h1m3 0h1m9 0h1m4 0h1m6 0h1m8 0h1m-1 0h1m0 0h1m0 0h1m0 0h1m1 0h1m5 0h1m-1 0h1m13 0h1m3 0h1m1 0h1m-1 0h1m-1 0h1m0 0h1m0 0h1m0 0h1m0 0h1m-1 0h1m-1 0h1m1 0h1m1 0h1m0 0h1m-1 0h1m0 0h1m0 0h1m1 0h1m-1 0h1m-1 0h1m2 0h1m0 0h1m0 0h1m3 0h1m1 0h1m1 0h1m3 0h1m0 0h1m0 0h1m0 0h1m-1 0h1m3 0h1m0 0h1m-1 0h1m0 0h1m-1 0h1m-1 0h1m-1 0h1m1 0h1m1 0h1m1 0h1m0 0h1m0 0h1m0 0h1m0 0h1m-1 0h1m0 0h1m0 0h1m-1 0h1m2 0h1m1 0h1m0 0h1m-1 0h1m8 0h1m2 0h1m-1 0h1m-1 0h1m0 0h1m1 0h1m-1 0h1m-1 0h1m1 0h1m-1 0h1m-1 0h1m-1 0h1m1 0h1m4 0h1m0 0h1m0 0h1m0 0h1m0 0h1m2 0h1m0 0h1m0 0h1m1 0h1m0 0h1m0 0h1m0 0h1m-1 0h1m0 0h1m0 0h1m1 0h1m-1 0h1m-1 0h1m1 0h1m0 0h1m-1 0h1m-1 0h1m2 0h1m2 0h1m0 0h1m-1 0h1m1 0h1m-1 0h1m0 0h1m1 0h1m0 0h1m0 0h1m0 0h1m-1 0h1m2 0h1m0 0h1m0 0h1m0 0h1m0 0h1m3 0h1m0 0h1m0 0h1m3 0h1m7 0h1m-1 0h1m2 0h1m12 0h1m0 0h1m4 0h1m9 0h1m4 0h1m1 0h1m5 0h1m0 0h1m12 0h1m20 0h1m1 0h1m2 0h1m3 0h1m1 0h1m0 0h1m4 0h1m5 0h1m0 0h1m0 0h1m0 0h1m10 0h1m4 0h1m-1 0h1m9 0h1m0 0h1m7 0h1m1 0h1m9 0h1m4 0h1m21 0h1m-404 1h1m4 0h1m-1 0h1m1 0h1m15 0h1m0 0h1m17 0h1m7 0h1m1 0h1m4 0h1m2 0h1m3 0h1m2 0h1m1 0h1m0 0h1m2 0h1m0 0h1m0 0h1m-1 0h1m0 0h1m-1 0h1m1 0h1m1 0h1m-1 0h1m1 0h1m0 0h1m0 0h1m-1 0h1m0 0h1m0 0h1m1 0h1m1 0h1m2 0h1m3 0h1m-1 0h1m-1 0h1m0 0h1m-1 0h1m-1 0h1m1 0h1m1 0h1m3 0h1m-1 0h1m0 0h1m-1 0h1m2 0h1m0 0h1m-1 0h1m0 0h1m2 0h1m-1 0h1m0 0h1m0 0h1m0 0h1m-1 0h1m-1 0h1m-1 0h1m0 0h1m1 0h1m-1 0h1m0 0h1m1 0h1m3 0h1m2 0h1m-1 0h1m0 0h1m6 0h1m-1 0h1m0 0h1m3 0h1m-1 0h1m0 0h1m-1 0h1m0 0h1m-1 0h1m0 0h1m-1 0h1m1 0h1m0 0h1m1 0h1m-1 0h1m-1 0h1m3 0h1m-1 0h1m0 0h1m0 0h1m0 0h1m1 0h1m-1 0h1m0 0h1m0 0h1m-1 0h1m0 0h1m0 0h1m0 0h1m3 0h1m3 0h1m2 0h1m0 0h1m-1 0h1m0 0h1m2 0h1m0 0h1m1 0h1m-1 0h1m1 0h1m4 0h1m0 0h1m2 0h1m7 0h1m7 0h1m-1 0h1m0 0h1m2 0h1m0 0h1m1 0h1m2 0h1m1 0h1m1 0h1m10 0h1m9 0h1m0 0h1m4 0h1m2 0h1m0 0h1m2 0h1m1 0h1m7 0h1m2 0h1m-1 0h1m1 0h1m13 0h1m2 0h1m5 0h1m14 0h1m4 0h1m5 0h1m-1 0h1m2 0h1m22 0h1m-1 0h1m5 0h1m8 0h1m-412 1h1m33 0h1m9 0h1m7 0h1m5 0h1m4 0h1m1 0h1m2 0h1m-1 0h1m1 0h1m1 0h1m20 0h1m1 0h1m2 0h1m1 0h1m4 0h1m0 0h1m-1 0h1m1 0h1m0 0h1m-1 0h1m1 0h1m0 0h1m2 0h1m1 0h1m2 0h1m1 0h1m1 0h1m-1 0h1m-1 0h1m2 0h1m0 0h1m0 0h1m-1 0h1m-1 0h1m-1 0h1m3 0h1m-1 0h1m1 0h1m0 0h1m0 0h1m-1 0h1m1 0h1m0 0h1m0 0h1m0 0h1m1 0h1m0 0h1m2 0h1m-1 0h1m5 0h1m1 0h1m1 0h1m2 0h1m-1 0h1m1 0h1m0 0h1m0 0h1m1 0h1m1 0h1m-1 0h1m0 0h1m1 0h1m5 0h1m0 0h1m1 0h1m2 0h1m-1 0h1m0 0h1m1 0h1m-1 0h1m0 0h1m-1 0h1m0 0h1m-1 0h1m0 0h1m3 0h1m2 0h1m-1 0h1m-1 0h1m1 0h1m1 0h1m1 0h1m0 0h1m0 0h1m0 0h1m3 0h1m0 0h1m-1 0h1m1 0h1m1 0h1m0 0h1m0 0h1m0 0h1m5 0h1m3 0h1m0 0h1m1 0h1m1 0h1m1 0h1m0 0h1m-1 0h1m1 0h1m1 0h1m5 0h1m-1 0h1m-1 0h1m0 0h1m1 0h1m3 0h1m4 0h1m1 0h1m6 0h1m9 0h1m0 0h1m1 0h1m1 0h1m3 0h1m0 0h1m-1 0h1m12 0h1m1 0h1m-1 0h1m3 0h1m4 0h1m2 0h1m0 0h1m-1 0h1m8 0h1m-1 0h1m8 0h1m1 0h1m5 0h1m15 0h1m2 0h1m0 0h1m2 0h1m0 0h1m18 0h1m8 0h1m5 0h1m1 0h1m2 0h1m-1 0h1m3 0h1m3 0h1m8 0h1m18 0h1m11 0h1m-447 1h1m32 0h1m11 0h1m1 0h1m0 0h1m1 0h1m7 0h1m7 0h1m6 0h1m7 0h1m2 0h1m0 0h1m4 0h1m1 0h1m2 0h1m3 0h1m2 0h1m0 0h1m1 0h1m-1 0h1m5 0h1m0 0h1m-1 0h1m2 0h1m-1 0h1m4 0h1m-1 0h1m2 0h1m1 0h1m1 0h1m-1 0h1m-1 0h1m-1 0h1m0 0h1m0 0h1m0 0h1m0 0h1m0 0h1m0 0h1m0 0h1m-1 0h1m1 0h1m-1 0h1m0 0h1m-1 0h1m-1 0h1m0 0h1m0 0h1m-1 0h1m0 0h1m0 0h1m-1 0h1m0 0h1m0 0h1m4 0h1m0 0h1m0 0h1m3 0h1m1 0h1m2 0h1m0 0h1m1 0h1m3 0h1m-1 0h1m-1 0h1m1 0h1m3 0h1m-1 0h1m-1 0h1m0 0h1m0 0h1m2 0h1m0 0h1m3 0h1m4 0h1m2 0h1m0 0h1m0 0h1m-1 0h1m1 0h1m1 0h1m0 0h1m1 0h1m0 0h1m0 0h1m0 0h1m0 0h1m0 0h1m2 0h1m3 0h1m0 0h1m-1 0h1m0 0h1m3 0h1m0 0h1m1 0h1m1 0h1m-1 0h1m0 0h1m0 0h1m-1 0h1m0 0h1m2 0h1m0 0h1m-1 0h1m1 0h1m4 0h1m-1 0h1m-1 0h1m3 0h1m4 0h1m4 0h1m0 0h1m1 0h1m1 0h1m4 0h1m0 0h1m11 0h1m0 0h1m10 0h1m9 0h1m4 0h1m2 0h1m2 0h1m-1 0h1m4 0h1m-1 0h1m0 0h1m0 0h1m2 0h1m1 0h1m2 0h1m2 0h1m4 0h1m10 0h1m5 0h1m-1 0h1m0 0h1m10 0h1m8 0h1m2 0h1m3 0h1m4 0h1m9 0h1m3 0h1m5 0h1m6 0h1m6 0h1m3 0h1m27 0h1m-1 0h1m-437 1h1m3 0h1m28 0h1m3 0h1m0 0h1m1 0h1m6 0h1m4 0h1m9 0h1m13 0h1m2 0h1m6 0h1m3 0h1m3 0h1m0 0h1m-1 0h1m-1 0h1m0 0h1m3 0h1m2 0h1m0 0h1m-1 0h1m1 0h1m3 0h1m-1 0h1m3 0h1m-1 0h1m1 0h1m5 0h1m-1 0h1m-1 0h1m0 0h1m-1 0h1m2 0h1m2 0h1m-1 0h1m-1 0h1m-1 0h1m0 0h1m-1 0h1m0 0h1m-1 0h1m0 0h1m1 0h1m1 0h1m-1 0h1m-1 0h1m-1 0h1m0 0h1m-1 0h1m2 0h1m-1 0h1m1 0h1m0 0h1m0 0h1m4 0h1m0 0h1m2 0h1m3 0h1m0 0h1m4 0h1m0 0h1m2 0h1m0 0h1m0 0h1m-1 0h1m2 0h1m-1 0h1m-1 0h1m0 0h1m3 0h1m0 0h1m5 0h1m2 0h1m1 0h1m-1 0h1m1 0h1m1 0h1m0 0h1m0 0h1m-1 0h1m-1 0h1m1 0h1m0 0h1m-1 0h1m-1 0h1m0 0h1m1 0h1m0 0h1m-1 0h1m2 0h1m-1 0h1m-1 0h1m-1 0h1m1 0h1m1 0h1m1 0h1m2 0h1m-1 0h1m4 0h1m1 0h1m0 0h1m7 0h1m5 0h1m0 0h1m0 0h1m-1 0h1m1 0h1m1 0h1m2 0h1m0 0h1m3 0h1m6 0h1m2 0h1m1 0h1m3 0h1m20 0h1m16 0h1m5 0h1m5 0h1m8 0h1m0 0h1m15 0h1m3 0h1m7 0h1m0 0h1m-1 0h1m-1 0h1m4 0h1m0 0h1m18 0h1m1 0h1m16 0h1m1 0h1m28 0h1m10 0h1m-418 1h1m19 0h1m5 0h1m4 0h1m1 0h1m12 0h1m5 0h1m1 0h1m0 0h1m0 0h1m6 0h1m0 0h1m1 0h1m3 0h1m1 0h1m1 0h1m-1 0h1m1 0h1m1 0h1m2 0h1m-1 0h1m0 0h1m0 0h1m1 0h1m0 0h1m3 0h1m0 0h1m6 0h1m-1 0h1m1 0h1m0 0h1m1 0h1m2 0h1m-1 0h1m1 0h1m0 0h1m-1 0h1m-1 0h1m1 0h1m-1 0h1m0 0h1m-1 0h1m3 0h1m-1 0h1m0 0h1m1 0h1m-1 0h1m-1 0h1m0 0h1m0 0h1m1 0h1m0 0h1m4 0h1m-1 0h1m1 0h1m0 0h1m-1 0h1m-1 0h1m0 0h1m1 0h1m-1 0h1m-1 0h1m1 0h1m0 0h1m-1 0h1m-1 0h1m0 0h1m1 0h1m2 0h1m0 0h1m1 0h1m3 0h1m1 0h1m-1 0h1m1 0h1m0 0h1m3 0h1m1 0h1m0 0h1m-1 0h1m1 0h1m1 0h1m-1 0h1m0 0h1m0 0h1m1 0h1m0 0h1m3 0h1m0 0h1m5 0h1m4 0h1m0 0h1m-1 0h1m0 0h1m0 0h1m0 0h1m1 0h1m0 0h1m0 0h1m0 0h1m0 0h1m0 0h1m1 0h1m1 0h1m-1 0h1m3 0h1m2 0h1m-1 0h1m0 0h1m-1 0h1m-1 0h1m8 0h1m2 0h1m3 0h1m-1 0h1m11 0h1m6 0h1m-1 0h1m13 0h1m16 0h1m21 0h1m3 0h1m8 0h1m4 0h1m3 0h1m2 0h1m-1 0h1m1 0h1m5 0h1m2 0h1m16 0h1m5 0h1m3 0h1m3 0h1m3 0h1m12 0h1m23 0h1m-456 1h1m32 0h1m14 0h1m3 0h1m4 0h1m0 0h1m0 0h1m0 0h1m7 0h1m14 0h1m24 0h1m0 0h1m1 0h1m4 0h1m0 0h1m-1 0h1m0 0h1m0 0h1m0 0h1m-1 0h1m5 0h1m3 0h1m1 0h1m2 0h1m2 0h1m2 0h1m-1 0h1m2 0h1m1 0h1m1 0h1m0 0h1m1 0h1m-1 0h1m2 0h1m0 0h1m0 0h1m0 0h1m-1 0h1m-1 0h1m-1 0h1m1 0h1m0 0h1m3 0h1m2 0h1m-1 0h1m-1 0h1m2 0h1m0 0h1m-1 0h1m1 0h1m1 0h1m0 0h1m0 0h1m0 0h1m0 0h1m-1 0h1m0 0h1m1 0h1m0 0h1m-1 0h1m0 0h1m1 0h1m2 0h1m0 0h1m0 0h1m0 0h1m-1 0h1m0 0h1m-1 0h1m-1 0h1m1 0h1m1 0h1m2 0h1m0 0h1m1 0h1m4 0h1m0 0h1m0 0h1m-1 0h1m0 0h1m0 0h1m0 0h1m-1 0h1m-1 0h1m3 0h1m-1 0h1m-1 0h1m-1 0h1m0 0h1m0 0h1m-1 0h1m-1 0h1m2 0h1m1 0h1m-1 0h1m4 0h1m3 0h1m2 0h1m-1 0h1m1 0h1m0 0h1m-1 0h1m2 0h1m1 0h1m1 0h1m1 0h1m0 0h1m5 0h1m0 0h1m10 0h1m2 0h1m0 0h1m0 0h1m9 0h1m4 0h1m5 0h1m1 0h1m3 0h1m6 0h1m1 0h1m2 0h1m12 0h1m1 0h1m1 0h1m3 0h1m1 0h1m19 0h1m7 0h1m11 0h1m3 0h1m0 0h1m3 0h1m-1 0h1m0 0h1m10 0h1m-1 0h1m1 0h1m4 0h1m22 0h1m13 0h1m11 0h1m-426 1h1m2 0h1m2 0h1m16 0h1m15 0h1m4 0h1m7 0h1m5 0h1m2 0h1m20 0h1m3 0h1m-1 0h1m0 0h1m0 0h1m4 0h1m1 0h1m0 0h1m1 0h1m-1 0h1m0 0h1m-1 0h1m1 0h1m-1 0h1m-1 0h1m0 0h1m-1 0h1m0 0h1m0 0h1m-1 0h1m0 0h1m3 0h1m0 0h1m0 0h1m0 0h1m-1 0h1m3 0h1m1 0h1m0 0h1m-1 0h1m1 0h1m4 0h1m1 0h1m-1 0h1m4 0h1m0 0h1m-1 0h1m0 0h1m0 0h1m0 0h1m-1 0h1m0 0h1m1 0h1m-1 0h1m1 0h1m2 0h1m1 0h1m5 0h1m-1 0h1m2 0h1m-1 0h1m0 0h1m0 0h1m-1 0h1m0 0h1m0 0h1m0 0h1m0 0h1m0 0h1m2 0h1m0 0h1m0 0h1m0 0h1m0 0h1m0 0h1m-1 0h1m1 0h1m0 0h1m0 0h1m1 0h1m0 0h1m-1 0h1m0 0h1m-1 0h1m-1 0h1m2 0h1m0 0h1m-1 0h1m3 0h1m4 0h1m4 0h1m-1 0h1m1 0h1m-1 0h1m1 0h1m0 0h1m4 0h1m0 0h1m2 0h1m-1 0h1m1 0h1m3 0h1m6 0h1m1 0h1m1 0h1m9 0h1m-1 0h1m0 0h1m19 0h1m2 0h1m2 0h1m-1 0h1m3 0h1m0 0h1m-1 0h1m6 0h1m0 0h1m3 0h1m0 0h1m4 0h1m16 0h1m0 0h1m2 0h1m0 0h1m1 0h1m1 0h1m0 0h1m12 0h1m4 0h1m2 0h1m5 0h1m4 0h1m3 0h1m9 0h1m1 0h1m12 0h1m21 0h1m6 0h1m1 0h1m20 0h1m-447 1h1m1 0h1m3 0h1m14 0h1m12 0h1m5 0h1m-1 0h1m2 0h1m1 0h1m4 0h1m-1 0h1m11 0h1m6 0h1m1 0h1m0 0h1m12 0h1m3 0h1m0 0h1m5 0h1m-1 0h1m3 0h1m-1 0h1m1 0h1m0 0h1m1 0h1m1 0h1m1 0h1m-1 0h1m0 0h1m1 0h1m0 0h1m-1 0h1m2 0h1m0 0h1m-1 0h1m0 0h1m0 0h1m1 0h1m-1 0h1m0 0h1m7 0h1m1 0h1m1 0h1m-1 0h1m0 0h1m1 0h1m2 0h1m-1 0h1m0 0h1m0 0h1m1 0h1m-1 0h1m-1 0h1m-1 0h1m3 0h1m-1 0h1m0 0h1m-1 0h1m-1 0h1m0 0h1m1 0h1m-1 0h1m0 0h1m-1 0h1m2 0h1m0 0h1m0 0h1m0 0h1m0 0h1m-1 0h1m4 0h1m1 0h1m0 0h1m4 0h1m0 0h1m1 0h1m-1 0h1m1 0h1m-1 0h1m1 0h1m0 0h1m1 0h1m-1 0h1m0 0h1m2 0h1m0 0h1m0 0h1m0 0h1m0 0h1m-1 0h1m1 0h1m0 0h1m0 0h1m0 0h1m2 0h1m1 0h1m-1 0h1m0 0h1m1 0h1m4 0h1m-1 0h1m5 0h1m0 0h1m-1 0h1m-1 0h1m0 0h1m5 0h1m9 0h1m2 0h1m7 0h1m1 0h1m0 0h1m1 0h1m3 0h1m-1 0h1m11 0h1m0 0h1m2 0h1m3 0h1m0 0h1m-1 0h1m0 0h1m0 0h1m0 0h1m11 0h1m2 0h1m6 0h1m6 0h1m9 0h1m7 0h1m9 0h1m3 0h1m19 0h1m10 0h1m3 0h1m2 0h1m12 0h1m2 0h1m1 0h1m1 0h1m8 0h1m10 0h1m3 0h1m6 0h1m4 0h1m-448 1h1m26 0h1m13 0h1m4 0h1m11 0h1m3 0h1m1 0h1m30 0h1m8 0h1m6 0h1m-1 0h1m-1 0h1m0 0h1m0 0h1m0 0h1m0 0h1m1 0h1m1 0h1m2 0h1m4 0h1m-1 0h1m1 0h1m0 0h1m0 0h1m2 0h1m-1 0h1m0 0h1m-1 0h1m0 0h1m1 0h1m1 0h1m-1 0h1m0 0h1m-1 0h1m-1 0h1m1 0h1m0 0h1m-1 0h1m-1 0h1m2 0h1m2 0h1m4 0h1m0 0h1m0 0h1m0 0h1m-1 0h1m0 0h1m0 0h1m0 0h1m3 0h1m0 0h1m0 0h1m0 0h1m-1 0h1m1 0h1m-1 0h1m2 0h1m3 0h1m0 0h1m-1 0h1m-1 0h1m0 0h1m-1 0h1m0 0h1m3 0h1m0 0h1m2 0h1m-1 0h1m-1 0h1m0 0h1m4 0h1m1 0h1m4 0h1m0 0h1m0 0h1m-1 0h1m3 0h1m0 0h1m1 0h1m0 0h1m0 0h1m0 0h1m2 0h1m-1 0h1m1 0h1m4 0h1m-1 0h1m0 0h1m2 0h1m8 0h1m9 0h1m-1 0h1m0 0h1m2 0h1m0 0h1m0 0h1m-1 0h1m0 0h1m6 0h1m0 0h1m3 0h1m0 0h1m0 0h1m0 0h1m4 0h1m2 0h1m2 0h1m0 0h1m0 0h1m4 0h1m5 0h1m-1 0h1m5 0h1m21 0h1m1 0h1m8 0h1m0 0h1m0 0h1m1 0h1m2 0h1m5 0h1m7 0h1m2 0h1m4 0h1m12 0h1m13 0h1m0 0h1m4 0h1m6 0h1m16 0h1m2 0h1m2 0h1m6 0h1m17 0h1m0 0h1m25 0h1m-453 1h1m2 0h1m3 0h1m2 0h1m30 0h1m15 0h1m10 0h1m10 0h1m10 0h1m2 0h1m2 0h1m3 0h1m0 0h1m0 0h1m-1 0h1m0 0h1m0 0h1m0 0h1m1 0h1m0 0h1m-1 0h1m-1 0h1m5 0h1m1 0h1m2 0h1m-1 0h1m1 0h1m2 0h1m6 0h1m0 0h1m0 0h1m0 0h1m2 0h1m-1 0h1m0 0h1m-1 0h1m-1 0h1m0 0h1m0 0h1m-1 0h1m0 0h1m-1 0h1m0 0h1m1 0h1m1 0h1m0 0h1m0 0h1m0 0h1m1 0h1m0 0h1m0 0h1m1 0h1m0 0h1m-1 0h1m0 0h1m0 0h1m0 0h1m0 0h1m-1 0h1m-1 0h1m1 0h1m1 0h1m3 0h1m2 0h1m1 0h1m1 0h1m-1 0h1m1 0h1m-1 0h1m0 0h1m-1 0h1m0 0h1m0 0h1m0 0h1m-1 0h1m1 0h1m3 0h1m-1 0h1m1 0h1m0 0h1m0 0h1m0 0h1m-1 0h1m2 0h1m1 0h1m0 0h1m0 0h1m0 0h1m0 0h1m0 0h1m1 0h1m0 0h1m0 0h1m0 0h1m0 0h1m0 0h1m0 0h1m-1 0h1m5 0h1m1 0h1m0 0h1m-1 0h1m0 0h1m0 0h1m4 0h1m-1 0h1m4 0h1m-1 0h1m11 0h1m4 0h1m4 0h1m3 0h1m1 0h1m6 0h1m1 0h1m0 0h1m1 0h1m0 0h1m9 0h1m3 0h1m5 0h1m0 0h1m1 0h1m1 0h1m2 0h1m-1 0h1m4 0h1m3 0h1m2 0h1m4 0h1m8 0h1m6 0h1m-1 0h1m-1 0h1m0 0h1m35 0h1m1 0h1m0 0h1m1 0h1m-1 0h1m23 0h1m5 0h1m-1 0h1m4 0h1m7 0h1m4 0h1m12 0h1m19 0h1m-436 1h1m1 0h1m8 0h1m5 0h1m12 0h1m5 0h1m8 0h1m-1 0h1m9 0h1m-1 0h1m6 0h1m0 0h1m1 0h1m0 0h1m5 0h1m1 0h1m0 0h1m0 0h1m2 0h1m0 0h1m0 0h1m-1 0h1m0 0h1m-1 0h1m0 0h1m-1 0h1m-1 0h1m0 0h1m-1 0h1m1 0h1m0 0h1m2 0h1m1 0h1m1 0h1m0 0h1m0 0h1m3 0h1m1 0h1m0 0h1m1 0h1m0 0h1m3 0h1m0 0h1m-1 0h1m4 0h1m2 0h1m1 0h1m0 0h1m0 0h1m-1 0h1m-1 0h1m0 0h1m2 0h1m-1 0h1m0 0h1m0 0h1m3 0h1m-1 0h1m0 0h1m1 0h1m1 0h1m-1 0h1m1 0h1m1 0h1m1 0h1m2 0h1m1 0h1m-1 0h1m4 0h1m2 0h1m-1 0h1m1 0h1m1 0h1m1 0h1m0 0h1m0 0h1m1 0h1m0 0h1m-1 0h1m1 0h1m0 0h1m-1 0h1m-1 0h1m0 0h1m0 0h1m4 0h1m1 0h1m0 0h1m4 0h1m0 0h1m1 0h1m6 0h1m0 0h1m4 0h1m0 0h1m1 0h1m0 0h1m0 0h1m-1 0h1m1 0h1m-1 0h1m0 0h1m1 0h1m2 0h1m0 0h1m-1 0h1m8 0h1m1 0h1m1 0h1m0 0h1m2 0h1m2 0h1m18 0h1m2 0h1m1 0h1m2 0h1m7 0h1m2 0h1m8 0h1m4 0h1m7 0h1m0 0h1m6 0h1m1 0h1m2 0h1m0 0h1m4 0h1m12 0h1m12 0h1m7 0h1m4 0h1m1 0h1m1 0h1m1 0h1m2 0h1m0 0h1m0 0h1m14 0h1m4 0h1m0 0h1m1 0h1m2 0h1m11 0h1m17 0h1m-426 1h1m25 0h1m7 0h1m0 0h1m0 0h1m2 0h1m-1 0h1m-1 0h1m1 0h1m0 0h1m4 0h1m7 0h1m7 0h1m0 0h1m-1 0h1m4 0h1m3 0h1m0 0h1m1 0h1m-1 0h1m0 0h1m1 0h1m-1 0h1m0 0h1m-1 0h1m2 0h1m1 0h1m-1 0h1m1 0h1m-1 0h1m1 0h1m-1 0h1m0 0h1m-1 0h1m-1 0h1m0 0h1m-1 0h1m-1 0h1m0 0h1m1 0h1m-1 0h1m-1 0h1m-1 0h1m0 0h1m0 0h1m-1 0h1m7 0h1m-1 0h1m-1 0h1m7 0h1m0 0h1m-1 0h1m0 0h1m1 0h1m0 0h1m1 0h1m-1 0h1m-1 0h1m1 0h1m-1 0h1m-1 0h1m1 0h1m0 0h1m-1 0h1m0 0h1m3 0h1m2 0h1m0 0h1m-1 0h1m0 0h1m-1 0h1m2 0h1m-1 0h1m7 0h1m0 0h1m-1 0h1m0 0h1m-1 0h1m2 0h1m0 0h1m0 0h1m-1 0h1m1 0h1m0 0h1m2 0h1m-1 0h1m0 0h1m-1 0h1m1 0h1m-1 0h1m2 0h1m0 0h1m-1 0h1m-1 0h1m-1 0h1m-1 0h1m0 0h1m0 0h1m-1 0h1m0 0h1m-1 0h1m3 0h1m2 0h1m1 0h1m1 0h1m1 0h1m-1 0h1m2 0h1m-1 0h1m2 0h1m5 0h1m2 0h1m0 0h1m1 0h1m1 0h1m0 0h1m1 0h1m-1 0h1m1 0h1m1 0h1m-1 0h1m1 0h1m3 0h1m9 0h1m-1 0h1m-1 0h1m0 0h1m-1 0h1m1 0h1m7 0h1m10 0h1m4 0h1m1 0h1m4 0h1m6 0h1m1 0h1m4 0h1m0 0h1m0 0h1m4 0h1m20 0h1m2 0h1m5 0h1m2 0h1m1 0h1m6 0h1m4 0h1m10 0h1m5 0h1m23 0h1m2 0h1m0 0h1m-1 0h1m1 0h1m-1 0h1m7 0h1m5 0h1m2 0h1m1 0h1m11 0h1m0 0h1m-1 0h1m-417 1h1m4 0h1m8 0h1m21 0h1m6 0h1m0 0h1m2 0h1m0 0h1m2 0h1m3 0h1m4 0h1m0 0h1m0 0h1m4 0h1m4 0h1m6 0h1m1 0h1m0 0h1m1 0h1m1 0h1m-1 0h1m3 0h1m3 0h1m0 0h1m0 0h1m0 0h1m1 0h1m1 0h1m0 0h1m1 0h1m0 0h1m0 0h1m2 0h1m-1 0h1m2 0h1m2 0h1m0 0h1m4 0h1m2 0h1m0 0h1m0 0h1m-1 0h1m0 0h1m-1 0h1m1 0h1m-1 0h1m-1 0h1m0 0h1m-1 0h1m-1 0h1m2 0h1m3 0h1m3 0h1m-1 0h1m1 0h1m0 0h1m1 0h1m-1 0h1m5 0h1m0 0h1m1 0h1m-1 0h1m4 0h1m-1 0h1m0 0h1m0 0h1m1 0h1m-1 0h1m7 0h1m0 0h1m-1 0h1m2 0h1m1 0h1m0 0h1m0 0h1m-1 0h1m2 0h1m0 0h1m3 0h1m-1 0h1m1 0h1m4 0h1m0 0h1m3 0h1m0 0h1m14 0h1m1 0h1m-1 0h1m2 0h1m1 0h1m-1 0h1m0 0h1m0 0h1m-1 0h1m0 0h1m0 0h1m2 0h1m0 0h1m1 0h1m-1 0h1m3 0h1m2 0h1m7 0h1m10 0h1m9 0h1m5 0h1m1 0h1m-1 0h1m3 0h1m21 0h1m6 0h1m13 0h1m6 0h1m0 0h1m1 0h1m4 0h1m4 0h1m6 0h1m6 0h1m6 0h1m2 0h1m2 0h1m10 0h1m15 0h1m0 0h1m7 0h1m6 0h1m-427 1h1m24 0h1m20 0h1m1 0h1m2 0h1m5 0h1m1 0h1m1 0h1m4 0h1m4 0h1m9 0h1m2 0h1m-1 0h1m3 0h1m-1 0h1m6 0h1m3 0h1m-1 0h1m-1 0h1m1 0h1m-1 0h1m0 0h1m0 0h1m-1 0h1m-1 0h1m0 0h1m1 0h1m2 0h1m0 0h1m-1 0h1m5 0h1m-1 0h1m-1 0h1m0 0h1m-1 0h1m1 0h1m0 0h1m0 0h1m-1 0h1m3 0h1m2 0h1m1 0h1m0 0h1m3 0h1m0 0h1m2 0h1m-1 0h1m0 0h1m-1 0h1m0 0h1m1 0h1m1 0h1m0 0h1m1 0h1m0 0h1m-1 0h1m0 0h1m0 0h1m0 0h1m1 0h1m-1 0h1m3 0h1m0 0h1m-1 0h1m0 0h1m-1 0h1m1 0h1m0 0h1m2 0h1m0 0h1m0 0h1m-1 0h1m-1 0h1m0 0h1m0 0h1m3 0h1m0 0h1m0 0h1m0 0h1m0 0h1m3 0h1m0 0h1m0 0h1m4 0h1m-1 0h1m0 0h1m3 0h1m0 0h1m4 0h1m1 0h1m2 0h1m0 0h1m1 0h1m2 0h1m1 0h1m0 0h1m-1 0h1m4 0h1m0 0h1m3 0h1m0 0h1m-1 0h1m4 0h1m-1 0h1m0 0h1m2 0h1m8 0h1m3 0h1m3 0h1m1 0h1m19 0h1m2 0h1m10 0h1m0 0h1m5 0h1m2 0h1m10 0h1m-1 0h1m2 0h1m0 0h1m3 0h1m-1 0h1m0 0h1m5 0h1m9 0h1m17 0h1m19 0h1m4 0h1m2 0h1m0 0h1m7 0h1m0 0h1m1 0h1m1 0h1m8 0h1m6 0h1m-1 0h1m-398 1h1m10 0h1m0 0h1m18 0h1m16 0h1m-1 0h1m0 0h1m0 0h1m0 0h1m-1 0h1m4 0h1m9 0h1m3 0h1m6 0h1m1 0h1m7 0h1m-1 0h1m0 0h1m2 0h1m1 0h1m-1 0h1m1 0h1m1 0h1m0 0h1m-1 0h1m-1 0h1m-1 0h1m-1 0h1m0 0h1m1 0h1m2 0h1m2 0h1m0 0h1m0 0h1m0 0h1m8 0h1m1 0h1m0 0h1m-1 0h1m-1 0h1m0 0h1m0 0h1m0 0h1m0 0h1m-1 0h1m2 0h1m0 0h1m-1 0h1m0 0h1m0 0h1m-1 0h1m2 0h1m0 0h1m1 0h1m-1 0h1m0 0h1m1 0h1m0 0h1m1 0h1m-1 0h1m1 0h1m-1 0h1m0 0h1m2 0h1m0 0h1m0 0h1m0 0h1m0 0h1m3 0h1m0 0h1m5 0h1m6 0h1m0 0h1m2 0h1m2 0h1m0 0h1m0 0h1m0 0h1m4 0h1m-1 0h1m-1 0h1m2 0h1m-1 0h1m-1 0h1m4 0h1m1 0h1m11 0h1m3 0h1m-1 0h1m2 0h1m1 0h1m3 0h1m-1 0h1m-1 0h1m0 0h1m6 0h1m3 0h1m2 0h1m9 0h1m-1 0h1m0 0h1m3 0h1m2 0h1m-1 0h1m1 0h1m13 0h1m4 0h1m10 0h1m2 0h1m12 0h1m0 0h1m7 0h1m5 0h1m3 0h1m3 0h1m1 0h1m7 0h1m1 0h1m16 0h1m13 0h1m0 0h1m-1 0h1m11 0h1m0 0h1m3 0h1m7 0h1m6 0h1m-396 1h1m29 0h1m1 0h1m1 0h1m18 0h1m2 0h1m-1 0h1m2 0h1m-1 0h1m3 0h1m0 0h1m0 0h1m1 0h1m0 0h1m-1 0h1m5 0h1m0 0h1m-1 0h1m0 0h1m1 0h1m1 0h1m-1 0h1m3 0h1m-1 0h1m3 0h1m1 0h1m-1 0h1m3 0h1m4 0h1m0 0h1m0 0h1m4 0h1m2 0h1m-1 0h1m0 0h1m-1 0h1m1 0h1m5 0h1m0 0h1m-1 0h1m0 0h1m3 0h1m0 0h1m-1 0h1m1 0h1m-1 0h1m1 0h1m-1 0h1m-1 0h1m0 0h1m0 0h1m1 0h1m-1 0h1m3 0h1m2 0h1m1 0h1m2 0h1m0 0h1m0 0h1m0 0h1m-1 0h1m2 0h1m2 0h1m2 0h1m0 0h1m3 0h1m0 0h1m0 0h1m-1 0h1m0 0h1m-1 0h1m2 0h1m0 0h1m3 0h1m-1 0h1m3 0h1m0 0h1m0 0h1m5 0h1m1 0h1m-1 0h1m8 0h1m0 0h1m0 0h1m0 0h1m-1 0h1m0 0h1m-1 0h1m2 0h1m5 0h1m-1 0h1m2 0h1m-1 0h1m-1 0h1m1 0h1m0 0h1m0 0h1m-1 0h1m-1 0h1m0 0h1m1 0h1m4 0h1m4 0h1m6 0h1m14 0h1m3 0h1m-1 0h1m0 0h1m2 0h1m2 0h1m8 0h1m21 0h1m1 0h1m4 0h1m2 0h1m1 0h1m15 0h1m11 0h1m0 0h1m4 0h1m1 0h1m6 0h1m0 0h1m7 0h1m8 0h1m7 0h1m3 0h1m5 0h1m-1 0h1m17 0h1m-421 1h1m1 0h1m3 0h1m22 0h1m7 0h1m8 0h1m6 0h1m5 0h1m1 0h1m4 0h1m18 0h1m-1 0h1m5 0h1m-1 0h1m1 0h1m0 0h1m1 0h1m1 0h1m1 0h1m-1 0h1m3 0h1m-1 0h1m0 0h1m2 0h1m-1 0h1m1 0h1m0 0h1m-1 0h1m2 0h1m2 0h1m0 0h1m2 0h1m0 0h1m-1 0h1m-1 0h1m0 0h1m1 0h1m2 0h1m4 0h1m-1 0h1m0 0h1m0 0h1m4 0h1m0 0h1m1 0h1m0 0h1m-1 0h1m0 0h1m0 0h1m1 0h1m0 0h1m0 0h1m0 0h1m0 0h1m3 0h1m0 0h1m0 0h1m0 0h1m2 0h1m5 0h1m1 0h1m0 0h1m2 0h1m2 0h1m3 0h1m1 0h1m0 0h1m-1 0h1m0 0h1m0 0h1m-1 0h1m0 0h1m-1 0h1m0 0h1m-1 0h1m1 0h1m0 0h1m0 0h1m0 0h1m0 0h1m0 0h1m-1 0h1m0 0h1m-1 0h1m0 0h1m-1 0h1m0 0h1m1 0h1m0 0h1m2 0h1m-1 0h1m4 0h1m2 0h1m1 0h1m4 0h1m1 0h1m2 0h1m1 0h1m1 0h1m0 0h1m0 0h1m7 0h1m10 0h1m6 0h1m1 0h1m0 0h1m0 0h1m4 0h1m9 0h1m2 0h1m3 0h1m3 0h1m2 0h1m1 0h1m8 0h1m0 0h1m4 0h1m3 0h1m1 0h1m-1 0h1m8 0h1m0 0h1m2 0h1m1 0h1m6 0h1m1 0h1m8 0h1m0 0h1m3 0h1m4 0h1m0 0h1m6 0h1m-1 0h1m0 0h1m1 0h1m3 0h1m1 0h1m4 0h1m9 0h1m14 0h1m27 0h1m-434 1h1m0 0h1m18 0h1m3 0h1m24 0h1m-1 0h1m4 0h1m0 0h1m-1 0h1m5 0h1m5 0h1m2 0h1m6 0h1m1 0h1m-1 0h1m3 0h1m2 0h1m0 0h1m2 0h1m1 0h1m0 0h1m4 0h1m1 0h1m0 0h1m-1 0h1m1 0h1m1 0h1m1 0h1m2 0h1m1 0h1m-1 0h1m1 0h1m4 0h1m0 0h1m5 0h1m0 0h1m0 0h1m-1 0h1m-1 0h1m0 0h1m0 0h1m1 0h1m0 0h1m-1 0h1m-1 0h1m-1 0h1m0 0h1m0 0h1m-1 0h1m0 0h1m-1 0h1m0 0h1m-1 0h1m2 0h1m1 0h1m-1 0h1m1 0h1m0 0h1m-1 0h1m0 0h1m-1 0h1m8 0h1m1 0h1m0 0h1m-1 0h1m0 0h1m0 0h1m-1 0h1m4 0h1m-1 0h1m0 0h1m0 0h1m1 0h1m0 0h1m0 0h1m2 0h1m1 0h1m1 0h1m2 0h1m-1 0h1m3 0h1m0 0h1m-1 0h1m0 0h1m1 0h1m-1 0h1m3 0h1m1 0h1m-1 0h1m-1 0h1m-1 0h1m1 0h1m1 0h1m0 0h1m-1 0h1m0 0h1m2 0h1m1 0h1m0 0h1m4 0h1m2 0h1m5 0h1m2 0h1m4 0h1m0 0h1m0 0h1m-1 0h1m0 0h1m1 0h1m-1 0h1m0 0h1m6 0h1m0 0h1m0 0h1m6 0h1m0 0h1m4 0h1m7 0h1m4 0h1m1 0h1m14 0h1m9 0h1m12 0h1m3 0h1m0 0h1m14 0h1m1 0h1m11 0h1m0 0h1m13 0h1m2 0h1m11 0h1m0 0h1m2 0h1m3 0h1m14 0h1m5 0h1m6 0h1m2 0h1m0 0h1m10 0h1m2 0h1m2 0h1m-419 1h1m10 0h1m17 0h1m4 0h1m17 0h1m4 0h1m0 0h1m4 0h1m0 0h1m0 0h1m6 0h1m0 0h1m5 0h1m-1 0h1m1 0h1m1 0h1m-1 0h1m0 0h1m0 0h1m0 0h1m2 0h1m2 0h1m-1 0h1m0 0h1m0 0h1m0 0h1m0 0h1m-1 0h1m-1 0h1m1 0h1m1 0h1m2 0h1m0 0h1m2 0h1m0 0h1m5 0h1m1 0h1m-1 0h1m0 0h1m-1 0h1m0 0h1m3 0h1m-1 0h1m-1 0h1m0 0h1m1 0h1m0 0h1m1 0h1m0 0h1m-1 0h1m0 0h1m-1 0h1m-1 0h1m3 0h1m-1 0h1m0 0h1m-1 0h1m0 0h1m1 0h1m-1 0h1m0 0h1m1 0h1m-1 0h1m0 0h1m5 0h1m-1 0h1m2 0h1m-1 0h1m0 0h1m0 0h1m1 0h1m-1 0h1m2 0h1m1 0h1m1 0h1m0 0h1m0 0h1m0 0h1m0 0h1m0 0h1m7 0h1m0 0h1m6 0h1m-1 0h1m0 0h1m2 0h1m-1 0h1m3 0h1m10 0h1m2 0h1m5 0h1m2 0h1m2 0h1m0 0h1m4 0h1m-1 0h1m0 0h1m1 0h1m2 0h1m1 0h1m4 0h1m0 0h1m1 0h1m4 0h1m2 0h1m4 0h1m-1 0h1m2 0h1m2 0h1m20 0h1m-1 0h1m2 0h1m0 0h1m8 0h1m3 0h1m9 0h1m6 0h1m0 0h1m3 0h1m0 0h1m10 0h1m12 0h1m0 0h1m6 0h1m6 0h1m0 0h1m1 0h1m3 0h1m6 0h1m2 0h1m1 0h1m2 0h1m4 0h1m1 0h1m31 0h1m0 0h1m-420 1h1m15 0h1m17 0h1m-1 0h1m3 0h1m17 0h1m5 0h1m1 0h1m1 0h1m1 0h1m1 0h1m2 0h1m1 0h1m1 0h1m1 0h1m0 0h1m1 0h1m-1 0h1m0 0h1m1 0h1m1 0h1m0 0h1m4 0h1m-1 0h1m3 0h1m5 0h1m2 0h1m2 0h1m0 0h1m1 0h1m0 0h1m-1 0h1m1 0h1m-1 0h1m0 0h1m-1 0h1m0 0h1m0 0h1m0 0h1m2 0h1m1 0h1m2 0h1m-1 0h1m1 0h1m0 0h1m-1 0h1m3 0h1m-1 0h1m2 0h1m1 0h1m0 0h1m2 0h1m2 0h1m-1 0h1m1 0h1m-1 0h1m5 0h1m-1 0h1m1 0h1m1 0h1m0 0h1m-1 0h1m1 0h1m0 0h1m5 0h1m2 0h1m0 0h1m0 0h1m2 0h1m0 0h1m2 0h1m3 0h1m1 0h1m5 0h1m0 0h1m2 0h1m2 0h1m7 0h1m1 0h1m0 0h1m7 0h1m2 0h1m4 0h1m-1 0h1m8 0h1m11 0h1m15 0h1m2 0h1m1 0h1m-1 0h1m0 0h1m24 0h1m8 0h1m5 0h1m4 0h1m6 0h1m1 0h1m13 0h1m0 0h1m6 0h1m12 0h1m-1 0h1m21 0h1m20 0h1m5 0h1m-411 1h1m16 0h1m10 0h1m1 0h1m3 0h1m0 0h1m1 0h1m4 0h1m0 0h1m-1 0h1m-1 0h1m1 0h1m16 0h1m1 0h1m1 0h1m3 0h1m0 0h1m-1 0h1m3 0h1m2 0h1m0 0h1m3 0h1m-1 0h1m0 0h1m1 0h1m4 0h1m-1 0h1m1 0h1m-1 0h1m-1 0h1m0 0h1m0 0h1m2 0h1m0 0h1m1 0h1m1 0h1m1 0h1m0 0h1m3 0h1m-1 0h1m0 0h1m0 0h1m-1 0h1m0 0h1m-1 0h1m0 0h1m1 0h1m0 0h1m3 0h1m-1 0h1m0 0h1m3 0h1m0 0h1m0 0h1m-1 0h1m-1 0h1m0 0h1m-1 0h1m3 0h1m0 0h1m3 0h1m2 0h1m0 0h1m-1 0h1m2 0h1m-1 0h1m4 0h1m-1 0h1m0 0h1m5 0h1m2 0h1m7 0h1m-1 0h1m1 0h1m2 0h1m0 0h1m0 0h1m3 0h1m0 0h1m4 0h1m-1 0h1m0 0h1m1 0h1m-1 0h1m0 0h1m1 0h1m2 0h1m3 0h1m4 0h1m7 0h1m3 0h1m0 0h1m1 0h1m3 0h1m-1 0h1m3 0h1m2 0h1m7 0h1m0 0h1m3 0h1m1 0h1m1 0h1m3 0h1m2 0h1m6 0h1m11 0h1m0 0h1m0 0h1m9 0h1m1 0h1m4 0h1m0 0h1m-1 0h1m2 0h1m-1 0h1m2 0h1m6 0h1m11 0h1m3 0h1m4 0h1m9 0h1m2 0h1m3 0h1m4 0h1m10 0h1m0 0h1m9 0h1m4 0h1m0 0h1m1 0h1m4 0h1m5 0h1m3 0h1m26 0h1m10 0h1m12 0h1m-421 1h1m5 0h1m1 0h1m2 0h1m1 0h1m3 0h1m0 0h1m4 0h1m2 0h1m3 0h1m1 0h1m5 0h1m3 0h1m2 0h1m0 0h1m0 0h1m2 0h1m1 0h1m2 0h1m1 0h1m1 0h1m1 0h1m0 0h1m2 0h1m-1 0h1m0 0h1m-1 0h1m2 0h1m-1 0h1m1 0h1m-1 0h1m1 0h1m-1 0h1m0 0h1m2 0h1m0 0h1m0 0h1m0 0h1m0 0h1m0 0h1m6 0h1m-1 0h1m5 0h1m-1 0h1m2 0h1m-1 0h1m0 0h1m0 0h1m1 0h1m0 0h1m0 0h1m1 0h1m1 0h1m0 0h1m0 0h1m-1 0h1m1 0h1m-1 0h1m3 0h1m1 0h1m1 0h1m-1 0h1m0 0h1m0 0h1m3 0h1m4 0h1m5 0h1m0 0h1m4 0h1m2 0h1m1 0h1m0 0h1m-1 0h1m5 0h1m0 0h1m2 0h1m1 0h1m2 0h1m2 0h1m0 0h1m2 0h1m-1 0h1m0 0h1m4 0h1m1 0h1m4 0h1m3 0h1m1 0h1m2 0h1m3 0h1m6 0h1m5 0h1m-1 0h1m6 0h1m1 0h1m5 0h1m2 0h1m-1 0h1m0 0h1m7 0h1m-1 0h1m-1 0h1m6 0h1m14 0h1m49 0h1m7 0h1m5 0h1m7 0h1m0 0h1m3 0h1m1 0h1m4 0h1m1 0h1m9 0h1m2 0h1m0 0h1m2 0h1m0 0h1m0 0h1m-1 0h1m0 0h1m1 0h1m14 0h1m17 0h1m-421 1h1m6 0h1m35 0h1m8 0h1m3 0h1m0 0h1m3 0h1m0 0h1m2 0h1m3 0h1m2 0h1m0 0h1m1 0h1m2 0h1m1 0h1m0 0h1m2 0h1m-1 0h1m0 0h1m-1 0h1m1 0h1m1 0h1m0 0h1m0 0h1m1 0h1m1 0h1m1 0h1m1 0h1m-1 0h1m-1 0h1m0 0h1m2 0h1m-1 0h1m-1 0h1m1 0h1m0 0h1m0 0h1m2 0h1m1 0h1m-1 0h1m-1 0h1m-1 0h1m2 0h1m-1 0h1m1 0h1m-1 0h1m0 0h1m1 0h1m-1 0h1m0 0h1m0 0h1m0 0h1m-1 0h1m-1 0h1m6 0h1m0 0h1m1 0h1m0 0h1m-1 0h1m0 0h1m-1 0h1m1 0h1m1 0h1m-1 0h1m2 0h1m-1 0h1m2 0h1m-1 0h1m0 0h1m0 0h1m0 0h1m0 0h1m-1 0h1m13 0h1m0 0h1m-1 0h1m0 0h1m-1 0h1m1 0h1m-1 0h1m2 0h1m0 0h1m0 0h1m2 0h1m4 0h1m0 0h1m-1 0h1m0 0h1m1 0h1m0 0h1m3 0h1m2 0h1m6 0h1m2 0h1m2 0h1m1 0h1m-1 0h1m4 0h1m3 0h1m8 0h1m10 0h1m0 0h1m7 0h1m-1 0h1m11 0h1m6 0h1m2 0h1m3 0h1m8 0h1m0 0h1m2 0h1m12 0h1m-1 0h1m15 0h1m0 0h1m-1 0h1m13 0h1m-1 0h1m2 0h1m8 0h1m21 0h1m5 0h1m0 0h1m3 0h1m8 0h1m2 0h1m3 0h1m4 0h1m11 0h1m10 0h1m7 0h1m-448 1h1m21 0h1m8 0h1m0 0h1m8 0h1m5 0h1m7 0h1m5 0h1m6 0h1m4 0h1m3 0h1m-1 0h1m1 0h1m3 0h1m8 0h1m0 0h1m6 0h1m2 0h1m1 0h1m0 0h1m0 0h1m0 0h1m-1 0h1m1 0h1m0 0h1m-1 0h1m-1 0h1m2 0h1m4 0h1m-1 0h1m1 0h1m-1 0h1m2 0h1m-1 0h1m2 0h1m1 0h1m3 0h1m2 0h1m1 0h1m2 0h1m0 0h1m-1 0h1m-1 0h1m1 0h1m1 0h1m2 0h1m3 0h1m0 0h1m6 0h1m1 0h1m1 0h1m0 0h1m-1 0h1m-1 0h1m6 0h1m5 0h1m0 0h1m0 0h1m1 0h1m-1 0h1m0 0h1m2 0h1m0 0h1m0 0h1m-1 0h1m1 0h1m2 0h1m0 0h1m-1 0h1m-1 0h1m0 0h1m0 0h1m2 0h1m0 0h1m3 0h1m4 0h1m0 0h1m6 0h1m1 0h1m7 0h1m6 0h1m0 0h1m6 0h1m0 0h1m1 0h1m15 0h1m3 0h1m9 0h1m18 0h1m0 0h1m8 0h1m1 0h1m1 0h1m0 0h1m0 0h1m0 0h1m4 0h1m2 0h1m1 0h1m2 0h1m1 0h1m13 0h1m4 0h1m1 0h1m2 0h1m12 0h1m-1 0h1m0 0h1m0 0h1m9 0h1m0 0h1m9 0h1m25 0h1m8 0h1m0 0h1m2 0h1m16 0h1m11 0h1m-416 1h1m10 0h1m1 0h1m17 0h1m1 0h1m6 0h1m1 0h1m2 0h1m0 0h1m1 0h1m1 0h1m9 0h1m-1 0h1m2 0h1m0 0h1m7 0h1m-1 0h1m2 0h1m-1 0h1m0 0h1m1 0h1m1 0h1m-1 0h1m0 0h1m0 0h1m1 0h1m0 0h1m-1 0h1m0 0h1m-1 0h1m4 0h1m2 0h1m-1 0h1m0 0h1m-1 0h1m4 0h1m-1 0h1m11 0h1m-1 0h1m0 0h1m0 0h1m5 0h1m-1 0h1m1 0h1m2 0h1m-1 0h1m9 0h1m-1 0h1m10 0h1m0 0h1m0 0h1m0 0h1m2 0h1m-1 0h1m0 0h1m-1 0h1m2 0h1m2 0h1m0 0h1m9 0h1m2 0h1m1 0h1m-1 0h1m-1 0h1m12 0h1m11 0h1m3 0h1m0 0h1m6 0h1m0 0h1m-1 0h1m16 0h1m10 0h1m12 0h1m2 0h1m-1 0h1m30 0h1m0 0h1m-1 0h1m5 0h1m12 0h1m-1 0h1m6 0h1m2 0h1m17 0h1m3 0h1m2 0h1m2 0h1m0 0h1m1 0h1m1 0h1m-1 0h1m11 0h1m0 0h1m4 0h1m4 0h1m-408 1h1m12 0h1m-1 0h1m20 0h1m4 0h1m1 0h1m3 0h1m0 0h1m6 0h1m5 0h1m2 0h1m0 0h1m-1 0h1m9 0h1m-1 0h1m0 0h1m2 0h1m8 0h1m3 0h1m1 0h1m2 0h1m0 0h1m0 0h1m-1 0h1m1 0h1m-1 0h1m0 0h1m1 0h1m0 0h1m0 0h1m1 0h1m-1 0h1m1 0h1m0 0h1m0 0h1m-1 0h1m0 0h1m0 0h1m5 0h1m2 0h1m-1 0h1m-1 0h1m0 0h1m2 0h1m-1 0h1m-1 0h1m0 0h1m-1 0h1m6 0h1m0 0h1m-1 0h1m0 0h1m0 0h1m5 0h1m1 0h1m0 0h1m-1 0h1m10 0h1m1 0h1m2 0h1m0 0h1m-1 0h1m4 0h1m3 0h1m3 0h1m6 0h1m2 0h1m7 0h1m0 0h1m-1 0h1m0 0h1m6 0h1m0 0h1m4 0h1m1 0h1m2 0h1m0 0h1m7 0h1m7 0h1m0 0h1m8 0h1m5 0h1m0 0h1m5 0h1m0 0h1m3 0h1m-1 0h1m1 0h1m3 0h1m0 0h1m3 0h1m0 0h1m15 0h1m5 0h1m2 0h1m-1 0h1m1 0h1m0 0h1m3 0h1m7 0h1m1 0h1m5 0h1m8 0h1m19 0h1m3 0h1m0 0h1m0 0h1m6 0h1m8 0h1m2 0h1m7 0h1m0 0h1m4 0h1m21 0h1m12 0h1m27 0h1m-453 1h1m20 0h1m1 0h1m8 0h1m15 0h1m1 0h1m-1 0h1m2 0h1m0 0h1m1 0h1m0 0h1m13 0h1m0 0h1m0 0h1m1 0h1m-1 0h1m4 0h1m0 0h1m3 0h1m3 0h1m3 0h1m-1 0h1m2 0h1m-1 0h1m2 0h1m4 0h1m-1 0h1m2 0h1m1 0h1m2 0h1m3 0h1m0 0h1m-1 0h1m0 0h1m0 0h1m1 0h1m1 0h1m2 0h1m1 0h1m1 0h1m4 0h1m-1 0h1m2 0h1m0 0h1m0 0h1m2 0h1m1 0h1m0 0h1m0 0h1m0 0h1m1 0h1m9 0h1m-1 0h1m-1 0h1m0 0h1m-1 0h1m3 0h1m8 0h1m0 0h1m0 0h1m0 0h1m0 0h1m-1 0h1m3 0h1m1 0h1m1 0h1m0 0h1m14 0h1m4 0h1m1 0h1m1 0h1m0 0h1m1 0h1m1 0h1m0 0h1m0 0h1m6 0h1m1 0h1m1 0h1m6 0h1m11 0h1m2 0h1m2 0h1m9 0h1m1 0h1m7 0h1m1 0h1m15 0h1m0 0h1m26 0h1m7 0h1m6 0h1m0 0h1m2 0h1m0 0h1m0 0h1m0 0h1m-1 0h1m4 0h1m0 0h1m0 0h1m-1 0h1m0 0h1m0 0h1m1 0h1m3 0h1m0 0h1m0 0h1m3 0h1m6 0h1m6 0h1m12 0h1m1 0h1m0 0h1m0 0h1m0 0h1m0 0h1m-1 0h1m5 0h1m0 0h1m-1 0h1m26 0h1m5 0h1m9 0h1m-449 1h1m27 0h1m4 0h1m3 0h1m9 0h1m8 0h1m13 0h1m0 0h1m-1 0h1m2 0h1m0 0h1m1 0h1m4 0h1m1 0h1m0 0h1m0 0h1m0 0h1m-1 0h1m2 0h1m-1 0h1m6 0h1m0 0h1m2 0h1m2 0h1m3 0h1m1 0h1m0 0h1m-1 0h1m0 0h1m-1 0h1m0 0h1m3 0h1m1 0h1m3 0h1m-1 0h1m-1 0h1m2 0h1m-1 0h1m2 0h1m6 0h1m1 0h1m3 0h1m-1 0h1m2 0h1m0 0h1m0 0h1m1 0h1m1 0h1m2 0h1m-1 0h1m-1 0h1m0 0h1m4 0h1m1 0h1m1 0h1m3 0h1m4 0h1m-1 0h1m1 0h1m0 0h1m2 0h1m3 0h1m1 0h1m1 0h1m-1 0h1m2 0h1m0 0h1m3 0h1m4 0h1m1 0h1m0 0h1m0 0h1m6 0h1m1 0h1m4 0h1m0 0h1m11 0h1m6 0h1m2 0h1m0 0h1m0 0h1m1 0h1m13 0h1m4 0h1m10 0h1m15 0h1m5 0h1m5 0h1m2 0h1m6 0h1m8 0h1m2 0h1m7 0h1m3 0h1m-1 0h1m-1 0h1m12 0h1m3 0h1m-1 0h1m9 0h1m0 0h1m0 0h1m15 0h1m2 0h1m0 0h1m10 0h1m17 0h1m9 0h1m3 0h1m3 0h1m5 0h1m1 0h1m5 0h1m4 0h1m9 0h1m-447 1h1m2 0h1m1 0h1m0 0h1m11 0h1m2 0h1m-1 0h1m0 0h1m4 0h1m4 0h1m7 0h1m1 0h1m6 0h1m2 0h1m0 0h1m1 0h1m3 0h1m4 0h1m5 0h1m1 0h1m-1 0h1m0 0h1m-1 0h1m0 0h1m7 0h1m0 0h1m0 0h1m1 0h1m-1 0h1m0 0h1m3 0h1m-1 0h1m2 0h1m0 0h1m2 0h1m0 0h1m3 0h1m0 0h1m3 0h1m0 0h1m0 0h1m-1 0h1m0 0h1m0 0h1m-1 0h1m2 0h1m-1 0h1m-1 0h1m0 0h1m2 0h1m0 0h1m8 0h1m1 0h1m0 0h1m3 0h1m1 0h1m2 0h1m-1 0h1m-1 0h1m0 0h1m0 0h1m-1 0h1m0 0h1m0 0h1m1 0h1m1 0h1m0 0h1m0 0h1m4 0h1m0 0h1m-1 0h1m2 0h1m0 0h1m0 0h1m0 0h1m7 0h1m0 0h1m0 0h1m4 0h1m2 0h1m0 0h1m2 0h1m2 0h1m7 0h1m0 0h1m4 0h1m3 0h1m1 0h1m21 0h1m8 0h1m2 0h1m3 0h1m3 0h1m0 0h1m7 0h1m0 0h1m22 0h1m2 0h1m6 0h1m0 0h1m4 0h1m0 0h1m0 0h1m7 0h1m4 0h1m1 0h1m6 0h1m3 0h1m-1 0h1m6 0h1m14 0h1m8 0h1m0 0h1m9 0h1m0 0h1m0 0h1m1 0h1m-1 0h1m8 0h1m0 0h1m-1 0h1m-1 0h1m5 0h1m3 0h1m10 0h1m-1 0h1m7 0h1m3 0h1m6 0h1m-422 1h1m6 0h1m2 0h1m11 0h1m2 0h1m17 0h1m-1 0h1m3 0h1m0 0h1m1 0h1m7 0h1m4 0h1m3 0h1m0 0h1m-1 0h1m13 0h1m-1 0h1m-1 0h1m-1 0h1m0 0h1m2 0h1m3 0h1m3 0h1m-1 0h1m0 0h1m0 0h1m1 0h1m1 0h1m0 0h1m3 0h1m-1 0h1m5 0h1m1 0h1m6 0h1m8 0h1m-1 0h1m2 0h1m-1 0h1m0 0h1m1 0h1m0 0h1m-1 0h1m2 0h1m2 0h1m0 0h1m1 0h1m3 0h1m2 0h1m2 0h1m1 0h1m13 0h1m3 0h1m0 0h1m2 0h1m0 0h1m4 0h1m0 0h1m0 0h1m2 0h1m0 0h1m1 0h1m2 0h1m-1 0h1m0 0h1m10 0h1m0 0h1m1 0h1m0 0h1m3 0h1m6 0h1m2 0h1m1 0h1m3 0h1m5 0h1m4 0h1m6 0h1m0 0h1m-1 0h1m12 0h1m9 0h1m4 0h1m4 0h1m0 0h1m4 0h1m0 0h1m21 0h1m0 0h1m1 0h1m3 0h1m14 0h1m1 0h1m3 0h1m1 0h1m1 0h1m6 0h1m-1 0h1m6 0h1m3 0h1m11 0h1m15 0h1m-403 1h1m9 0h1m18 0h1m7 0h1m18 0h1m7 0h1m4 0h1m4 0h1m0 0h1m3 0h1m1 0h1m0 0h1m0 0h1m5 0h1m7 0h1m-1 0h1m2 0h1m0 0h1m-1 0h1m0 0h1m-1 0h1m8 0h1m0 0h1m1 0h1m-1 0h1m6 0h1m7 0h1m-1 0h1m3 0h1m4 0h1m1 0h1m4 0h1m-1 0h1m-1 0h1m0 0h1m-1 0h1m1 0h1m0 0h1m0 0h1m-1 0h1m0 0h1m2 0h1m0 0h1m0 0h1m4 0h1m2 0h1m4 0h1m11 0h1m1 0h1m11 0h1m5 0h1m1 0h1m-1 0h1m-1 0h1m2 0h1m4 0h1m0 0h1m14 0h1m6 0h1m0 0h1m3 0h1m8 0h1m5 0h1m0 0h1m5 0h1m18 0h1m1 0h1m3 0h1m0 0h1m0 0h1m-1 0h1m-1 0h1m1 0h1m16 0h1m0 0h1m9 0h1m9 0h1m7 0h1m0 0h1m3 0h1m11 0h1m2 0h1m0 0h1m9 0h1m14 0h1m4 0h1m1 0h1m-1 0h1m0 0h1m1 0h1m8 0h1m9 0h1m3 0h1m1 0h1m2 0h1m1 0h1m-416 1h1m8 0h1m5 0h1m6 0h1m19 0h1m-1 0h1m1 0h1m-1 0h1m-1 0h1m2 0h1m0 0h1m4 0h1m1 0h1m0 0h1m-1 0h1m1 0h1m1 0h1m-1 0h1m2 0h1m3 0h1m16 0h1m0 0h1m4 0h1m0 0h1m2 0h1m2 0h1m-1 0h1m-1 0h1m-1 0h1m1 0h1m3 0h1m-1 0h1m0 0h1m0 0h1m-1 0h1m-1 0h1m1 0h1m0 0h1m0 0h1m1 0h1m0 0h1m0 0h1m2 0h1m0 0h1m-1 0h1m1 0h1m-1 0h1m2 0h1m3 0h1m8 0h1m-1 0h1m1 0h1m2 0h1m2 0h1m-1 0h1m0 0h1m0 0h1m0 0h1m0 0h1m3 0h1m0 0h1m-1 0h1m3 0h1m0 0h1m12 0h1m10 0h1m7 0h1m1 0h1m4 0h1m-1 0h1m0 0h1m-1 0h1m19 0h1m-1 0h1m6 0h1m0 0h1m9 0h1m0 0h1m10 0h1m4 0h1m11 0h1m7 0h1m4 0h1m6 0h1m-1 0h1m1 0h1m14 0h1m5 0h1m32 0h1m27 0h1m0 0h1m3 0h1m4 0h1m2 0h1m1 0h1m5 0h1m4 0h1m8 0h1m13 0h1m5 0h1m11 0h1m-1 0h1m-434 1h1m4 0h1m8 0h1m8 0h1m16 0h1m0 0h1m0 0h1m2 0h1m5 0h1m0 0h1m1 0h1m4 0h1m6 0h1m8 0h1m-1 0h1m-1 0h1m3 0h1m3 0h1m4 0h1m0 0h1m4 0h1m1 0h1m0 0h1m-1 0h1m5 0h1m2 0h1m0 0h1m1 0h1m0 0h1m0 0h1m-1 0h1m1 0h1m3 0h1m-1 0h1m6 0h1m0 0h1m5 0h1m-1 0h1m1 0h1m0 0h1m0 0h1m1 0h1m5 0h1m0 0h1m0 0h1m0 0h1m6 0h1m-1 0h1m0 0h1m2 0h1m5 0h1m9 0h1m3 0h1m13 0h1m0 0h1m0 0h1m6 0h1m6 0h1m0 0h1m14 0h1m0 0h1m6 0h1m0 0h1m4 0h1m1 0h1m2 0h1m-1 0h1m0 0h1m7 0h1m1 0h1m8 0h1m6 0h1m-1 0h1m4 0h1m-1 0h1m1 0h1m1 0h1m5 0h1m0 0h1m21 0h1m2 0h1m6 0h1m-1 0h1m-1 0h1m2 0h1m2 0h1m1 0h1m8 0h1m2 0h1m4 0h1m4 0h1m24 0h1m0 0h1m0 0h1m-1 0h1m3 0h1m4 0h1m1 0h1m3 0h1m2 0h1m8 0h1m16 0h1m3 0h1m-431 1h1m16 0h1m3 0h1m-1 0h1m3 0h1m3 0h1m4 0h1m4 0h1m12 0h1m7 0h1m0 0h1m1 0h1m-1 0h1m-1 0h1m-1 0h1m2 0h1m0 0h1m4 0h1m1 0h1m0 0h1m3 0h1m1 0h1m4 0h1m4 0h1m0 0h1m0 0h1m3 0h1m4 0h1m1 0h1m-1 0h1m3 0h1m1 0h1m-1 0h1m0 0h1m0 0h1m1 0h1m-1 0h1m1 0h1m3 0h1m-1 0h1m1 0h1m4 0h1m0 0h1m-1 0h1m2 0h1m0 0h1m9 0h1m4 0h1m3 0h1m-1 0h1m0 0h1m1 0h1m0 0h1m0 0h1m-1 0h1m-1 0h1m4 0h1m7 0h1m4 0h1m2 0h1m5 0h1m0 0h1m10 0h1m1 0h1m0 0h1m0 0h1m1 0h1m2 0h1m-1 0h1m3 0h1m-1 0h1m0 0h1m17 0h1m3 0h1m1 0h1m1 0h1m0 0h1m0 0h1m-1 0h1m2 0h1m2 0h1m5 0h1m4 0h1m0 0h1m2 0h1m-1 0h1m8 0h1m0 0h1m3 0h1m25 0h1m7 0h1m1 0h1m5 0h1m28 0h1m11 0h1m5 0h1m1 0h1m10 0h1m3 0h1m16 0h1m8 0h1m6 0h1m14 0h1m13 0h1m-438 1h1m10 0h1m8 0h1m10 0h1m1 0h1m10 0h1m4 0h1m2 0h1m-1 0h1m2 0h1m-1 0h1m-1 0h1m5 0h1m0 0h1m1 0h1m0 0h1m2 0h1m0 0h1m0 0h1m0 0h1m-1 0h1m0 0h1m1 0h1m6 0h1m1 0h1m9 0h1m4 0h1m0 0h1m-1 0h1m6 0h1m1 0h1m1 0h1m1 0h1m1 0h1m3 0h1m0 0h1m1 0h1m1 0h1m-1 0h1m6 0h1m2 0h1m0 0h1m2 0h1m-1 0h1m1 0h1m0 0h1m0 0h1m3 0h1m1 0h1m0 0h1m3 0h1m2 0h1m1 0h1m1 0h1m1 0h1m0 0h1m-1 0h1m0 0h1m2 0h1m0 0h1m1 0h1m0 0h1m3 0h1m1 0h1m4 0h1m4 0h1m1 0h1m10 0h1m0 0h1m5 0h1m-1 0h1m21 0h1m4 0h1m5 0h1m3 0h1m9 0h1m4 0h1m0 0h1m9 0h1m6 0h1m9 0h1m2 0h1m9 0h1m0 0h1m2 0h1m26 0h1m0 0h1m5 0h1m-1 0h1m5 0h1m9 0h1m9 0h1m0 0h1m2 0h1m5 0h1m0 0h1m15 0h1m1 0h1m3 0h1m3 0h1m32 0h1m-431 1h1m9 0h1m15 0h1m1 0h1m7 0h1m7 0h1m5 0h1m0 0h1m9 0h1m0 0h1m8 0h1m0 0h1m0 0h1m-1 0h1m0 0h1m3 0h1m-1 0h1m0 0h1m6 0h1m-1 0h1m0 0h1m0 0h1m2 0h1m-1 0h1m2 0h1m0 0h1m2 0h1m0 0h1m-1 0h1m1 0h1m0 0h1m1 0h1m0 0h1m5 0h1m1 0h1m4 0h1m1 0h1m6 0h1m0 0h1m0 0h1m1 0h1m8 0h1m4 0h1m1 0h1m1 0h1m9 0h1m0 0h1m2 0h1m1 0h1m0 0h1m5 0h1m9 0h1m1 0h1m1 0h1m2 0h1m3 0h1m22 0h1m0 0h1m7 0h1m9 0h1m2 0h1m1 0h1m3 0h1m3 0h1m2 0h1m0 0h1m24 0h1m-1 0h1m1 0h1m1 0h1m-1 0h1m2 0h1m5 0h1m4 0h1m27 0h1m0 0h1m2 0h1m0 0h1m7 0h1m2 0h1m11 0h1m-1 0h1m1 0h1m8 0h1m3 0h1m0 0h1m-1 0h1m0 0h1m0 0h1m-1 0h1m3 0h1m2 0h1m0 0h1m11 0h1m0 0h1m1 0h1m5 0h1m4 0h1m6 0h1m2 0h1m7 0h1m5 0h1m-418 1h1m8 0h1m6 0h1m0 0h1m12 0h1m5 0h1m1 0h1m2 0h1m2 0h1m10 0h1m1 0h1m1 0h1m0 0h1m2 0h1m3 0h1m2 0h1m1 0h1m2 0h1m0 0h1m10 0h1m4 0h1m3 0h1m5 0h1m1 0h1m2 0h1m3 0h1m1 0h1m0 0h1m1 0h1m7 0h1m0 0h1m0 0h1m3 0h1m0 0h1m1 0h1m-1 0h1m1 0h1m0 0h1m0 0h1m-1 0h1m1 0h1m6 0h1m3 0h1m3 0h1m1 0h1m14 0h1m3 0h1m7 0h1m1 0h1m0 0h1m0 0h1m2 0h1m1 0h1m6 0h1m2 0h1m7 0h1m5 0h1m3 0h1m-1 0h1m1 0h1m-1 0h1m17 0h1m-1 0h1m4 0h1m4 0h1m5 0h1m-1 0h1m4 0h1m3 0h1m13 0h1m5 0h1m1 0h1m0 0h1m6 0h1m3 0h1m2 0h1m8 0h1m28 0h1m9 0h1m8 0h1m2 0h1m9 0h1m1 0h1m8 0h1m1 0h1m4 0h1m-396 1h1m3 0h1m0 0h1m1 0h1m12 0h1m0 0h1m13 0h1m1 0h1m0 0h1m3 0h1m0 0h1m0 0h1m8 0h1m0 0h1m-1 0h1m2 0h1m2 0h1m1 0h1m1 0h1m1 0h1m2 0h1m8 0h1m-1 0h1m1 0h1m3 0h1m2 0h1m-1 0h1m0 0h1m10 0h1m-1 0h1m2 0h1m1 0h1m-1 0h1m12 0h1m2 0h1m-1 0h1m1 0h1m2 0h1m16 0h1m2 0h1m3 0h1m1 0h1m3 0h1m3 0h1m13 0h1m5 0h1m-1 0h1m7 0h1m-1 0h1m6 0h1m0 0h1m5 0h1m3 0h1m13 0h1m6 0h1m0 0h1m9 0h1m-1 0h1m0 0h1m0 0h1m8 0h1m17 0h1m4 0h1m3 0h1m0 0h1m11 0h1m3 0h1m23 0h1m1 0h1m6 0h1m14 0h1m2 0h1m5 0h1m1 0h1m11 0h1m-1 0h1m15 0h1m-1 0h1m21 0h1m-429 1h1m4 0h1m11 0h1m3 0h1m5 0h1m1 0h1m1 0h1m1 0h1m1 0h1m20 0h1m2 0h1m0 0h1m4 0h1m2 0h1m3 0h1m2 0h1m0 0h1m1 0h1m-1 0h1m4 0h1m0 0h1m2 0h1m1 0h1m0 0h1m-1 0h1m4 0h1m-1 0h1m11 0h1m3 0h1m7 0h1m0 0h1m0 0h1m6 0h1m-1 0h1m-1 0h1m1 0h1m1 0h1m0 0h1m2 0h1m3 0h1m0 0h1m4 0h1m2 0h1m2 0h1m2 0h1m3 0h1m6 0h1m0 0h1m1 0h1m1 0h1m3 0h1m3 0h1m7 0h1m0 0h1m10 0h1m7 0h1m1 0h1m3 0h1m1 0h1m0 0h1m0 0h1m5 0h1m5 0h1m1 0h1m11 0h1m2 0h1m7 0h1m-1 0h1m3 0h1m2 0h1m2 0h1m0 0h1m1 0h1m0 0h1m-1 0h1m-1 0h1m3 0h1m3 0h1m14 0h1m13 0h1m5 0h1m-1 0h1m3 0h1m2 0h1m0 0h1m11 0h1m8 0h1m0 0h1m12 0h1m5 0h1m1 0h1m1 0h1m0 0h1m0 0h1m2 0h1m0 0h1m4 0h1m13 0h1m5 0h1m7 0h1m9 0h1m1 0h1m0 0h1m0 0h1m4 0h1m-1 0h1m3 0h1m3 0h1m-421 1h1m18 0h1m0 0h1m3 0h1m2 0h1m10 0h1m5 0h1m2 0h1m1 0h1m5 0h1m4 0h1m0 0h1m0 0h1m1 0h1m0 0h1m-1 0h1m-1 0h1m2 0h1m-1 0h1m0 0h1m2 0h1m0 0h1m5 0h1m1 0h1m1 0h1m1 0h1m-1 0h1m-1 0h1m13 0h1m0 0h1m1 0h1m0 0h1m0 0h1m3 0h1m0 0h1m0 0h1m0 0h1m2 0h1m3 0h1m0 0h1m1 0h1m0 0h1m2 0h1m1 0h1m0 0h1m2 0h1m-1 0h1m1 0h1m-1 0h1m0 0h1m1 0h1m3 0h1m0 0h1m1 0h1m0 0h1m-1 0h1m0 0h1m4 0h1m3 0h1m1 0h1m1 0h1m-1 0h1m2 0h1m1 0h1m2 0h1m11 0h1m8 0h1m0 0h1m3 0h1m5 0h1m0 0h1m6 0h1m24 0h1m5 0h1m-1 0h1m0 0h1m0 0h1m3 0h1m1 0h1m0 0h1m18 0h1m5 0h1m0 0h1m17 0h1m0 0h1m-1 0h1m4 0h1m3 0h1m8 0h1m4 0h1m4 0h1m14 0h1m14 0h1m3 0h1m5 0h1m8 0h1m18 0h1m6 0h1m2 0h1m12 0h1m3 0h1m27 0h1m-431 1h1m1 0h1m5 0h1m1 0h1m2 0h1m2 0h1m-1 0h1m0 0h1m3 0h1m7 0h1m11 0h1m0 0h1m1 0h1m-1 0h1m3 0h1m2 0h1m-1 0h1m4 0h1m1 0h1m2 0h1m4 0h1m2 0h1m2 0h1m-1 0h1m-1 0h1m1 0h1m-1 0h1m7 0h1m0 0h1m2 0h1m4 0h1m-1 0h1m12 0h1m3 0h1m0 0h1m5 0h1m0 0h1m4 0h1m-1 0h1m0 0h1m-1 0h1m3 0h1m-1 0h1m0 0h1m1 0h1m2 0h1m5 0h1m0 0h1m11 0h1m17 0h1m2 0h1m0 0h1m3 0h1m1 0h1m2 0h1m1 0h1m3 0h1m2 0h1m1 0h1m1 0h1m1 0h1m1 0h1m0 0h1m3 0h1m10 0h1m9 0h1m0 0h1m0 0h1m2 0h1m-1 0h1m6 0h1m1 0h1m2 0h1m1 0h1m1 0h1m4 0h1m0 0h1m1 0h1m2 0h1m10 0h1m11 0h1m28 0h1m-1 0h1m4 0h1m0 0h1m2 0h1m0 0h1m0 0h1m16 0h1m5 0h1m1 0h1m8 0h1m2 0h1m-1 0h1m0 0h1m-1 0h1m7 0h1m1 0h1m1 0h1m3 0h1m-1 0h1m1 0h1m0 0h1m5 0h1m1 0h1m0 0h1m12 0h1m9 0h1m18 0h1m1 0h1m-451 1h1m8 0h1m7 0h1m7 0h1m15 0h1m8 0h1m5 0h1m3 0h1m-1 0h1m0 0h1m8 0h1m0 0h1m1 0h1m-1 0h1m3 0h1m1 0h1m4 0h1m3 0h1m0 0h1m4 0h1m7 0h1m0 0h1m0 0h1m8 0h1m-1 0h1m4 0h1m6 0h1m2 0h1m-1 0h1m3 0h1m0 0h1m0 0h1m1 0h1m3 0h1m1 0h1m3 0h1m-1 0h1m0 0h1m2 0h1m-1 0h1m2 0h1m4 0h1m-1 0h1m4 0h1m3 0h1m2 0h1m0 0h1m0 0h1m7 0h1m1 0h1m2 0h1m4 0h1m0 0h1m7 0h1m5 0h1m-1 0h1m10 0h1m4 0h1m2 0h1m11 0h1m5 0h1m-1 0h1m14 0h1m5 0h1m11 0h1m7 0h1m4 0h1m9 0h1m0 0h1m0 0h1m0 0h1m23 0h1m3 0h1m2 0h1m5 0h1m17 0h1m22 0h1m-1 0h1m6 0h1m1 0h1m10 0h1m3 0h1m5 0h1m4 0h1m6 0h1m2 0h1m8 0h1m40 0h1m-456 1h1m11 0h1m2 0h1m3 0h1m4 0h1m14 0h1m4 0h1m1 0h1m7 0h1m-1 0h1m0 0h1m6 0h1m-1 0h1m2 0h1m1 0h1m-1 0h1m1 0h1m1 0h1m1 0h1m2 0h1m0 0h1m0 0h1m1 0h1m-1 0h1m2 0h1m1 0h1m1 0h1m-1 0h1m0 0h1m3 0h1m3 0h1m1 0h1m2 0h1m4 0h1m9 0h1m1 0h1m2 0h1m4 0h1m2 0h1m1 0h1m2 0h1m0 0h1m-1 0h1m0 0h1m1 0h1m9 0h1m1 0h1m2 0h1m5 0h1m6 0h1m9 0h1m0 0h1m-1 0h1m3 0h1m-1 0h1m2 0h1m1 0h1m1 0h1m0 0h1m0 0h1m0 0h1m0 0h1m8 0h1m2 0h1m18 0h1m5 0h1m3 0h1m0 0h1m0 0h1m1 0h1m1 0h1m3 0h1m21 0h1m-1 0h1m10 0h1m3 0h1m11 0h1m4 0h1m0 0h1m4 0h1m7 0h1m2 0h1m-1 0h1m6 0h1m5 0h1m16 0h1m6 0h1m0 0h1m0 0h1m6 0h1m0 0h1m3 0h1m12 0h1m6 0h1m2 0h1m5 0h1m4 0h1m0 0h1m1 0h1m14 0h1m16 0h1m-434 1h1m2 0h1m10 0h1m13 0h1m4 0h1m5 0h1m3 0h1m0 0h1m1 0h1m1 0h1m5 0h1m3 0h1m-1 0h1m2 0h1m3 0h1m3 0h1m-1 0h1m1 0h1m0 0h1m0 0h1m-1 0h1m-1 0h1m1 0h1m3 0h1m2 0h1m0 0h1m7 0h1m0 0h1m1 0h1m3 0h1m2 0h1m2 0h1m3 0h1m1 0h1m4 0h1m7 0h1m4 0h1m6 0h1m15 0h1m14 0h1m1 0h1m0 0h1m1 0h1m2 0h1m11 0h1m-1 0h1m5 0h1m3 0h1m13 0h1m1 0h1m3 0h1m6 0h1m8 0h1m0 0h1m-1 0h1m7 0h1m0 0h1m3 0h1m17 0h1m0 0h1m3 0h1m3 0h1m5 0h1m11 0h1m13 0h1m1 0h1m12 0h1m0 0h1m28 0h1m7 0h1m0 0h1m1 0h1m2 0h1m4 0h1m7 0h1m2 0h1m6 0h1m4 0h1m8 0h1m2 0h1m0 0h1m3 0h1m1 0h1m3 0h1m7 0h1m-442 1h1m6 0h1m1 0h1m21 0h1m2 0h1m4 0h1m12 0h1m2 0h1m0 0h1m1 0h1m-1 0h1m4 0h1m-1 0h1m4 0h1m2 0h1m2 0h1m-1 0h1m1 0h1m1 0h1m2 0h1m1 0h1m5 0h1m-1 0h1m2 0h1m0 0h1m1 0h1m9 0h1m1 0h1m0 0h1m2 0h1m3 0h1m-1 0h1m-1 0h1m1 0h1m0 0h1m4 0h1m0 0h1m2 0h1m21 0h1m2 0h1m0 0h1m3 0h1m6 0h1m1 0h1m0 0h1m3 0h1m2 0h1m1 0h1m2 0h1m0 0h1m1 0h1m-1 0h1m5 0h1m7 0h1m4 0h1m4 0h1m5 0h1m4 0h1m4 0h1m3 0h1m3 0h1m2 0h1m1 0h1m3 0h1m2 0h1m0 0h1m10 0h1m5 0h1m3 0h1m1 0h1m0 0h1m4 0h1m19 0h1m5 0h1m19 0h1m3 0h1m0 0h1m15 0h1m5 0h1m2 0h1m22 0h1m0 0h1m3 0h1m1 0h1m7 0h1m0 0h1m2 0h1m17 0h1m8 0h1m2 0h1m0 0h1m1 0h1m18 0h1m-438 1h1m4 0h1m6 0h1m8 0h1m0 0h1m4 0h1m10 0h1m1 0h1m0 0h1m2 0h1m1 0h1m4 0h1m-1 0h1m3 0h1m3 0h1m0 0h1m-1 0h1m1 0h1m2 0h1m-1 0h1m3 0h1m0 0h1m0 0h1m0 0h1m-1 0h1m0 0h1m0 0h1m2 0h1m6 0h1m-1 0h1m0 0h1m-1 0h1m5 0h1m2 0h1m2 0h1m0 0h1m-1 0h1m4 0h1m0 0h1m1 0h1m2 0h1m6 0h1m0 0h1m2 0h1m0 0h1m4 0h1m0 0h1m3 0h1m2 0h1m-1 0h1m1 0h1m0 0h1m9 0h1m0 0h1m16 0h1m2 0h1m3 0h1m1 0h1m-1 0h1m-1 0h1m-1 0h1m4 0h1m1 0h1m0 0h1m0 0h1m4 0h1m1 0h1m5 0h1m-1 0h1m1 0h1m-1 0h1m15 0h1m7 0h1m6 0h1m5 0h1m1 0h1m2 0h1m10 0h1m18 0h1m3 0h1m12 0h1m-1 0h1m0 0h1m8 0h1m-1 0h1m4 0h1m-1 0h1m35 0h1m25 0h1m2 0h1m4 0h1m7 0h1m14 0h1m6 0h1m14 0h1m-1 0h1m6 0h1m-426 1h1m14 0h1m1 0h1m12 0h1m6 0h1m1 0h1m0 0h1m-1 0h1m2 0h1m8 0h1m2 0h1m0 0h1m8 0h1m0 0h1m1 0h1m2 0h1m1 0h1m3 0h1m0 0h1m0 0h1m1 0h1m1 0h1m1 0h1m0 0h1m1 0h1m1 0h1m6 0h1m1 0h1m3 0h1m1 0h1m10 0h1m2 0h1m0 0h1m2 0h1m2 0h1m6 0h1m1 0h1m3 0h1m-1 0h1m12 0h1m4 0h1m2 0h1m17 0h1m1 0h1m-1 0h1m0 0h1m15 0h1m-1 0h1m1 0h1m6 0h1m2 0h1m2 0h1m-1 0h1m0 0h1m18 0h1m9 0h1m0 0h1m3 0h1m9 0h1m7 0h1m-1 0h1m13 0h1m-1 0h1m1 0h1m13 0h1m-1 0h1m4 0h1m2 0h1m3 0h1m0 0h1m21 0h1m2 0h1m6 0h1m7 0h1m17 0h1m0 0h1m4 0h1m1 0h1m1 0h1m0 0h1m7 0h1m0 0h1m2 0h1m3 0h1m1 0h1m-1 0h1m1 0h1m1 0h1m1 0h1m14 0h1m4 0h1m0 0h1m4 0h1m-424 1h1m18 0h1m0 0h1m1 0h1m6 0h1m0 0h1m15 0h1m5 0h1m1 0h1m-1 0h1m2 0h1m3 0h1m0 0h1m0 0h1m0 0h1m0 0h1m2 0h1m0 0h1m5 0h1m-1 0h1m1 0h1m7 0h1m1 0h1m-1 0h1m0 0h1m1 0h1m1 0h1m0 0h1m4 0h1m4 0h1m-1 0h1m1 0h1m3 0h1m0 0h1m10 0h1m4 0h1m-1 0h1m7 0h1m1 0h1m9 0h1m2 0h1m1 0h1m6 0h1m0 0h1m3 0h1m9 0h1m1 0h1m2 0h1m6 0h1m1 0h1m-1 0h1m0 0h1m4 0h1m-1 0h1m0 0h1m3 0h1m9 0h1m13 0h1m1 0h1m-1 0h1m4 0h1m1 0h1m1 0h1m0 0h1m1 0h1m5 0h1m1 0h1m4 0h1m8 0h1m6 0h1m4 0h1m11 0h1m1 0h1m1 0h1m11 0h1m5 0h1m20 0h1m8 0h1m1 0h1m3 0h1m1 0h1m21 0h1m6 0h1m2 0h1m8 0h1m0 0h1m2 0h1m2 0h1m3 0h1m16 0h1m8 0h1m-400 1h1m9 0h1m3 0h1m3 0h1m5 0h1m2 0h1m2 0h1m0 0h1m3 0h1m4 0h1m-1 0h1m1 0h1m1 0h1m-1 0h1m0 0h1m1 0h1m-1 0h1m0 0h1m0 0h1m0 0h1m-1 0h1m2 0h1m-1 0h1m0 0h1m11 0h1m1 0h1m-1 0h1m2 0h1m3 0h1m8 0h1m2 0h1m4 0h1m4 0h1m0 0h1m10 0h1m0 0h1m2 0h1m2 0h1m1 0h1m-1 0h1m13 0h1m4 0h1m-1 0h1m1 0h1m2 0h1m1 0h1m3 0h1m-1 0h1m3 0h1m4 0h1m2 0h1m5 0h1m0 0h1m10 0h1m3 0h1m5 0h1m5 0h1m0 0h1m1 0h1m1 0h1m6 0h1m0 0h1m5 0h1m0 0h1m5 0h1m36 0h1m1 0h1m6 0h1m2 0h1m4 0h1m10 0h1m0 0h1m23 0h1m5 0h1m1 0h1m2 0h1m0 0h1m1 0h1m3 0h1m9 0h1m5 0h1m-1 0h1m-1 0h1m8 0h1m9 0h1m0 0h1m6 0h1m0 0h1m8 0h1m16 0h1m0 0h1m-402 1h1m1 0h1m18 0h1m1 0h1m0 0h1m7 0h1m1 0h1m-1 0h1m0 0h1m0 0h1m1 0h1m2 0h1m4 0h1m3 0h1m0 0h1m0 0h1m-1 0h1m10 0h1m0 0h1m0 0h1m1 0h1m9 0h1m0 0h1m1 0h1m3 0h1m1 0h1m0 0h1m1 0h1m7 0h1m0 0h1m35 0h1m5 0h1m7 0h1m0 0h1m2 0h1m0 0h1m5 0h1m0 0h1m-1 0h1m6 0h1m0 0h1m3 0h1m2 0h1m0 0h1m24 0h1m-1 0h1m1 0h1m-1 0h1m6 0h1m1 0h1m-1 0h1m1 0h1m3 0h1m8 0h1m2 0h1m0 0h1m20 0h1m5 0h1m2 0h1m4 0h1m5 0h1m0 0h1m4 0h1m10 0h1m-1 0h1m1 0h1m7 0h1m4 0h1m-1 0h1m3 0h1m6 0h1m4 0h1m1 0h1m3 0h1m4 0h1m3 0h1m7 0h1m7 0h1m7 0h1m2 0h1m5 0h1m2 0h1m7 0h1m5 0h1m-410 1h1m1 0h1m8 0h1m0 0h1m5 0h1m-1 0h1m24 0h1m9 0h1m1 0h1m0 0h1m1 0h1m3 0h1m0 0h1m0 0h1m0 0h1m1 0h1m0 0h1m-1 0h1m2 0h1m1 0h1m12 0h1m5 0h1m0 0h1m2 0h1m-1 0h1m1 0h1m12 0h1m23 0h1m2 0h1m-1 0h1m35 0h1m15 0h1m14 0h1m0 0h1m0 0h1m1 0h1m3 0h1m10 0h1m6 0h1m10 0h1m2 0h1m1 0h1m2 0h1m6 0h1m4 0h1m24 0h1m17 0h1m6 0h1m1 0h1m8 0h1m6 0h1m-1 0h1m1 0h1m2 0h1m7 0h1m0 0h1m-1 0h1m4 0h1m10 0h1m13 0h1m4 0h1m1 0h1m18 0h1m1 0h1m13 0h1m-396 1h1m9 0h1m11 0h1m0 0h1m9 0h1m0 0h1m0 0h1m0 0h1m1 0h1m4 0h1m0 0h1m-1 0h1m0 0h1m-1 0h1m1 0h1m1 0h1m-1 0h1m-1 0h1m1 0h1m-1 0h1m1 0h1m1 0h1m0 0h1m-1 0h1m0 0h1m9 0h1m2 0h1m1 0h1m1 0h1m5 0h1m8 0h1m7 0h1m14 0h1m8 0h1m10 0h1m17 0h1m4 0h1m0 0h1m1 0h1m-1 0h1m11 0h1m2 0h1m1 0h1m0 0h1m5 0h1m1 0h1m5 0h1m23 0h1m-1 0h1m2 0h1m4 0h1m9 0h1m12 0h1m5 0h1m9 0h1m4 0h1m0 0h1m1 0h1m2 0h1m3 0h1m1 0h1m2 0h1m3 0h1m12 0h1m8 0h1m11 0h1m6 0h1m13 0h1m8 0h1m-1 0h1m3 0h1m13 0h1m22 0h1m2 0h1m8 0h1m5 0h1m-422 1h1m0 0h1m8 0h1m7 0h1m1 0h1m2 0h1m1 0h1m9 0h1m0 0h1m1 0h1m0 0h1m-1 0h1m6 0h1m4 0h1m1 0h1m4 0h1m-1 0h1m3 0h1m0 0h1m1 0h1m0 0h1m-1 0h1m0 0h1m5 0h1m0 0h1m-1 0h1m-1 0h1m3 0h1m1 0h1m5 0h1m6 0h1m7 0h1m1 0h1m0 0h1m-1 0h1m3 0h1m1 0h1m25 0h1m-1 0h1m4 0h1m23 0h1m9 0h1m2 0h1m3 0h1m8 0h1m1 0h1m11 0h1m3 0h1m3 0h1m2 0h1m0 0h1m17 0h1m3 0h1m2 0h1m1 0h1m2 0h1m3 0h1m2 0h1m5 0h1m8 0h1m3 0h1m10 0h1m2 0h1m4 0h1m4 0h1m2 0h1m0 0h1m17 0h1m7 0h1m3 0h1m16 0h1m9 0h1m8 0h1m5 0h1m4 0h1m-1 0h1m0 0h1m12 0h1m2 0h1m4 0h1m5 0h1m-396 1h1m5 0h1m10 0h1m6 0h1m1 0h1m-1 0h1m7 0h1m3 0h1m-1 0h1m0 0h1m0 0h1m0 0h1m2 0h1m5 0h1m-1 0h1m4 0h1m-1 0h1m-1 0h1m0 0h1m1 0h1m-1 0h1m1 0h1m11 0h1m-1 0h1m0 0h1m1 0h1m4 0h1m6 0h1m3 0h1m1 0h1m6 0h1m1 0h1m4 0h1m20 0h1m0 0h1m3 0h1m14 0h1m8 0h1m5 0h1m3 0h1m2 0h1m3 0h1m2 0h1m2 0h1m4 0h1m27 0h1m3 0h1m7 0h1m0 0h1m1 0h1m0 0h1m4 0h1m39 0h1m10 0h1m9 0h1m4 0h1m6 0h1m2 0h1m0 0h1m-1 0h1m1 0h1m3 0h1m0 0h1m0 0h1m0 0h1m4 0h1m2 0h1m8 0h1m16 0h1m9 0h1m6 0h1m-1 0h1m1 0h1m4 0h1m0 0h1m9 0h1m4 0h1m7 0h1m8 0h1m-1 0h1m2 0h1m-428 1h1m6 0h1m0 0h1m-1 0h1m0 0h1m3 0h1m1 0h1m1 0h1m-1 0h1m7 0h1m20 0h1m1 0h1m11 0h1m2 0h1m1 0h1m0 0h1m1 0h1m3 0h1m5 0h1m2 0h1m0 0h1m1 0h1m13 0h1m2 0h1m3 0h1m10 0h1m7 0h1m9 0h1m0 0h1m2 0h1m4 0h1m5 0h1m4 0h1m0 0h1m-1 0h1m2 0h1m2 0h1m4 0h1m4 0h1m1 0h1m4 0h1m1 0h1m2 0h1m22 0h1m6 0h1m8 0h1m5 0h1m1 0h1m1 0h1m5 0h1m0 0h1m0 0h1m1 0h1m2 0h1m7 0h1m18 0h1m0 0h1m12 0h1m4 0h1m1 0h1m1 0h1m0 0h1m5 0h1m1 0h1m4 0h1m9 0h1m3 0h1m1 0h1m2 0h1m1 0h1m7 0h1m-1 0h1m8 0h1m9 0h1m5 0h1m7 0h1m5 0h1m0 0h1m1 0h1m3 0h1m40 0h1m2 0h1m10 0h1m-443 1h1m6 0h1m16 0h1m2 0h1m2 0h1m13 0h1m1 0h1m5 0h1m3 0h1m0 0h1m0 0h1m0 0h1m2 0h1m0 0h1m-1 0h1m3 0h1m0 0h1m1 0h1m4 0h1m0 0h1m0 0h1m-1 0h1m4 0h1m3 0h1m2 0h1m2 0h1m0 0h1m6 0h1m2 0h1m12 0h1m-1 0h1m1 0h1m5 0h1m2 0h1m1 0h1m7 0h1m11 0h1m7 0h1m5 0h1m17 0h1m13 0h1m3 0h1m0 0h1m9 0h1m5 0h1m9 0h1m3 0h1m-1 0h1m9 0h1m24 0h1m12 0h1m2 0h1m0 0h1m8 0h1m16 0h1m57 0h1m26 0h1m11 0h1m4 0h1m-412 1h1m0 0h1m6 0h1m3 0h1m-1 0h1m7 0h1m11 0h1m1 0h1m1 0h1m17 0h1m3 0h1m2 0h1m2 0h1m-1 0h1m0 0h1m0 0h1m-1 0h1m0 0h1m0 0h1m6 0h1m13 0h1m0 0h1m-1 0h1m10 0h1m0 0h1m1 0h1m9 0h1m0 0h1m2 0h1m7 0h1m1 0h1m5 0h1m4 0h1m13 0h1m2 0h1m-1 0h1m6 0h1m18 0h1m2 0h1m11 0h1m-1 0h1m7 0h1m4 0h1m5 0h1m7 0h1m-1 0h1m11 0h1m1 0h1m7 0h1m5 0h1m1 0h1m-1 0h1m5 0h1m5 0h1m1 0h1m33 0h1m8 0h1m7 0h1m13 0h1m9 0h1m1 0h1m2 0h1m10 0h1m1 0h1m0 0h1m13 0h1m4 0h1m0 0h1m-1 0h1m-1 0h1m7 0h1m3 0h1m-1 0h1m19 0h1m12 0h1m9 0h1m-434 1h1m1 0h1m9 0h1m-1 0h1m0 0h1m3 0h1m7 0h1m3 0h1m0 0h1m16 0h1m10 0h1m-1 0h1m4 0h1m-1 0h1m3 0h1m2 0h1m-1 0h1m1 0h1m0 0h1m3 0h1m1 0h1m0 0h1m3 0h1m-1 0h1m33 0h1m5 0h1m2 0h1m19 0h1m4 0h1m-1 0h1m38 0h1m0 0h1m0 0h1m15 0h1m-1 0h1m2 0h1m8 0h1m14 0h1m4 0h1m0 0h1m23 0h1m3 0h1m1 0h1m1 0h1m1 0h1m1 0h1m4 0h1m7 0h1m4 0h1m29 0h1m6 0h1m16 0h1m3 0h1m0 0h1m12 0h1m5 0h1m16 0h1m0 0h1m1 0h1m-1 0h1m15 0h1m11 0h1m-419 1h1m8 0h1m1 0h1m0 0h1m12 0h1m12 0h1m2 0h1m0 0h1m9 0h1m3 0h1m1 0h1m1 0h1m10 0h1m-1 0h1m12 0h1m0 0h1m7 0h1m3 0h1m2 0h1m5 0h1m10 0h1m0 0h1m-1 0h1m9 0h1m15 0h1m1 0h1m13 0h1m26 0h1m-1 0h1m3 0h1m14 0h1m4 0h1m13 0h1m0 0h1m7 0h1m-1 0h1m1 0h1m1 0h1m4 0h1m2 0h1m2 0h1m4 0h1m16 0h1m4 0h1m15 0h1m14 0h1m15 0h1m6 0h1m16 0h1m4 0h1m-1 0h1m15 0h1m12 0h1m-1 0h1m4 0h1m0 0h1m3 0h1m22 0h1m-430 1h1m9 0h1m30 0h1m5 0h1m4 0h1m0 0h1m7 0h1m1 0h1m1 0h1m0 0h1m3 0h1m0 0h1m0 0h1m10 0h1m1 0h1m-1 0h1m7 0h1m14 0h1m5 0h1m13 0h1m11 0h1m5 0h1m2 0h1m13 0h1m2 0h1m9 0h1m0 0h1m-1 0h1m20 0h1m8 0h1m4 0h1m1 0h1m34 0h1m5 0h1m2 0h1m24 0h1m3 0h1m0 0h1m28 0h1m7 0h1m20 0h1m2 0h1m3 0h1m10 0h1m4 0h1m0 0h1m0 0h1m7 0h1m0 0h1m6 0h1m-1 0h1m9 0h1m-1 0h1m2 0h1m1 0h1m35 0h1m-428 1h1m19 0h1m1 0h1m3 0h1m3 0h1m0 0h1m1 0h1m8 0h1m5 0h1m4 0h1m9 0h1m1 0h1m5 0h1m5 0h1m0 0h1m1 0h1m8 0h1m4 0h1m0 0h1m0 0h1m0 0h1m1 0h1m-1 0h1m0 0h1m2 0h1m29 0h1m0 0h1m1 0h1m7 0h1m-1 0h1m5 0h1m5 0h1m10 0h1m4 0h1m1 0h1m7 0h1m3 0h1m11 0h1m11 0h1m5 0h1m11 0h1m5 0h1m1 0h1m0 0h1m0 0h1m-1 0h1m10 0h1m22 0h1m4 0h1m36 0h1m10 0h1m3 0h1m4 0h1m0 0h1m15 0h1m-1 0h1m26 0h1m12 0h1m0 0h1m0 0h1m5 0h1m1 0h1m16 0h1m-420 1h1m3 0h1m9 0h1m8 0h1m10 0h1m14 0h1m2 0h1m3 0h1m7 0h1m-1 0h1m0 0h1m-1 0h1m0 0h1m3 0h1m1 0h1m2 0h1m0 0h1m5 0h1m-1 0h1m12 0h1m-1 0h1m-1 0h1m9 0h1m3 0h1m4 0h1m0 0h1m12 0h1m4 0h1m4 0h1m-1 0h1m0 0h1m8 0h1m5 0h1m9 0h1m3 0h1m14 0h1m4 0h1m8 0h1m0 0h1m18 0h1m9 0h1m5 0h1m-1 0h1m25 0h1m6 0h1m-1 0h1m2 0h1m19 0h1m2 0h1m10 0h1m3 0h1m5 0h1m4 0h1m3 0h1m6 0h1m16 0h1m2 0h1m-1 0h1m1 0h1m1 0h1m21 0h1m0 0h1m6 0h1m1 0h1m0 0h1m1 0h1m1 0h1m31 0h1m-410 1h1m2 0h1m5 0h1m1 0h1m5 0h1m1 0h1m0 0h1m0 0h1m10 0h1m0 0h1m25 0h1m2 0h1m7 0h1m8 0h1m13 0h1m2 0h1m27 0h1m3 0h1m12 0h1m10 0h1m0 0h1m13 0h1m3 0h1m11 0h1m13 0h1m2 0h1m-1 0h1m4 0h1m9 0h1m0 0h1m12 0h1m1 0h1m7 0h1m5 0h1m1 0h1m3 0h1m3 0h1m5 0h1m24 0h1m8 0h1m8 0h1m10 0h1m5 0h1m13 0h1m6 0h1m1 0h1m4 0h1m7 0h1m2 0h1m-1 0h1m17 0h1m10 0h1m22 0h1m-438 1h1m24 0h1m3 0h1m3 0h1m2 0h1m22 0h1m2 0h1m8 0h1m6 0h1m2 0h1m4 0h1m2 0h1m3 0h1m5 0h1m1 0h1m4 0h1m5 0h1m4 0h1m0 0h1m10 0h1m1 0h1m1 0h1m35 0h1m1 0h1m23 0h1m7 0h1m0 0h1m18 0h1m7 0h1m-1 0h1m10 0h1m12 0h1m3 0h1m2 0h1m0 0h1m-1 0h1m3 0h1m5 0h1m10 0h1m-1 0h1m2 0h1m1 0h1m20 0h1m14 0h1m11 0h1m6 0h1m4 0h1m9 0h1m8 0h1m5 0h1m1 0h1m7 0h1m1 0h1m0 0h1m19 0h1m9 0h1m-415 1h1m0 0h1m5 0h1m9 0h1m11 0h1m3 0h1m17 0h1m-1 0h1m0 0h1m2 0h1m1 0h1m12 0h1m3 0h1m1 0h1m9 0h1m2 0h1m0 0h1m0 0h1m4 0h1m0 0h1m5 0h1m2 0h1m3 0h1m33 0h1m13 0h1m31 0h1m14 0h1m1 0h1m4 0h1m0 0h1m2 0h1m0 0h1m1 0h1m12 0h1m2 0h1m6 0h1m2 0h1m11 0h1m-1 0h1m10 0h1m1 0h1m0 0h1m16 0h1m1 0h1m11 0h1m2 0h1m6 0h1m18 0h1m0 0h1m6 0h1m0 0h1m-1 0h1m16 0h1m0 0h1m14 0h1m0 0h1m9 0h1m6 0h1m1 0h1m7 0h1m6 0h1m-1 0h1m-405 1h1m21 0h1m10 0h1m0 0h1m0 0h1m6 0h1m12 0h1m2 0h1m2 0h1m6 0h1m13 0h1m14 0h1m4 0h1m0 0h1m32 0h1m1 0h1m0 0h1m0 0h1m0 0h1m5 0h1m10 0h1m3 0h1m7 0h1m0 0h1m0 0h1m2 0h1m26 0h1m24 0h1m4 0h1m14 0h1m17 0h1m2 0h1m-1 0h1m1 0h1m2 0h1m3 0h1m18 0h1m18 0h1m14 0h1m1 0h1m8 0h1m6 0h1m1 0h1m12 0h1m2 0h1m2 0h1m-1 0h1m0 0h1m26 0h1m6 0h1m-1 0h1m1 0h1m-1 0h1m0 0h1m7 0h1m-415 1h1m5 0h1m-1 0h1m2 0h1m12 0h1m9 0h1m7 0h1m1 0h1m6 0h1m5 0h1m1 0h1m19 0h1m6 0h1m0 0h1m0 0h1m1 0h1m6 0h1m-1 0h1m12 0h1m24 0h1m24 0h1m0 0h1m0 0h1m13 0h1m10 0h1m7 0h1m2 0h1m1 0h1m5 0h1m11 0h1m21 0h1m1 0h1m1 0h1m12 0h1m15 0h1m2 0h1m0 0h1m0 0h1m-1 0h1m3 0h1m5 0h1m10 0h1m1 0h1m11 0h1m10 0h1m30 0h1m0 0h1m14 0h1m8 0h1m36 0h1m-426 1h1m1 0h1m5 0h1m15 0h1m1 0h1m39 0h1m5 0h1m5 0h1m4 0h1m52 0h1m0 0h1m18 0h1m9 0h1m6 0h1m-1 0h1m4 0h1m9 0h1m2 0h1m6 0h1m-1 0h1m6 0h1m12 0h1m11 0h1m3 0h1m1 0h1m1 0h1m34 0h1m0 0h1m5 0h1m3 0h1m29 0h1m7 0h1m6 0h1m0 0h1m4 0h1m8 0h1m20 0h1m23 0h1m2 0h1m10 0h1m5 0h1m14 0h1m1 0h1m-426 1h1m26 0h1m1 0h1m12 0h1m1 0h1m4 0h1m6 0h1m8 0h1m18 0h1m1 0h1m5 0h1m6 0h1m0 0h1m10 0h1m12 0h1m23 0h1m8 0h1m6 0h1m8 0h1m20 0h1m2 0h1m0 0h1m4 0h1m-1 0h1m19 0h1m-1 0h1m9 0h1m8 0h1m0 0h1m4 0h1m5 0h1m4 0h1m4 0h1m2 0h1m0 0h1m11 0h1m2 0h1m0 0h1m13 0h1m10 0h1m1 0h1m18 0h1m28 0h1m6 0h1m9 0h1m20 0h1m23 0h1m-405 1h1m7 0h1m7 0h1m8 0h1m12 0h1m32 0h1m2 0h1m0 0h1m1 0h1m2 0h1m0 0h1m-1 0h1m1 0h1m0 0h1m0 0h1m5 0h1m6 0h1m15 0h1m6 0h1m10 0h1m1 0h1m33 0h1m7 0h1m34 0h1m0 0h1m0 0h1m1 0h1m6 0h1m0 0h1m-1 0h1m13 0h1m0 0h1m12 0h1m0 0h1m6 0h1m5 0h1m11 0h1m11 0h1m7 0h1m21 0h1m11 0h1m9 0h1m6 0h1m-1 0h1m15 0h1m15 0h1m16 0h1m-406 1h1m0 0h1m2 0h1m38 0h1m2 0h1m1 0h1m4 0h1m6 0h1m2 0h1m2 0h1m0 0h1m-1 0h1m8 0h1m46 0h1m29 0h1m1 0h1m13 0h1m10 0h1m-1 0h1m8 0h1m4 0h1m7 0h1m7 0h1m4 0h1m4 0h1m0 0h1m2 0h1m6 0h1m4 0h1m11 0h1m20 0h1m-1 0h1m0 0h1m8 0h1m2 0h1m3 0h1m0 0h1m0 0h1m15 0h1m2 0h1m5 0h1m12 0h1m1 0h1m22 0h1m5 0h1m8 0h1m18 0h1m8 0h1m17 0h1m1 0h1m-418 1h1m7 0h1m0 0h1m9 0h1m32 0h1m0 0h1m7 0h1m3 0h1m12 0h1m26 0h1m23 0h1m13 0h1m7 0h1m4 0h1m3 0h1m10 0h1m0 0h1m-1 0h1m29 0h1m0 0h1m7 0h1m9 0h1m0 0h1m-1 0h1m10 0h1m5 0h1m1 0h1m3 0h1m6 0h1m21 0h1m3 0h1m2 0h1m-1 0h1m12 0h1m8 0h1m33 0h1m1 0h1m3 0h1m4 0h1m4 0h1m4 0h1m15 0h1m17 0h1m-376 1h1m13 0h1m2 0h1m12 0h1m6 0h1m24 0h1m6 0h1m26 0h1m32 0h1m-1 0h1m8 0h1m7 0h1m3 0h1m7 0h1m3 0h1m0 0h1m-1 0h1m6 0h1m2 0h1m25 0h1m4 0h1m2 0h1m7 0h1m0 0h1m21 0h1m6 0h1m9 0h1m-1 0h1m0 0h1m2 0h1m24 0h1m3 0h1m7 0h1m3 0h1m0 0h1m2 0h1m6 0h1m3 0h1m52 0h1m10 0h1m-382 1h1m4 0h1m2 0h1m0 0h1m10 0h1m32 0h1m10 0h1m0 0h1m6 0h1m24 0h1m3 0h1m10 0h1m21 0h1m9 0h1m7 0h1m30 0h1m28 0h1m6 0h1m0 0h1m0 0h1m0 0h1m3 0h1m1 0h1m5 0h1m2 0h1m6 0h1m2 0h1m17 0h1m4 0h1m0 0h1m-1 0h1m26 0h1m4 0h1m-1 0h1m32 0h1m50 0h1m3 0h1m2 0h1m-414 1h1m11 0h1m11 0h1m1 0h1m10 0h1m8 0h1m2 0h1m5 0h1m32 0h1m0 0h1m17 0h1m9 0h1m1 0h1m21 0h1m11 0h1m1 0h1m7 0h1m4 0h1m2 0h1m0 0h1m1 0h1m5 0h1m2 0h1m1 0h1m12 0h1m2 0h1m4 0h1m1 0h1m15 0h1m2 0h1m6 0h1m1 0h1m0 0h1m11 0h1m0 0h1m2 0h1m3 0h1m2 0h1m1 0h1m0 0h1m4 0h1m2 0h1m3 0h1m5 0h1m0 0h1m2 0h1m11 0h1m11 0h1m-1 0h1m6 0h1m4 0h1m8 0h1m15 0h1m2 0h1m0 0h1m1 0h1m-1 0h1m4 0h1m24 0h1m2 0h1m0 0h1m8 0h1m11 0h1m-398 1h1m12 0h1m9 0h1m8 0h1m10 0h1m6 0h1m18 0h1m8 0h1m39 0h1m44 0h1m-1 0h1m3 0h1m12 0h1m2 0h1m18 0h1m-1 0h1m2 0h1m13 0h1m9 0h1m6 0h1m13 0h1m8 0h1m5 0h1m10 0h1m3 0h1m11 0h1m10 0h1m4 0h1m4 0h1m6 0h1m7 0h1m10 0h1m21 0h1m28 0h1m-390 1h1m32 0h1m0 0h1m86 0h1m34 0h1m0 0h1m9 0h1m1 0h1m-1 0h1m40 0h1m8 0h1m1 0h1m16 0h1m7 0h1m10 0h1m13 0h1m0 0h1m-1 0h1m6 0h1m2 0h1m4 0h1m8 0h1m-1 0h1m12 0h1m2 0h1m0 0h1m15 0h1m12 0h1m1 0h1m23 0h1m-357 1h1m0 0h1m46 0h1m23 0h1m25 0h1m10 0h1m23 0h1m10 0h1m3 0h1m6 0h1m-1 0h1m12 0h1m1 0h1m-1 0h1m6 0h1m5 0h1m8 0h1m5 0h1m4 0h1m9 0h1m14 0h1m17 0h1m-1 0h1m-1 0h1m0 0h1m1 0h1m28 0h1m13 0h1m3 0h1m5 0h1m18 0h1m18 0h1m42 0h1m-395 1h1m58 0h1m4 0h1m27 0h1m7 0h1m53 0h1m4 0h1m6 0h1m6 0h1m3 0h1m32 0h1m2 0h1m2 0h1m-1 0h1m9 0h1m13 0h1m14 0h1m6 0h1m-1 0h1m9 0h1m8 0h1m2 0h1m10 0h1m3 0h1m1 0h1m2 0h1m1 0h1m0 0h1m4 0h1m2 0h1m8 0h1m1 0h1m9 0h1m0 0h1m4 0h1m3 0h1m43 0h1m-375 1h1m6 0h1m13 0h1m11 0h1m53 0h1m28 0h1m5 0h1m17 0h1m3 0h1m3 0h1m16 0h1m5 0h1m5 0h1m6 0h1m11 0h1m-1 0h1m21 0h1m5 0h1m8 0h1m12 0h1m22 0h1m4 0h1m8 0h1m2 0h1m2 0h1m-1 0h1m1 0h1m3 0h1m13 0h1m24 0h1m22 0h1m-352 1h1m20 0h1m11 0h1m2 0h1m32 0h1m13 0h1m22 0h1m28 0h1m2 0h1m2 0h1m2 0h1m14 0h1m5 0h1m0 0h1m0 0h1m12 0h1m20 0h1m5 0h1m2 0h1m17 0h1m11 0h1m1 0h1m3 0h1m10 0h1m4 0h1m6 0h1m-1 0h1m3 0h1m5 0h1m4 0h1m2 0h1m10 0h1m4 0h1m4 0h1m22 0h1m15 0h1m6 0h1m-1 0h1m2 0h1m-305 1h1m72 0h1m26 0h1m8 0h1m5 0h1m-1 0h1m1 0h1m2 0h1m23 0h1m10 0h1m-1 0h1m4 0h1m6 0h1m0 0h1m2 0h1m0 0h1m1 0h1m6 0h1m3 0h1m2 0h1m4 0h1m0 0h1m1 0h1m23 0h1m1 0h1m17 0h1m2 0h1m0 0h1m31 0h1m13 0h1m-351 1h1m40 0h1m0 0h1m6 0h1m5 0h1m14 0h1m19 0h1m19 0h1m2 0h1m22 0h1m18 0h1m18 0h1m6 0h1m7 0h1m0 0h1m19 0h1m4 0h1m0 0h1m23 0h1m17 0h1m1 0h1m1 0h1m10 0h1m24 0h1m5 0h1m8 0h1m2 0h1m13 0h1m-240 1h1m-1 0h1m63 0h1m2 0h1m20 0h1m11 0h1m17 0h1m39 0h1m2 0h1m3 0h1m0 0h1m1 0h1m43 0h1m7 0h1m2 0h1m0 0h1m1 0h1m34 0h1m0 0h1m4 0h1m-301 1h1m21 0h1m19 0h1m5 0h1m7 0h1m47 0h1m6 0h1m11 0h1m1 0h1m23 0h1m14 0h1m12 0h1m2 0h1m2 0h1m4 0h1m13 0h1m1 0h1m14 0h1m7 0h1m21 0h1m24 0h1m8 0h1m16 0h1m-295 1h1m6 0h1m25 0h1m3 0h1m61 0h1m13 0h1m21 0h1m3 0h1m9 0h1m4 0h1m6 0h1m4 0h1m11 0h1m-1 0h1m8 0h1m1 0h1m2 0h1m2 0h1m1 0h1m2 0h1m5 0h1m15 0h1m0 0h1m6 0h1m25 0h1m12 0h1m7 0h1m3 0h1m-321 1h1m25 0h1m47 0h1m27 0h1m25 0h1m18 0h1m0 0h1m39 0h1m0 0h1m0 0h1m0 0h1m4 0h1m2 0h1m1 0h1m0 0h1m11 0h1m-1 0h1m2 0h1m0 0h1m3 0h1m7 0h1m9 0h1m5 0h1m13 0h1m4 0h1m25 0h1m14 0h1m-268 1h1m23 0h1m14 0h1m32 0h1m8 0h1m10 0h1m41 0h1m9 0h1m7 0h1m4 0h1m1 0h1m0 0h1m-1 0h1m2 0h1m2 0h1m21 0h1m6 0h1m0 0h1m6 0h1m4 0h1m0 0h1m22 0h1m21 0h1m4 0h1m32 0h1m-263 1h1m29 0h1m3 0h1m22 0h1m20 0h1m0 0h1m2 0h1m7 0h1m-1 0h1m11 0h1m12 0h1m1 0h1m4 0h1m-1 0h1m-1 0h1m10 0h1m12 0h1m6 0h1m10 0h1m-1 0h1m3 0h1m17 0h1m6 0h1m5 0h1m7 0h1m21 0h1m15 0h1m4 0h1m0 0h1m-294 1h1m0 0h1m13 0h1m42 0h1m47 0h1m2 0h1m6 0h1m0 0h1m20 0h1m13 0h1m6 0h1m1 0h1m0 0h1m5 0h1m8 0h1m15 0h1m0 0h1m1 0h1m4 0h1m1 0h1m26 0h1m26 0h1m0 0h1m5 0h1m5 0h1m-278 1h1m5 0h1m98 0h1m61 0h1m29 0h1m0 0h1m15 0h1m15 0h1m4 0h1m3 0h1m24 0h1m5 0h1m27 0h1m-274 1h1m69 0h1m17 0h1m17 0h1m32 0h1m17 0h1m18 0h1m37 0h1m3 0h1m12 0h1m-245 1h1m6 0h1m59 0h1m29 0h1m3 0h1m18 0h1m2 0h1m-1 0h1m0 0h1m0 0h1m6 0h1m2 0h1m3 0h1m0 0h1m4 0h1m7 0h1m13 0h1m-1 0h1m19 0h1m4 0h1m1 0h1m2 0h1m2 0h1m7 0h1m10 0h1m9 0h1m8 0h1m-1 0h1m25 0h1m11 0h1m-246 1h1m25 0h1m12 0h1m24 0h1m0 0h1m23 0h1m11 0h1m14 0h1m9 0h1m8 0h1m17 0h1m72 0h1m-238 1h1m57 0h1m24 0h1m13 0h1m4 0h1m4 0h1m11 0h1m4 0h1m5 0h1m-1 0h1m4 0h1m24 0h1m67 0h1m-189 1h1m42 0h1m8 0h1m0 0h1m11 0h1m10 0h1m7 0h1m9 0h1m27 0h1m13 0h1m12 0h1m5 0h1m28 0h1m-206 1h1m29 0h1m7 0h1m24 0h1m9 0h1m0 0h1m24 0h1m3 0h1m7 0h1m1 0h1m1 0h1m18 0h1m12 0h1m2 0h1m7 0h1m3 0h1m8 0h1m0 0h1m-1 0h1m0 0h1m16 0h1m8 0h1m7 0h1m-151 1h1m18 0h1m11 0h1m11 0h1m4 0h1m13 0h1m49 0h1m2 0h1m0 0h1m2 0h1m2 0h1m7 0h1m-133 1h1m31 0h1m6 0h1m10 0h1m16 0h1m1 0h1m3 0h1m-1 0h1m4 0h1m24 0h1m6 0h1m6 0h1m3 0h1m8 0h1m3 0h1m2 0h1m-140 1h1m29 0h1m5 0h1m2 0h1m1 0h1m5 0h1m30 0h1m18 0h1m5 0h1m11 0h1m8 0h1m2 0h1m-79 1h1m2 0h1m4 0h1m1 0h1m-1 0h1m10 0h1m4 0h1m10 0h1m0 0h1m1 0h1m20 0h1m-73 1h1m22 0h1m2 0h1m8 0h1m6 0h1m12 0h1m4 0h1m1 0h1m2 0h1m24 0h1m2 0h1m4 0h1m26 0h1m-148 1h1m10 0h1m13 0h1m1 0h1m0 0h1m-1 0h1m16 0h1m8 0h1m20 0h1m6 0h1m4 0h1m0 0h1m9 0h1m0 0h1m4 0h1m0 0h1m2 0h1m6 0h1m-117 1h1m31 0h1m17 0h1m2 0h1m5 0h1m-1 0h1m2 0h1m-1 0h1m6 0h1m2 0h1m0 0h1m-1 0h1m5 0h1m2 0h1m3 0h1m32 0h1m-153 1h1m42 0h1m23 0h1m6 0h1m4 0h1m0 0h1m29 0h1m11 0h1m12 0h1m4 0h1m-88 1h1m17 0h1m18 0h1m-1 0h1m5 0h1m4 0h1m14 0h1m-92 1h1m30 0h1m2 0h1m1 0h1m5 0h1m3 0h1m0 0h1m17 0h1m7 0h1m5 0h1m4 0h1m4 0h1m2 0h1m3 0h1m19 0h1m4 0h1m7 0h1m-133 1h1m8 0h1m17 0h1m24 0h1m6 0h1m3 0h1m1 0h1m3 0h1m9 0h1m15 0h1m16 0h1m8 0h1m-103 1h1m10 0h1m12 0h1m6 0h1m-1 0h1m1 0h1m0 0h1m9 0h1m17 0h1m8 0h1m3 0h1m0 0h1m0 0h1m14 0h1m21 0h1m-123 1h1m16 0h1m5 0h1m5 0h1m6 0h1m3 0h1m18 0h1m12 0h1m1 0h1m9 0h1m6 0h1m-52 1h1m21 0h1m2 0h1m17 0h1m12 0h1m0 0h1m0 0h1m3 0h1m1 0h1m-1 0h1m10 0h1m7 0h1m3 0h1m-102 1h1m2 0h1m4 0h1m16 0h1m13 0h1m1 0h1m4 0h1m12 0h1m-1 0h1m3 0h1m13 0h1m2 0h1m12 0h1m0 0h1m-90 1h1m13 0h1m2 0h1m1 0h1m2 0h1m7 0h1m23 0h1m23 0h1m-72 1h1m14 0h1m19 0h1m11 0h1m18 0h1m-67 1h1m1 0h1m-1 0h1m0 0h1m4 0h1m10 0h1m28 0h1m22 0h1m14 0h1m-83 1h1m32 0h1m0 0h1m3 0h1m0 0h1m-37 1h1m6 0h1m2 0h1m10 0h1m10 0h1m30 0h1m2 0h1m-14 1h1m-41 1h1m21 0h1m32 0h1m-11 1h1m-41 1h1m29 1h1m21 0h1m-28 1h1m16 0h1m-24 1h1m27 1h1m-4 1h1" stroke="#9400d3" stroke-width="1.5" stroke-linecap="square" fill="none"/>
</svg></body></html>
